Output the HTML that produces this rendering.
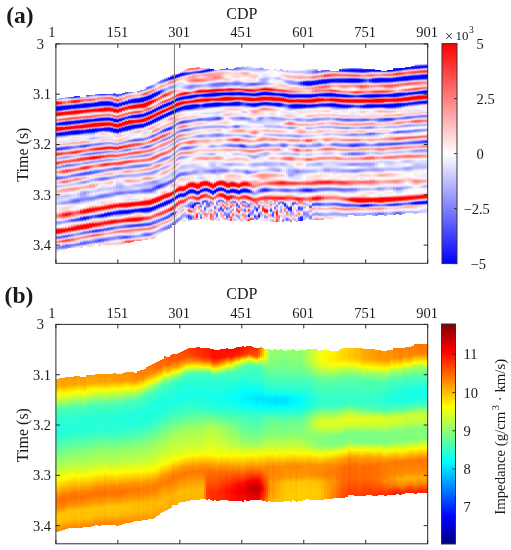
<!DOCTYPE html>
<html><head><meta charset="utf-8"><style>
html,body{margin:0;padding:0;background:#fff;width:511px;height:550px;overflow:hidden}
#da i,#db i{position:absolute;display:block}
</style></head><body>
<div id="da"><i style="left:56px;top:99px;width:3px;height:153px;background:linear-gradient(#8484ff 0px,#d8d8ff 1px,#ffacac 2px,#ff2626 3px,#f00 4px,#f00 5px,#ff8f8f 6px,#8080ff 7px,#00f 8px,#00f 11px,#6969ff 12px,#ff9696 13px,#f00 14px,#f00 16px,#ff5757 17px,#ffe6e6 18px,#fffbfb 19px,#ff6161 21px,#ff9191 22px,#e4e4ff 23px,#5050ff 24px,#00f 25px,#2121ff 26px,#c6c6ff 27px,#ff5252 28px,#f00 29px,#f00 31px,#ff3232 32px,#e1e1ff 33px,#2828ff 34px,#00f 35px,#00f 36px,#b3b3ff 38px,#fdfdff 40px,#fff1f1 41px,#f9f9ff 42px,#e0e0ff 43px,#f7f7ff 44px,#ffb3b3 46px,#ffcdcd 47px,#e1e1ff 48px,#6767ff 49px,#1616ff 50px,#44f 51px,#bbf 52px,#ffd2d2 53px,#ff5d5d 54px,#ff1414 55px,#ff3e3e 56px,#ffa9a9 57px,#efefff 58px,#a8a8ff 59px,#b5b5ff 60px,#f7f7ff 61px,#ffbdbd 62px,#ff6262 63px,#ff2c2c 64px,#ff5151 65px,#ffb4b4 66px,#d6d6ff 67px,#8585ff 68px,#8e8eff 69px,#ccf 70px,#fff6f6 71px,#ffb4b4 72px,#ff8787 73px,#ffa2a2 74px,#ffe5e5 75px,#e7e7ff 76px,#5d5dff 79px,#7070ff 80px,#fff6f6 82px,#ffc4c4 83px,#ffc0c0 84px,#ffe2e2 85px,#eaeaff 86px,#bbf 87px,#b7b7ff 88px,#e4e4ff 89px,#ffe9e9 90px,#ffb5b5 92px,#ffb4b4 93px,#ffecec 95px,#f2f2ff 96px,#c4c4ff 98px,#ceceff 100px,#e0e0ff 102px,#c0c0ff 104px,#c0c0ff 105px,#fbfbff 107px,#ffe5e5 109px,#fff5f5 112px,#fee 113px,#ffabab 115px,#ff7c7c 116px,#ff6d6d 117px,#fffcfc 121px,#a5a5ff 123px,#9292ff 124px,#f5f5ff 127px,#fff7f7 128px,#ffc5c5 129px,#ff4646 130px,#f00 131px,#f00 134px,#ff7e7e 135px,#ffe2e2 136px,#c2c2ff 137px,#6e6eff 138px,#6262ff 139px,#a4a4ff 140px,#fff 141px,#ffa3a3 142px,#ff8585 143px,#ffdede 145px,#fffbfb 146px,#8d8dff 148px,#7979ff 149px,#a4a4ff 150px,#e2e2ff 151px,#ffe7e7 152px)"></i>
<i style="left:59px;top:98px;width:3px;height:153px;background:linear-gradient(#88f 0px,#9b9bff 1px,#e7e7ff 2px,#ffb0b0 3px,#ff3939 4px,#ff0606 5px,#ff3a3a 6px,#ffe2e2 7px,#4343ff 8px,#00f 9px,#0101ff 12px,#c6c6ff 13px,#ff5c5c 14px,#f00 15px,#ff0505 17px,#ff9292 18px,#fdfdff 19px,#ffe6e6 20px,#ff8080 21px,#ff5959 22px,#ffc0c0 23px,#9797ff 24px,#0909ff 25px,#00f 26px,#2020ff 27px,#e6e6ff 28px,#ff2b2b 29px,#f00 30px,#f00 32px,#ff9494 33px,#9898ff 34px,#0202ff 35px,#0101ff 37px,#7272ff 38px,#c4c4ff 39px,#ebebff 40px,#fff7f7 41px,#fff1f1 42px,#dedeff 44px,#fff8f8 45px,#ffc5c5 46px,#ffbdbd 47px,#fee 48px,#b4b4ff 49px,#4949ff 50px,#2525ff 51px,#6f6fff 52px,#dcdcff 53px,#ffb8b8 54px,#ff4c4c 55px,#ff2727 56px,#ff6e6e 57px,#ffd9d9 58px,#c4c4ff 59px,#99f 60px,#fff0f0 62px,#ff5151 64px,#ff4848 65px,#ff9494 66px,#fffcfc 67px,#a8a8ff 68px,#8484ff 69px,#ababff 70px,#eaeaff 71px,#ffcfcf 72px,#ff8282 73px,#ff6464 74px,#ff9494 75px,#ffd7d7 76px,#fafaff 77px,#8282ff 79px,#6161ff 80px,#8a8aff 81px,#e4e4ff 82px,#ffc4c4 83px,#ff9797 84px,#ffa9a9 85px,#ffdede 86px,#e2e2ff 87px,#babaff 88px,#c9c9ff 89px,#fdfdff 90px,#ffb9b9 92px,#ffacac 93px,#ffd3d3 95px,#fff7f7 96px,#cbcbff 98px,#c6c6ff 100px,#e3e3ff 102px,#adadff 105px,#b6b6ff 106px,#fff 108px,#ffdbdb 110px,#ffe9e9 113px,#ffdede 114px,#ffb9b9 115px,#ff4c4c 117px,#ff4a4a 118px,#ffd8d8 121px,#fffdfd 122px,#9a9aff 124px,#99f 125px,#efefff 127px,#fbfbff 128px,#fff6f6 129px,#ffb9b9 130px,#ff2f2f 131px,#f00 132px,#f00 134px,#ff3535 135px,#ffadad 136px,#fefeff 137px,#a1a1ff 138px,#5a5aff 139px,#6e6eff 140px,#c7c7ff 141px,#ffcbcb 142px,#ff6f6f 143px,#f77 144px,#ffc2c2 145px,#fff6f6 146px,#dfdfff 147px,#7474ff 149px,#7a7aff 150px,#f6f6ff 152px)"></i>
<i style="left:62px;top:98px;width:3px;height:152px;background:linear-gradient(#9b9bff 0px,#bbf 1px,#f2f2ff 2px,#ffc3c3 3px,#ff6565 4px,#ff4646 5px,#ff9393 6px,#d5d5ff 7px,#2424ff 8px,#00f 9px,#00f 11px,#5050ff 12px,#ffeaea 13px,#ff3838 14px,#f00 15px,#f00 16px,#ff3c3c 17px,#ffc9c9 18px,#f4f4ff 19px,#ffc1c1 20px,#f55 21px,#ff6060 22px,#fdfdff 23px,#33f 24px,#00f 25px,#00f 26px,#2525ff 27px,#fffdfd 28px,#ff1818 29px,#f00 30px,#f00 31px,#ff2424 32px,#fff3f3 33px,#4d4dff 34px,#00f 35px,#00f 36px,#1919ff 37px,#8d8dff 38px,#d2d2ff 39px,#f5f5ff 40px,#fee 41px,#fff6f6 42px,#e3e3ff 43px,#e4e4ff 44px,#ffe5e5 45px,#fbb 46px,#ffcece 47px,#e8e8ff 48px,#3a3aff 50px,#4545ff 51px,#f6f6ff 53px,#ff4c4c 55px,#ff4d4d 56px,#f2f2ff 58px,#9a9aff 59px,#9696ff 60px,#dcdcff 61px,#ffd2d2 62px,#ff7878 63px,#ff4545 64px,#ff7a7a 65px,#fee 66px,#ababff 67px,#7878ff 68px,#9090ff 69px,#d1d1ff 70px,#ffeaea 71px,#ff4242 73px,#ff4949 74px,#ffcaca 76px,#fff6f6 77px,#c3c3ff 78px,#7c7cff 79px,#7474ff 80px,#b7b7ff 81px,#ffe0e0 82px,#ff8787 83px,#ff6a6a 84px,#ff9595 85px,#ffe0e0 86px,#d7d7ff 87px,#c1c1ff 88px,#e6e6ff 89px,#ffe1e1 90px,#ffb9b9 91px,#ffa5a5 92px,#ffa6a6 93px,#f8f8ff 96px,#bcbcff 98px,#d0d0ff 100px,#e6e6ff 102px,#a9a9ff 104px,#9a9aff 105px,#b0b0ff 106px,#dedeff 107px,#fff7f7 108px,#ffcfcf 110px,#ffd6d6 113px,#ffbebe 114px,#ff3a3a 116px,#ff1313 117px,#ff3030 118px,#ffadad 120px,#f3f3ff 122px,#b5b5ff 123px,#9696ff 124px,#b2b2ff 125px,#ebebff 126px,#fff6f6 127px,#ffefef 129px,#ffa6a6 130px,#ff2020 131px,#f00 132px,#f00 133px,#ff1f1f 134px,#ff8d8d 135px,#ffdede 136px,#ceceff 137px,#6d6dff 138px,#4e4eff 139px,#9393ff 140px,#fff9f9 141px,#ff7b7b 142px,#ff3c3c 143px,#ff7b7b 144px,#ffd8d8 145px,#e7e7ff 146px,#7171ff 148px,#5e5eff 149px,#8989ff 150px,#cdcdff 151px)"></i>
<i style="left:65px;top:97px;width:3px;height:152px;background:linear-gradient(#9f9fff 0px,#a1a1ff 1px,#d5d5ff 2px,#fff4f4 3px,#ff6e6e 5px,#ff7171 6px,#ffcdcd 7px,#a4a4ff 8px,#0c0cff 9px,#00f 11px,#0303ff 12px,#9d9dff 13px,#ffb3b3 14px,#ff1b1b 15px,#f00 16px,#ff0101 17px,#ffefef 19px,#fffefe 20px,#ff3b3b 22px,#ff8181 23px,#b7b7ff 24px,#00f 25px,#00f 27px,#55f 28px,#ffc8c8 29px,#ff0202 30px,#f00 32px,#ff7c7c 33px,#bbf 34px,#0d0dff 35px,#00f 37px,#4141ff 38px,#aaf 39px,#e0e0ff 40px,#fffefe 41px,#ffebeb 42px,#fdfdff 43px,#dcdcff 44px,#f0f0ff 45px,#ffb6b6 47px,#ffdfdf 48px,#ccf 49px,#6e6eff 50px,#3d3dff 51px,#6868ff 52px,#bebeff 53px,#fff0f0 54px,#ff9191 55px,#ff5252 56px,#ff7070 57px,#ffcbcb 58px,#ccf 59px,#8a8aff 60px,#acacff 61px,#fcfcff 62px,#ff5454 64px,#ff4747 65px,#ffa7a7 66px,#d6d6ff 67px,#7a7aff 68px,#6a6aff 69px,#f0f0ff 71px,#ffc3c3 72px,#ff5e5e 73px,#ff2929 74px,#ff5d5d 75px,#ffa9a9 76px,#ffd9d9 77px,#f3f3ff 78px,#a8a8ff 79px,#7979ff 80px,#9595ff 81px,#e4e4ff 82px,#ffb9b9 83px,#ff7171 84px,#ff6c6c 85px,#ffa5a5 86px,#fff6f6 87px,#cacaff 88px,#cdcdff 89px,#fff 90px,#ffa9a9 92px,#ff9c9c 93px,#ffabab 94px,#fee 96px,#e9e9ff 97px,#c6c6ff 98px,#b8b8ff 99px,#e6e6ff 102px,#dfdfff 103px,#9b9bff 105px,#9696ff 106px,#e8e8ff 108px,#ffeded 109px,#ffcdcd 111px,#ffd3d3 113px,#ffc8c8 114px,#ff9898 115px,#ff0707 117px,#ff0404 118px,#ffbdbd 121px,#fff1f1 122px,#9191ff 124px,#9595ff 125px,#fff8f8 127px,#ffe7e7 128px,#fee 129px,#ffd9d9 130px,#ff8383 131px,#ff0c0c 132px,#f00 133px,#ff0a0a 134px,#ffc2c2 136px,#f5f5ff 137px,#9696ff 138px,#4b4bff 139px,#6565ff 140px,#c9c9ff 141px,#ffb7b7 142px,#f44 143px,#ff4242 144px,#ffecec 146px,#cdcdff 147px,#8585ff 148px,#5757ff 149px,#6868ff 150px,#a9a9ff 151px)"></i>
<i style="left:68px;top:97px;width:3px;height:151px;background:linear-gradient(#6767ff 0px,#8181ff 1px,#d7d7ff 2px,#ffcdcd 3px,#ff7676 4px,#ff4141 5px,#ff7070 6px,#fee 7px,#7575ff 8px,#00f 9px,#00f 11px,#2c2cff 12px,#d3d3ff 13px,#ff7e7e 14px,#f00 15px,#ff0a0a 17px,#ff8f8f 18px,#fffdfd 19px,#ffdfdf 20px,#ff6c6c 21px,#ff3939 22px,#ffb2b2 23px,#7c7cff 24px,#00f 25px,#00f 27px,#a6a6ff 28px,#ff7d7d 29px,#f00 30px,#ff0505 32px,#ffc9c9 33px,#6262ff 34px,#00f 35px,#00f 37px,#d1d1ff 39px,#fcfcff 40px,#ffebeb 41px,#ffeaea 42px,#f0f0ff 43px,#dbdbff 44px,#fff9f9 45px,#ffbcbc 46px,#ffb3b3 47px,#ffeaea 48px,#bcbcff 49px,#66f 50px,#5151ff 51px,#8a8aff 52px,#d8d8ff 53px,#ffd0d0 54px,#ff6767 55px,#ff3d3d 56px,#f77 57px,#ffdede 58px,#bbf 59px,#9a9aff 60px,#d7d7ff 61px,#ffdada 62px,#ff4141 64px,#ff5c5c 65px,#ffcece 66px,#b8b8ff 67px,#7070ff 68px,#7a7aff 69px,#fffafa 71px,#ff4646 73px,#ff3e3e 74px,#ffd2d2 76px,#fcfcff 77px,#8484ff 79px,#8a8aff 80px,#cdcdff 81px,#ffe3e3 82px,#ff9f9f 83px,#ff8585 84px,#ffa0a0 85px,#ffdcdc 86px,#e1e1ff 87px,#c2c2ff 88px,#ffeded 90px,#ff9d9d 92px,#ff9a9a 93px,#fffbfb 96px,#c6c6ff 98px,#d2d2ff 100px,#d5d5ff 102px,#8989ff 105px,#9595ff 106px,#efefff 108px,#ffd8d8 110px,#ffe1e1 113px,#ffc3c3 114px,#ff2a2a 116px,#ff0b0b 117px,#ff2d2d 118px,#ffdbdb 121px,#d6d6ff 122px,#8282ff 123px,#66f 124px,#99f 125px,#e6e6ff 126px,#ffe6e6 127px,#ffd3d3 129px,#ffa0a0 130px,#ff3232 131px,#f00 132px,#f00 133px,#ff3636 134px,#ff9f9f 135px,#ffe8e8 136px,#cacaff 137px,#7474ff 138px,#5c5cff 139px,#9e9eff 140px,#fffafa 141px,#ff8383 142px,#ff4040 143px,#ff6e6e 144px,#fff5f5 146px,#bfbfff 147px,#77f 148px,#6262ff 149px,#8f8fff 150px)"></i>
<i style="left:71px;top:97px;width:3px;height:151px;background:linear-gradient(#2727ff 0px,#5c5cff 1px,#dadaff 2px,#ff9b9b 3px,#ff2525 4px,#ff0a0a 5px,#ff6a6a 6px,#efefff 7px,#4747ff 8px,#00f 9px,#00f 11px,#6464ff 12px,#ffebeb 13px,#ff3838 14px,#f00 15px,#f00 16px,#ff1616 17px,#ffa9a9 18px,#fffbfb 19px,#ffb8b8 20px,#ff4a4a 21px,#ff4b4b 22px,#ffe9e9 23px,#4646ff 24px,#00f 25px,#00f 26px,#2525ff 27px,#f8f8ff 28px,#ff3030 29px,#f00 30px,#f00 31px,#ff3c3c 32px,#e1e1ff 33px,#0909ff 34px,#00f 37px,#8585ff 38px,#f5f5ff 39px,#ffdada 41px,#ffefef 42px,#e1e1ff 43px,#dfdfff 44px,#ffe3e3 45px,#ffaeae 46px,#ffb7b7 47px,#fff5f5 48px,#6e6eff 50px,#7575ff 51px,#f7f7ff 53px,#ffa0a0 54px,#f33 55px,#ff2929 56px,#ff7e7e 57px,#fff0f0 58px,#b6b6ff 59px,#bdbdff 60px,#fff6f6 61px,#ff6060 63px,#ff3f3f 64px,#ff8080 65px,#fff4f4 66px,#a7a7ff 67px,#7b7bff 68px,#9a9aff 69px,#d7d7ff 70px,#ffe4e4 71px,#ff8484 72px,#f44 73px,#ff6868 74px,#ffbaba 75px,#fff8f8 76px,#c9c9ff 77px,#8282ff 78px,#6d6dff 79px,#adadff 80px,#fff2f2 81px,#ffa8a8 82px,#ff8c8c 83px,#ffa8a8 84px,#ffe0e0 85px,#e8e8ff 86px,#c3c3ff 87px,#c7c7ff 88px,#ededff 89px,#ffdfdf 90px,#ffb0b0 91px,#ff9494 92px,#ff9e9e 93px,#ffe7e7 95px,#fbfbff 96px,#d2d2ff 98px,#dfdfff 100px,#d2d2ff 101px,#7373ff 104px,#7575ff 105px,#c3c3ff 107px,#f5f5ff 108px,#ffdede 110px,#fff5f5 112px,#fee 113px,#ffc0c0 114px,#ff3636 116px,#ff3c3c 117px,#ffbdbd 120px,#fff 121px,#9898ff 122px,#4646ff 123px,#5151ff 124px,#fbfbff 126px,#ffd8d8 127px,#ffc8c8 128px,#ffa4a4 129px,#ff4646 130px,#f00 131px,#f00 133px,#ffc7c7 135px,#f4f4ff 136px,#acacff 137px,#7a7aff 138px,#9191ff 139px,#dbdbff 140px,#ffc9c9 141px,#ff6f6f 142px,#ff6464 143px,#fdfdff 146px,#aeaeff 147px,#7373ff 148px,#8080ff 149px,#c0c0ff 150px)"></i>
<i style="left:74px;top:96px;width:3px;height:152px;background:linear-gradient(#3b3bff 0px,#1414ff 1px,#6a6aff 2px,#fcfcff 3px,#ff6868 4px,#f00 5px,#ff0303 6px,#ff8585 7px,#c4c4ff 8px,#1b1bff 9px,#00f 10px,#0404ff 12px,#a0a0ff 13px,#ffa5a5 14px,#ff0101 15px,#f00 17px,#ff3838 18px,#ffcdcd 19px,#fff2f2 20px,#ff3939 22px,#ff7272 23px,#d6d6ff 24px,#0f0fff 25px,#00f 27px,#7171ff 28px,#ffbaba 29px,#ff0101 30px,#f00 32px,#ff7f7f 33px,#9191ff 34px,#00f 35px,#00f 38px,#a3a3ff 39px,#fff8f8 40px,#ffdada 41px,#ffd9d9 42px,#fffcfc 43px,#d6d6ff 44px,#e9e9ff 45px,#ffd2d2 46px,#ffacac 47px,#ffc5c5 48px,#f5f5ff 49px,#9f9fff 50px,#7575ff 51px,#9696ff 52px,#d3d3ff 53px,#ffdcdc 54px,#ff6868 55px,#ff1616 56px,#ff3b3b 57px,#ffa1a1 58px,#eef 59px,#b7b7ff 60px,#e1e1ff 61px,#fcc 62px,#ff4040 64px,#ff4d4d 65px,#ffabab 66px,#e6e6ff 67px,#9a9aff 68px,#8e8eff 69px,#f3f3ff 71px,#ffbebe 72px,#ff6767 73px,#ff5757 74px,#ffdede 76px,#e6e6ff 77px,#5f5fff 79px,#7676ff 80px,#d7d7ff 81px,#ffc2c2 82px,#ff8383 83px,#ff8989 84px,#f6f6ff 86px,#c9c9ff 87px,#bdbdff 88px,#fff 90px,#ffa5a5 92px,#ff9494 93px,#fff4f4 96px,#dadaff 99px,#e3e3ff 101px,#c5c5ff 102px,#6b6bff 104px,#5d5dff 105px,#7474ff 106px,#fafaff 109px,#ffe8e8 110px,#fffafa 113px,#ffe9e9 114px,#ff6d6d 116px,#ff4e4e 117px,#ffdada 121px,#d4d4ff 122px,#6767ff 123px,#3232ff 124px,#6262ff 125px,#c1c1ff 126px,#fff2f2 127px,#ffaeae 129px,#ff6363 130px,#ff0101 131px,#f00 133px,#ff1a1a 134px,#ff9a9a 135px,#ffeaea 136px,#d7d7ff 137px,#9e9eff 138px,#9595ff 139px,#fff4f4 141px,#ffa6a6 142px,#ff7979 143px,#ffdede 146px,#dedeff 147px,#8f8fff 148px,#7272ff 149px,#a0a0ff 150px,#e7e7ff 151px)"></i>
<i style="left:77px;top:96px;width:3px;height:152px;background:linear-gradient(#2424ff 0px,#3535ff 1px,#a8a8ff 2px,#ffcdcd 3px,#ff4c4c 4px,#ff0808 5px,#ff3737 6px,#ffc6c6 7px,#9090ff 8px,#0101ff 9px,#00f 11px,#2121ff 12px,#cfcfff 13px,#ff6f6f 14px,#f00 15px,#f00 17px,#fffbfb 19px,#ffeaea 20px,#ff7979 21px,#ff3f3f 22px,#ffacac 23px,#8e8eff 24px,#00f 25px,#0101ff 27px,#b8b8ff 28px,#ff7575 29px,#f00 30px,#f00 32px,#ffabab 33px,#6565ff 34px,#00f 35px,#00f 37px,#2c2cff 38px,#bcbcff 39px,#fffefe 40px,#ffe4e4 41px,#ffe2e2 42px,#f8f8ff 43px,#dbdbff 44px,#fffdfd 45px,#ffbdbd 46px,#ffa9a9 47px,#ffd3d3 48px,#d7d7ff 49px,#7d7dff 50px,#6c6cff 51px,#f4f4ff 53px,#ffabab 54px,#ff4343 55px,#ff2e2e 56px,#ff7c7c 57px,#ffe6e6 58px,#bebeff 59px,#bebeff 60px,#fff2f2 61px,#ff4e4e 63px,#ff2e2e 64px,#ff6969 65px,#ffd2d2 66px,#ceceff 67px,#9d9dff 68px,#b0b0ff 69px,#e5e5ff 70px,#ffd9d9 71px,#ff8080 72px,#ff4a4a 73px,#f77 74px,#ffc9c9 75px,#fafaff 76px,#6f6fff 78px,#5252ff 79px,#9090ff 80px,#f8f8ff 81px,#ffacac 82px,#ff8585 83px,#ffa8a8 84px,#ffefef 85px,#b1b1ff 87px,#bebeff 88px,#e7e7ff 89px,#fff1f1 90px,#ffa6a6 92px,#ffa6a6 93px,#fff4f4 95px,#c7c7ff 98px,#d0d0ff 101px,#6868ff 104px,#6c6cff 105px,#fdfdff 109px,#fff4f4 111px,#ffefef 113px,#ffc8c8 114px,#ff4343 116px,#ff4242 117px,#ffb5b5 119px,#ffe0e0 120px,#e7e7ff 121px,#3535ff 123px,#3232ff 124px,#d6d6ff 126px,#fee 127px,#ffc6c6 128px,#ff8989 129px,#ff1616 130px,#f00 131px,#f00 133px,#ffd8d8 135px,#e5e5ff 136px,#acacff 137px,#8b8bff 138px,#a7a7ff 139px,#e7e7ff 140px,#fcc 141px,#ff8c8c 142px,#ff9797 143px,#ffcbcb 144px,#ffeded 145px,#e7e7ff 146px,#6c6cff 148px,#7878ff 149px,#bebeff 150px,#fff2f2 151px)"></i>
<i style="left:80px;top:97px;width:3px;height:151px;background:linear-gradient(#6c6cff 0px,#eaeaff 1px,#ffa3a3 2px,#ff4e4e 3px,#ff4141 4px,#ff9292 5px,#e7e7ff 6px,#5353ff 7px,#00f 8px,#00f 10px,#3e3eff 11px,#f3f3ff 12px,#ff5252 13px,#f00 14px,#f00 15px,#ff2d2d 16px,#ffc5c5 17px,#e4e4ff 18px,#ffd9d9 19px,#ff5f5f 20px,#ff5252 21px,#ffeded 22px,#4646ff 23px,#00f 24px,#00f 25px,#3030ff 26px,#fffbfb 27px,#ff2a2a 28px,#f00 29px,#ff0202 31px,#ffc8c8 32px,#5757ff 33px,#00f 34px,#00f 36px,#7373ff 37px,#cfcfff 38px,#f7f7ff 39px,#ffecec 41px,#f5f5ff 42px,#efefff 43px,#ffdcdc 44px,#ffa6a6 45px,#ffa9a9 46px,#ffe7e7 47px,#a9a9ff 48px,#4d4dff 49px,#5d5dff 50px,#b6b6ff 51px,#ffecec 52px,#ff8585 53px,#ff4242 54px,#ff6767 55px,#ffc9c9 56px,#c9c9ff 57px,#8f8fff 58px,#ceceff 59px,#ffc7c7 60px,#ff6b6b 61px,#ff2727 62px,#ff3434 63px,#fffcfc 65px,#b1b1ff 66px,#a3a3ff 67px,#d7d7ff 68px,#ffe6e6 69px,#f33 71px,#ff3535 72px,#fff4f4 74px,#cfcfff 75px,#4949ff 77px,#5959ff 78px,#afafff 79px,#fee 80px,#ffa9a9 81px,#ffa2a2 82px,#ffd7d7 83px,#dedeff 84px,#a4a4ff 85px,#9a9aff 86px,#f5f5ff 88px,#ffbdbd 90px,#ffacac 91px,#ffbfbf 92px,#ffebeb 93px,#e1e1ff 94px,#b8b8ff 95px,#a4a4ff 97px,#b5b5ff 100px,#8585ff 102px,#7a7aff 103px,#b1b1ff 105px,#fff 108px,#fff9f9 111px,#ffcece 112px,#ff2323 114px,#ff0505 115px,#ff2121 116px,#fcc 118px,#eaeaff 119px,#3535ff 121px,#0d0dff 122px,#4040ff 123px,#e2e2ff 125px,#ffebeb 126px,#ffb4b4 127px,#ff4747 128px,#f00 129px,#ff0505 132px,#ffa8a8 133px,#eef 134px,#7b7bff 136px,#8080ff 137px,#fff2f2 139px,#ff9e9e 140px,#ff8181 141px,#fffefe 143px,#a2a2ff 145px,#6969ff 146px,#5b5bff 147px,#8b8bff 148px,#dbdbff 149px,#ffcfcf 150px)"></i>
<i style="left:83px;top:97px;width:3px;height:150px;background:linear-gradient(#9a9aff 0px,#ffecec 1px,#ff8f8f 2px,#ff5b5b 3px,#ff7676 4px,#ffd9d9 5px,#a2a2ff 6px,#1313ff 7px,#00f 8px,#00f 10px,#66f 11px,#ffe3e3 12px,#ff3c3c 13px,#f00 14px,#ff0303 15px,#ff7373 16px,#fffafa 17px,#e4e4ff 18px,#ffb3b3 19px,#ff4343 20px,#ff6f6f 21px,#d3d3ff 22px,#0b0bff 23px,#00f 25px,#7b7bff 26px,#ffa9a9 27px,#f00 28px,#f00 30px,#ff2e2e 31px,#fff7f7 32px,#4040ff 33px,#00f 34px,#00f 35px,#2b2bff 36px,#a2a2ff 37px,#dcdcff 38px,#fafaff 39px,#ffeded 40px,#f0f0ff 42px,#fffefe 43px,#ffc4c4 44px,#ff9d9d 45px,#ffb6b6 46px,#f4f4ff 47px,#7676ff 48px,#3030ff 49px,#6868ff 50px,#d0d0ff 51px,#ffcece 52px,#ff7272 53px,#ff5b5b 54px,#ffa1a1 55px,#f5f5ff 56px,#8b8bff 57px,#8080ff 58px,#ececff 59px,#ffa0a0 60px,#ff4242 61px,#ff1818 62px,#ff5353 63px,#ffc6c6 64px,#cbcbff 65px,#8d8dff 66px,#acacff 67px,#f9f9ff 68px,#ffb4b4 69px,#ff4949 70px,#ff0707 71px,#ff4949 72px,#ffc2c2 73px,#e9e9ff 74px,#5b5bff 76px,#3e3eff 77px,#7878ff 78px,#d5d5ff 79px,#ffd8d8 80px,#ffafaf 81px,#ffc2c2 82px,#fefeff 83px,#b8b8ff 84px,#8a8aff 85px,#9b9bff 86px,#d5d5ff 87px,#fff3f3 88px,#ffafaf 90px,#ffb3b3 91px,#fbfbff 93px,#9e9eff 95px,#9595ff 96px,#b1b1ff 99px,#8383ff 102px,#8d8dff 103px,#fbfbff 107px,#fdfdff 110px,#ffe3e3 111px,#ff8f8f 112px,#ff1b1b 113px,#f00 114px,#f00 115px,#ff2424 116px,#ffe7e7 118px,#b9b9ff 119px,#4b4bff 120px,#0303ff 121px,#0d0dff 122px,#b9b9ff 124px,#f2f2ff 125px,#ffd9d9 126px,#ff8282 127px,#ff0303 128px,#f00 131px,#ff3f3f 132px,#ffdcdc 133px,#c2c2ff 134px,#7c7cff 135px,#6060ff 136px,#9191ff 137px,#e5e5ff 138px,#ffbdbd 139px,#f77 140px,#ff9393 141px,#ffe3e3 142px,#e5e5ff 143px,#7979ff 145px,#5252ff 146px,#6b6bff 147px,#fafaff 149px)"></i>
<i style="left:86px;top:95px;width:3px;height:152px;background:linear-gradient(#4545ff 0px,#5959ff 1px,#bcbcff 2px,#ffd6d6 3px,#ff7e7e 4px,#ff5151 5px,#ff7a7a 6px,#ffeaea 7px,#8585ff 8px,#00f 9px,#0606ff 12px,#a4a4ff 13px,#ffa9a9 14px,#ff1414 15px,#f00 16px,#ff1b1b 17px,#ffa1a1 18px,#e6e6ff 19px,#f6f6ff 20px,#ff8b8b 21px,#ff3636 22px,#ff9393 23px,#a3a3ff 24px,#00f 25px,#0a0aff 27px,#d7d7ff 28px,#ff4f4f 29px,#f00 30px,#f00 32px,#ff7f7f 33px,#b5b5ff 34px,#0909ff 35px,#00f 37px,#b2b2ff 39px,#f6f6ff 41px,#fffbfb 42px,#d7d7ff 44px,#f8f8ff 45px,#ffc9c9 46px,#ffabab 47px,#ffcfcf 48px,#ceceff 49px,#5d5dff 50px,#4a4aff 51px,#fffbfb 53px,#ffa4a4 54px,#ff6161 55px,#ff7676 56px,#ffd3d3 57px,#bcbcff 58px,#6565ff 59px,#9393ff 60px,#ffeaea 61px,#ff7575 62px,#ff1b1b 63px,#ff1818 64px,#ff7b7b 65px,#fffafa 66px,#9e9eff 67px,#8787ff 68px,#cbcbff 69px,#ffe0e0 70px,#ff2828 72px,#ff2525 73px,#fff1f1 75px,#ccf 76px,#4040ff 78px,#4f4fff 79px,#f3f3ff 81px,#ffd3d3 82px,#ffcbcb 83px,#fff2f2 84px,#d8d8ff 85px,#a8a8ff 86px,#9d9dff 87px,#fff 89px,#ffacac 91px,#ffa2a2 92px,#ffe4e4 94px,#f0f0ff 95px,#a9a9ff 97px,#cbcbff 100px,#c4c4ff 101px,#8484ff 103px,#7b7bff 104px,#f1f1ff 108px,#fff0f0 110px,#ffe6e6 112px,#ffafaf 113px,#ff3e3e 114px,#f00 115px,#f00 117px,#ffbdbd 119px,#f4f4ff 120px,#2727ff 122px,#0909ff 123px,#4a4aff 124px,#ababff 125px,#ebebff 126px,#ffeded 127px,#ffb3b3 128px,#ff3c3c 129px,#f00 130px,#ff0606 133px,#ff9090 134px,#f7f7ff 135px,#9e9eff 136px,#5f5fff 137px,#6e6eff 138px,#c4c4ff 139px,#ffdada 140px,#ff8484 141px,#ff7676 142px,#ffc3c3 143px,#fafaff 144px,#a7a7ff 146px,#6c6cff 147px,#6161ff 148px,#d9d9ff 150px,#ffe2e2 151px)"></i>
<i style="left:89px;top:95px;width:3px;height:152px;background:linear-gradient(#6262ff 0px,#8585ff 1px,#ddf 2px,#ffc8c8 3px,#ff7474 4px,#ff4c4c 5px,#ff7979 6px,#fff0f0 7px,#7171ff 8px,#00f 9px,#00f 11px,#3f3fff 12px,#e8e8ff 13px,#ff6b6b 14px,#f00 15px,#f00 16px,#ff3939 17px,#ffcbcb 18px,#d3d3ff 19px,#ffefef 20px,#ff6b6b 21px,#ff3f3f 22px,#ffbfbf 23px,#7a7aff 24px,#00f 25px,#00f 26px,#5959ff 27px,#ffc2c2 28px,#ff0505 29px,#ff0303 32px,#ffd8d8 33px,#5454ff 34px,#00f 35px,#00f 37px,#6868ff 38px,#b6b6ff 39px,#ebebff 41px,#e9e9ff 42px,#c3c3ff 43px,#babaff 44px,#e7e7ff 45px,#fdd 46px,#ffc8c8 47px,#ffeded 48px,#6262ff 50px,#8484ff 51px,#e8e8ff 52px,#ffbcbc 53px,#ff6868 54px,#ff4848 55px,#ff8c8c 56px,#fff 57px,#8a8aff 58px,#5d5dff 59px,#b9b9ff 60px,#ffbdbd 61px,#ff3b3b 62px,#f00 63px,#ff1919 64px,#ffa0a0 65px,#d7d7ff 66px,#88f 67px,#a0a0ff 68px,#f3f3ff 69px,#ffbfbf 70px,#ff7373 71px,#ff4a4a 72px,#ff8383 73px,#ffdede 74px,#e4e4ff 75px,#6262ff 77px,#4343ff 78px,#77f 79px,#c9c9ff 80px,#fff2f2 81px,#ffdada 82px,#fff5f5 83px,#b7b7ff 85px,#afafff 86px,#cbcbff 87px,#fbfbff 88px,#ffacac 90px,#ff9696 91px,#ffa4a4 92px,#fff2f2 94px,#e8e8ff 95px,#cbcbff 96px,#c2c2ff 97px,#eaeaff 100px,#d5d5ff 101px,#7d7dff 103px,#7979ff 104px,#e3e3ff 107px,#fff8f8 109px,#ffdada 111px,#ffbdbd 112px,#ff6f6f 113px,#ff0404 114px,#f00 116px,#ff3737 117px,#ffa4a4 118px,#fee 119px,#ccf 120px,#7070ff 121px,#2e2eff 122px,#4848ff 123px,#f3f3ff 125px,#ffc9c9 127px,#ff8a8a 128px,#ff0909 129px,#ff0101 132px,#fdd 134px,#c9c9ff 135px,#6e6eff 136px,#4848ff 137px,#8c8cff 138px,#fff 139px,#ff9494 140px,#ff5d5d 141px,#ff9797 142px,#fff6f6 143px,#c5c5ff 145px,#6c6cff 147px,#8080ff 148px,#fffbfb 150px,#ffc1c1 151px)"></i>
<i style="left:92px;top:95px;width:3px;height:151px;background:linear-gradient(#7979ff 0px,#ababff 1px,#f9f9ff 2px,#ff7878 4px,#ff6565 5px,#ff9f9f 6px,#e4e4ff 7px,#44f 8px,#00f 9px,#00f 11px,#7b7bff 12px,#ffdcdc 13px,#ff3a3a 14px,#f00 15px,#f00 16px,#ff6060 17px,#fff7f7 18px,#d1d1ff 19px,#ffcaca 20px,#ff5353 21px,#ff6161 22px,#fffdfd 23px,#44f 24px,#00f 25px,#00f 26px,#a8a8ff 27px,#ff6969 28px,#f00 29px,#f00 31px,#ff3535 32px,#dbdbff 33px,#0a0aff 34px,#00f 36px,#0909ff 37px,#8585ff 38px,#c4c4ff 39px,#eaeaff 41px,#d6d6ff 42px,#aeaeff 43px,#b8b8ff 44px,#ececff 45px,#ffe8e8 46px,#ffe1e1 47px,#f1f1ff 48px,#9797ff 49px,#7373ff 50px,#b7b7ff 51px,#ffe4e4 52px,#ff2d2d 54px,#ff3b3b 55px,#ffa9a9 56px,#d4d4ff 57px,#6d6dff 58px,#7575ff 59px,#e7e7ff 60px,#ff8a8a 61px,#ff0505 62px,#f00 63px,#ff2f2f 64px,#ffcece 65px,#afafff 66px,#8787ff 67px,#c4c4ff 68px,#ffebeb 69px,#ff7a7a 71px,#ff8989 72px,#ffd3d3 73px,#f1f1ff 74px,#c8c8ff 75px,#55f 77px,#6161ff 78px,#f2f2ff 80px,#ffdcdc 81px,#ffe2e2 82px,#e9e9ff 83px,#b5b5ff 84px,#a3a3ff 85px,#bcbcff 86px,#ededff 87px,#ffe6e6 88px,#ffa2a2 90px,#ff9d9d 91px,#fafaff 94px,#cacaff 96px,#f2f2ff 99px,#e9e9ff 100px,#7b7bff 103px,#8686ff 104px,#d5d5ff 106px,#fafaff 108px,#ffebeb 110px,#ffcfcf 111px,#ff9a9a 112px,#ff3838 113px,#f00 114px,#ff1010 116px,#ff7e7e 117px,#ffd1d1 118px,#ededff 119px,#5454ff 121px,#4545ff 122px,#8989ff 123px,#e1e1ff 124px,#ffe8e8 125px,#ffb4b4 127px,#ff6e6e 128px,#f00 129px,#f00 131px,#ff5454 132px,#ffc1c1 133px,#ebebff 134px,#3434ff 136px,#3e3eff 137px,#b1b1ff 138px,#ffc8c8 139px,#ff5d5d 140px,#ff5a5a 141px,#ffc3c3 142px,#e7e7ff 143px,#77f 146px,#6b6bff 147px,#9f9fff 148px,#e6e6ff 149px,#ffdcdc 150px)"></i>
<i style="left:95px;top:94px;width:3px;height:151px;background:linear-gradient(#7070ff 0px,#7474ff 1px,#bdbdff 2px,#ffeded 3px,#ffa7a7 4px,#ff8181 5px,#f99 6px,#ffefef 7px,#8c8cff 8px,#0606ff 9px,#00f 11px,#0d0dff 12px,#ababff 13px,#ffb0b0 14px,#ff1a1a 15px,#f00 16px,#f00 17px,#ff7676 18px,#f7f7ff 19px,#f0f0ff 20px,#ff4a4a 22px,#ff9d9d 23px,#a9a9ff 24px,#0505ff 25px,#0404ff 27px,#e0e0ff 28px,#ff2727 29px,#f00 30px,#f00 32px,#ff7070 33px,#acacff 34px,#00f 35px,#00f 37px,#5757ff 38px,#c7c7ff 39px,#f1f1ff 40px,#f3f3ff 42px,#b5b5ff 44px,#fff1f1 46px,#ffe0e0 47px,#fff6f6 48px,#c9c9ff 49px,#7b7bff 50px,#7f7fff 51px,#d3d3ff 52px,#ffc7c7 53px,#f55 54px,#ff0a0a 55px,#ff4545 56px,#ffcaca 57px,#adadff 58px,#6161ff 59px,#9696ff 60px,#fff1f1 61px,#ff5f5f 62px,#f00 63px,#f00 64px,#ff6c6c 65px,#f8f8ff 66px,#9191ff 67px,#99f 68px,#eaeaff 69px,#ffcdcd 70px,#ff9292 71px,#ff7b7b 72px,#ffabab 73px,#fee 74px,#e5e5ff 75px,#7272ff 77px,#5c5cff 78px,#8e8eff 79px,#d8d8ff 80px,#ffe5e5 81px,#ffcfcf 82px,#fff5f5 83px,#9595ff 85px,#9191ff 86px,#f6f6ff 88px,#ffbcbc 91px,#ffe2e2 93px,#fdfdff 94px,#c8c8ff 96px,#c5c5ff 97px,#ebebff 99px,#e8e8ff 100px,#7e7eff 103px,#8080ff 104px,#eef 107px,#fff1f1 109px,#fee 111px,#ffcdcd 112px,#ff7f7f 113px,#ff0f0f 114px,#ff0101 116px,#faa 118px,#ffe0e0 119px,#d6d6ff 120px,#6e6eff 121px,#2626ff 122px,#4040ff 123px,#f0f0ff 125px,#ffcdcd 127px,#ffa6a6 128px,#ff0101 130px,#f00 131px,#ff3131 132px,#ff9595 133px,#ffe5e5 134px,#c4c4ff 135px,#5656ff 136px,#1b1bff 137px,#5d5dff 138px,#e2e2ff 139px,#ff9797 140px,#ff4848 141px,#ff7e7e 142px,#ffeaea 143px,#d5d5ff 144px,#5454ff 147px,#6c6cff 148px,#fafaff 150px)"></i>
<i style="left:98px;top:94px;width:3px;height:152px;background:linear-gradient(#3838ff 0px,#5a5aff 1px,#c1c1ff 2px,#ffd6d6 3px,#ff8e8e 4px,#ff8686 5px,#ffcaca 6px,#b9b9ff 7px,#2727ff 8px,#00f 9px,#00f 11px,#3636ff 12px,#ddf 13px,#ff7d7d 14px,#ff0101 15px,#f00 17px,#fffbfb 19px,#ffdede 20px,#ff7878 21px,#ff5b5b 22px,#ffe6e6 23px,#5353ff 24px,#00f 25px,#00f 26px,#2626ff 27px,#ffebeb 28px,#ff0202 29px,#f00 32px,#ffb2b2 33px,#8585ff 34px,#00f 35px,#00f 36px,#2121ff 37px,#b2b2ff 38px,#fff2f2 39px,#ffdbdb 40px,#ffe4e4 41px,#fcfcff 42px,#cfcfff 43px,#ccf 44px,#fff9f9 45px,#ffcbcb 46px,#ffd6d6 47px,#f4f4ff 48px,#a4a4ff 49px,#6d6dff 50px,#9393ff 51px,#ececff 52px,#ffabab 53px,#ff2f2f 54px,#ff0404 55px,#ff6363 56px,#fee 57px,#8e8eff 58px,#6a6aff 59px,#b8b8ff 60px,#ffd1d1 61px,#ff4646 62px,#f00 63px,#ff3030 64px,#fbb 65px,#c1c1ff 66px,#8686ff 67px,#b9b9ff 68px,#ffefef 69px,#ff5f5f 71px,#ff6161 72px,#fff0f0 74px,#dfdfff 75px,#6767ff 77px,#7a7aff 78px,#fff9f9 80px,#ffc9c9 81px,#ffd3d3 82px,#ebebff 83px,#a0a0ff 84px,#7171ff 85px,#8080ff 86px,#f7f7ff 88px,#fdd 90px,#fff8f8 92px,#bfbfff 96px,#ededff 99px,#d5d5ff 100px,#7373ff 102px,#6d6dff 103px,#e5e5ff 106px,#fff6f6 107px,#ffdede 108px,#ffe9e9 111px,#ffbfbf 112px,#f00 114px,#f00 115px,#ff3232 116px,#ff9696 117px,#fff1f1 119px,#aeaeff 120px,#2e2eff 121px,#0101ff 122px,#3131ff 123px,#9d9dff 124px,#ebebff 125px,#ffe7e7 126px,#ffc6c6 127px,#ff8c8c 128px,#ff3838 129px,#ff0202 130px,#ff1919 131px,#fffafa 134px,#3939ff 136px,#3535ff 137px,#9a9aff 138px,#ffe9e9 139px,#ff7b7b 140px,#ff6464 141px,#ffb7b7 142px,#f7f7ff 143px,#55f 146px,#4a4aff 147px,#7d7dff 148px,#c8c8ff 149px,#fff3f3 150px,#ffbfbf 151px)"></i>
<i style="left:101px;top:94px;width:3px;height:151px;background:linear-gradient(#0f0fff 0px,#5151ff 1px,#ceceff 2px,#ffbebe 3px,#ff7474 4px,#ff7f7f 5px,#ffe1e1 6px,#8686ff 7px,#00f 8px,#00f 11px,#5f5fff 12px,#ffe6e6 13px,#ff3535 14px,#f00 15px,#ff0101 17px,#ff9595 18px,#fee 19px,#fbb 20px,#ff6c6c 21px,#ff8080 22px,#e0e0ff 23px,#2727ff 24px,#00f 25px,#00f 26px,#6262ff 27px,#ffb7b7 28px,#f00 29px,#f00 31px,#ff2424 32px,#fffdfd 33px,#4949ff 34px,#00f 35px,#00f 36px,#5353ff 37px,#ddf 38px,#ffd8d8 39px,#ffc7c7 40px,#ffd4d4 41px,#fcfcff 42px,#cfcfff 43px,#e1e1ff 44px,#ffdede 45px,#ffbebe 46px,#ffdcdc 47px,#e1e1ff 48px,#9595ff 49px,#7e7eff 50px,#fff0f0 52px,#ff0a0a 54px,#ff1414 55px,#ff8f8f 56px,#e6e6ff 57px,#7b7bff 58px,#8686ff 59px,#dedeff 60px,#ffb0b0 61px,#ff3939 62px,#ff1c1c 63px,#ff7a7a 64px,#fffbfb 65px,#9c9cff 66px,#9292ff 67px,#dcdcff 68px,#ffc9c9 69px,#ff6565 70px,#ff2323 71px,#ff5454 72px,#ffbaba 73px,#fffcfc 74px,#8a8aff 76px,#7474ff 77px,#a7a7ff 78px,#ededff 79px,#ffd7d7 80px,#ffbfbf 81px,#ffe4e4 82px,#cbcbff 83px,#7c7cff 84px,#5959ff 85px,#8282ff 86px,#cdcdff 87px,#fffcfc 88px,#ffe4e4 89px,#ffe1e1 90px,#fff5f5 91px,#c8c8ff 95px,#c8c8ff 96px,#eef 98px,#ebebff 99px,#8484ff 101px,#6262ff 102px,#7474ff 103px,#d6d6ff 105px,#f7f7ff 106px,#ffd7d7 108px,#ffe0e0 110px,#ffd6d6 111px,#ff9494 112px,#ff2121 113px,#f00 114px,#ff0505 115px,#ff7373 116px,#ffcaca 117px,#fee 118px,#d8d8ff 119px,#6161ff 120px,#0101ff 121px,#00f 122px,#4a4aff 123px,#b0b0ff 124px,#f2f2ff 125px,#ffdfdf 126px,#ffadad 127px,#ff1919 129px,#f11 130px,#ffd5d5 133px,#e1e1ff 134px,#7878ff 135px,#3a3aff 136px,#6a6aff 137px,#d4d4ff 138px,#ffc3c3 139px,#ff8080 140px,#ff9b9b 141px,#ffe4e4 142px,#e4e4ff 143px,#7878ff 145px,#5151ff 146px,#6565ff 147px,#e6e6ff 149px,#ffd9d9 150px)"></i>
<i style="left:104px;top:94px;width:3px;height:151px;background:linear-gradient(#0a0aff 0px,#5f5fff 1px,#e1e1ff 2px,#ffabab 3px,#f66 4px,#f77 5px,#ffe1e1 6px,#7e7eff 7px,#00f 8px,#00f 11px,#7b7bff 12px,#ffb7b7 13px,#ff0404 14px,#f00 16px,#ff1313 17px,#ffb2b2 18px,#fff1f1 19px,#ff6c6c 21px,#ff9696 22px,#d0d0ff 23px,#2d2dff 24px,#00f 25px,#00f 26px,#9090ff 27px,#ff9b9b 28px,#f00 29px,#f00 31px,#ff5d5d 32px,#cbcbff 33px,#1010ff 34px,#00f 36px,#4c4cff 37px,#d1d1ff 38px,#ffecec 39px,#ffd6d6 40px,#ffd8d8 41px,#fbfbff 42px,#d4d4ff 43px,#ededff 44px,#ffd6d6 45px,#ffc4c4 46px,#ffebeb 47px,#d4d4ff 48px,#9696ff 49px,#9797ff 50px,#d8d8ff 51px,#ffd0d0 52px,#ff5454 53px,#f00 54px,#ff3434 55px,#ffc0c0 56px,#bbf 57px,#7878ff 58px,#ababff 59px,#fff9f9 60px,#ff3636 62px,#ff4848 63px,#ffb3b3 64px,#d3d3ff 65px,#8b8bff 66px,#a8a8ff 67px,#f9f9ff 68px,#ffa3a3 69px,#ff3030 70px,#ff1313 71px,#ffd8d8 73px,#ebebff 74px,#8080ff 76px,#9090ff 77px,#d3d3ff 78px,#ffe7e7 79px,#ffbaba 80px,#ffbdbd 81px,#fff5f5 82px,#6e6eff 84px,#6565ff 85px,#ebebff 87px,#ffe5e5 88px,#ffd1d1 89px,#ffd5d5 90px,#fff0f0 91px,#f2f2ff 92px,#c9c9ff 95px,#eef 98px,#dcdcff 99px,#7575ff 101px,#6868ff 102px,#ebebff 105px,#fff9f9 106px,#fdd 108px,#ffdada 110px,#ffb2b2 111px,#f00 113px,#f00 114px,#ff2929 115px,#ff9e9e 116px,#ffebeb 117px,#d9d9ff 118px,#0a0aff 120px,#00f 121px,#1717ff 122px,#8282ff 123px,#d1d1ff 124px,#fffcfc 125px,#ffcbcb 126px,#ff2f2f 128px,#ff0202 129px,#ff2828 130px,#ffc8c8 132px,#fefeff 133px,#5353ff 135px,#4c4cff 136px,#9a9aff 137px,#fafaff 138px,#ffb2b2 139px,#ff9b9b 140px,#fffcfc 142px,#a1a1ff 144px,#6e6eff 145px,#6565ff 146px,#fff8f8 149px,#ffc3c3 150px)"></i>
<i style="left:107px;top:94px;width:3px;height:151px;background:linear-gradient(#2424ff 0px,#8080ff 1px,#fafaff 2px,#ff9b9b 3px,#ff5e5e 4px,#f77 5px,#ffe1e1 6px,#7e7eff 7px,#00f 8px,#00f 11px,#9d9dff 12px,#ff8e8e 13px,#f00 14px,#f00 16px,#ff3939 17px,#ffd7d7 18px,#fff8f8 19px,#ffa5a5 20px,#ff6565 21px,#ffa5a5 22px,#bfbfff 23px,#22f 24px,#00f 25px,#0202ff 26px,#afafff 27px,#ff7f7f 28px,#f00 29px,#f00 31px,#ff8787 32px,#9a9aff 33px,#00f 34px,#00f 36px,#3d3dff 37px,#bdbdff 38px,#f8f8ff 39px,#ffe1e1 41px,#f7f7ff 42px,#d7d7ff 43px,#f6f6ff 44px,#ffd4d4 45px,#ffd0d0 46px,#fffdfd 47px,#9393ff 49px,#aaf 50px,#f1f1ff 51px,#ffb0b0 52px,#ff3232 53px,#ff0101 54px,#ff6363 55px,#fff2f2 56px,#99f 57px,#8686ff 58px,#d4d4ff 59px,#ffcfcf 60px,#ff6969 61px,#ff3636 62px,#ff7171 63px,#ffe3e3 64px,#b0b0ff 65px,#8e8eff 66px,#c5c5ff 67px,#ffeaea 68px,#f22 70px,#ff4040 71px,#ffacac 72px,#fff9f9 73px,#9090ff 75px,#7e7eff 76px,#b2b2ff 77px,#fafaff 78px,#ffc5c5 79px,#ffabab 80px,#ffc6c6 81px,#f7f7ff 82px,#a9a9ff 83px,#7878ff 84px,#8d8dff 85px,#ceceff 86px,#fff4f4 87px,#ffcece 88px,#ffbfbf 89px,#ffe7e7 91px,#fcfcff 92px,#cacaff 94px,#c4c4ff 95px,#e2e2ff 97px,#e2e2ff 98px,#c4c4ff 99px,#6f6fff 101px,#7a7aff 102px,#fdfdff 105px,#ffe6e6 108px,#ffe3e3 109px,#ffc8c8 110px,#ff7c7c 111px,#ff0f0f 112px,#f00 114px,#fbb 116px,#f6f6ff 117px,#9898ff 118px,#1818ff 119px,#00f 120px,#0101ff 121px,#bcbcff 123px,#efefff 124px,#ffe8e8 125px,#ffacac 126px,#ff0505 128px,#f00 129px,#ff4545 130px,#ffa5a5 131px,#ffecec 132px,#cdcdff 133px,#7373ff 134px,#3f3fff 135px,#6a6aff 136px,#c2c2ff 137px,#ffe1e1 138px,#ffa3a3 139px,#ffb2b2 140px,#ffe5e5 141px,#f3f3ff 142px,#8e8eff 144px,#6e6eff 145px,#8282ff 146px,#efefff 148px,#ffc0c0 150px)"></i>
<i style="left:110px;top:94px;width:3px;height:151px;background:linear-gradient(#2f2fff 0px,#6b6bff 1px,#dedeff 2px,#ffb3b3 3px,#ff6565 4px,#ff5d5d 5px,#faa 6px,#cacaff 7px,#2a2aff 8px,#00f 9px,#00f 11px,#5c5cff 12px,#ffd6d6 13px,#ff1c1c 14px,#f00 15px,#f11 17px,#faa 18px,#fbfbff 19px,#ffcaca 20px,#ff7070 21px,#ff7a7a 22px,#f9f9ff 23px,#4343ff 24px,#00f 25px,#00f 26px,#4d4dff 27px,#ffd4d4 28px,#f11 29px,#f00 31px,#ff3b3b 32px,#e4e4ff 33px,#1616ff 34px,#00f 35px,#0a0aff 37px,#8484ff 38px,#dcdcff 39px,#fffdfd 40px,#ffe8e8 41px,#fff9f9 42px,#dfdfff 43px,#ebebff 44px,#ffdede 45px,#fcc 46px,#fff1f1 47px,#d1d1ff 48px,#99f 49px,#a3a3ff 50px,#e9e9ff 51px,#ffb9b9 52px,#ff3c3c 53px,#ff0404 54px,#ff6767 55px,#fff4f4 56px,#9f9fff 57px,#9696ff 58px,#e4e4ff 59px,#ffc1c1 60px,#ff5c5c 61px,#ff3a3a 62px,#ff8686 63px,#fff8f8 64px,#aaf 65px,#a2a2ff 66px,#dedeff 67px,#ffd4d4 68px,#ff6c6c 69px,#f33 70px,#ff7575 71px,#ffd4d4 72px,#ebebff 73px,#7272ff 75px,#8787ff 76px,#d0d0ff 77px,#ffe8e8 78px,#ffb9b9 79px,#ffb9b9 80px,#ffe4e4 81px,#dbdbff 82px,#9d9dff 83px,#8c8cff 84px,#ececff 86px,#ffe3e3 87px,#ffc4c4 88px,#ffc0c0 89px,#fff0f0 91px,#f4f4ff 92px,#c4c4ff 94px,#dedeff 97px,#d2d2ff 98px,#8282ff 100px,#7878ff 101px,#ededff 104px,#fff7f7 105px,#ffdbdb 109px,#ffa5a5 110px,#ff3f3f 111px,#f00 112px,#f00 113px,#ff2323 114px,#ff8f8f 115px,#ffe0e0 116px,#cfcfff 117px,#00f 119px,#00f 120px,#3b3bff 121px,#a2a2ff 122px,#ddf 123px,#fff 124px,#ffd1d1 125px,#ff7d7d 126px,#ff1515 127px,#f00 128px,#ff0808 129px,#ffc8c8 131px,#f1f1ff 132px,#5151ff 134px,#5050ff 135px,#f7f7ff 137px,#ffaeae 138px,#ff9595 139px,#fff6f6 141px,#e4e4ff 142px,#8383ff 144px,#7d7dff 145px,#dadaff 147px,#fff5f5 148px,#ffd0d0 149px,#ffcece 150px)"></i>
<i style="left:113px;top:93px;width:3px;height:152px;background:linear-gradient(#a3a3ff 0px,#5454ff 1px,#3d3dff 2px,#8383ff 3px,#ececff 4px,#ffb2b2 5px,#f66 6px,#f55 7px,#ff9b9b 8px,#d9d9ff 9px,#3636ff 10px,#00f 11px,#00f 13px,#7e7eff 14px,#ffbebe 15px,#ff0f0f 16px,#f00 18px,#ff2020 19px,#ffc1c1 20px,#fbfbff 21px,#ffb5b5 22px,#ff5656 23px,#ff7474 24px,#e5e5ff 25px,#1d1dff 26px,#00f 27px,#00f 28px,#5e5eff 29px,#ffadad 30px,#ff0202 31px,#f00 33px,#f44 34px,#ccf 35px,#0808ff 36px,#00f 38px,#0e0eff 39px,#9595ff 40px,#e9e9ff 41px,#fee 42px,#ffd7d7 43px,#ffeded 44px,#eef 45px,#fff8f8 46px,#ffc7c7 47px,#ffc8c8 48px,#fffdfd 49px,#b6b6ff 50px,#8e8eff 51px,#c6c6ff 52px,#ffd8d8 53px,#ff5f5f 54px,#f00 55px,#ff3a3a 56px,#ffcdcd 57px,#bebeff 58px,#9b9bff 59px,#dbdbff 60px,#fcc 61px,#ff6565 62px,#ff3c3c 63px,#f88 64px,#fff9f9 65px,#b4b4ff 66px,#b8b8ff 67px,#f4f4ff 68px,#ffbfbf 69px,#ff5959 70px,#ff3b3b 71px,#ffe2e2 73px,#d2d2ff 74px,#7e7eff 75px,#6060ff 76px,#e7e7ff 78px,#fdd 79px,#ffcaca 80px,#ffe3e3 81px,#e9e9ff 82px,#b6b6ff 83px,#9a9aff 84px,#aeaeff 85px,#f5f5ff 87px,#ffe8e8 89px,#fdfdff 91px,#c2c2ff 94px,#c3c3ff 96px,#ceceff 98px,#8c8cff 100px,#7b7bff 101px,#9292ff 102px,#e6e6ff 104px,#fcfcff 105px,#ffeded 109px,#ffc9c9 110px,#f77 111px,#ff0b0b 112px,#ff0505 114px,#ffd1d1 116px,#e7e7ff 117px,#9595ff 118px,#2c2cff 119px,#00f 120px,#1a1aff 121px,#7b7bff 122px,#c3c3ff 123px,#fffdfd 125px,#ffc0c0 126px,#f00 128px,#f00 129px,#ff3b3b 130px,#ffa8a8 131px,#fff2f2 132px,#cdcdff 133px,#7e7eff 134px,#5656ff 135px,#8585ff 136px,#ddf 137px,#ffc0c0 138px,#ff7d7d 139px,#ff9f9f 140px,#ffe2e2 141px,#f5f5ff 142px,#9d9dff 144px,#8080ff 145px,#9393ff 146px,#efefff 148px,#ffe6e6 149px,#ffcbcb 150px,#ffd4d4 151px)"></i>
<i style="left:116px;top:94px;width:3px;height:152px;background:linear-gradient(#7676ff 0px,#3c3cff 1px,#5252ff 2px,#fff9f9 4px,#ff8f8f 5px,#ff3d3d 6px,#ff4848 7px,#fbb 8px,#9f9fff 9px,#0101ff 10px,#00f 12px,#3030ff 13px,#e2e2ff 14px,#ff5353 15px,#f00 16px,#f00 18px,#fff8f8 20px,#ffd9d9 21px,#ff6969 22px,#ff3f3f 23px,#ffb5b5 24px,#7878ff 25px,#00f 26px,#00f 27px,#1616ff 28px,#f7f7ff 29px,#ff2525 30px,#f00 31px,#f00 33px,#fbb 34px,#3f3fff 35px,#00f 36px,#00f 38px,#5c5cff 39px,#dadaff 40px,#ffe8e8 41px,#ffc3c3 42px,#ffc2c2 43px,#fff3f3 44px,#fffcfc 45px,#ffcaca 46px,#ffb7b7 47px,#ffe6e6 48px,#c8c8ff 49px,#8c8cff 50px,#bcbcff 51px,#ffd7d7 52px,#ff5f5f 53px,#ff0101 54px,#ff2525 55px,#ffbebe 56px,#c7c7ff 57px,#9c9cff 58px,#d9d9ff 59px,#ffcdcd 60px,#ff6767 61px,#ff4141 62px,#ff9292 63px,#fdfdff 64px,#b7b7ff 65px,#cacaff 66px,#fff4f4 67px,#ffa4a4 68px,#ff3e3e 69px,#ff3535 70px,#ffe3e3 72px,#bebeff 73px,#66f 74px,#6565ff 75px,#f2f2ff 77px,#fdd 78px,#ffdfdf 79px,#f5f5ff 80px,#9898ff 82px,#9d9dff 83px,#f2f2ff 85px,#ededff 87px,#aeaeff 93px,#c7c7ff 96px,#b8b8ff 97px,#6f6fff 99px,#7878ff 100px,#e2e2ff 102px,#fff 103px,#fffdfd 107px,#ffecec 108px,#ffb4b4 109px,#ff4e4e 110px,#f00 111px,#f00 112px,#ff2323 113px,#ffa2a2 114px,#fdfdff 115px,#b4b4ff 116px,#0404ff 118px,#00f 119px,#3131ff 120px,#9191ff 121px,#c7c7ff 122px,#fff 124px,#ffb9b9 125px,#ff4d4d 126px,#ff0101 127px,#ff1414 128px,#ffd8d8 130px,#e9e9ff 131px,#7575ff 133px,#7171ff 134px,#b7b7ff 135px,#ffeded 136px,#ff8e8e 137px,#ff6f6f 138px,#fff7f7 140px,#e5e5ff 141px,#8b8bff 143px,#7d7dff 144px,#fafaff 147px,#ffc5c5 149px,#ffdbdb 151px)"></i>
<i style="left:119px;top:94px;width:3px;height:151px;background:linear-gradient(#3c3cff 0px,#4a4aff 1px,#f2f2ff 3px,#f77 5px,#ff6565 6px,#ffa5a5 7px,#ccf 8px,#2727ff 9px,#00f 10px,#00f 11px,#3e3eff 12px,#dbdbff 13px,#ff7c7c 14px,#f00 15px,#ff0808 17px,#ff7070 18px,#fee 19px,#ffdfdf 20px,#ff7979 21px,#ff4848 22px,#ffa4a4 23px,#a5a5ff 24px,#0505ff 25px,#00f 26px,#2323ff 27px,#efefff 28px,#ff3434 29px,#f00 30px,#f00 32px,#ff8d8d 33px,#6b6bff 34px,#00f 35px,#00f 37px,#4747ff 38px,#ccf 39px,#fff3f3 40px,#ffcaca 41px,#ffbaba 42px,#ffe0e0 43px,#fff3f3 44px,#ffb5b5 46px,#ffd7d7 47px,#dadaff 48px,#8f8fff 49px,#9797ff 50px,#f9f9ff 51px,#ff1616 53px,#ff0a0a 54px,#ff8484 55px,#e7e7ff 56px,#9292ff 57px,#b2b2ff 58px,#fff6f6 59px,#f99 60px,#ff5050 61px,#ff6d6d 62px,#ffd2d2 63px,#cdcdff 64px,#b2b2ff 65px,#e9e9ff 66px,#ffd1d1 67px,#ff2424 69px,#ff4a4a 70px,#fff2f2 72px,#6a6aff 74px,#8686ff 75px,#cdcdff 76px,#fff2f2 77px,#fcc 78px,#ffdfdf 79px,#e7e7ff 80px,#acacff 81px,#8e8eff 82px,#a5a5ff 83px,#ddf 84px,#fffcfc 85px,#f4f4ff 87px,#c2c2ff 90px,#a9a9ff 93px,#c4c4ff 96px,#adadff 97px,#6565ff 99px,#7d7dff 100px,#f6f6ff 102px,#fff3f3 104px,#fefeff 107px,#ffe2e2 108px,#ff9292 109px,#ff1414 110px,#f00 111px,#f00 112px,#ff3434 113px,#fbb 114px,#e5e5ff 115px,#9090ff 116px,#2323ff 117px,#00f 118px,#00f 119px,#3f3fff 120px,#a0a0ff 121px,#ceceff 122px,#fff0f0 124px,#ff9e9e 125px,#ff3636 126px,#ff0404 127px,#ff3737 128px,#fff6f6 130px,#6c6cff 133px,#88f 134px,#dadaff 135px,#ffc9c9 136px,#ff7676 137px,#ff7b7b 138px,#ffcaca 139px,#fcfcff 140px,#d6d6ff 141px,#6767ff 143px,#6868ff 144px,#dadaff 146px,#fff1f1 147px,#ffcaca 148px,#ffbdbd 149px,#ffcbcb 150px)"></i>
<i style="left:122px;top:93px;width:3px;height:151px;background:linear-gradient(#3f3fff 0px,#4545ff 1px,#f9f9ff 3px,#fbb 4px,#ff9494 5px,#ff9a9a 6px,#ffcaca 7px,#d7d7ff 8px,#4949ff 9px,#00f 10px,#00f 11px,#3f3fff 12px,#ddf 13px,#f88 14px,#ff0d0d 15px,#f00 16px,#ff1919 17px,#fff5f5 19px,#ffe4e4 20px,#ff8181 21px,#ff5252 22px,#ffa7a7 23px,#bdbdff 24px,#2424ff 25px,#00f 26px,#4343ff 27px,#fff5f5 28px,#ff2929 29px,#f00 30px,#f00 32px,#ff9191 33px,#7373ff 34px,#00f 35px,#00f 37px,#2f2fff 38px,#bfbfff 39px,#fff 40px,#ffdede 41px,#ffd1d1 42px,#fff2f2 43px,#fdfdff 44px,#fbb 46px,#ffd8d8 47px,#e3e3ff 48px,#9a9aff 49px,#9494ff 50px,#dfdfff 51px,#fbb 52px,#ff4e4e 53px,#ff1010 54px,#ff5b5b 55px,#ffecec 56px,#8c8cff 57px,#8080ff 58px,#ddf 59px,#ffc3c3 60px,#ff6d6d 61px,#ff5f5f 62px,#eef 64px,#ababff 65px,#c3c3ff 66px,#fff1f1 67px,#ff4242 69px,#ff3131 70px,#ffd4d4 72px,#eaeaff 73px,#9e9eff 74px,#7d7dff 75px,#adadff 76px,#f4f4ff 77px,#ffc7c7 78px,#ffabab 79px,#ffd0d0 80px,#eaeaff 81px,#afafff 82px,#9696ff 83px,#b1b1ff 84px,#e3e3ff 85px,#fff3f3 86px,#ffdada 87px,#ffd5d5 88px,#fee 89px,#efefff 90px,#b7b7ff 94px,#c6c6ff 97px,#7171ff 100px,#9393ff 101px,#d5d5ff 102px,#fff3f3 103px,#ffe5e5 104px,#f3f3ff 106px,#f4f4ff 108px,#ffdada 109px,#f00 111px,#f00 113px,#ff3d3d 114px,#ffc4c4 115px,#dedeff 116px,#7c7cff 117px,#0303ff 118px,#00f 120px,#b7b7ff 122px,#e7e7ff 123px,#fffafa 124px,#ffc6c6 125px,#ff0c0c 127px,#f00 128px,#ff4f4f 129px,#ffbfbf 130px,#ededff 131px,#7373ff 133px,#5c5cff 134px,#9494ff 135px,#f2f2ff 136px,#ffacac 137px,#ff6a6a 138px,#ff8989 139px,#fcc 140px,#fff4f4 141px,#d7d7ff 142px,#8383ff 143px,#4545ff 144px,#5858ff 145px,#fffefe 147px,#ffb6b6 148px,#ff9494 149px,#ffacac 150px)"></i>
<i style="left:125px;top:92px;width:3px;height:151px;background:linear-gradient(#5656ff 0px,#4848ff 1px,#9191ff 2px,#f3f3ff 3px,#ffbcbc 4px,#ff9090 5px,#ffa8a8 6px,#ffe8e8 7px,#cacaff 8px,#0505ff 10px,#00f 11px,#2727ff 12px,#b2b2ff 13px,#ffafaf 14px,#ff2929 15px,#f00 16px,#ff1b1b 17px,#fff4f4 19px,#fff0f0 20px,#ff9191 21px,#ff5353 22px,#ff9595 23px,#d3d3ff 24px,#4747ff 25px,#0909ff 26px,#55f 27px,#fff7f7 28px,#ff2d2d 29px,#f00 30px,#f00 32px,#ff6f6f 33px,#9191ff 34px,#00f 35px,#0808ff 38px,#9090ff 39px,#e8e8ff 40px,#ffeaea 41px,#fdd 42px,#fff 43px,#e3e3ff 44px,#fff8f8 45px,#ffcaca 46px,#ffd5d5 47px,#eaeaff 48px,#9f9fff 49px,#8a8aff 50px,#d2d2ff 51px,#ffd3d3 52px,#ff2a2a 54px,#ff3737 55px,#ffa6a6 56px,#c0c0ff 57px,#6060ff 58px,#9d9dff 59px,#fff8f8 60px,#ff9595 61px,#ff5959 62px,#ff8282 63px,#ffe2e2 64px,#c1c1ff 65px,#a3a3ff 66px,#dedeff 67px,#ffcdcd 68px,#ff6c6c 69px,#ff2626 70px,#ff5b5b 71px,#ffcaca 72px,#f6f6ff 73px,#8f8fff 75px,#8b8bff 76px,#c8c8ff 77px,#ffe7e7 78px,#ffa2a2 79px,#ff9797 80px,#fcc 81px,#ececff 82px,#b5b5ff 83px,#a3a3ff 84px,#e7e7ff 86px,#ffecec 87px,#fbb 88px,#ffa3a3 89px,#ffbaba 90px,#ffe6e6 91px,#f7f7ff 92px,#c9c9ff 95px,#c7c7ff 98px,#8c8cff 100px,#8282ff 101px,#adadff 102px,#f0f0ff 103px,#fdd 104px,#ffd9d9 105px,#fff8f8 106px,#e3e3ff 107px,#d9d9ff 108px,#ebebff 109px,#ffcfcf 110px,#ff4848 111px,#f00 112px,#f00 114px,#ff5252 115px,#ffcdcd 116px,#d8d8ff 117px,#00f 119px,#00f 121px,#cfcfff 123px,#fffcfc 124px,#ffd5d5 125px,#ff9494 126px,#ff3030 127px,#f00 128px,#f00 129px,#ffdbdb 131px,#d3d3ff 132px,#5050ff 134px,#5252ff 135px,#fff6f6 137px,#ff9090 138px,#f66 139px,#ffc4c4 141px,#ffe0e0 142px,#ddf 143px,#7878ff 144px,#3e3eff 145px,#6262ff 146px,#c6c6ff 147px,#fcc 148px,#ff7575 149px,#ff6060 150px)"></i>
<i style="left:128px;top:92px;width:3px;height:151px;background:linear-gradient(#5b5bff 0px,#8e8eff 1px,#e1e1ff 2px,#ffcbcb 3px,#ff9494 4px,#ff9d9d 5px,#ffebeb 6px,#afafff 7px,#4e4eff 8px,#0a0aff 9px,#00f 10px,#1a1aff 11px,#9696ff 12px,#fcc 13px,#ff2c2c 14px,#f00 15px,#f00 16px,#ff6060 17px,#ffe2e2 18px,#fffdfd 19px,#ff5151 21px,#ff7878 22px,#f1f1ff 23px,#4a4aff 24px,#0202ff 25px,#2828ff 26px,#d6d6ff 27px,#ff5e5e 28px,#f00 29px,#f00 31px,#ff2a2a 32px,#d1d1ff 33px,#0404ff 34px,#00f 37px,#c7c7ff 39px,#fffcfc 40px,#ffdbdb 41px,#fff4f4 42px,#e0e0ff 43px,#efefff 44px,#ffe0e0 45px,#ffd6d6 46px,#fafaff 47px,#a9a9ff 48px,#7070ff 49px,#a3a3ff 50px,#fff1f1 51px,#ff4545 53px,#ff2929 54px,#ff6b6b 55px,#ffe4e4 56px,#9494ff 57px,#7c7cff 58px,#d2d2ff 59px,#ffc7c7 60px,#ff6767 61px,#ff5656 62px,#ededff 64px,#a0a0ff 65px,#aaf 66px,#f8f8ff 67px,#ffaeae 68px,#ff4a4a 69px,#ff2e2e 70px,#fff1f1 72px,#dadaff 73px,#7d7dff 75px,#9292ff 76px,#d8d8ff 77px,#ffd6d6 78px,#ff9d9d 79px,#ffa4a4 80px,#ffdede 81px,#ddf 82px,#aeaeff 83px,#a8a8ff 84px,#ececff 86px,#ffe6e6 87px,#ffb1b1 88px,#ff9c9c 89px,#fafaff 92px,#d5d5ff 94px,#ceceff 97px,#a0a0ff 99px,#8181ff 100px,#8383ff 101px,#fbfbff 103px,#ffd5d5 104px,#ffd4d4 105px,#fff8f8 106px,#dedeff 107px,#d6d6ff 108px,#f2f2ff 109px,#ffb5b5 110px,#f22 111px,#f00 112px,#f00 114px,#ffe4e4 116px,#c0c0ff 117px,#4747ff 118px,#00f 119px,#00f 120px,#1b1bff 121px,#9393ff 122px,#e2e2ff 123px,#ffeded 124px,#ffbdbd 125px,#ff6d6d 126px,#ff0808 127px,#ff0202 129px,#fff0f0 131px,#bdbdff 132px,#7070ff 133px,#3838ff 134px,#5757ff 135px,#b6b6ff 136px,#ffdbdb 137px,#ff7a7a 138px,#ff6e6e 139px,#faa 140px,#ffe2e2 142px,#d9d9ff 143px,#7d7dff 144px,#5757ff 145px,#8484ff 146px,#e4e4ff 147px,#ffafaf 148px,#ff5a5a 149px,#ff5656 150px)"></i>
<i style="left:131px;top:92px;width:3px;height:150px;background:linear-gradient(#7474ff 0px,#fdfdff 2px,#ffbebe 3px,#ff9b9b 4px,#fbb 5px,#e1e1ff 6px,#5f5fff 7px,#00f 8px,#00f 10px,#3636ff 11px,#e4e4ff 12px,#ff5959 13px,#f00 14px,#f00 16px,#ff8c8c 17px,#fffafa 18px,#ffcfcf 19px,#ff6060 20px,#ff4141 21px,#ffbaba 22px,#88f 23px,#00f 24px,#00f 25px,#3838ff 26px,#fff 27px,#ff3838 28px,#f00 29px,#f00 31px,#ffabab 32px,#5050ff 33px,#00f 34px,#00f 36px,#4949ff 37px,#bfbfff 38px,#fbfbff 39px,#ffd9d9 40px,#ffcece 41px,#fffdfd 42px,#e0e0ff 43px,#f8f8ff 44px,#ffe9e9 45px,#fff5f5 46px,#d0d0ff 47px,#77f 48px,#5f5fff 49px,#bfbfff 50px,#ffcece 51px,#ff7575 52px,#ff3535 53px,#ff4f4f 54px,#ffa9a9 55px,#e8e8ff 56px,#9696ff 57px,#b0b0ff 58px,#fffafa 59px,#ff9494 60px,#f44 61px,#ff6161 62px,#fcc 63px,#c6c6ff 64px,#9191ff 65px,#bcbcff 66px,#fff3f3 67px,#ff4b4b 69px,#ff5454 70px,#ffb7b7 71px,#f6f6ff 72px,#8b8bff 74px,#7171ff 75px,#9d9dff 76px,#e6e6ff 77px,#ffd1d1 78px,#ffabab 79px,#ffbebe 80px,#fff4f4 81px,#a8a8ff 83px,#acacff 84px,#e7e7ff 86px,#ffeded 87px,#ffbaba 88px,#ffa6a6 89px,#ffbdbd 90px,#ffe8e8 91px,#ededff 92px,#cfcfff 93px,#cfcfff 95px,#d4d4ff 97px,#7a7aff 100px,#8989ff 101px,#f4f4ff 103px,#ffe4e4 104px,#ffdfdf 105px,#fffcfc 106px,#dfdfff 107px,#dadaff 108px,#fffafa 109px,#ff8e8e 110px,#ff0202 111px,#f00 113px,#ff2626 114px,#faa 115px,#fafaff 116px,#9c9cff 117px,#1e1eff 118px,#00f 119px,#0202ff 120px,#d4d4ff 122px,#fffafa 123px,#ffe0e0 124px,#ffadad 125px,#ff4949 126px,#f00 127px,#ff0a0a 129px,#ff8d8d 130px,#fffbfb 131px,#5454ff 133px,#2c2cff 134px,#6c6cff 135px,#d7d7ff 136px,#fbb 137px,#ff6e6e 138px,#ff8585 139px,#ffc3c3 140px,#fee 142px,#d3d3ff 143px,#8d8dff 144px,#7d7dff 145px,#aaf 146px,#fdfdff 147px,#ff9f9f 148px,#ff5656 149px)"></i>
<i style="left:134px;top:93px;width:3px;height:148px;background:linear-gradient(#c6c6ff 0px,#fff9f9 1px,#ffc3c3 2px,#ffaeae 3px,#ffd8d8 4px,#babaff 5px,#1919ff 6px,#00f 7px,#00f 9px,#5454ff 10px,#fcc 11px,#ff0505 12px,#f00 14px,#ff0e0e 15px,#ffbebe 16px,#fff9f9 17px,#ff3131 19px,#ff5151 20px,#fafaff 21px,#2727ff 22px,#00f 23px,#00f 24px,#4a4aff 25px,#fee 26px,#ff3434 27px,#f00 28px,#f00 29px,#ff3d3d 30px,#e1e1ff 31px,#0303ff 32px,#0909ff 35px,#b3b3ff 36px,#fff5f5 37px,#ffb8b8 39px,#ffc7c7 40px,#fffdfd 41px,#e8e8ff 42px,#fffefe 44px,#e7e7ff 45px,#5353ff 47px,#6767ff 48px,#dfdfff 49px,#ffadad 50px,#f55 51px,#ff3939 52px,#ff8181 53px,#ffe5e5 54px,#c0c0ff 55px,#a4a4ff 56px,#ddf 57px,#ffcbcb 58px,#ff6565 59px,#ff3737 60px,#ff8080 61px,#fff7f7 62px,#a4a4ff 63px,#9494ff 64px,#d7d7ff 65px,#ffe0e0 66px,#ff5959 68px,#ff7f7f 69px,#ffdada 70px,#e3e3ff 71px,#7373ff 73px,#7070ff 74px,#f7f7ff 76px,#ffcdcd 77px,#ffb8b8 78px,#ffd1d1 79px,#fbfbff 80px,#c3c3ff 81px,#a9a9ff 82px,#dfdfff 85px,#fff8f8 86px,#ffc6c6 87px,#ffafaf 88px,#ffc0c0 89px,#ffeded 90px,#e0e0ff 91px,#bcbcff 92px,#babaff 93px,#e2e2ff 95px,#d9d9ff 96px,#8a8aff 98px,#7e7eff 99px,#ececff 102px,#fff7f7 103px,#ffefef 104px,#f9f9ff 105px,#dedeff 106px,#e1e1ff 107px,#ffe1e1 108px,#ff6262 109px,#f00 110px,#f00 112px,#ff5e5e 113px,#ffd1d1 114px,#dadaff 115px,#0101ff 117px,#00f 118px,#2f2fff 119px,#c2c2ff 120px,#ffe7e7 121px,#ffd0d0 123px,#ff9a9a 124px,#ff2626 125px,#f00 126px,#f00 127px,#ff1b1b 128px,#ff9d9d 129px,#f9f9ff 130px,#3d3dff 132px,#3030ff 133px,#8b8bff 134px,#fdfdff 135px,#ff9c9c 136px,#ff6e6e 137px,#ffdada 139px,#fffbfb 141px,#9d9dff 143px,#9c9cff 144px,#ffefef 146px,#ff9393 147px)"></i>
<i style="left:137px;top:91px;width:3px;height:150px;background:linear-gradient(#6969ff 0px,#e2e2ff 2px,#ffdfdf 3px,#ffb6b6 4px,#fbb 5px,#fff 6px,#00f 8px,#00f 11px,#9b9bff 12px,#ff7070 13px,#f00 14px,#f00 16px,#ff4949 17px,#ffebeb 18px,#ffe9e9 19px,#ff7676 20px,#ff2a2a 21px,#ff8686 22px,#adadff 23px,#00f 24px,#00f 26px,#8c8cff 27px,#ffadad 28px,#ff0909 29px,#f00 31px,#ff8c8c 32px,#8b8bff 33px,#00f 34px,#00f 36px,#4d4dff 37px,#ebebff 38px,#ffd6d6 39px,#fbb 40px,#ffb3b3 41px,#fcfcff 43px,#f6f6ff 46px,#cdcdff 47px,#8282ff 48px,#4b4bff 49px,#88f 50px,#fffdfd 51px,#ff9292 52px,#ff4141 53px,#ff4a4a 54px,#ffacac 55px,#ebebff 56px,#a3a3ff 57px,#b2b2ff 58px,#fcfcff 59px,#ff4e4e 61px,#ff4b4b 62px,#ffafaf 63px,#dbdbff 64px,#8f8fff 65px,#a6a6ff 66px,#f2f2ff 67px,#ffcaca 68px,#ff8080 69px,#ff5e5e 70px,#ff9c9c 71px,#ffefef 72px,#d4d4ff 73px,#6767ff 75px,#7f7fff 76px,#c7c7ff 77px,#fff3f3 78px,#ffc2c2 79px,#ffbaba 80px,#fdd 81px,#ebebff 82px,#b7b7ff 83px,#adadff 84px,#eaeaff 87px,#fff2f2 88px,#ffcbcb 89px,#ffbcbc 90px,#ffcdcd 91px,#fff7f7 92px,#b6b6ff 94px,#b9b9ff 95px,#e2e2ff 97px,#d1d1ff 98px,#8080ff 100px,#8484ff 101px,#d9d9ff 103px,#f2f2ff 104px,#fff4f4 106px,#f6f6ff 107px,#e1e1ff 108px,#eef 109px,#ffc2c2 110px,#f33 111px,#f00 112px,#ff0303 114px,#ff8686 115px,#ffecec 116px,#bbf 117px,#4242ff 118px,#00f 119px,#00f 120px,#4c4cff 121px,#e5e5ff 122px,#ffd1d1 123px,#ffc4c4 125px,#ff8585 126px,#f11 127px,#f00 129px,#ff4545 130px,#ffb9b9 131px,#e4e4ff 132px,#7e7eff 133px,#2e2eff 134px,#4343ff 135px,#afafff 136px,#ffdede 137px,#ff8181 138px,#ff7474 139px,#ffbcbc 140px,#ffebeb 141px,#fff6f6 142px,#eef 143px,#bdbdff 144px,#a0a0ff 145px,#aeaeff 146px,#dadaff 147px,#ffdede 148px,#ff8b8b 149px)"></i>
<i style="left:140px;top:90px;width:2px;height:151px;background:linear-gradient(#7c7cff 0px,#8989ff 1px,#cacaff 2px,#ffeaea 3px,#ffa8a8 4px,#ff9090 5px,#ffbebe 6px,#cfcfff 7px,#2626ff 8px,#00f 9px,#0505ff 12px,#f2f2ff 13px,#f11 14px,#f00 16px,#f00 17px,#ff6161 18px,#ffe8e8 19px,#ffcdcd 20px,#ff6e6e 21px,#ff5656 22px,#ffd1d1 23px,#6d6dff 24px,#00f 25px,#00f 26px,#1313ff 27px,#dedeff 28px,#ff5252 29px,#f00 30px,#ff0404 32px,#ffcbcb 33px,#5252ff 34px,#00f 35px,#00f 37px,#8c8cff 38px,#fffefe 39px,#ffd3d3 40px,#ffc1c1 41px,#ffcece 42px,#fffdfd 43px,#efefff 44px,#fff7f7 45px,#ffeaea 46px,#fcfcff 47px,#c3c3ff 48px,#7575ff 49px,#5d5dff 50px,#ffefef 52px,#ff9191 53px,#ff4e4e 54px,#ff7272 55px,#ffdbdb 56px,#babaff 57px,#8686ff 58px,#bcbcff 59px,#ffe9e9 60px,#ff9191 61px,#ff5151 62px,#ff7373 63px,#ffdcdc 64px,#b8b8ff 65px,#8585ff 66px,#b4b4ff 67px,#fefeff 68px,#ff6f6f 70px,#ff6565 71px,#fffafa 73px,#ccf 74px,#8b8bff 75px,#6868ff 76px,#9595ff 77px,#e3e3ff 78px,#ffdada 79px,#ffb4b4 80px,#ffbfbf 81px,#ffeded 82px,#d6d6ff 83px,#a8a8ff 84px,#acacff 85px,#f4f4ff 87px,#fee 88px,#ffc9c9 90px,#fff1f1 92px,#eaeaff 93px,#b4b4ff 95px,#d7d7ff 98px,#bdbdff 99px,#7171ff 101px,#8080ff 102px,#dedeff 104px,#f8f8ff 105px,#fff0f0 107px,#fffdfd 108px,#ffefef 110px,#ff9595 111px,#ff0606 112px,#f00 114px,#ff1515 115px,#f99 116px,#fff9f9 117px,#9a9aff 118px,#0808ff 119px,#00f 121px,#3e3eff 122px,#d4d4ff 123px,#ffe8e8 124px,#ffc5c5 126px,#ff7a7a 127px,#ff1212 128px,#f00 129px,#ff1515 130px,#fdd 132px,#ccf 133px,#6969ff 134px,#2b2bff 135px,#5a5aff 136px,#cacaff 137px,#ffc6c6 138px,#ff7272 139px,#ff8080 140px,#ffcfcf 141px,#fffcfc 142px,#ebebff 143px,#99f 145px,#9797ff 146px,#f1f1ff 148px,#ffcece 149px,#ff9191 150px)"></i>
<i style="left:142px;top:90px;width:2px;height:150px;background:linear-gradient(#8484ff 0px,#a8a8ff 1px,#f0f0ff 2px,#ff7373 4px,#ff6e6e 5px,#ffc4c4 6px,#9c9cff 7px,#00f 8px,#00f 11px,#4040ff 12px,#ffb5b5 13px,#f00 14px,#f00 17px,#ffd0d0 19px,#ffb0b0 20px,#ff7575 21px,#ff8f8f 22px,#e9e9ff 23px,#3b3bff 24px,#00f 25px,#00f 26px,#5454ff 27px,#ffd5d5 28px,#ff0909 29px,#f00 31px,#ff2b2b 32px,#f6f6ff 33px,#2929ff 34px,#00f 35px,#00f 36px,#2323ff 37px,#b8b8ff 38px,#fff5f5 39px,#ffd5d5 40px,#ffcdcd 41px,#fee 42px,#ddf 43px,#e5e5ff 44px,#ffe9e9 45px,#ffd8d8 46px,#fffbfb 47px,#7474ff 49px,#7676ff 50px,#c3c3ff 51px,#ffecec 52px,#ff9a9a 53px,#ff6969 54px,#ff9e9e 55px,#f5f5ff 56px,#8c8cff 57px,#7171ff 58px,#c7c7ff 59px,#ffd5d5 60px,#ff8383 61px,#ff5e5e 62px,#ff9797 63px,#fff 64px,#a1a1ff 65px,#8383ff 66px,#fff9f9 68px,#ff6565 70px,#ff7070 71px,#fefeff 73px,#8383ff 75px,#6f6fff 76px,#acacff 77px,#fefeff 78px,#ffc2c2 79px,#faa 80px,#ffc7c7 81px,#fff 82px,#c2c2ff 83px,#9c9cff 84px,#ababff 85px,#dedeff 86px,#ffefef 87px,#ffc7c7 88px,#ffb3b3 89px,#ffc6c6 90px,#fff1f1 91px,#e8e8ff 92px,#b8b8ff 94px,#bfbfff 96px,#cbcbff 98px,#7b7bff 100px,#6363ff 101px,#7979ff 102px,#dcdcff 104px,#fafaff 105px,#fff0f0 108px,#fee 109px,#ffcbcb 110px,#f00 112px,#f00 114px,#ff2525 115px,#ffa2a2 116px,#fbfbff 117px,#00f 119px,#00f 121px,#2f2fff 122px,#bcbcff 123px,#f9f9ff 124px,#ffefef 125px,#ffc9c9 126px,#ff1c1c 128px,#ff0808 129px,#ff4c4c 130px,#ffafaf 131px,#fffdfd 132px,#b7b7ff 133px,#5c5cff 134px,#3030ff 135px,#6e6eff 136px,#dcdcff 137px,#ffb5b5 138px,#ff6b6b 139px,#ff8e8e 140px,#ffdfdf 141px,#f2f2ff 142px,#7474ff 145px,#8d8dff 146px,#ccf 147px,#fff6f6 148px,#ffc1c1 149px)"></i>
<i style="left:144px;top:89px;width:2px;height:151px;background:linear-gradient(#77f 0px,#99f 1px,#dbdbff 2px,#ffd3d3 3px,#ff7979 4px,#ff4747 5px,#ff7676 6px,#f3f3ff 7px,#22f 8px,#00f 9px,#0a0aff 12px,#f4f4ff 13px,#ff1919 14px,#f00 15px,#f00 17px,#ff1e1e 18px,#ff9e9e 19px,#ffa4a4 20px,#f77 21px,#ff8383 22px,#fff5f5 23px,#6d6dff 24px,#00f 25px,#00f 26px,#1f1fff 27px,#e3e3ff 28px,#ff3838 29px,#f00 30px,#f00 32px,#ffb5b5 33px,#6d6dff 34px,#00f 35px,#00f 36px,#1414ff 37px,#9393ff 38px,#f0f0ff 39px,#ffcdcd 41px,#fdd 42px,#e3e3ff 43px,#c5c5ff 44px,#f3f3ff 45px,#ffd6d6 46px,#ffd8d8 47px,#eef 48px,#a0a0ff 49px,#7474ff 50px,#a2a2ff 51px,#ececff 52px,#ffd2d2 53px,#ff9191 54px,#ff8b8b 55px,#ffdcdc 56px,#b5b5ff 57px,#5a5aff 58px,#7575ff 59px,#e5e5ff 60px,#ffb7b7 61px,#ff7070 62px,#ff7070 63px,#ffc0c0 64px,#d7d7ff 65px,#8989ff 66px,#8a8aff 67px,#cfcfff 68px,#ffecec 69px,#ff9b9b 70px,#ff5f5f 71px,#ff8383 72px,#ffd1d1 73px,#f5f5ff 74px,#7b7bff 76px,#7979ff 77px,#c3c3ff 78px,#ffe7e7 79px,#ffadad 80px,#ffa5a5 81px,#ffd2d2 82px,#ededff 83px,#b0b0ff 84px,#9494ff 85px,#aeaeff 86px,#e9e9ff 87px,#ffd9d9 88px,#ffa8a8 89px,#ff9a9a 90px,#f8f8ff 92px,#c9c9ff 93px,#acacff 95px,#cbcbff 98px,#bfbfff 99px,#6b6bff 101px,#5a5aff 102px,#7676ff 103px,#dbdbff 105px,#fcfcff 106px,#ffd7d7 110px,#ffa9a9 111px,#ff3c3c 112px,#f00 113px,#f00 115px,#ff3737 116px,#ffadad 117px,#ececff 118px,#5050ff 119px,#00f 120px,#00f 122px,#3030ff 123px,#aeaeff 124px,#e4e4ff 125px,#fffdfd 126px,#ffc9c9 127px,#ff2525 129px,#ff2a2a 130px,#ffd8d8 132px,#e6e6ff 133px,#5050ff 135px,#3737ff 136px,#8181ff 137px,#eef 138px,#ffa3a3 139px,#ff6969 140px,#ff9f9f 141px,#ffecec 142px,#e4e4ff 143px,#7272ff 145px,#5959ff 146px,#8989ff 147px,#dadaff 148px,#ffe2e2 149px,#ffb6b6 150px)"></i>
<i style="left:146px;top:87px;width:2px;height:153px;background:linear-gradient(#8585ff 0px,#5c5cff 1px,#7474ff 2px,#c2c2ff 3px,#ffe9e9 4px,#ff5454 6px,#ff5c5c 7px,#ffcbcb 8px,#6969ff 9px,#00f 10px,#00f 13px,#bebeff 14px,#ff2e2e 15px,#f00 16px,#f00 18px,#ff1e1e 19px,#ff9e9e 20px,#ffa6a6 21px,#ff5d5d 22px,#ff5252 23px,#ffc8c8 24px,#8282ff 25px,#0101ff 26px,#0c0cff 28px,#bdbdff 29px,#ff5f5f 30px,#f00 31px,#f00 33px,#ff7c7c 34px,#9595ff 35px,#00f 36px,#00f 38px,#8282ff 39px,#eaeaff 40px,#ffe8e8 41px,#ffc7c7 43px,#fffcfc 44px,#cbcbff 45px,#d9d9ff 46px,#fee 47px,#ffd9d9 48px,#fff8f8 49px,#7d7dff 51px,#8c8cff 52px,#d7d7ff 53px,#ffe3e3 54px,#ffa5a5 55px,#ff8686 56px,#ffb6b6 57px,#e5e5ff 58px,#7979ff 59px,#4c4cff 60px,#9c9cff 61px,#fff3f3 62px,#ff9595 63px,#ff6262 64px,#f88 65px,#ffe9e9 66px,#b1b1ff 67px,#7b7bff 68px,#9e9eff 69px,#e5e5ff 70px,#ffd5d5 71px,#ff8282 72px,#ff6060 73px,#ffe2e2 75px,#ebebff 76px,#7474ff 78px,#8484ff 79px,#d6d6ff 80px,#ffd5d5 81px,#ffa1a1 82px,#ffa7a7 83px,#ffdfdf 84px,#ddf 85px,#a4a4ff 86px,#9292ff 87px,#b5b5ff 88px,#f1f1ff 89px,#ff9b9b 91px,#ff9494 92px,#ffcaca 93px,#ececff 94px,#bbf 95px,#a7a7ff 97px,#cbcbff 100px,#b8b8ff 101px,#6060ff 103px,#5656ff 104px,#7979ff 105px,#dfdfff 107px,#fff 108px,#ffe2e2 111px,#fcc 112px,#ff9292 113px,#ff1a1a 114px,#f00 115px,#f00 117px,#ff4f4f 118px,#ffbdbd 119px,#d7d7ff 120px,#2a2aff 121px,#00f 122px,#00f 124px,#4949ff 125px,#b5b5ff 126px,#fffdfd 128px,#ffc1c1 129px,#ff6767 130px,#ff2a2a 131px,#ff4343 132px,#ffefef 134px,#d5d5ff 135px,#44f 137px,#3f3fff 138px,#9595ff 139px,#fffbfb 140px,#ff9191 141px,#ff6b6b 142px,#fff7f7 144px,#dbdbff 145px,#6262ff 147px,#5353ff 148px,#9090ff 149px,#e6e6ff 150px,#ffd5d5 151px,#ffadad 152px)"></i>
<i style="left:148px;top:86px;width:2px;height:153px;background:linear-gradient(#acacff 0px,#6262ff 1px,#5757ff 2px,#9d9dff 3px,#fdfdff 4px,#ffadad 5px,#ff7171 6px,#ff6b6b 7px,#ffb6b6 8px,#aeaeff 9px,#00f 10px,#00f 13px,#7474ff 14px,#ff7c7c 15px,#f00 16px,#f00 18px,#f22 19px,#ffb4b4 20px,#ffd3d3 21px,#ff7d7d 22px,#ff3a3a 23px,#ff8686 24px,#bebeff 25px,#0f0fff 26px,#00f 28px,#8d8dff 29px,#ff9191 30px,#f00 31px,#f00 33px,#ff4747 34px,#cbcbff 35px,#0e0eff 36px,#00f 38px,#5252ff 39px,#dadaff 40px,#ffe9e9 41px,#ffbcbc 43px,#f1f1ff 45px,#e7e7ff 46px,#fff2f2 47px,#ffdbdb 48px,#fff3f3 49px,#cfcfff 50px,#8484ff 51px,#7676ff 52px,#fff3f3 54px,#ff7575 56px,#ff8b8b 57px,#ffdfdf 58px,#b6b6ff 59px,#5f5fff 60px,#6f6fff 61px,#ceceff 62px,#ffcdcd 63px,#f77 64px,#ff6262 65px,#ffa3a3 66px,#f5f5ff 67px,#9c9cff 68px,#8686ff 69px,#fffbfb 71px,#f66 73px,#ff6363 74px,#ffe8e8 76px,#e9e9ff 77px,#7d7dff 79px,#99f 80px,#e8e8ff 81px,#ffc9c9 82px,#ff9d9d 83px,#ffb1b1 84px,#fff0f0 85px,#9898ff 87px,#9090ff 88px,#b7b7ff 89px,#f1f1ff 90px,#ff9d9d 92px,#ff9d9d 93px,#ffd6d6 94px,#e0e0ff 95px,#b2b2ff 96px,#a3a3ff 97px,#b6b6ff 99px,#cbcbff 101px,#b6b6ff 102px,#5757ff 104px,#5050ff 105px,#e0e0ff 108px,#fffefe 109px,#ffe1e1 112px,#ffc3c3 113px,#ff7a7a 114px,#f00 115px,#f00 118px,#fcc 120px,#c3c3ff 121px,#0d0dff 122px,#00f 125px,#c6c6ff 127px,#e9e9ff 128px,#fff6f6 129px,#ffb9b9 130px,#ff6363 131px,#ff3434 132px,#ff5a5a 133px,#fefeff 135px,#3e3eff 138px,#4e4eff 139px,#aeaeff 140px,#ffe1e1 141px,#ff7d7d 142px,#ff7070 143px,#fff9f9 145px,#dcdcff 146px,#6565ff 148px,#6161ff 149px,#efefff 151px,#ffd0d0 152px)"></i>
<i style="left:150px;top:85px;width:2px;height:154px;background:linear-gradient(#ddf 0px,#8989ff 1px,#5a5aff 2px,#8383ff 3px,#e0e0ff 4px,#ffbaba 5px,#ff7878 6px,#ff7878 7px,#ffc0c0 8px,#b9b9ff 9px,#1a1aff 10px,#00f 11px,#00f 13px,#5151ff 14px,#ffc2c2 15px,#ff0404 16px,#f00 18px,#ff3232 19px,#ffc9c9 20px,#fffafa 21px,#ff5b5b 23px,#ff7979 24px,#e7e7ff 25px,#2727ff 26px,#00f 27px,#00f 28px,#6d6dff 29px,#ffafaf 30px,#ff0202 31px,#f00 33px,#ff4040 34px,#ddf 35px,#1f1fff 36px,#00f 37px,#00f 38px,#2c2cff 39px,#c3c3ff 40px,#fee 41px,#ffb4b4 43px,#ffc2c2 44px,#ffeaea 45px,#fff2f2 46px,#ffc4c4 48px,#ffe3e3 49px,#d5d5ff 50px,#8181ff 51px,#6060ff 52px,#9e9eff 53px,#fcfcff 54px,#ff6060 56px,#ff6060 57px,#ffb5b5 58px,#e4e4ff 59px,#88f 60px,#7676ff 61px,#fff4f4 63px,#ff9c9c 64px,#ff6363 65px,#ff7e7e 66px,#ffd2d2 67px,#cdcdff 68px,#9696ff 69px,#b0b0ff 70px,#f1f1ff 71px,#ffc6c6 72px,#ff7575 73px,#ff4c4c 74px,#ff7b7b 75px,#ffc5c5 76px,#fff4f4 77px,#dcdcff 78px,#a6a6ff 79px,#9b9bff 80px,#cdcdff 81px,#ffecec 82px,#ffafaf 83px,#ff9e9e 84px,#ffcfcf 85px,#e6e6ff 86px,#aaf 87px,#8989ff 88px,#9797ff 89px,#f5f5ff 91px,#ffa4a4 93px,#ffb3b3 94px,#fff2f2 95px,#a1a1ff 97px,#99f 98px,#c6c6ff 101px,#c3c3ff 102px,#a3a3ff 103px,#4a4aff 105px,#5252ff 106px,#e6e6ff 109px,#fffcfc 110px,#fff0f0 112px,#ffdada 113px,#ffa0a0 114px,#ff2f2f 115px,#f00 116px,#f00 118px,#ff1b1b 119px,#ff9797 120px,#fff5f5 121px,#8686ff 122px,#00f 123px,#00f 125px,#2828ff 126px,#a7a7ff 127px,#e0e0ff 128px,#fbfbff 129px,#fdd 130px,#ff5353 132px,#ff4b4b 133px,#ff8d8d 134px,#ffe1e1 135px,#dfdfff 136px,#5f5fff 138px,#3f3fff 139px,#7878ff 140px,#e4e4ff 141px,#ffa7a7 142px,#f66 143px,#ff8c8c 144px,#ffd4d4 145px,#fffefe 146px,#d4d4ff 147px,#9696ff 148px,#6f6fff 149px,#8484ff 150px,#fff9f9 152px,#ffc1c1 153px)"></i>
<i style="left:152px;top:84px;width:2px;height:155px;background:linear-gradient(#fbfbff 0px,#8181ff 2px,#8989ff 3px,#cacaff 4px,#ffd7d7 5px,#ff8484 6px,#ff7676 7px,#ffc1c1 8px,#b8b8ff 9px,#1c1cff 10px,#00f 11px,#00f 13px,#5b5bff 14px,#ffe7e7 15px,#ff3a3a 16px,#f00 17px,#ff0505 18px,#ff5858 19px,#ffdcdc 20px,#f6f6ff 21px,#ffc7c7 22px,#ff7c7c 23px,#ff9898 24px,#ddf 25px,#2c2cff 26px,#00f 27px,#00f 28px,#6767ff 29px,#fbb 30px,#ff0909 31px,#f00 33px,#ff5454 34px,#cacaff 35px,#1717ff 36px,#00f 37px,#00f 38px,#2a2aff 39px,#babaff 40px,#fff3f3 41px,#ffb7b7 43px,#ffbfbf 44px,#ffdcdc 45px,#ffd4d4 46px,#ffaeae 47px,#ffa1a1 48px,#ffc7c7 49px,#e9e9ff 50px,#8484ff 51px,#5050ff 52px,#8383ff 53px,#e8e8ff 54px,#ffacac 55px,#ff4b4b 56px,#ff3b3b 57px,#ff9191 58px,#fcfcff 59px,#a3a3ff 60px,#8b8bff 61px,#fffcfc 63px,#ff7878 65px,#ff7979 66px,#f0f0ff 68px,#b1b1ff 69px,#b8b8ff 70px,#efefff 71px,#ffcaca 72px,#ff7373 73px,#ff3e3e 74px,#ff6363 75px,#ffafaf 76px,#ffe6e6 77px,#ececff 78px,#bcbcff 79px,#b1b1ff 80px,#dfdfff 81px,#ffe3e3 82px,#ffb3b3 83px,#ff9a9a 84px,#ffb9b9 85px,#fbfbff 86px,#b3b3ff 87px,#8b8bff 88px,#8d8dff 89px,#d0d0ff 91px,#fffcfc 92px,#ffc8c8 93px,#ffb8b8 94px,#ffd9d9 95px,#e9e9ff 96px,#b0b0ff 97px,#9191ff 98px,#9494ff 99px,#bdbdff 101px,#b7b7ff 102px,#9e9eff 103px,#5151ff 105px,#5252ff 106px,#eef 110px,#fffafa 112px,#ffefef 113px,#ffb8b8 114px,#ff4141 115px,#f00 116px,#ff0808 119px,#ff8282 120px,#ffe1e1 121px,#b6b6ff 122px,#1b1bff 123px,#00f 124px,#00f 125px,#1919ff 126px,#9494ff 127px,#d9d9ff 128px,#fbfbff 129px,#fdd 130px,#ff6464 132px,#ff5353 133px,#ff8787 134px,#ffd8d8 135px,#e8e8ff 136px,#7373ff 138px,#4848ff 139px,#6464ff 140px,#bbf 141px,#ffcdcd 142px,#ff6c6c 143px,#ff7a7a 144px,#ffbfbf 145px,#ffebeb 146px,#f0f0ff 147px,#8c8cff 149px,#8e8eff 150px,#f4f4ff 152px,#ffafaf 154px)"></i>
<i style="left:154px;top:83px;width:2px;height:155px;background:linear-gradient(#f5f5ff 0px,#b1b1ff 2px,#b0b0ff 3px,#cdcdff 4px,#fff4f4 5px,#ffa9a9 6px,#f88 7px,#ffb8b8 8px,#ccf 9px,#2b2bff 10px,#00f 11px,#0101ff 13px,#6d6dff 14px,#fff9f9 15px,#ff7373 16px,#ff1e1e 17px,#ff2323 18px,#ff7676 19px,#ffe1e1 20px,#f8f8ff 21px,#ffcaca 22px,#ff8787 23px,#ffabab 24px,#c9c9ff 25px,#2626ff 26px,#00f 27px,#00f 28px,#6969ff 29px,#ffc6c6 30px,#ff1212 31px,#f00 33px,#ff6161 34px,#bdbdff 35px,#0c0cff 36px,#00f 38px,#2b2bff 39px,#bcbcff 40px,#fff6f6 41px,#ffbcbc 43px,#ffe1e1 45px,#fcc 46px,#ff9898 47px,#ff8686 48px,#ffb1b1 49px,#fffefe 50px,#9d9dff 51px,#5b5bff 52px,#7878ff 53px,#ceceff 54px,#ffc4c4 55px,#ff5050 56px,#ff2727 57px,#ff7373 58px,#ffe6e6 59px,#b7b7ff 60px,#9a9aff 61px,#fffbfb 63px,#ff9090 65px,#ff8787 66px,#ffb0b0 67px,#fff5f5 68px,#cbcbff 69px,#c4c4ff 70px,#ededff 71px,#ffd4d4 72px,#ff3737 74px,#ff5050 75px,#ff9f9f 76px,#ffd9d9 77px,#f4f4ff 78px,#bfbfff 79px,#aeaeff 80px,#e1e1ff 81px,#ffd1d1 82px,#ffa0a0 83px,#ff9191 84px,#ffa9a9 85px,#ffe4e4 86px,#cdcdff 87px,#9393ff 88px,#8e8eff 89px,#e4e4ff 92px,#ffefef 93px,#ffd2d2 94px,#ffd7d7 95px,#fff8f8 96px,#a3a3ff 98px,#8c8cff 99px,#b2b2ff 102px,#4545ff 105px,#5252ff 106px,#a4a4ff 108px,#f0f0ff 111px,#fffcfc 113px,#ffd6d6 114px,#f00 116px,#f00 119px,#ffd5d5 121px,#cfcfff 122px,#4f4fff 123px,#00f 124px,#00f 125px,#1616ff 126px,#7f7fff 127px,#c9c9ff 128px,#f0f0ff 129px,#ffe4e4 130px,#ff6363 132px,#ff5050 133px,#ff8282 134px,#ffd2d2 135px,#ededff 136px,#5757ff 139px,#6161ff 140px,#9d9dff 141px,#fdfdff 142px,#ff9292 143px,#ff7373 144px,#ffdfdf 146px,#fff 147px,#a4a4ff 149px,#9b9bff 150px,#f1f1ff 152px,#ffdede 153px,#ffb7b7 154px)"></i>
<i style="left:156px;top:82px;width:2px;height:154px;background:linear-gradient(#d9d9ff 0px,#bcbcff 1px,#bbf 2px,#f2f2ff 4px,#ffefef 5px,#ffc5c5 6px,#ffafaf 7px,#ffcdcd 8px,#d6d6ff 9px,#4949ff 10px,#00f 11px,#0f0fff 13px,#7e7eff 14px,#fffbfb 15px,#ff8c8c 16px,#ff4848 17px,#ff4949 18px,#ff8686 19px,#ffdbdb 20px,#fff8f8 21px,#ff8686 23px,#ffadad 24px,#c5c5ff 25px,#2323ff 26px,#00f 27px,#00f 28px,#7272ff 29px,#ffc3c3 30px,#ff1717 31px,#f00 32px,#f00 33px,#ff6464 34px,#bdbdff 35px,#0808ff 36px,#00f 38px,#2727ff 39px,#bbf 40px,#fffafa 41px,#ffc0c0 43px,#fff0f0 45px,#ffdbdb 46px,#ff9e9e 47px,#ff8282 48px,#ffa9a9 49px,#fffafa 50px,#a8a8ff 51px,#7272ff 52px,#8b8bff 53px,#cfcfff 54px,#ffd8d8 55px,#ff6a6a 56px,#ff3232 57px,#ff6767 58px,#ffd1d1 59px,#c9c9ff 60px,#9e9eff 61px,#fffafa 63px,#ff9b9b 65px,#ff9797 66px,#fff0f0 68px,#d8d8ff 69px,#ccf 70px,#eef 71px,#ffdede 72px,#f44 74px,#ff4b4b 75px,#ffd8d8 77px,#f9f9ff 78px,#bebeff 79px,#9898ff 80px,#c0c0ff 81px,#ffe6e6 82px,#ff9b9b 83px,#ff7e7e 84px,#ff9898 85px,#ffd1d1 86px,#ededff 87px,#afafff 88px,#9595ff 89px,#fffbfb 93px,#ffe7e7 94px,#f3f3ff 97px,#a3a3ff 99px,#9696ff 100px,#acacff 102px,#9696ff 103px,#2f2fff 105px,#3939ff 106px,#b3b3ff 108px,#d2d2ff 109px,#fefeff 113px,#ffe7e7 114px,#ff9292 115px,#ff0505 116px,#f00 119px,#ff4646 120px,#ffc5c5 121px,#dbdbff 122px,#6464ff 123px,#00f 124px,#00f 125px,#1818ff 126px,#7c7cff 127px,#bebeff 128px,#e3e3ff 129px,#fff4f4 130px,#ff6262 132px,#ff3d3d 133px,#ff6969 134px,#ffc1c1 135px,#f5f5ff 136px,#66f 139px,#6363ff 140px,#9595ff 141px,#dedeff 142px,#ffc1c1 143px,#ff8b8b 144px,#ffabab 145px,#fdd 146px,#fffbfb 147px,#aeaeff 149px,#a0a0ff 150px,#eaeaff 152px,#ffe4e4 153px)"></i>
<i style="left:158px;top:81px;width:2px;height:154px;background:linear-gradient(#c7c7ff 0px,#9494ff 1px,#8d8dff 2px,#fffafa 4px,#ffb5b5 6px,#ffb8b8 7px,#ffe3e3 8px,#d0d0ff 9px,#0202ff 11px,#00f 12px,#2424ff 13px,#9898ff 14px,#ffefef 15px,#ff8b8b 16px,#ff5353 17px,#ff5a5a 18px,#ffd1d1 20px,#ffe3e3 21px,#ff7c7c 23px,#ffacac 24px,#c3c3ff 25px,#2121ff 26px,#00f 27px,#00f 28px,#6f6fff 29px,#ffc1c1 30px,#ff1616 31px,#f00 32px,#f00 33px,#ff6161 34px,#cacaff 35px,#0f0fff 36px,#00f 38px,#22f 39px,#afafff 40px,#fcfcff 41px,#ffcaca 43px,#ffd7d7 44px,#fff7f7 45px,#fee 46px,#ffbaba 47px,#ff9b9b 48px,#ffb7b7 49px,#fdfdff 50px,#a0a0ff 51px,#6e6eff 52px,#9393ff 53px,#dfdfff 54px,#ffd1d1 55px,#f77 56px,#f44 57px,#ff6f6f 58px,#fcc 59px,#d1d1ff 60px,#9d9dff 61px,#c0c0ff 62px,#fffdfd 63px,#ff9191 65px,#ff8f8f 66px,#fff8f8 68px,#d1d1ff 69px,#c5c5ff 70px,#ebebff 71px,#ffe1e1 72px,#ff5353 74px,#ff5353 75px,#ffe3e3 77px,#f0f0ff 78px,#8c8cff 80px,#99f 81px,#e7e7ff 82px,#ffc0c0 83px,#ff8787 84px,#ff8c8c 85px,#f8f8ff 87px,#c5c5ff 88px,#ababff 89px,#babaff 90px,#fcfcff 92px,#ffdede 94px,#fffcfc 96px,#e3e3ff 98px,#b0b0ff 100px,#b2b2ff 102px,#a2a2ff 103px,#3131ff 105px,#2424ff 106px,#5959ff 107px,#a8a8ff 108px,#e0e0ff 109px,#fafaff 110px,#fffbfb 113px,#ffe9e9 114px,#faa 115px,#f22 116px,#f00 117px,#f00 119px,#ff3030 120px,#ffb0b0 121px,#eef 122px,#0303ff 124px,#0b0bff 126px,#7b7bff 127px,#c4c4ff 128px,#fefeff 130px,#ffc7c7 131px,#ff7373 132px,#ff3434 133px,#ff4848 134px,#fff2f2 136px,#d6d6ff 137px,#6e6eff 139px,#6161ff 140px,#9090ff 141px,#d9d9ff 142px,#ffd4d4 143px,#ffa3a3 144px,#fbfbff 147px,#adadff 149px,#9b9bff 150px,#b6b6ff 151px,#e4e4ff 152px,#ffecec 153px)"></i>
<i style="left:160px;top:80px;width:2px;height:153px;background:linear-gradient(#cbcbff 0px,#8383ff 1px,#5f5fff 2px,#8e8eff 3px,#e2e2ff 4px,#ffd1d1 5px,#ffa1a1 6px,#ffa1a1 7px,#ffd6d6 8px,#d9d9ff 9px,#3434ff 11px,#2020ff 12px,#5757ff 13px,#bbf 14px,#ffd4d4 15px,#ff7575 16px,#ff4545 17px,#ff5f5f 18px,#fdd 20px,#ffd9d9 21px,#ff9393 22px,#ff5f5f 23px,#ff9e9e 24px,#bcbcff 25px,#1b1bff 26px,#00f 27px,#00f 28px,#5959ff 29px,#ffcfcf 30px,#ff1a1a 31px,#f00 32px,#f00 33px,#ff6161 34px,#d6d6ff 35px,#1a1aff 36px,#00f 37px,#00f 38px,#2424ff 39px,#ababff 40px,#f4f4ff 41px,#ffd8d8 43px,#fffcfc 45px,#fff3f3 46px,#ffc8c8 47px,#ffb3b3 48px,#ffd4d4 49px,#e4e4ff 50px,#8c8cff 51px,#5858ff 52px,#7f7fff 53px,#d9d9ff 54px,#fcc 55px,#ff7070 56px,#ff4040 57px,#ff6e6e 58px,#ffd0d0 59px,#c9c9ff 60px,#8e8eff 61px,#b2b2ff 62px,#fafaff 63px,#ff8d8d 65px,#ff7d7d 66px,#ffa7a7 67px,#ffeded 68px,#ccf 69px,#b4b4ff 70px,#ffeded 72px,#ff5a5a 74px,#ff4e4e 75px,#ffefef 77px,#e0e0ff 78px,#8989ff 80px,#8585ff 81px,#fff3f3 83px,#ffb2b2 84px,#ff9c9c 85px,#ffc2c2 86px,#fdfdff 87px,#c5c5ff 88px,#adadff 89px,#c2c2ff 90px,#ededff 91px,#ffebeb 92px,#ffc0c0 94px,#fff4f4 96px,#c6c6ff 100px,#c6c6ff 102px,#b8b8ff 103px,#4d4dff 105px,#2b2bff 106px,#4747ff 107px,#cfcfff 109px,#fcfcff 110px,#ffdcdc 112px,#ffdfdf 114px,#ffb4b4 115px,#ff4545 116px,#f00 117px,#f00 119px,#ff3434 120px,#ffaeae 121px,#fdfdff 122px,#9090ff 123px,#0b0bff 124px,#00f 126px,#c4c4ff 128px,#fefeff 130px,#ffd3d3 131px,#ff3e3e 133px,#ff3737 134px,#ff7b7b 135px,#ffd2d2 136px,#ececff 137px,#7373ff 139px,#5858ff 140px,#8585ff 141px,#d4d4ff 142px,#ffd7d7 143px,#ffa2a2 144px,#ffbebe 145px,#fff2f2 146px,#efefff 147px,#a3a3ff 149px,#8e8eff 150px,#a7a7ff 151px,#d9d9ff 152px)"></i>
<i style="left:162px;top:79px;width:2px;height:153px;background:linear-gradient(#d5d5ff 0px,#8484ff 1px,#4949ff 2px,#6565ff 3px,#b9b9ff 4px,#fff3f3 5px,#ffb3b3 6px,#ff9d9d 7px,#ffbebe 8px,#fafaff 9px,#6767ff 11px,#5353ff 12px,#7d7dff 13px,#d2d2ff 14px,#ffc2c2 15px,#ff5b5b 16px,#ff2929 17px,#ff4f4f 18px,#fffdfd 20px,#fff2f2 21px,#ff8b8b 22px,#ff3a3a 23px,#f77 24px,#c8c8ff 25px,#1212ff 26px,#00f 28px,#4040ff 29px,#ffeaea 30px,#ff2e2e 31px,#f00 32px,#f00 33px,#ff5d5d 34px,#e2e2ff 35px,#22f 36px,#00f 37px,#00f 38px,#2828ff 39px,#b0b0ff 40px,#f5f5ff 41px,#ffe0e0 43px,#fafaff 45px,#fff8f8 46px,#ffc9c9 47px,#ffb3b3 48px,#ffdcdc 49px,#cfcfff 50px,#7272ff 51px,#3b3bff 52px,#6464ff 53px,#c2c2ff 54px,#ffdfdf 55px,#ff7979 56px,#ff3838 57px,#ff5c5c 58px,#ffc3c3 59px,#c4c4ff 60px,#7676ff 61px,#9a9aff 62px,#efefff 63px,#fcc 64px,#ff9393 65px,#ff7979 66px,#ff9696 67px,#ffd6d6 68px,#dcdcff 69px,#afafff 70px,#c4c4ff 71px,#fafaff 72px,#ffc0c0 73px,#ff6c6c 74px,#ff4646 75px,#ff8181 76px,#ffe1e1 77px,#dadaff 78px,#8383ff 80px,#7b7bff 81px,#a6a6ff 82px,#e7e7ff 83px,#ffdada 84px,#ffbaba 85px,#ffcbcb 86px,#fffefe 87px,#c7c7ff 88px,#a2a2ff 89px,#b2b2ff 90px,#e8e8ff 91px,#ffe1e1 92px,#ffbaba 93px,#ffa6a6 94px,#ffb5b5 95px,#fdfdff 97px,#cacaff 99px,#cdcdff 101px,#d1d1ff 103px,#aaf 104px,#6c6cff 105px,#4040ff 106px,#4c4cff 107px,#bdbdff 109px,#e8e8ff 110px,#fff3f3 111px,#ffc9c9 113px,#ffc9c9 114px,#ffb1b1 115px,#f00 117px,#f00 119px,#ff3636 120px,#ffbaba 121px,#f6f6ff 122px,#9f9fff 123px,#1919ff 124px,#00f 125px,#00f 126px,#2e2eff 127px,#adadff 128px,#e9e9ff 129px,#fffdfd 130px,#ffd8d8 131px,#ff4949 133px,#ff3434 134px,#ff6969 135px,#fffcfc 137px,#c7c7ff 138px,#7b7bff 139px,#4c4cff 140px,#7272ff 141px,#c8c8ff 142px,#ffdede 143px,#ff9d9d 144px,#ffadad 145px,#ffecec 146px,#e9e9ff 147px,#7c7cff 150px,#9292ff 151px,#c9c9ff 152px)"></i>
<i style="left:164px;top:76px;width:2px;height:155px;background:linear-gradient(#fff9f9 0px,#fffcfc 1px,#e3e3ff 2px,#3b3bff 4px,#4545ff 5px,#fdfdff 7px,#ffc7c7 8px,#ffafaf 9px,#ffc2c2 10px,#ffefef 11px,#d5d5ff 12px,#9e9eff 13px,#8383ff 14px,#9696ff 15px,#d5d5ff 16px,#ffcbcb 17px,#ff6060 18px,#ff1b1b 19px,#ff3636 20px,#f5f5ff 22px,#e2e2ff 23px,#ffb1b1 24px,#ff3636 25px,#ff4949 26px,#fbfbff 27px,#1a1aff 28px,#00f 29px,#00f 30px,#2020ff 31px,#f3f3ff 32px,#ff5959 33px,#f00 34px,#f00 35px,#ff5353 36px,#f9f9ff 37px,#33f 38px,#00f 39px,#00f 40px,#2121ff 41px,#acacff 42px,#f7f7ff 43px,#ffdfdf 45px,#f7f7ff 47px,#fdfdff 48px,#ffacac 50px,#ffc7c7 51px,#e1e1ff 52px,#7373ff 53px,#2929ff 54px,#4747ff 55px,#aaf 56px,#fff7f7 57px,#ff4b4b 59px,#ff5353 60px,#ffacac 61px,#d8d8ff 62px,#7070ff 63px,#8080ff 64px,#dedeff 65px,#ffd5d5 66px,#ff9a9a 67px,#ff7f7f 68px,#ff9595 69px,#fcc 70px,#eef 71px,#bbf 72px,#c2c2ff 73px,#ececff 74px,#ffdada 75px,#ff8989 76px,#ff5151 77px,#ff6c6c 78px,#ffbdbd 79px,#f5f5ff 80px,#8686ff 82px,#7575ff 83px,#9a9aff 84px,#d7d7ff 85px,#ffefef 86px,#ffcaca 87px,#ffcfcf 88px,#fff7f7 89px,#a4a4ff 91px,#a1a1ff 92px,#fff4f4 94px,#ffbebe 95px,#ff9d9d 96px,#ffa3a3 97px,#fff5f5 99px,#bebeff 102px,#dadaff 105px,#bebeff 106px,#5353ff 108px,#5151ff 109px,#e2e2ff 112px,#fafaff 113px,#ffb2b2 117px,#ff7171 118px,#ff0a0a 119px,#f00 121px,#ff1c1c 122px,#ffaeae 123px,#eef 124px,#9c9cff 125px,#2020ff 126px,#00f 127px,#00f 128px,#1919ff 129px,#9595ff 130px,#e0e0ff 131px,#fefeff 132px,#ffdfdf 133px,#ff5353 135px,#ff3131 136px,#ff5d5d 137px,#fff1f1 139px,#d3d3ff 140px,#4242ff 142px,#5858ff 143px,#b1b1ff 144px,#ffeded 145px,#ffa2a2 146px,#ffa1a1 147px,#fdd 148px,#f1f1ff 149px,#7272ff 152px,#7c7cff 153px,#b5b5ff 154px)"></i>
<i style="left:166px;top:77px;width:2px;height:153px;background:linear-gradient(#ededff 0px,#a7a7ff 1px,#4343ff 2px,#2626ff 3px,#8181ff 4px,#f9f9ff 5px,#fbb 6px,#ffa9a9 7px,#ffc3c3 8px,#fff1f1 9px,#dfdfff 10px,#b6b6ff 11px,#a1a1ff 12px,#aeaeff 13px,#dadaff 14px,#fdd 15px,#ff3434 17px,#ff2f2f 18px,#ff7e7e 19px,#ffebeb 20px,#d8d8ff 21px,#ffdfdf 22px,#ff5858 23px,#ff3030 24px,#ffbdbd 25px,#5050ff 26px,#00f 27px,#0a0aff 29px,#c9c9ff 30px,#f77 31px,#ff0707 32px,#f00 33px,#ff5151 34px,#fff3f3 35px,#4d4dff 36px,#00f 37px,#00f 38px,#1515ff 39px,#a1a1ff 40px,#fcfcff 41px,#fdd 42px,#ffcece 43px,#ffdada 44px,#fffcfc 45px,#fafaff 46px,#ffb2b2 48px,#ffb6b6 49px,#fffbfb 50px,#2727ff 52px,#2828ff 53px,#ebebff 55px,#ffb9b9 56px,#ff6d6d 57px,#ff6464 58px,#ffa6a6 59px,#ededff 60px,#7e7eff 61px,#7373ff 62px,#cacaff 63px,#ffe3e3 64px,#ffa6a6 65px,#ff8484 66px,#ff9898 67px,#f2f2ff 69px,#c3c3ff 70px,#c6c6ff 71px,#ededff 72px,#ffe5e5 73px,#ff6565 75px,#ff6d6d 76px,#ffe8e8 78px,#d9d9ff 79px,#99f 80px,#77f 81px,#9090ff 82px,#d0d0ff 83px,#fff1f1 84px,#ffc9c9 85px,#ffc5c5 86px,#ffe5e5 87px,#e8e8ff 88px,#b6b6ff 89px,#a6a6ff 90px,#c2c2ff 91px,#f2f2ff 92px,#ffd9d9 93px,#ffadad 94px,#ffa5a5 95px,#fff1f1 97px,#eaeaff 98px,#c1c1ff 100px,#dbdbff 103px,#c5c5ff 104px,#5e5eff 106px,#5757ff 107px,#c1c1ff 109px,#e8e8ff 110px,#fffefe 112px,#ffecec 114px,#ffd1d1 115px,#ff9494 116px,#ff1f1f 117px,#f00 118px,#ff0404 120px,#fff3f3 122px,#ababff 123px,#2b2bff 124px,#00f 125px,#0e0eff 127px,#8989ff 128px,#dcdcff 129px,#fff 130px,#ffe0e0 131px,#ffa5a5 132px,#f55 133px,#ff2a2a 134px,#ff5353 135px,#fffafa 137px,#d0d0ff 138px,#44f 140px,#4545ff 141px,#fcfcff 143px,#ffaeae 144px,#ff9a9a 145px,#ffd2d2 146px,#f8f8ff 147px,#a8a8ff 149px,#77f 150px,#6d6dff 151px,#9c9cff 152px)"></i>
<i style="left:168px;top:77px;width:2px;height:152px;background:linear-gradient(#a6a6ff 0px,#3939ff 1px,#0505ff 2px,#4a4aff 3px,#dfdfff 4px,#ffafaf 5px,#ff8a8a 6px,#ffa4a4 7px,#ffdfdf 8px,#e0e0ff 9px,#adadff 10px,#9797ff 11px,#ababff 12px,#dedeff 13px,#ffdfdf 14px,#ff5858 16px,#ff4949 17px,#f77 18px,#fcc 19px,#f2f2ff 20px,#ffecec 21px,#ff7979 22px,#f33 23px,#ff8d8d 24px,#a2a2ff 25px,#00f 26px,#00f 28px,#acacff 29px,#ff8989 30px,#ff0a0a 31px,#f00 32px,#ff3f3f 33px,#ffe8e8 34px,#5757ff 35px,#00f 36px,#0808ff 38px,#8b8bff 39px,#f9f9ff 40px,#ffcdcd 41px,#ffafaf 42px,#ffb4b4 43px,#fffbfb 45px,#ffb5b5 47px,#ffb1b1 48px,#ffe1e1 49px,#b8b8ff 50px,#3e3eff 51px,#1212ff 52px,#5959ff 53px,#c0c0ff 54px,#ffdcdc 55px,#ff8c8c 56px,#ff7c7c 57px,#ffb2b2 58px,#f3f3ff 59px,#8e8eff 60px,#7272ff 61px,#bcbcff 62px,#fff0f0 63px,#ffb0b0 64px,#ff8686 65px,#ff9292 66px,#ffcdcd 67px,#f0f0ff 68px,#bfbfff 69px,#c3c3ff 70px,#eef 71px,#ffe4e4 72px,#ff6f6f 74px,#ff6e6e 75px,#ffdede 77px,#f3f3ff 78px,#8686ff 80px,#8b8bff 81px,#fff1f1 83px,#ffbcbc 84px,#ffb1b1 85px,#fcc 86px,#fffcfc 87px,#d0d0ff 88px,#b5b5ff 89px,#c6c6ff 90px,#eef 91px,#ffe8e8 92px,#ffc4c4 93px,#ffb6b6 94px,#fff4f4 96px,#c0c0ff 99px,#e4e4ff 102px,#d1d1ff 103px,#6262ff 105px,#5252ff 106px,#8080ff 107px,#cacaff 108px,#fff 109px,#fff1f1 110px,#f4f4ff 113px,#fefeff 114px,#ffcdcd 115px,#f00 117px,#f00 119px,#ff5656 120px,#ffc7c7 121px,#dadaff 122px,#5959ff 123px,#00f 124px,#00f 126px,#77f 127px,#dbdbff 128px,#fffbfb 129px,#ffe0e0 130px,#ffa8a8 131px,#ff5454 132px,#ff1313 133px,#ff2e2e 134px,#ff9c9c 135px,#f4f4ff 136px,#4f4fff 139px,#4747ff 140px,#8989ff 141px,#e8e8ff 142px,#ffbcbc 143px,#ff9696 144px,#fefeff 146px,#7d7dff 149px,#6767ff 150px,#8787ff 151px)"></i>
<i style="left:170px;top:75px;width:2px;height:153px;background:linear-gradient(#ffd7d7 0px,#c0c0ff 1px,#2727ff 2px,#00f 3px,#00f 4px,#a2a2ff 5px,#ffbfbf 6px,#ff7878 7px,#ff8282 8px,#fffefe 10px,#b6b6ff 11px,#8686ff 12px,#8b8bff 13px,#c5c5ff 14px,#ffeaea 15px,#ffa1a1 16px,#ff7070 17px,#ff6565 18px,#f88 19px,#fff5f5 21px,#ffdede 22px,#ff8181 23px,#ff3e3e 24px,#ff8181 25px,#d1d1ff 26px,#1414ff 27px,#00f 28px,#0303ff 29px,#9f9fff 30px,#ff8d8d 31px,#ff0808 32px,#f00 33px,#ff1515 34px,#ffc6c6 35px,#6868ff 36px,#00f 37px,#00f 39px,#e6e6ff 41px,#ffd4d4 42px,#ffa0a0 43px,#ff8b8b 44px,#ffdfdf 46px,#ffd9d9 47px,#ffb0b0 48px,#faa 49px,#ffdada 50px,#d1d1ff 51px,#6565ff 52px,#2727ff 53px,#4848ff 54px,#fefeff 56px,#ffa6a6 57px,#ff9292 58px,#ffcdcd 59px,#dfdfff 60px,#8f8fff 61px,#7d7dff 62px,#c1c1ff 63px,#ffeded 64px,#ffabab 65px,#ff8181 66px,#ff9292 67px,#ffd4d4 68px,#ddf 69px,#aeaeff 70px,#bebeff 71px,#f7f7ff 72px,#ffd2d2 73px,#ff6767 75px,#ff7676 76px,#ffeded 78px,#eaeaff 79px,#9898ff 81px,#a0a0ff 82px,#d4d4ff 83px,#ffe2e2 84px,#ffa9a9 85px,#ffa2a2 86px,#fffbfb 88px,#d7d7ff 89px,#ccf 90px,#fffafa 92px,#ffbcbc 94px,#ffc2c2 95px,#ffe6e6 96px,#f1f1ff 97px,#c1c1ff 99px,#b7b7ff 100px,#eaeaff 103px,#d4d4ff 104px,#5d5dff 106px,#4e4eff 107px,#8181ff 108px,#d6d6ff 109px,#ffe2e2 110px,#ffc3c3 111px,#ffd4d4 112px,#fffbfb 113px,#e9e9ff 114px,#ececff 115px,#ffebeb 116px,#ff8787 117px,#ff0e0e 118px,#ff0101 120px,#ff5353 121px,#ffbfbf 122px,#eaeaff 123px,#0202ff 125px,#00f 126px,#11f 127px,#dbdbff 129px,#fff4f4 130px,#ffcfcf 131px,#ff9494 132px,#ff3e3e 133px,#ff0707 134px,#ff1414 135px,#ff7b7b 136px,#fdfdff 137px,#9393ff 138px,#5353ff 139px,#3838ff 140px,#5959ff 141px,#fafaff 143px,#ffb4b4 144px,#ff9e9e 145px,#f7f7ff 147px,#7373ff 150px,#6969ff 151px,#8e8eff 152px)"></i>
<i style="left:172px;top:74px;width:2px;height:151px;background:linear-gradient(#ff8b8b 0px,#fff6f6 1px,#4040ff 2px,#00f 3px,#00f 4px,#4a4aff 5px,#ffd8d8 6px,#ff7a7a 7px,#ff7c7c 8px,#ffe4e4 10px,#d8d8ff 11px,#9a9aff 12px,#8383ff 13px,#a6a6ff 14px,#f2f2ff 15px,#ff8080 17px,#ff7a7a 18px,#ff9b9b 19px,#fff0f0 21px,#ffcdcd 22px,#ff6c6c 23px,#ff4040 24px,#ff9d9d 25px,#b8b8ff 26px,#1a1aff 27px,#00f 28px,#22f 29px,#c8c8ff 30px,#ff6e6e 31px,#f00 32px,#ff0e0e 34px,#ffb1b1 35px,#7676ff 36px,#00f 37px,#00f 39px,#6767ff 40px,#e2e2ff 41px,#ffe5e5 42px,#ff8686 44px,#ffbdbd 46px,#ffbaba 47px,#ffa4a4 48px,#ffa6a6 49px,#ffdcdc 50px,#c8c8ff 51px,#7373ff 52px,#5959ff 53px,#a7a7ff 55px,#f3f3ff 56px,#ffbdbd 57px,#ffb1b1 58px,#ffefef 59px,#8484ff 61px,#9494ff 62px,#d9d9ff 63px,#ffdbdb 64px,#ff9494 65px,#f77 66px,#ffa1a1 67px,#fff2f2 68px,#bdbdff 69px,#99f 70px,#c1c1ff 71px,#fff5f5 72px,#ff6969 74px,#ff5656 75px,#ffd5d5 77px,#fafaff 78px,#a8a8ff 80px,#a1a1ff 81px,#c6c6ff 82px,#fffefe 83px,#ffc4c4 84px,#ffa2a2 85px,#ffafaf 86px,#ffe1e1 87px,#e3e3ff 88px,#c9c9ff 89px,#fff0f0 91px,#ffb5b5 93px,#ffa8a8 94px,#ffc0c0 95px,#fff7f7 96px,#b9b9ff 98px,#b3b3ff 100px,#d8d8ff 103px,#bcbcff 104px,#5c5cff 106px,#6565ff 107px,#99f 108px,#e1e1ff 109px,#ffd8d8 110px,#faa 111px,#ffa8a8 112px,#f6f6ff 114px,#efefff 115px,#ffdbdb 116px,#f11 118px,#f00 119px,#ff2323 120px,#ffd5d5 122px,#cfcfff 123px,#5e5eff 124px,#0303ff 125px,#00f 126px,#3a3aff 127px,#a4a4ff 128px,#e6e6ff 129px,#ffecec 130px,#ffb4b4 131px,#ff1b1b 133px,#ff0a0a 134px,#ff3838 135px,#ff7f7f 136px,#ffdede 137px,#a7a7ff 138px,#3838ff 139px,#1d1dff 140px,#5f5fff 141px,#cacaff 142px,#ffd2d2 143px,#ffa0a0 144px,#ffbaba 145px,#fff3f3 146px,#e2e2ff 147px,#8080ff 149px,#6161ff 150px)"></i>
<i style="left:174px;top:74px;width:2px;height:151px;background:linear-gradient(#ffafaf 0px,#9090ff 1px,#00f 2px,#0b0bff 4px,#e0e0ff 5px,#ff8c8c 6px,#f88 7px,#ffebeb 9px,#e9e9ff 10px,#a6a6ff 12px,#ababff 13px,#d2d2ff 14px,#ffebeb 15px,#ffacac 16px,#ff9292 17px,#ffa6a6 18px,#ffebeb 20px,#ffbfbf 21px,#ff5d5d 22px,#ff3c3c 23px,#ffb7b7 24px,#8787ff 25px,#0707ff 26px,#00f 27px,#3838ff 28px,#fefeff 29px,#f44 30px,#f00 31px,#ff0d0d 33px,#ffafaf 34px,#8585ff 35px,#00f 36px,#00f 38px,#5858ff 39px,#d1d1ff 40px,#ffe9e9 41px,#ffa4a4 43px,#ffb8b8 45px,#ff9393 47px,#ffacac 48px,#ffe8e8 49px,#bcbcff 50px,#7070ff 51px,#7e7eff 52px,#bbf 53px,#e1e1ff 54px,#fff5f5 55px,#ffcaca 56px,#ffd8d8 57px,#eef 58px,#ababff 59px,#8686ff 60px,#afafff 61px,#f8f8ff 62px,#ff8282 64px,#ff7d7d 65px,#fbb 66px,#ececff 67px,#a4a4ff 68px,#9a9aff 69px,#ccf 70px,#ffe9e9 71px,#ff9191 72px,#ff4c4c 73px,#ff5f5f 74px,#fee 76px,#e7e7ff 77px,#bcbcff 78px,#a4a4ff 79px,#babaff 80px,#f0f0ff 81px,#ffaeae 83px,#ffb8b8 84px,#ffe1e1 85px,#eaeaff 86px,#c0c0ff 87px,#c1c1ff 88px,#f0f0ff 89px,#ffdada 90px,#ffb2b2 91px,#ff9e9e 92px,#faa 93px,#fff9f9 95px,#b3b3ff 97px,#a9a9ff 98px,#cbcbff 101px,#6e6eff 104px,#6f6fff 105px,#eef 108px,#ffe5e5 109px,#ffbfbf 110px,#ffadad 111px,#ffbaba 112px,#ffdfdf 113px,#fff1f1 114px,#ffbdbd 115px,#ff4646 116px,#f00 117px,#f00 118px,#ff4f4f 119px,#ffb6b6 120px,#fff9f9 121px,#b1b1ff 122px,#3737ff 123px,#00f 124px,#11f 125px,#d7d7ff 127px,#fffcfc 128px,#ffd8d8 129px,#ff3a3a 131px,#ff0e0e 132px,#ff3030 133px,#ffadad 135px,#ffd5d5 136px,#ddf 137px,#7979ff 138px,#4848ff 139px,#7272ff 140px,#d8d8ff 141px,#ffbaba 142px,#ffa4a4 143px,#ffdede 144px,#f0f0ff 145px,#6c6cff 148px,#6a6aff 149px,#9797ff 150px)"></i>
<i style="left:176px;top:74px;width:2px;height:151px;background:linear-gradient(#cfcfff 0px,#0b0bff 1px,#00f 3px,#9393ff 4px,#ffc3c3 5px,#ff9898 6px,#fff3f3 8px,#d3d3ff 10px,#d2d2ff 13px,#ececff 14px,#ffe5e5 15px,#ffbdbd 16px,#ffb4b4 17px,#ffdcdc 19px,#ffb2b2 20px,#ff4b4b 21px,#ff2a2a 22px,#ffb1b1 23px,#7575ff 24px,#00f 25px,#00f 26px,#2323ff 27px,#fff8f8 28px,#ff3030 29px,#f00 30px,#ff0606 32px,#ffa9a9 33px,#9292ff 34px,#00f 35px,#00f 37px,#5252ff 38px,#bbf 39px,#fffdfd 40px,#ffc6c6 41px,#ffb8b8 42px,#ffd5d5 43px,#ffdcdc 44px,#ff9191 46px,#ffb1b1 47px,#fff 48px,#a2a2ff 49px,#6464ff 50px,#8787ff 51px,#e1e1ff 52px,#ffe0e0 53px,#ffbcbc 54px,#ffbcbc 55px,#ffecec 56px,#cfcfff 57px,#9797ff 58px,#88f 59px,#fff0f0 61px,#ff9e9e 62px,#ff6e6e 63px,#ff8a8a 64px,#ffdbdb 65px,#ccf 66px,#9797ff 67px,#a6a6ff 68px,#dbdbff 69px,#ffdfdf 70px,#ff8585 71px,#ff5959 72px,#ff8787 73px,#ffd1d1 74px,#fbfbff 75px,#a9a9ff 77px,#afafff 78px,#e1e1ff 79px,#ffdcdc 80px,#faa 81px,#ffa9a9 82px,#ffdada 83px,#e2e2ff 84px,#afafff 85px,#a2a2ff 86px,#f8f8ff 88px,#ffb1b1 90px,#ffa5a5 91px,#ffe7e7 93px,#f4f4ff 94px,#c1c1ff 96px,#c6c6ff 98px,#d0d0ff 99px,#c3c3ff 100px,#6767ff 102px,#6161ff 103px,#f5f5ff 106px,#fcc 111px,#ffc3c3 113px,#ff8c8c 114px,#f22 115px,#f00 116px,#f00 117px,#ff4c4c 118px,#ffcfcf 119px,#dcdcff 120px,#8989ff 121px,#1e1eff 122px,#00f 123px,#1a1aff 124px,#9595ff 125px,#f7f7ff 126px,#ffa9a9 128px,#f22 130px,#f22 131px,#ffa9a9 133px,#fffdfd 135px,#a8a8ff 138px,#b5b5ff 139px,#fbfbff 140px,#ffc3c3 141px,#ffc8c8 142px,#fff1f1 143px,#e5e5ff 144px,#7f7fff 146px,#6a6aff 147px,#8a8aff 148px,#fefeff 150px)"></i>
<i style="left:178px;top:73px;width:2px;height:150px;background:linear-gradient(#fdfdff 0px,#5757ff 1px,#00f 2px,#00f 3px,#4b4bff 4px,#fff 5px,#ffb6b6 6px,#ffc0c0 7px,#ffebeb 8px,#efefff 9px,#d9d9ff 10px,#eaeaff 15px,#fff5f5 16px,#ffd6d6 17px,#ffcdcd 18px,#ffd7d7 19px,#ffb9b9 20px,#f55 21px,#ff0606 22px,#ff5d5d 23px,#c4c4ff 24px,#0101ff 25px,#00f 27px,#a8a8ff 28px,#f77 29px,#f00 30px,#f00 32px,#ff7c7c 33px,#c5c5ff 34px,#1818ff 35px,#00f 36px,#00f 37px,#3535ff 38px,#9f9fff 39px,#e2e2ff 40px,#ffe3e3 41px,#fbb 42px,#fff8f8 44px,#ffdede 45px,#ffacac 46px,#ffb3b3 47px,#fffdfd 48px,#9797ff 49px,#4b4bff 50px,#6d6dff 51px,#d5d5ff 52px,#ffcece 53px,#ff9292 54px,#ff9292 55px,#ffdede 56px,#cacaff 57px,#8686ff 58px,#7f7fff 59px,#fff3f3 61px,#ff9a9a 62px,#f66 63px,#ff8b8b 64px,#ffe6e6 65px,#bbf 66px,#9898ff 67px,#eef 69px,#ffd0d0 70px,#ff8b8b 71px,#ff8787 72px,#fff7f7 74px,#dbdbff 75px,#acacff 76px,#9898ff 77px,#bdbdff 78px,#fffafa 79px,#ffb2b2 80px,#ff8c8c 81px,#faa 82px,#fff7f7 83px,#b8b8ff 84px,#8d8dff 85px,#9b9bff 86px,#fefeff 88px,#ffc2c2 90px,#ffc9c9 91px,#f5f5ff 93px,#cbcbff 95px,#d0d0ff 97px,#d6d6ff 99px,#b4b4ff 100px,#5858ff 102px,#6a6aff 103px,#f4f4ff 105px,#ffdfdf 106px,#ffd3d3 107px,#ffefef 110px,#ffdada 112px,#ffb2b2 113px,#ff0606 115px,#f00 117px,#ff3b3b 118px,#ffc2c2 119px,#d0d0ff 120px,#6060ff 121px,#0808ff 122px,#00f 123px,#2626ff 124px,#a6a6ff 125px,#fff9f9 126px,#ff3434 129px,#f22 130px,#ff4e4e 131px,#fcc 133px,#fff7f7 134px,#c1c1ff 136px,#f2f2ff 138px,#ffe8e8 139px,#ffcaca 140px,#ffd9d9 141px,#fffafa 142px,#f8f8ff 143px,#dfdfff 144px,#7676ff 146px,#7979ff 147px,#ededff 149px)"></i>
<i style="left:180px;top:72px;width:2px;height:150px;background:linear-gradient(#ffdfdf 0px,#88f 1px,#00f 2px,#00f 3px,#2b2bff 4px,#dfdfff 5px,#ffc8c8 6px,#ffc7c7 7px,#fcfcff 9px,#dcdcff 11px,#e1e1ff 14px,#dadaff 16px,#f4f4ff 17px,#ffcaca 20px,#ff0303 22px,#ff0404 23px,#ffc9c9 24px,#3a3aff 25px,#00f 26px,#00f 27px,#44f 28px,#ffd4d4 29px,#ff1414 30px,#f00 31px,#f00 32px,#ff5b5b 33px,#eaeaff 34px,#3232ff 35px,#00f 36px,#00f 37px,#1313ff 38px,#8a8aff 39px,#cfcfff 40px,#fdfdff 41px,#ffd2d2 42px,#fcc 43px,#fff4f4 44px,#fff6f6 45px,#ffcdcd 46px,#fbb 47px,#ffeded 48px,#acacff 49px,#4343ff 50px,#3a3aff 51px,#a1a1ff 52px,#ffeded 53px,#ff9292 54px,#ff6d6d 55px,#faa 56px,#eaeaff 57px,#8b8bff 58px,#66f 59px,#efefff 61px,#ffc1c1 62px,#ff7a7a 63px,#ff7d7d 64px,#ffc5c5 65px,#d8d8ff 66px,#9c9cff 67px,#b7b7ff 68px,#ececff 69px,#ffdcdc 70px,#ff9d9d 71px,#ff9b9b 72px,#ffd8d8 73px,#f7f7ff 74px,#d0d0ff 75px,#9797ff 76px,#7a7aff 77px,#a5a5ff 78px,#f3f3ff 79px,#ff8484 81px,#ff9393 82px,#ffdada 83px,#cdcdff 84px,#8f8fff 85px,#9393ff 86px,#ebebff 88px,#ffefef 89px,#ffd8d8 90px,#ffdfdf 91px,#fffefe 92px,#ceceff 94px,#c0c0ff 96px,#e7e7ff 99px,#c5c5ff 100px,#5f5fff 102px,#6868ff 103px,#eef 105px,#ffc3c3 107px,#ffe0e0 109px,#fff7f7 111px,#fff2f2 112px,#ffdada 113px,#ff9595 114px,#ff1212 115px,#f00 116px,#f00 118px,#ffe3e3 120px,#a3a3ff 121px,#1515ff 122px,#00f 123px,#00f 124px,#e4e4ff 126px,#ffcece 127px,#ff3636 129px,#ff1d1d 130px,#ff4d4d 131px,#ffa1a1 132px,#fdd 133px,#f1f1ff 134px,#c1c1ff 135px,#bdbdff 136px,#e3e3ff 137px,#fdd 138px,#ffa6a6 139px,#ffaeae 140px,#ffebeb 141px,#e6e6ff 142px,#bfbfff 144px,#99f 145px,#8989ff 146px,#a1a1ff 147px,#fffdfd 149px)"></i>
<i style="left:182px;top:71px;width:2px;height:151px;background:linear-gradient(#ffa7a7 0px,#d9d9ff 1px,#4141ff 2px,#00f 3px,#0101ff 4px,#99f 5px,#ffe4e4 6px,#ffc7c7 7px,#fefeff 10px,#d7d7ff 15px,#c4c4ff 17px,#fff4f4 19px,#ffdede 20px,#ffa7a7 21px,#ff1f1f 22px,#f00 23px,#ff3838 24px,#d0d0ff 25px,#00f 26px,#00f 28px,#b0b0ff 29px,#ff7f7f 30px,#f00 31px,#f00 32px,#ff1f1f 33px,#ffd0d0 34px,#7070ff 35px,#00f 36px,#00f 38px,#babaff 40px,#e4e4ff 41px,#fff4f4 42px,#ffd6d6 43px,#fffafa 45px,#ffbdbd 47px,#ffcece 48px,#e6e6ff 49px,#7676ff 50px,#2828ff 51px,#5454ff 52px,#c7c7ff 53px,#fcc 54px,#f77 55px,#ff7272 56px,#ffcbcb 57px,#c0c0ff 58px,#6161ff 59px,#6868ff 60px,#bebeff 61px,#fffbfb 62px,#ffb5b5 63px,#ff8787 64px,#ff9b9b 65px,#ffe3e3 66px,#c4c4ff 67px,#a4a4ff 68px,#fffefe 70px,#ff9b9b 72px,#ffb8b8 73px,#fff5f5 74px,#e3e3ff 75px,#7171ff 77px,#6868ff 78px,#fff9f9 80px,#ffa7a7 81px,#ff8080 82px,#ff9e9e 83px,#ffe8e8 84px,#c5c5ff 85px,#9595ff 86px,#a5a5ff 87px,#f0f0ff 89px,#ffe2e2 91px,#fff1f1 92px,#eef 93px,#c5c5ff 95px,#c1c1ff 97px,#e7e7ff 99px,#e5e5ff 100px,#8080ff 102px,#6262ff 103px,#7b7bff 104px,#fff 106px,#ffd2d2 107px,#ffc2c2 108px,#fff6f6 111px,#fff5f5 113px,#ffe0e0 114px,#ff9d9d 115px,#ff1616 116px,#f00 117px,#f00 119px,#f55 120px,#ffd7d7 121px,#a5a5ff 122px,#0d0dff 123px,#00f 125px,#e8e8ff 127px,#ffc0c0 128px,#ff6d6d 129px,#ff2d2d 130px,#ff2d2d 131px,#ff6d6d 132px,#ffc8c8 133px,#f9f9ff 134px,#b8b8ff 135px,#b7b7ff 136px,#fbfbff 137px,#ff9c9c 139px,#ffbdbd 140px,#fff8f8 141px,#a2a2ff 144px,#9494ff 145px,#ececff 148px,#fff2f2 149px,#ffe0e0 150px)"></i>
<i style="left:184px;top:70px;width:2px;height:152px;background:linear-gradient(#ff7979 0px,#ffc3c3 1px,#bdbdff 2px,#3131ff 3px,#00f 4px,#3e3eff 5px,#d8d8ff 6px,#ffd2d2 7px,#ffcbcb 8px,#fcfcff 13px,#c5c5ff 16px,#aeaeff 17px,#afafff 18px,#f9f9ff 20px,#ffe4e4 21px,#ff8d8d 22px,#f00 23px,#f00 24px,#ff8989 25px,#8181ff 26px,#00f 27px,#00f 28px,#1e1eff 29px,#eaeaff 30px,#ff5e5e 31px,#f00 32px,#f00 33px,#ff7070 34px,#d5d5ff 35px,#1313ff 36px,#00f 37px,#00f 39px,#7878ff 40px,#cdcdff 41px,#ededff 42px,#fff2f2 43px,#ffe4e4 44px,#fff7f7 45px,#fff6f6 46px,#ffcdcd 47px,#ffb8b8 48px,#ffdede 49px,#cacaff 50px,#5f5fff 51px,#3434ff 52px,#7b7bff 53px,#e2e2ff 54px,#ffbebe 55px,#ff7979 56px,#ff8d8d 57px,#ffebeb 58px,#9d9dff 59px,#4c4cff 60px,#7979ff 61px,#d1d1ff 62px,#fff1f1 63px,#ffb8b8 64px,#ffa0a0 65px,#ffbcbc 66px,#fdfdff 67px,#b8b8ff 68px,#b6b6ff 69px,#e6e6ff 70px,#ffe4e4 71px,#ffa8a8 72px,#ff8f8f 73px,#fffdfd 75px,#d6d6ff 76px,#55f 78px,#6565ff 79px,#bbf 80px,#ffe8e8 81px,#f99 82px,#ff8181 83px,#ffa8a8 84px,#fff0f0 85px,#c7c7ff 86px,#a6a6ff 87px,#f9f9ff 90px,#ffe8e8 92px,#fffbfb 93px,#c5c5ff 96px,#c8c8ff 98px,#e8e8ff 100px,#ddf 101px,#7676ff 103px,#6565ff 104px,#8a8aff 105px,#ccf 106px,#fff6f6 107px,#ffd0d0 108px,#ffc7c7 109px,#fff7f7 112px,#ffeaea 114px,#ffbebe 115px,#f00 117px,#f00 119px,#ff1d1d 120px,#ffa3a3 121px,#d7d7ff 122px,#3f3fff 123px,#00f 124px,#00f 125px,#2323ff 126px,#b3b3ff 127px,#fdd 128px,#ff8484 129px,#ff4141 130px,#ff3939 131px,#ff6d6d 132px,#fff3f3 134px,#a8a8ff 136px,#c7c7ff 137px,#f9f9ff 138px,#ffe3e3 139px,#ffe4e4 140px,#f0f0ff 141px,#d4d4ff 142px,#b8b8ff 144px,#99f 145px,#9797ff 146px,#e6e6ff 148px,#fffdfd 149px,#ffdfdf 150px,#ffd8d8 151px)"></i>
<i style="left:186px;top:69px;width:2px;height:152px;background:linear-gradient(#ff7d7d 0px,#ff7a7a 1px,#ffd5d5 2px,#aeaeff 3px,#2f2fff 4px,#0e0eff 5px,#fff8f8 7px,#ffc2c2 8px,#ffc4c4 12px,#fff7f7 14px,#d0d0ff 16px,#9696ff 18px,#9d9dff 19px,#e4e4ff 21px,#ffefef 22px,#f00 24px,#ff1515 25px,#ffe6e6 26px,#3838ff 27px,#00f 28px,#00f 29px,#5252ff 30px,#fee 31px,#ff4949 32px,#f00 33px,#ff1616 34px,#ffb1b1 35px,#8989ff 36px,#00f 37px,#00f 40px,#8c8cff 41px,#d7d7ff 42px,#f4f4ff 43px,#fff4f4 45px,#f9f9ff 46px,#fff3f3 47px,#ffc7c7 48px,#ffc0c0 49px,#fff3f3 50px,#b4b4ff 51px,#5858ff 52px,#5252ff 53px,#f5f5ff 55px,#ff9595 57px,#ffb6b6 58px,#f4f4ff 59px,#8989ff 60px,#5454ff 61px,#e0e0ff 63px,#ffebeb 64px,#ffbebe 65px,#ffb6b6 66px,#ffd8d8 67px,#e7e7ff 68px,#babaff 69px,#cfcfff 70px,#fffefe 71px,#ff8686 73px,#ff7a7a 74px,#fff6f6 76px,#d0d0ff 77px,#8686ff 78px,#5252ff 79px,#7272ff 80px,#c9c9ff 81px,#ffdede 82px,#ff9696 83px,#ff8585 84px,#ffaeae 85px,#fff1f1 86px,#cfcfff 87px,#babaff 88px,#fff 91px,#fee 93px,#fefeff 94px,#c8c8ff 97px,#d0d0ff 99px,#ebebff 101px,#dbdbff 102px,#7f7fff 104px,#7979ff 105px,#d9d9ff 107px,#fff1f1 108px,#ffd3d3 109px,#ffecec 113px,#ffd3d3 114px,#ff8a8a 115px,#ff2727 116px,#f00 117px,#ff0303 119px,#ff5f5f 120px,#fee 121px,#1818ff 123px,#00f 124px,#0707ff 125px,#5858ff 126px,#d5d5ff 127px,#ffc3c3 128px,#ff7070 129px,#ff4949 130px,#ff6464 131px,#ffd9d9 133px,#fcfcff 134px,#a7a7ff 136px,#9898ff 137px,#b1b1ff 138px,#dcdcff 139px,#fee 140px,#ffc3c3 141px,#ffd3d3 142px,#fdfdff 143px,#ccf 145px,#7373ff 147px,#8181ff 148px,#fff 151px)"></i>
<i style="left:188px;top:68px;width:2px;height:153px;background:linear-gradient(#ffa5a5 0px,#ff6767 1px,#ff8080 2px,#ffe5e5 3px,#9e9eff 4px,#2c2cff 5px,#3131ff 6px,#b8b8ff 7px,#ffd1d1 8px,#ffafaf 9px,#ffb2b2 11px,#ff9c9c 13px,#ffbaba 14px,#fee 15px,#e3e3ff 16px,#9393ff 18px,#7f7fff 19px,#9090ff 20px,#fffbfb 23px,#f11 25px,#ff6868 26px,#c3c3ff 27px,#0606ff 28px,#00f 30px,#7d7dff 31px,#ffcdcd 32px,#ff3030 33px,#f00 34px,#f33 35px,#ffe3e3 36px,#4c4cff 37px,#00f 38px,#0707ff 41px,#9696ff 42px,#dcdcff 43px,#fafaff 44px,#fff5f5 45px,#fefeff 46px,#f1f1ff 47px,#fff0f0 48px,#ffc7c7 49px,#ffcdcd 50px,#f7f7ff 51px,#5858ff 53px,#7272ff 54px,#c7c7ff 55px,#fffbfb 56px,#ffcbcb 57px,#ffb9b9 58px,#ffe0e0 59px,#d7d7ff 60px,#7e7eff 61px,#6c6cff 62px,#f1f1ff 64px,#ffbebe 66px,#ffc7c7 67px,#fff0f0 68px,#d7d7ff 69px,#c4c4ff 70px,#eaeaff 71px,#ffe4e4 72px,#ff6767 74px,#ff6a6a 75px,#fee 77px,#cbcbff 78px,#7f7fff 79px,#6060ff 80px,#8f8fff 81px,#dedeff 82px,#ffd4d4 83px,#ff9797 84px,#ff8e8e 85px,#ffb6b6 86px,#fff4f4 87px,#d8d8ff 88px,#d0d0ff 89px,#fff 91px,#fff3f3 94px,#fafaff 95px,#c9c9ff 98px,#ececff 102px,#dadaff 103px,#8d8dff 105px,#9191ff 106px,#e6e6ff 108px,#ffecec 109px,#ffdbdb 110px,#ffe6e6 113px,#ffc2c2 114px,#f00 116px,#ff0303 119px,#ff9191 120px,#e0e0ff 121px,#4c4cff 122px,#00f 123px,#0f0fff 125px,#8a8aff 126px,#ededff 127px,#fbb 128px,#ff6c6c 129px,#ff5252 130px,#ff8080 131px,#ffcaca 132px,#fffbfb 133px,#7676ff 137px,#6a6aff 138px,#88f 139px,#e4e4ff 140px,#f99 141px,#ff3636 142px,#ff2929 143px,#ff8282 144px,#ffefef 145px,#babaff 146px,#3636ff 148px,#2525ff 149px,#4d4dff 150px,#babaff 152px)"></i>
<i style="left:190px;top:68px;width:2px;height:152px;background:linear-gradient(#ff8989 0px,#ff5b5b 1px,#ff9393 2px,#fefeff 3px,#8282ff 4px,#2c2cff 5px,#6363ff 6px,#f7f7ff 7px,#faa 8px,#ff9f9f 9px,#ffa8a8 10px,#ff7f7f 13px,#ffa8a8 14px,#ffecec 15px,#d8d8ff 16px,#8282ff 18px,#7878ff 19px,#ceceff 22px,#fff6f6 23px,#ff7575 24px,#ff3636 25px,#ffbaba 26px,#77f 27px,#00f 28px,#0606ff 30px,#afafff 31px,#ffa1a1 32px,#ff1313 33px,#f00 34px,#ff5c5c 35px,#e5e5ff 36px,#1616ff 37px,#00f 38px,#00f 40px,#2e2eff 41px,#a7a7ff 42px,#e2e2ff 43px,#fff 44px,#f2f2ff 47px,#ffe5e5 48px,#ffc3c3 49px,#ffd8d8 50px,#e2e2ff 51px,#8c8cff 52px,#6060ff 53px,#9797ff 54px,#e7e7ff 55px,#ffeaea 56px,#ffcdcd 57px,#ffd5d5 58px,#fcfcff 59px,#7f7fff 61px,#9393ff 62px,#d7d7ff 63px,#fffafa 64px,#ffd3d3 65px,#ffc2c2 66px,#f7f7ff 68px,#c8c8ff 69px,#ceceff 70px,#fff 71px,#ff5858 74px,#ff7070 75px,#ffefef 77px,#c2c2ff 78px,#7d7dff 79px,#7878ff 80px,#f6f6ff 82px,#ff9d9d 84px,#ff9f9f 85px,#ffc5c5 86px,#fffdfd 87px,#dcdcff 88px,#e3e3ff 89px,#fffcfc 90px,#ffe9e9 93px,#f6f6ff 95px,#c6c6ff 98px,#e9e9ff 102px,#9393ff 105px,#a2a2ff 106px,#f2f2ff 108px,#ffe7e7 109px,#fee 112px,#ffd8d8 113px,#ff9b9b 114px,#ff1919 115px,#f00 116px,#f00 118px,#ff3434 119px,#ffd5d5 120px,#99f 121px,#0303ff 122px,#00f 124px,#4c4cff 125px,#c5c5ff 126px,#ffe7e7 127px,#ff9595 128px,#ff5656 129px,#ff6161 130px,#ffefef 132px,#e2e2ff 133px,#b0b0ff 134px,#a4a4ff 135px,#4343ff 138px,#4545ff 139px,#7c7cff 140px,#fffefe 141px,#ff9090 142px,#ff4e4e 143px,#ff5f5f 144px,#ffbfbf 145px,#ebebff 146px,#44f 149px,#4141ff 150px,#6b6bff 151px)"></i>
<i style="left:192px;top:68px;width:2px;height:152px;background:linear-gradient(#ff6f6f 0px,#ff5b5b 1px,#ffafaf 2px,#d8d8ff 3px,#5d5dff 4px,#3232ff 5px,#9e9eff 6px,#ffcece 7px,#ff9191 8px,#ffa7a7 10px,#ff7878 12px,#ff7373 13px,#ffa3a3 14px,#ffeded 15px,#d2d2ff 16px,#8282ff 18px,#8585ff 19px,#e4e4ff 22px,#ffcece 23px,#ff5353 24px,#ff5454 25px,#fffefe 26px,#3b3bff 27px,#00f 28px,#00f 29px,#3a3aff 30px,#eef 31px,#ff6969 32px,#f00 33px,#ff0303 34px,#ff8c8c 35px,#b4b4ff 36px,#00f 37px,#00f 40px,#bbf 42px,#ebebff 43px,#fffafa 44px,#fffdfd 45px,#eef 46px,#fcfcff 47px,#ffd3d3 48px,#ffbebe 49px,#ffe7e7 50px,#c9c9ff 51px,#7979ff 52px,#7070ff 53px,#fffdfd 55px,#ffd7d7 56px,#ffc9c9 57px,#ffe9e9 58px,#e2e2ff 59px,#ababff 60px,#9191ff 61px,#f2f2ff 63px,#ffc9c9 65px,#ffcfcf 66px,#fff4f4 67px,#babaff 69px,#fff5f5 71px,#ff8080 73px,#ff6565 74px,#ffc0c0 76px,#fffbfb 77px,#b6b6ff 78px,#8585ff 79px,#9a9aff 80px,#d5d5ff 81px,#ffecec 82px,#ffbdbd 83px,#ffa9a9 84px,#ffb8b8 85px,#f2f2ff 87px,#e1e1ff 88px,#f5f5ff 89px,#ffdbdb 91px,#ffe2e2 93px,#fff7f7 94px,#c5c5ff 98px,#e5e5ff 101px,#dbdbff 102px,#9a9aff 104px,#9393ff 105px,#d5d5ff 107px,#fff 108px,#ffe5e5 109px,#fff0f0 112px,#ffd7d7 113px,#ff9898 114px,#ff1313 115px,#f00 116px,#f00 118px,#ff2929 119px,#fcc 120px,#a1a1ff 121px,#0909ff 122px,#00f 124px,#4d4dff 125px,#c8c8ff 126px,#ffe0e0 127px,#ff8787 128px,#f44 129px,#ff5050 130px,#ffe9e9 132px,#dfdfff 133px,#99f 135px,#2a2aff 137px,#00f 139px,#5050ff 140px,#d7d7ff 141px,#ffb8b8 142px,#ff8282 143px,#ff9a9a 144px,#fffafa 146px,#d5d5ff 147px,#9c9cff 148px,#7b7bff 149px,#8a8aff 150px,#b1b1ff 151px)"></i>
<i style="left:194px;top:68px;width:2px;height:152px;background:linear-gradient(#ff5e5e 0px,#ff6363 1px,#ffc6c6 2px,#b5b5ff 3px,#3d3dff 4px,#4141ff 5px,#d0d0ff 6px,#ffadad 7px,#ff8f8f 8px,#ffa8a8 9px,#ffaeae 10px,#ff6c6c 12px,#ff6c6c 13px,#ffa0a0 14px,#ffeaea 15px,#d5d5ff 16px,#a6a6ff 17px,#8b8bff 18px,#9797ff 19px,#e3e3ff 21px,#ffebeb 22px,#ff2525 24px,#ff7070 25px,#ccf 26px,#1414ff 27px,#00f 28px,#00f 29px,#8585ff 30px,#ffc5c5 31px,#ff2828 32px,#f00 33px,#ff1212 34px,#ffb2b2 35px,#9494ff 36px,#00f 37px,#00f 39px,#1919ff 40px,#88f 41px,#c9c9ff 42px,#f2f2ff 43px,#fff8f8 44px,#e9e9ff 46px,#fffafa 47px,#ffcbcb 48px,#ffc8c8 49px,#fffefe 50px,#adadff 51px,#6d6dff 52px,#8989ff 53px,#dcdcff 54px,#ffe4e4 55px,#ffc7c7 56px,#ffcece 57px,#fefeff 58px,#9f9fff 60px,#a6a6ff 61px,#dcdcff 62px,#fff8f8 63px,#ffd4d4 64px,#ffc6c6 65px,#ffe2e2 66px,#ebebff 67px,#bbf 68px,#aeaeff 69px,#fff8f8 71px,#f88 73px,#ff8585 74px,#f4f4ff 77px,#b3b3ff 78px,#9d9dff 79px,#f8f8ff 81px,#ffbaba 83px,#ffbebe 84px,#fffafa 86px,#e6e6ff 87px,#fee 89px,#ffcfcf 90px,#ffc4c4 91px,#ffcbcb 92px,#fffefe 94px,#cacaff 98px,#d8d8ff 101px,#9191ff 104px,#99f 105px,#fffefe 108px,#fff1f1 109px,#fff9f9 112px,#ffe1e1 113px,#ffb6b6 114px,#f00 116px,#f00 119px,#ff7373 120px,#fafaff 121px,#6161ff 122px,#00f 123px,#1010ff 125px,#9191ff 126px,#fbfbff 127px,#ff4242 129px,#ff2626 130px,#ff6060 131px,#ffbaba 132px,#fff 133px,#bdbdff 134px,#5656ff 135px,#0c0cff 136px,#2424ff 137px,#6868ff 138px,#d9d9ff 139px,#ffbebe 140px,#ff8989 141px,#ff9292 142px,#ffb7b7 143px,#ffd8d8 146px,#ffc7c7 148px,#ffa3a3 150px,#ffa5a5 151px)"></i>
<i style="left:196px;top:67px;width:2px;height:153px;background:linear-gradient(#ffa7a7 0px,#ff6363 1px,#f77 2px,#ffdada 3px,#9797ff 4px,#2424ff 5px,#4d4dff 6px,#eef 7px,#ffa4a4 8px,#ff9e9e 9px,#ffbcbc 10px,#ffb9b9 11px,#ff6868 13px,#ff6e6e 14px,#ffe8e8 16px,#d9d9ff 17px,#a9a9ff 18px,#9393ff 19px,#a4a4ff 20px,#fffdfd 22px,#ffb0b0 23px,#ff3131 24px,#ff0101 25px,#ff7d7d 26px,#b1b1ff 27px,#0a0aff 28px,#00f 29px,#2525ff 30px,#d0d0ff 31px,#ff8282 32px,#f00 33px,#f00 34px,#ff2828 35px,#ffcbcb 36px,#8989ff 37px,#00f 38px,#00f 40px,#9f9fff 42px,#f7f7ff 44px,#fff8f8 45px,#e8e8ff 47px,#fff5f5 48px,#ffd1d1 49px,#fdd 50px,#e3e3ff 51px,#8b8bff 52px,#5e5eff 53px,#9a9aff 54px,#f4f4ff 55px,#ffd2d2 56px,#ffbfbf 57px,#ffdbdb 58px,#e9e9ff 59px,#babaff 60px,#9e9eff 61px,#babaff 62px,#ebebff 63px,#ffefef 64px,#ffd0d0 65px,#ffd1d1 66px,#fff9f9 67px,#a1a1ff 69px,#a6a6ff 70px,#fffefe 72px,#ff9595 74px,#ffa5a5 75px,#ffe8e8 77px,#e9e9ff 78px,#bcbcff 79px,#bebeff 80px,#e8e8ff 81px,#ffeaea 82px,#ffc7c7 83px,#ffc2c2 84px,#fff1f1 86px,#e6e6ff 88px,#fffafa 89px,#ffb5b5 91px,#ffb2b2 92px,#fee 94px,#f8f8ff 95px,#cacaff 100px,#cacaff 102px,#9d9dff 105px,#f3f3ff 109px,#eaeaff 112px,#fbfbff 113px,#ffd0d0 115px,#ffa3a3 116px,#f33 117px,#f00 118px,#f00 121px,#ff7272 122px,#f7f7ff 123px,#5353ff 124px,#00f 125px,#00f 126px,#1f1fff 127px,#a2a2ff 128px,#ffe8e8 129px,#ff7a7a 130px,#ff2424 131px,#ff1a1a 132px,#ff6161 133px,#fcc 134px,#b3b3ff 135px,#0808ff 136px,#5252ff 137px,#fffbfb 138px,#ffb5b5 139px,#ffd2d2 140px,#ffd5d5 142px,#fafaff 144px,#fee 145px,#ff2626 148px,#ff0909 149px,#ff1b1b 150px,#ffabab 152px)"></i>
<i style="left:198px;top:67px;width:2px;height:153px;background:linear-gradient(#faa 0px,#ff7272 1px,#ff8c8c 2px,#fff0f0 3px,#7272ff 4px,#0808ff 5px,#5252ff 6px,#fdfdff 7px,#ffa7a7 8px,#ffafaf 9px,#ffcece 10px,#ffc4c4 11px,#ff6c6c 13px,#ff7676 14px,#ffe8e8 16px,#d9d9ff 17px,#aaf 18px,#99f 19px,#afafff 20px,#dbdbff 21px,#ffe3e3 22px,#f00 24px,#f00 25px,#f88 26px,#a2a2ff 27px,#1010ff 28px,#00f 29px,#6464ff 30px,#fff2f2 31px,#ff4d4d 32px,#f00 33px,#f00 34px,#ff3d3d 35px,#ffd9d9 36px,#9292ff 37px,#1e1eff 38px,#0505ff 39px,#2929ff 40px,#7676ff 41px,#d8d8ff 43px,#fdfdff 44px,#fff8f8 45px,#eaeaff 47px,#fff4f4 48px,#fdd 49px,#fff4f4 50px,#c6c6ff 51px,#6b6bff 52px,#55f 53px,#fff9f9 55px,#ffc6c6 56px,#ffbfbf 57px,#ffeaea 58px,#dbdbff 59px,#b7b7ff 60px,#adadff 61px,#f2f2ff 63px,#ffdbdb 65px,#eef 67px,#b4b4ff 68px,#8c8cff 69px,#a0a0ff 70px,#fffcfc 72px,#fbb 73px,#ffa2a2 74px,#fff4f4 77px,#cfcfff 79px,#fffafa 81px,#ffc8c8 83px,#ffe9e9 85px,#fbfbff 86px,#e5e5ff 87px,#ececff 88px,#ffe8e8 89px,#ffa2a2 91px,#ffa7a7 92px,#fff9f9 94px,#e7e7ff 98px,#c5c5ff 101px,#b4b4ff 105px,#e7e7ff 109px,#d7d7ff 112px,#f2f2ff 113px,#ffe5e5 114px,#ffc1c1 115px,#ff8383 116px,#ff2020 117px,#f00 118px,#f00 120px,#ff1d1d 121px,#ff8e8e 122px,#d9d9ff 123px,#3636ff 124px,#00f 125px,#0404ff 126px,#5656ff 127px,#d8d8ff 128px,#ffb6b6 129px,#ff4f4f 130px,#ff1313 131px,#ff2727 132px,#ff7878 133px,#ffe3e3 134px,#b8b8ff 135px,#3232ff 136px,#5353ff 137px,#f3f3ff 138px,#ff9898 139px,#ff7878 140px,#ff8585 141px,#fdfdff 144px,#b4b4ff 146px,#b7b7ff 147px,#e3e3ff 148px,#ffe7e7 149px,#ffd8d8 150px,#fff1f1 151px,#e0e0ff 152px)"></i>
<i style="left:200px;top:68px;width:2px;height:151px;background:linear-gradient(#ff8686 0px,#faa 1px,#e2e2ff 2px,#3c3cff 3px,#00f 4px,#6d6dff 5px,#ffe9e9 6px,#ffa7a7 7px,#ffd6d6 9px,#ffc7c7 10px,#ff7171 12px,#ff7d7d 13px,#ffecec 15px,#d8d8ff 16px,#aeaeff 17px,#a2a2ff 18px,#b9b9ff 19px,#e4e4ff 20px,#ffd5d5 21px,#f55 22px,#f00 23px,#f00 24px,#f99 25px,#8a8aff 26px,#0707ff 27px,#0303ff 28px,#8181ff 29px,#ffcece 30px,#ff2525 31px,#f00 32px,#f00 33px,#ff4848 34px,#ffe4e4 35px,#9494ff 36px,#3737ff 37px,#22f 38px,#b8b8ff 41px,#fffdfd 43px,#fffafa 44px,#ebebff 45px,#ececff 46px,#fff3f3 47px,#ffe3e3 48px,#fdfdff 49px,#6363ff 51px,#6060ff 52px,#bbf 53px,#ffefef 54px,#ffc2c2 55px,#ffc2c2 56px,#fff3f3 57px,#bbf 59px,#bcbcff 60px,#f5f5ff 62px,#ffe5e5 64px,#fff3f3 65px,#e2e2ff 66px,#a6a6ff 67px,#8383ff 68px,#9f9fff 69px,#fff6f6 71px,#ffb6b6 72px,#ffa8a8 73px,#fff7f7 76px,#dcdcff 78px,#fff0f0 80px,#fcc 82px,#fff2f2 84px,#f4f4ff 85px,#e1e1ff 86px,#efefff 87px,#ffe2e2 88px,#ff9b9b 90px,#ffa4a4 91px,#fffdfd 93px,#f0f0ff 95px,#ededff 97px,#c5c5ff 100px,#bdbdff 104px,#e5e5ff 108px,#ceceff 110px,#d0d0ff 111px,#f5f5ff 112px,#ffc8c8 113px,#f00 115px,#f00 118px,#ff4040 119px,#ffc1c1 120px,#b7b7ff 121px,#1f1fff 122px,#00f 123px,#1919ff 124px,#9a9aff 125px,#ffecec 126px,#ff2d2d 128px,#ff0707 129px,#ff3a3a 130px,#ffe6e6 132px,#ebebff 133px,#99f 137px,#7979ff 138px,#8686ff 139px,#d1d1ff 140px,#ffd4d4 141px,#ff9393 142px,#ff8f8f 143px,#f1f1ff 145px,#9191ff 147px,#6868ff 149px,#7575ff 150px)"></i>
<i style="left:202px;top:68px;width:2px;height:151px;background:linear-gradient(#ffa5a5 0px,#ffdcdc 1px,#9898ff 2px,#0707ff 3px,#0606ff 4px,#a2a2ff 5px,#ffcbcb 6px,#ffa1a1 7px,#ffd0d0 9px,#ffc2c2 10px,#ff7c7c 12px,#ff8a8a 13px,#fff4f4 15px,#b4b4ff 17px,#acacff 18px,#e7e7ff 20px,#ffd4d4 21px,#ff4747 22px,#f00 23px,#f00 24px,#ffbcbc 25px,#4b4bff 26px,#00f 27px,#00f 28px,#6d6dff 29px,#ffc0c0 30px,#ff0606 31px,#f00 33px,#f55 34px,#fbfbff 35px,#6161ff 36px,#0808ff 37px,#0202ff 38px,#3d3dff 39px,#8e8eff 40px,#e5e5ff 42px,#fff8f8 43px,#fffdfd 44px,#e3e3ff 45px,#e7e7ff 46px,#fff3f3 47px,#ffe5e5 48px,#f7f7ff 49px,#6e6eff 51px,#7272ff 52px,#c2c2ff 53px,#fff4f4 54px,#ffcaca 55px,#ffcaca 56px,#fff9f9 57px,#cfcfff 58px,#b2b2ff 59px,#b7b7ff 60px,#fefeff 62px,#ffe5e5 64px,#fff6f6 65px,#e1e1ff 66px,#aaf 67px,#8c8cff 68px,#d4d4ff 70px,#fff2f2 71px,#ffb4b4 72px,#ffa7a7 73px,#fff1f1 76px,#f5f5ff 77px,#e6e6ff 78px,#fff3f3 80px,#ffc9c9 82px,#fff1f1 84px,#f1f1ff 85px,#dcdcff 86px,#eaeaff 87px,#ffe5e5 88px,#f99 90px,#ff9f9f 91px,#fffafa 93px,#f6f6ff 95px,#f8f8ff 97px,#acacff 103px,#c2c2ff 105px,#eaeaff 107px,#efefff 108px,#d3d3ff 110px,#d8d8ff 111px,#fff4f4 112px,#ff9191 113px,#ff0a0a 114px,#f00 117px,#ff4343 118px,#ffc3c3 119px,#c1c1ff 120px,#3636ff 121px,#00f 122px,#11f 123px,#8f8fff 124px,#fff2f2 125px,#ff3c3c 127px,#f11 128px,#ff3535 129px,#ffdede 131px,#dbdbff 132px,#8686ff 133px,#4a4aff 134px,#5d5dff 135px,#ceceff 137px,#f4f4ff 138px,#fdfdff 141px,#afafff 143px,#a9a9ff 144px,#d9d9ff 147px,#fffefe 148px,#ffd7d7 149px,#ffc8c8 150px)"></i>
<i style="left:204px;top:68px;width:2px;height:151px;background:linear-gradient(#ffc8c8 0px,#e2e2ff 1px,#4747ff 2px,#00f 3px,#2d2dff 4px,#d7d7ff 5px,#ffb4b4 6px,#ff9a9a 7px,#ffc2c2 9px,#ff8d8d 12px,#ff9f9f 13px,#fff 15px,#b6b6ff 17px,#b3b3ff 18px,#e7e7ff 20px,#ffd9d9 21px,#ff4040 22px,#f00 23px,#f00 24px,#fff1f1 25px,#0505ff 26px,#00f 28px,#5656ff 29px,#ffb1b1 30px,#f00 31px,#f00 33px,#ff7272 34px,#c8c8ff 35px,#1212ff 36px,#00f 37px,#00f 38px,#2121ff 39px,#9292ff 40px,#ceceff 41px,#f1f1ff 42px,#fff3f3 43px,#fdfdff 44px,#d9d9ff 45px,#e1e1ff 46px,#fff6f6 47px,#ffebeb 48px,#ececff 49px,#7373ff 51px,#7c7cff 52px,#fdfdff 54px,#ffdada 55px,#ffd6d6 56px,#fdfdff 57px,#c7c7ff 58px,#a2a2ff 59px,#acacff 60px,#e7e7ff 61px,#fff0f0 62px,#ffe2e2 64px,#fff9f9 65px,#e0e0ff 66px,#b4b4ff 67px,#9f9fff 68px,#ddf 70px,#ffecec 71px,#ffb0b0 72px,#ffa3a3 73px,#ffd9d9 75px,#fff 77px,#ececff 78px,#fffafa 80px,#ffc4c4 82px,#ffd0d0 83px,#fff1f1 84px,#ececff 85px,#d5d5ff 86px,#e3e3ff 87px,#ffeaea 88px,#ff9696 90px,#f99 91px,#fff7f7 93px,#fafaff 95px,#f6f6ff 98px,#9c9cff 103px,#a1a1ff 104px,#f7f7ff 107px,#fefeff 108px,#dedeff 110px,#e5e5ff 111px,#ffe1e1 112px,#f00 114px,#f00 117px,#fffefe 119px,#0303ff 121px,#00f 122px,#3f3fff 123px,#c6c6ff 124px,#ffc9c9 125px,#ff7272 126px,#ff2f2f 127px,#ff2727 128px,#ff6565 129px,#ffb8b8 130px,#fffafa 131px,#bbf 132px,#3131ff 133px,#6b6bff 134px,#fff3f3 135px,#ffc2c2 136px,#fcfcff 137px,#d7d7ff 138px,#5f5fff 140px,#4f4fff 141px,#77f 142px,#c4c4ff 143px,#ffdbdb 144px,#ff7f7f 145px,#ff5a5a 146px,#ffe0e0 150px)"></i>
<i style="left:206px;top:68px;width:2px;height:152px;background:linear-gradient(#ffeaea 0px,#9c9cff 1px,#0808ff 2px,#00f 3px,#6464ff 4px,#fff8f8 5px,#ffa3a3 6px,#ff9494 7px,#ffb3b3 9px,#ff9f9f 12px,#ffb5b5 13px,#ffdede 14px,#f0f0ff 15px,#c6c6ff 16px,#afafff 17px,#b1b1ff 18px,#e5e5ff 20px,#fdd 21px,#ff3b3b 22px,#f00 23px,#ff0303 24px,#d8d8ff 25px,#00f 26px,#00f 28px,#6060ff 29px,#ff9c9c 30px,#f00 31px,#f00 33px,#f99 34px,#9c9cff 35px,#00f 36px,#00f 38px,#2929ff 39px,#a5a5ff 40px,#e0e0ff 41px,#fefeff 42px,#ffefef 43px,#f8f8ff 44px,#d4d4ff 45px,#dfdfff 46px,#fff9f9 47px,#fff4f4 48px,#dfdfff 49px,#6b6bff 51px,#7979ff 52px,#ededff 54px,#ffe5e5 56px,#f4f4ff 57px,#9c9cff 59px,#afafff 60px,#f5f5ff 61px,#ffdfdf 62px,#ffd8d8 63px,#fefeff 65px,#b8b8ff 67px,#a9a9ff 68px,#e6e6ff 70px,#ffe4e4 71px,#faa 72px,#ff9f9f 73px,#ffd6d6 75px,#fdfdff 77px,#e3e3ff 78px,#dfdfff 79px,#f8f8ff 80px,#ffc1c1 82px,#ffcdcd 83px,#fff2f2 84px,#cbcbff 86px,#dadaff 87px,#fff1f1 88px,#ff9898 90px,#ff9a9a 91px,#fffafa 93px,#efefff 94px,#fff 97px,#e4e4ff 100px,#9797ff 103px,#9c9cff 104px,#fffbfb 107px,#fff2f2 108px,#f9f9ff 109px,#e9e9ff 110px,#ededff 111px,#ffe6e6 112px,#f88 113px,#ff0606 114px,#f00 117px,#fff7f7 119px,#0303ff 121px,#00f 122px,#2424ff 123px,#b0b0ff 124px,#ffdbdb 125px,#ff4848 127px,#ff3636 128px,#f66 129px,#fff2f2 131px,#c8c8ff 132px,#7d7dff 133px,#5858ff 134px,#7e7eff 138px,#9898ff 139px,#eef 141px,#d8d8ff 143px,#f8f8ff 144px,#ff8e8e 146px,#ff8383 147px,#ffb6b6 149px,#fff1f1 150px,#d2d2ff 151px)"></i>
<i style="left:208px;top:68px;width:2px;height:151px;background:linear-gradient(#ebebff 0px,#55f 1px,#00f 2px,#0303ff 3px,#a0a0ff 4px,#ffd6d6 5px,#ff9b9b 6px,#ff9393 7px,#faa 9px,#ff9e9e 11px,#ffc3c3 13px,#fee 14px,#ddf 15px,#b0b0ff 16px,#99f 17px,#a4a4ff 18px,#e4e4ff 20px,#ffd6d6 21px,#ff2121 22px,#f00 23px,#ff1a1a 24px,#aaf 25px,#00f 26px,#00f 28px,#7676ff 29px,#ff8f8f 30px,#f00 31px,#f00 32px,#ff1313 33px,#ffcdcd 34px,#7676ff 35px,#00f 36px,#00f 38px,#44f 39px,#b9b9ff 40px,#eef 41px,#fff7f7 42px,#ffeded 43px,#f5f5ff 44px,#d6d6ff 45px,#fcfcff 47px,#fafaff 48px,#d0d0ff 49px,#6262ff 51px,#7575ff 52px,#e4e4ff 54px,#fff9f9 55px,#fff4f4 56px,#e9e9ff 57px,#9b9bff 59px,#b8b8ff 60px,#fffcfc 61px,#ffd6d6 62px,#ffd6d6 63px,#f5f5ff 65px,#b0b0ff 67px,#a2a2ff 68px,#e7e7ff 70px,#ffe7e7 71px,#ffb6b6 72px,#ffaeae 73px,#ffeded 76px,#e6e6ff 77px,#c1c1ff 78px,#c2c2ff 79px,#e8e8ff 80px,#ffe3e3 81px,#ffbfbf 82px,#ffcbcb 83px,#fff6f6 84px,#b6b6ff 86px,#c7c7ff 87px,#fffdfd 88px,#ffc3c3 89px,#ffa1a1 90px,#ffa6a6 91px,#fafaff 93px,#e4e4ff 94px,#e3e3ff 100px,#8d8dff 103px,#9292ff 104px,#e4e4ff 106px,#fff4f4 107px,#ffe8e8 108px,#fff9f9 109px,#f0f0ff 111px,#fff8f8 112px,#ffc2c2 113px,#f00 115px,#f00 117px,#ff2121 118px,#ffaeae 119px,#d1d1ff 120px,#4141ff 121px,#00f 122px,#00f 123px,#4646ff 124px,#d1d1ff 125px,#ffd5d5 126px,#ff5252 128px,#ff4949 129px,#ffc6c6 131px,#f8f8ff 132px,#5e5eff 136px,#6464ff 138px,#9595ff 139px,#ebebff 140px,#ffdcdc 141px,#ffb1b1 145px,#ffd6d6 147px,#fff1f1 148px,#fff2f2 149px,#ffd6d6 150px)"></i>
<i style="left:210px;top:69px;width:2px;height:151px;background:linear-gradient(#1717ff 0px,#00f 1px,#3b3bff 2px,#dbdbff 3px,#ffbfbf 4px,#ff9898 5px,#ffa4a4 8px,#f99 10px,#ffc9c9 12px,#fffafa 13px,#9393ff 15px,#7e7eff 16px,#9191ff 17px,#e3e3ff 19px,#ffbdbd 20px,#f00 21px,#f00 22px,#ff2e2e 23px,#7d7dff 24px,#00f 25px,#00f 27px,#8989ff 28px,#ff8e8e 29px,#f00 30px,#f00 31px,#ff4d4d 32px,#fffafa 33px,#5050ff 34px,#00f 35px,#00f 37px,#5959ff 38px,#c6c6ff 39px,#f5f5ff 40px,#ffeded 42px,#f2f2ff 43px,#dadaff 44px,#f4f4ff 46px,#ececff 47px,#c4c4ff 48px,#5d5dff 50px,#7979ff 51px,#e7e7ff 53px,#fffafa 54px,#fffbfb 55px,#e2e2ff 56px,#9b9bff 58px,#bdbdff 59px,#fff6f6 60px,#ffd5d5 61px,#ffdada 62px,#fff3f3 63px,#ebebff 64px,#a2a2ff 66px,#9696ff 67px,#e4e4ff 69px,#fff2f2 70px,#ffcdcd 71px,#ffc6c6 72px,#ffdfdf 74px,#fffafa 75px,#9d9dff 77px,#a9a9ff 78px,#dfdfff 79px,#ffe2e2 80px,#fbb 81px,#ffc9c9 82px,#fff9f9 83px,#a5a5ff 85px,#b8b8ff 86px,#fafaff 87px,#ffc7c7 88px,#ffa8a8 89px,#ffb1b1 90px,#ffdede 91px,#efefff 92px,#cfcfff 94px,#cacaff 97px,#d7d7ff 99px,#c1c1ff 100px,#7878ff 102px,#8080ff 103px,#ddf 105px,#fff9f9 106px,#ffe8e8 107px,#f8f8ff 109px,#f1f1ff 110px,#fcfcff 111px,#ffebeb 112px,#ffbdbd 113px,#f00 115px,#f00 117px,#ff2323 118px,#ffa8a8 119px,#d1d1ff 120px,#3b3bff 121px,#00f 122px,#00f 123px,#2f2fff 124px,#a9a9ff 125px,#fffdfd 126px,#ff5757 128px,#ff4343 129px,#f77 130px,#ffc5c5 131px,#e4e4ff 132px,#6262ff 133px,#7070ff 134px,#ffe9e9 135px,#ff8484 136px,#fdfdff 139px,#a0a0ff 141px,#a1a1ff 142px,#e4e4ff 143px,#ffc0c0 144px,#ff7a7a 145px,#f55 146px,#ff5151 147px,#ff7878 150px)"></i>
<i style="left:212px;top:69px;width:2px;height:152px;background:linear-gradient(#00f 0px,#0d0dff 1px,#9090ff 2px,#fff2f2 3px,#ffb1b1 4px,#f99 5px,#ff9696 8px,#ff9090 10px,#ffd2d2 12px,#f4f4ff 13px,#7979ff 15px,#6868ff 16px,#acacff 18px,#e1e1ff 19px,#ff9595 20px,#f00 21px,#f00 22px,#ff4c4c 23px,#4b4bff 24px,#00f 25px,#00f 27px,#9c9cff 28px,#ff9090 29px,#ff0808 30px,#f00 31px,#ff6c6c 32px,#e6e6ff 33px,#2424ff 34px,#00f 35px,#00f 37px,#d3d3ff 39px,#fdfdff 40px,#ffeded 41px,#fff2f2 42px,#dadaff 44px,#f2f2ff 46px,#e5e5ff 47px,#babaff 48px,#7878ff 49px,#5353ff 50px,#7e7eff 51px,#c4c4ff 52px,#f4f4ff 53px,#ffefef 54px,#fff6f6 55px,#e4e4ff 56px,#b5b5ff 57px,#99f 58px,#c2c2ff 59px,#fff1f1 60px,#ffd2d2 61px,#ffdede 62px,#fffefe 63px,#9797ff 66px,#9191ff 67px,#e3e3ff 69px,#fff5f5 70px,#ffd6d6 71px,#ffe3e3 74px,#fdfdff 75px,#9393ff 77px,#a6a6ff 78px,#e2e2ff 79px,#ffdcdc 80px,#ffb6b6 81px,#ffc7c7 82px,#fff8f8 83px,#a9a9ff 85px,#bebeff 86px,#fffdfd 87px,#ffc1c1 88px,#ffa3a3 89px,#ffafaf 90px,#ffdfdf 91px,#ededff 92px,#c9c9ff 94px,#c0c0ff 97px,#c9c9ff 99px,#b2b2ff 100px,#6b6bff 102px,#7575ff 103px,#f5f5ff 106px,#fff3f3 108px,#fff 109px,#fafaff 111px,#ffe6e6 113px,#ffbaba 114px,#ff5252 115px,#f00 116px,#f00 118px,#ff1c1c 119px,#ffacac 120px,#c8c8ff 121px,#2424ff 122px,#00f 123px,#00f 124px,#1818ff 125px,#99f 126px,#fffefe 127px,#f99 128px,#ff4c4c 129px,#ff4848 130px,#ffd8d8 132px,#dfdfff 133px,#8f8fff 134px,#9595ff 135px,#d4d4ff 136px,#ffeded 137px,#ffdada 138px,#fff2f2 140px,#ccf 142px,#eaeaff 143px,#ffd5d5 144px,#ffa8a8 145px,#ff8686 148px,#ffa7a7 151px)"></i>
<i style="left:214px;top:70px;width:2px;height:150px;background:linear-gradient(#5151ff 0px,#d6d6ff 1px,#ffd3d3 2px,#ffabab 3px,#ff7d7d 8px,#ff8d8d 9px,#ffe0e0 11px,#e3e3ff 12px,#6b6bff 14px,#6262ff 15px,#a4a4ff 17px,#e1e1ff 18px,#ff6868 19px,#f00 20px,#f00 21px,#ff7f7f 22px,#1a1aff 23px,#00f 24px,#00f 26px,#bebeff 27px,#ff7e7e 28px,#f00 29px,#f00 30px,#ff6b6b 31px,#d8d8ff 32px,#0202ff 33px,#00f 36px,#7e7eff 37px,#e1e1ff 38px,#fff9f9 39px,#ffecec 40px,#fffefe 41px,#ddf 42px,#d6d6ff 43px,#eef 45px,#dedeff 46px,#ababff 47px,#6161ff 48px,#44f 49px,#8080ff 50px,#d1d1ff 51px,#fff9f9 52px,#ffe0e0 53px,#ffeded 54px,#e8e8ff 55px,#b4b4ff 56px,#99f 57px,#cacaff 58px,#ffe8e8 59px,#fcc 60px,#ffdbdb 61px,#fdfdff 62px,#8787ff 65px,#8b8bff 66px,#e7e7ff 68px,#ffebeb 69px,#ffc9c9 70px,#ffe4e4 73px,#fffefe 74px,#a8a8ff 76px,#b9b9ff 77px,#ededff 78px,#ffb7b7 80px,#ffcbcb 81px,#fff4f4 82px,#c6c6ff 84px,#dcdcff 85px,#ffe9e9 86px,#ffb5b5 87px,#ff9696 88px,#ffa4a4 89px,#ffd8d8 90px,#f1f1ff 91px,#d5d5ff 93px,#c2c2ff 98px,#7070ff 101px,#7e7eff 102px,#eaeaff 105px,#fff 106px,#eef 109px,#f9f9ff 110px,#ffecec 111px,#ffb7b7 112px,#ff4c4c 113px,#f00 114px,#f00 116px,#ff2c2c 117px,#ffacac 118px,#c3c3ff 119px,#2929ff 120px,#00f 121px,#00f 122px,#3d3dff 123px,#c6c6ff 124px,#ffe2e2 125px,#ff5858 127px,#ff5e5e 128px,#ffe2e2 130px,#fafaff 133px,#f7f7ff 135px,#7070ff 137px,#6464ff 138px,#9595ff 139px,#e6e6ff 140px,#ffa7a7 141px,#ff6e6e 142px,#ffa9a9 145px,#ffe7e7 146px,#d8d8ff 147px,#bfbfff 148px,#cbcbff 149px)"></i>
<i style="left:216px;top:70px;width:2px;height:151px;background:linear-gradient(#7a7aff 0px,#f3f3ff 1px,#ffc9c9 2px,#ffabab 3px,#ff9393 6px,#ff7b7b 8px,#ff9696 9px,#fff0f0 11px,#d6d6ff 12px,#9595ff 13px,#6a6aff 14px,#6868ff 15px,#a0a0ff 17px,#e2e2ff 18px,#ff4d4d 19px,#f00 20px,#f00 21px,#ffb1b1 22px,#0303ff 23px,#0a0aff 26px,#e3e3ff 27px,#ff5d5d 28px,#f00 29px,#f00 30px,#ff5e5e 31px,#d6d6ff 32px,#00f 33px,#00f 36px,#9393ff 37px,#ececff 38px,#fff3f3 39px,#fee 40px,#f5f5ff 41px,#d2d2ff 42px,#d1d1ff 43px,#e9e9ff 45px,#d7d7ff 46px,#9d9dff 47px,#4c4cff 48px,#3a3aff 49px,#dcdcff 51px,#ffecec 52px,#ffd6d6 53px,#ffe8e8 54px,#eaeaff 55px,#b4b4ff 56px,#9d9dff 57px,#d5d5ff 58px,#ffe0e0 59px,#ffc2c2 60px,#ffd2d2 61px,#fff 62px,#7575ff 65px,#8282ff 66px,#ededff 68px,#ffdada 69px,#ffb5b5 70px,#fff8f8 74px,#c2c2ff 76px,#ceceff 77px,#f7f7ff 78px,#ffbebe 80px,#fff1f1 82px,#e6e6ff 84px,#f9f9ff 85px,#ff8a8a 88px,#f99 89px,#ffd2d2 90px,#f5f5ff 91px,#e3e3ff 92px,#ebebff 95px,#a8a8ff 99px,#8080ff 101px,#f3f3ff 106px,#efefff 109px,#fff5f5 110px,#ffb2b2 111px,#ff3737 112px,#f00 113px,#f00 115px,#ff4f4f 116px,#ffd1d1 117px,#a8a8ff 118px,#1212ff 119px,#00f 120px,#00f 121px,#6868ff 122px,#fff8f8 123px,#ffa2a2 124px,#ff6b6b 125px,#ff4848 126px,#ff5e5e 127px,#fff6f6 129px,#b9b9ff 131px,#7f7fff 133px,#8585ff 134px,#d7d7ff 136px,#ffd7d7 137px,#ffafaf 138px,#ffbaba 140px,#ffdfdf 141px,#e0e0ff 142px,#6f6fff 144px,#5656ff 145px,#6262ff 146px,#c7c7ff 148px,#e1e1ff 149px,#e1e1ff 150px)"></i>
<i style="left:218px;top:70px;width:2px;height:151px;background:linear-gradient(#9595ff 0px,#fffafa 1px,#ffc3c3 2px,#ffadad 3px,#ff9797 6px,#ff8181 7px,#ff8181 8px,#fffbfb 11px,#8f8fff 13px,#6c6cff 14px,#7070ff 15px,#a4a4ff 17px,#eaeaff 18px,#ff3e3e 19px,#f00 20px,#f00 21px,#ffeaea 22px,#00f 23px,#00f 25px,#3d3dff 26px,#ffecec 27px,#ff2e2e 28px,#f00 29px,#f00 30px,#ff6262 31px,#cbcbff 32px,#00f 33px,#00f 35px,#1212ff 36px,#a8a8ff 37px,#f4f4ff 38px,#fee 40px,#eef 41px,#ccf 42px,#ebebff 45px,#d4d4ff 46px,#4747ff 48px,#4242ff 49px,#e5e5ff 51px,#ffe6e6 52px,#ffd3d3 53px,#ffe9e9 54px,#e7e7ff 55px,#aeaeff 56px,#9b9bff 57px,#dadaff 58px,#ffdbdb 59px,#ffbebe 60px,#ffcdcd 61px,#fffefe 62px,#6f6fff 65px,#8585ff 66px,#f4f4ff 68px,#ffaeae 70px,#fdd 72px,#fff9f9 74px,#c9c9ff 76px,#d5d5ff 77px,#fdfdff 78px,#ffd3d3 79px,#ffbfbf 80px,#fff1f1 82px,#f2f2ff 84px,#fff9f9 85px,#ff8989 88px,#ff9a9a 89px,#ffd5d5 90px,#f4f4ff 91px,#e5e5ff 92px,#f4f4ff 95px,#a4a4ff 99px,#8b8bff 100px,#8484ff 101px,#e4e4ff 105px,#eaeaff 108px,#f9f9ff 109px,#ffd1d1 110px,#ff5e5e 111px,#f00 112px,#f00 114px,#ff2e2e 115px,#ffc1c1 116px,#c2c2ff 117px,#2d2dff 118px,#00f 119px,#00f 120px,#4949ff 121px,#f5f5ff 122px,#ff9292 123px,#ff4a4a 124px,#ff2525 125px,#ff3838 126px,#ffdcdc 128px,#dfdfff 129px,#5151ff 131px,#8989ff 132px,#fff7f7 133px,#ffa9a9 134px,#ffb2b2 135px,#f0f0ff 137px,#7d7dff 139px,#6969ff 140px,#8484ff 141px,#f9f9ff 143px,#fff1f1 145px,#f8f8ff 147px,#cbcbff 150px)"></i>
<i style="left:220px;top:69px;width:2px;height:151px;background:linear-gradient(#2d2dff 0px,#a7a7ff 1px,#fff3f3 2px,#ffc3c3 3px,#ffb2b2 4px,#faa 7px,#ff9696 9px,#ffd4d4 11px,#fffcfc 12px,#8484ff 14px,#6464ff 15px,#9393ff 17px,#b1b1ff 18px,#fbfbff 19px,#ff3a3a 20px,#f00 21px,#ff0404 22px,#e1e1ff 23px,#00f 24px,#00f 26px,#7979ff 27px,#ffb0b0 28px,#ff0101 29px,#f00 31px,#ff6868 32px,#c9c9ff 33px,#0101ff 34px,#00f 36px,#3d3dff 37px,#bdbdff 38px,#fefeff 39px,#ffeaea 40px,#fee 41px,#eaeaff 42px,#cbcbff 43px,#fff 45px,#fffafa 46px,#e7e7ff 47px,#7171ff 49px,#77f 50px,#f6f6ff 52px,#ffcdcd 54px,#ffe4e4 55px,#eaeaff 56px,#ababff 57px,#9797ff 58px,#d5d5ff 59px,#ffe7e7 60px,#ffcece 61px,#ffdada 62px,#fdfdff 63px,#8080ff 66px,#9797ff 67px,#f7f7ff 69px,#ffc0c0 71px,#fff1f1 74px,#f5f5ff 75px,#cdcdff 76px,#bbf 77px,#d0d0ff 78px,#fffefe 79px,#ffcbcb 80px,#ffb8b8 81px,#fff2f2 83px,#f1f1ff 85px,#fffcfc 86px,#ffa4a4 89px,#ffb0b0 90px,#fdd 91px,#f7f7ff 92px,#e4e4ff 94px,#e1e1ff 97px,#c0c0ff 99px,#8484ff 101px,#7d7dff 102px,#f1f1ff 106px,#f3f3ff 109px,#fff7f7 110px,#ffb7b7 111px,#ff3636 112px,#f00 113px,#f00 115px,#ff5050 116px,#ffdbdb 117px,#aaf 118px,#1d1dff 119px,#00f 120px,#00f 121px,#7f7fff 122px,#ffeaea 123px,#f77 124px,#ff2121 125px,#ff0101 126px,#ff1f1f 127px,#ffdada 129px,#e0e0ff 130px,#4f4fff 132px,#e0e0ff 133px,#ff9191 134px,#ffdada 135px,#dfdfff 136px,#b7b7ff 137px,#3a3aff 139px,#3535ff 140px,#5c5cff 141px,#fff0f0 143px,#ffa3a3 144px,#ff9b9b 145px,#fff9f9 150px)"></i>
<i style="left:222px;top:69px;width:2px;height:151px;background:linear-gradient(#3636ff 0px,#b0b0ff 1px,#fff4f4 2px,#ffc9c9 3px,#ffbaba 4px,#ffc8c8 7px,#ffb4b4 9px,#ffcece 11px,#fff5f5 12px,#c4c4ff 13px,#7979ff 14px,#5b5bff 15px,#9f9fff 17px,#c4c4ff 18px,#fff1f1 19px,#ff3f3f 20px,#f00 21px,#ff3b3b 22px,#c0c0ff 23px,#00f 24px,#00f 26px,#b4b4ff 27px,#ff7070 28px,#f00 29px,#f00 31px,#ff6565 32px,#d5d5ff 33px,#1d1dff 34px,#00f 35px,#00f 36px,#cfcfff 38px,#fff5f5 39px,#ffe3e3 40px,#ffeded 41px,#e8e8ff 42px,#ceceff 43px,#f1f1ff 44px,#ffdbdb 45px,#ffd4d4 46px,#fff9f9 47px,#b3b3ff 49px,#bebeff 50px,#e7e7ff 51px,#fff2f2 52px,#ffc3c3 54px,#f2f2ff 56px,#afafff 57px,#9696ff 58px,#fffefe 60px,#ffebeb 61px,#fcfcff 63px,#9b9bff 66px,#acacff 67px,#f7f7ff 69px,#ffd4d4 71px,#fdfdff 74px,#b4b4ff 76px,#a9a9ff 77px,#cacaff 78px,#fffbfb 79px,#ffc1c1 80px,#ffafaf 81px,#fff1f1 83px,#efefff 85px,#fbfbff 86px,#ffd1d1 89px,#ffd0d0 90px,#fffbfb 92px,#cdcdff 95px,#dadaff 98px,#c9c9ff 99px,#7f7fff 101px,#77f 102px,#e8e8ff 105px,#fff8f8 106px,#fffdfd 109px,#fff1f1 110px,#ffc1c1 111px,#f55 112px,#f00 113px,#f00 115px,#ff1818 116px,#ffa8a8 117px,#e0e0ff 118px,#6161ff 119px,#00f 120px,#00f 121px,#55f 122px,#e0e0ff 123px,#ffa6a6 124px,#ff3737 125px,#f00 126px,#f00 127px,#ff3535 128px,#ffa2a2 129px,#fff2f2 130px,#c1c1ff 131px,#6161ff 132px,#8181ff 133px,#fffbfb 134px,#f88 135px,#ff6868 136px,#ff7878 137px,#ffc0c0 138px,#d9d9ff 139px,#7b7bff 140px,#4e4eff 141px,#6161ff 142px,#a0a0ff 143px,#f5f5ff 144px,#ffbfbf 145px,#ff9898 146px,#ff9494 147px,#ffe0e0 150px)"></i>
<i style="left:224px;top:69px;width:2px;height:151px;background:linear-gradient(#3c3cff 0px,#b1b1ff 1px,#fff9f9 2px,#ffd1d1 3px,#ffc3c3 4px,#ffe6e6 7px,#ffc3c3 10px,#ffc6c6 11px,#ffebeb 12px,#c9c9ff 13px,#7878ff 14px,#5c5cff 15px,#d6d6ff 18px,#ffe2e2 19px,#ff4747 20px,#f00 21px,#ff6a6a 22px,#a9a9ff 23px,#00f 24px,#0303ff 26px,#dedeff 27px,#ff3a3a 28px,#f00 29px,#f00 31px,#ff6060 32px,#dedeff 33px,#3030ff 34px,#00f 35px,#00f 36px,#d8d8ff 38px,#ffecec 39px,#ffdada 40px,#ffe8e8 41px,#eaeaff 42px,#d3d3ff 43px,#fffefe 44px,#ffc3c3 45px,#ffbcbc 46px,#ffe2e2 47px,#f4f4ff 48px,#dedeff 49px,#fff7f7 51px,#ffc2c2 54px,#ffd5d5 55px,#fbfbff 56px,#b8b8ff 57px,#9b9bff 58px,#ebebff 60px,#fcfcff 61px,#f7f7ff 64px,#adadff 66px,#b7b7ff 67px,#fdfdff 69px,#ffdcdc 70px,#ffcfcf 71px,#fff8f8 73px,#efefff 74px,#a1a1ff 76px,#9d9dff 77px,#fff9f9 79px,#fbb 80px,#ffa7a7 81px,#ffefef 83px,#f0f0ff 85px,#fff7f7 89px,#ffe1e1 91px,#f7f7ff 93px,#b9b9ff 95px,#bbf 96px,#e0e0ff 98px,#d5d5ff 99px,#8181ff 101px,#7676ff 102px,#9797ff 103px,#fbfbff 105px,#ffe3e3 106px,#ffe7e7 108px,#ffebeb 110px,#ffd4d4 111px,#ff9a9a 112px,#ff2a2a 113px,#f00 114px,#f00 116px,#ff2c2c 117px,#ffb8b8 118px,#cfcfff 119px,#55f 120px,#0404ff 121px,#0a0aff 122px,#6a6aff 123px,#e6e6ff 124px,#ff9e9e 125px,#ff1d1d 126px,#f00 127px,#f00 128px,#ff2727 129px,#ff9494 130px,#ffe0e0 131px,#e5e5ff 132px,#a7a7ff 133px,#9a9aff 134px,#d0d0ff 135px,#fdd 136px,#ff9494 137px,#ff6565 138px,#ff8080 139px,#ffe1e1 141px,#ebebff 142px,#8383ff 144px,#7a7aff 145px,#9090ff 146px,#fdfdff 148px,#ffc6c6 149px,#ffa3a3 150px)"></i>
<i style="left:226px;top:68px;width:2px;height:152px;background:linear-gradient(#0c0cff 0px,#44f 1px,#b4b4ff 2px,#fffdfd 3px,#ffd7d7 4px,#ffcbcb 5px,#fff8f8 8px,#ffe4e4 10px,#ffc1c1 12px,#ffe3e3 13px,#d1d1ff 14px,#8282ff 15px,#6868ff 16px,#e4e4ff 19px,#ffcece 20px,#ff2b2b 21px,#f00 22px,#ff6b6b 23px,#9c9cff 24px,#00f 25px,#0505ff 27px,#eef 28px,#ff1d1d 29px,#f00 30px,#f00 32px,#ff6161 33px,#dcdcff 34px,#2e2eff 35px,#00f 36px,#00f 37px,#dbdbff 39px,#ffe5e5 40px,#ffcfcf 41px,#ffdcdc 42px,#f1f1ff 43px,#dadaff 44px,#fff6f6 45px,#fbb 46px,#ffb3b3 47px,#f8f8ff 49px,#e1e1ff 50px,#f4f4ff 51px,#fcc 55px,#ffd9d9 56px,#fffcfc 57px,#c8c8ff 58px,#ababff 59px,#f7f7ff 62px,#ffe7e7 64px,#fff8f8 65px,#afafff 67px,#b8b8ff 68px,#fff1f1 70px,#ffbcbc 71px,#ffa9a9 72px,#fff4f4 74px,#e7e7ff 75px,#9191ff 77px,#9191ff 78px,#fff8f8 80px,#ffb5b5 81px,#ffa0a0 82px,#ffebeb 84px,#fbfbff 85px,#e9e9ff 89px,#fcfcff 90px,#ffd6d6 92px,#ffdede 93px,#fdfdff 94px,#acacff 96px,#adadff 97px,#e4e4ff 99px,#e1e1ff 100px,#9595ff 102px,#8a8aff 103px,#a7a7ff 104px,#dbdbff 105px,#fff5f5 106px,#ffd5d5 107px,#ffcaca 108px,#ffe3e3 111px,#ffc3c3 113px,#ff9797 114px,#ff4242 115px,#f00 116px,#f00 118px,#f22 119px,#ffa7a7 120px,#dedeff 121px,#6868ff 122px,#0b0bff 123px,#0202ff 124px,#4949ff 125px,#cacaff 126px,#ffb2b2 127px,#ff2c2c 128px,#f00 129px,#f11 131px,#ff5e5e 132px,#ffa2a2 134px,#ffa9a9 135px,#ff8080 137px,#ffbebe 138px,#d3d3ff 139px,#7b7bff 140px,#7272ff 141px,#e7e7ff 143px,#e1e1ff 144px,#8181ff 146px,#5959ff 149px,#6e6eff 150px,#b9b9ff 151px)"></i>
<i style="left:228px;top:69px;width:2px;height:152px;background:linear-gradient(#4f4fff 0px,#b7b7ff 1px,#fdfdff 2px,#fdd 3px,#ffd0d0 4px,#fff9f9 7px,#ffe8e8 9px,#ffcaca 11px,#ffe7e7 12px,#d5d5ff 13px,#8e8eff 14px,#77f 15px,#ebebff 18px,#ffbcbc 19px,#ff0505 20px,#f00 21px,#ff5c5c 22px,#9090ff 23px,#00f 24px,#00f 26px,#e8e8ff 27px,#ff2323 28px,#f00 29px,#f00 31px,#ff7474 32px,#cacaff 33px,#1d1dff 34px,#00f 35px,#00f 36px,#dcdcff 38px,#ffe2e2 39px,#ffc5c5 40px,#ffd0d0 41px,#f9f9ff 42px,#e1e1ff 43px,#fff2f2 44px,#ffbcbc 45px,#ffb7b7 46px,#ffe2e2 47px,#eaeaff 48px,#ccf 49px,#fff7f7 51px,#ffdede 54px,#fffdfd 56px,#d3d3ff 57px,#bbf 58px,#fff9f9 61px,#ffdfdf 62px,#ffdada 63px,#fff2f2 64px,#d9d9ff 65px,#aeaeff 66px,#b7b7ff 67px,#e2e2ff 68px,#ffe1e1 69px,#ff9898 70px,#ff7d7d 71px,#ffebeb 73px,#e6e6ff 74px,#8181ff 76px,#7f7fff 77px,#b5b5ff 78px,#fffcfc 79px,#ffb3b3 80px,#ff9b9b 81px,#ffe9e9 83px,#fcfcff 84px,#f1f1ff 88px,#fff4f4 89px,#ffd4d4 90px,#ffcbcb 91px,#ffdbdb 92px,#fafaff 93px,#a5a5ff 95px,#a7a7ff 96px,#e7e7ff 98px,#ececff 99px,#b7b7ff 101px,#adadff 102px,#c3c3ff 103px,#eaeaff 104px,#ffecec 105px,#ffcdcd 106px,#ffc1c1 107px,#ffe2e2 110px,#ffc7c7 112px,#ffa0a0 113px,#f00 115px,#f00 117px,#ff1515 118px,#ff9d9d 119px,#e3e3ff 120px,#6565ff 121px,#0707ff 122px,#00f 123px,#2e2eff 124px,#b6b6ff 125px,#ffc7c7 126px,#ff4747 127px,#f00 128px,#f11 130px,#ff6262 131px,#fbb 133px,#ffcdcd 134px,#ffc0c0 136px,#fff5f5 137px,#9a9aff 139px,#a3a3ff 140px,#d5d5ff 141px,#eef 142px,#d1d1ff 143px,#7e7eff 145px,#5d5dff 147px,#6e6eff 148px,#a5a5ff 149px,#fdfdff 150px,#ffafaf 151px)"></i>
<i style="left:230px;top:69px;width:2px;height:152px;background:linear-gradient(#5656ff 0px,#afafff 1px,#f3f3ff 2px,#ffd5d5 4px,#ffefef 7px,#ffe1e1 11px,#fffbfb 12px,#8f8fff 14px,#7c7cff 15px,#f3f3ff 18px,#ffb2b2 19px,#f00 20px,#f00 21px,#ff6969 22px,#7b7bff 23px,#00f 24px,#00f 26px,#d7d7ff 27px,#ff3c3c 28px,#f00 29px,#f00 31px,#ffa0a0 32px,#a4a4ff 33px,#0606ff 34px,#00f 36px,#dfdfff 38px,#ffe1e1 39px,#ffc3c3 40px,#ffcaca 41px,#fffdfd 42px,#e9e9ff 43px,#fff0f0 44px,#ffc3c3 45px,#ffc3c3 46px,#ffefef 47px,#b4b4ff 49px,#c8c8ff 50px,#f0f0ff 51px,#fffbfb 52px,#fff2f2 55px,#f9f9ff 56px,#ceceff 57px,#bbf 58px,#fffdfd 60px,#ffcaca 62px,#ffcece 63px,#ffeded 64px,#dedeff 65px,#b5b5ff 66px,#bfbfff 67px,#ebebff 68px,#ffd5d5 69px,#ff8484 70px,#ff6565 71px,#ffe3e3 73px,#eaeaff 74px,#7979ff 76px,#7272ff 77px,#a9a9ff 78px,#f9f9ff 79px,#ffb9b9 80px,#ff9f9f 81px,#ffeded 83px,#ececff 85px,#fcfcff 88px,#ffc6c6 90px,#ffc7c7 91px,#f5f5ff 93px,#a4a4ff 95px,#a5a5ff 96px,#ebebff 98px,#f6f6ff 99px,#c9c9ff 102px,#f7f7ff 104px,#ffc7c7 106px,#ffbebe 107px,#ffe4e4 110px,#ffdbdb 111px,#ffbcbc 112px,#ff6e6e 113px,#f00 114px,#f00 117px,#fbfbff 119px,#7373ff 120px,#00f 121px,#00f 123px,#fffafa 125px,#ff1818 127px,#f00 128px,#ff1313 129px,#ffc5c5 131px,#ececff 132px,#9191ff 133px,#8282ff 134px,#d8d8ff 135px,#faa 136px,#f55 137px,#ff5c5c 138px,#ffa0a0 139px,#fff6f6 140px,#bebeff 141px,#9c9cff 142px,#9595ff 143px,#acacff 144px,#e2e2ff 145px,#ffdfdf 146px,#ff6e6e 148px,#ff4949 150px,#ff4f4f 151px)"></i>
<i style="left:232px;top:69px;width:2px;height:152px;background:linear-gradient(#5b5bff 0px,#e7e7ff 2px,#ffebeb 3px,#ffd7d7 4px,#ffe1e1 7px,#ffeded 10px,#fffdfd 11px,#e8e8ff 12px,#8585ff 14px,#7676ff 15px,#cbcbff 17px,#f9f9ff 18px,#ffb3b3 19px,#ff1212 20px,#f00 21px,#ff8e8e 22px,#7070ff 23px,#00f 24px,#00f 26px,#d1d1ff 27px,#ff5757 28px,#f00 29px,#f00 30px,#ff1515 31px,#ffd9d9 32px,#6a6aff 33px,#00f 34px,#00f 36px,#e0e0ff 38px,#ffe3e3 39px,#ffc6c6 40px,#ffcbcb 41px,#fff7f7 42px,#f3f3ff 43px,#ffefef 44px,#ffcdcd 45px,#ffd3d3 46px,#fffdfd 47px,#a2a2ff 49px,#b1b1ff 50px,#f1f1ff 52px,#fff 53px,#fffbfb 55px,#e7e7ff 56px,#a7a7ff 57px,#9191ff 58px,#d5d5ff 59px,#ffeaea 60px,#ffc7c7 61px,#ffb6b6 62px,#ffc5c5 63px,#ffeaea 64px,#e4e4ff 65px,#bfbfff 66px,#cbcbff 67px,#f6f6ff 68px,#ffc7c7 69px,#ff6e6e 70px,#ff4848 71px,#ff8686 72px,#ffd9d9 73px,#f1f1ff 74px,#7c7cff 76px,#6d6dff 77px,#a0a0ff 78px,#efefff 79px,#ffc2c2 80px,#ffa5a5 81px,#fff6f6 83px,#d9d9ff 85px,#fff7f7 88px,#fbb 90px,#ffc6c6 91px,#ffe5e5 92px,#f2f2ff 93px,#aeaeff 95px,#afafff 96px,#f1f1ff 98px,#fafaff 99px,#c4c4ff 102px,#d3d3ff 103px,#f4f4ff 104px,#ffc8c8 106px,#ffc1c1 107px,#ffe5e5 110px,#ffdfdf 111px,#ffc0c0 112px,#ff6b6b 113px,#f00 114px,#f00 117px,#ff9b9b 118px,#ddf 119px,#4949ff 120px,#00f 121px,#00f 123px,#8f8fff 124px,#fff6f6 125px,#ff3e3e 127px,#ff1f1f 128px,#ff4e4e 129px,#ffe5e5 131px,#9e9eff 132px,#5252ff 133px,#e7e7ff 134px,#f77 135px,#ff7c7c 136px,#ffd1d1 138px,#efefff 139px,#b1b1ff 140px,#9898ff 141px,#b9b9ff 142px,#fbfbff 143px,#ff7878 145px,#ff6363 146px,#ffadad 148px,#ffc6c6 150px,#ffc5c5 151px)"></i>
<i style="left:234px;top:68px;width:2px;height:153px;background:linear-gradient(#6161ff 0px,#6262ff 1px,#dfdfff 3px,#ffefef 4px,#ffd6d6 5px,#ffd6d6 8px,#ffd2d2 9px,#fffafa 11px,#d0d0ff 13px,#7979ff 15px,#6e6eff 16px,#9494ff 17px,#fdfdff 19px,#ffb7b7 20px,#ff3131 21px,#ff0a0a 22px,#ffb5b5 23px,#6d6dff 24px,#00f 25px,#1212ff 27px,#d5d5ff 28px,#ff6868 29px,#f00 30px,#f00 31px,#f44 32px,#f4f4ff 33px,#3434ff 34px,#00f 35px,#00f 37px,#dfdfff 39px,#ffe5e5 40px,#ffcaca 41px,#ffcece 42px,#fff2f2 43px,#fcfcff 44px,#ffd7d7 46px,#ffe2e2 47px,#f6f6ff 48px,#9696ff 50px,#a0a0ff 51px,#e3e3ff 53px,#f9f9ff 54px,#fcfcff 56px,#d4d4ff 57px,#7878ff 58px,#5b5bff 59px,#c3c3ff 60px,#ffdcdc 61px,#ffb3b3 62px,#ffa8a8 63px,#ffbfbf 64px,#ffe8e8 65px,#e7e7ff 66px,#c6c6ff 67px,#d3d3ff 68px,#fff 69px,#ffbaba 70px,#f55 71px,#ff2727 72px,#ff6e6e 73px,#ffcdcd 74px,#f7f7ff 75px,#8383ff 77px,#6e6eff 78px,#9b9bff 79px,#e8e8ff 80px,#ffc9c9 81px,#ffa9a9 82px,#ffcaca 83px,#fffdfd 84px,#d7d7ff 85px,#c7c7ff 86px,#efefff 88px,#fff0f0 89px,#ffb3b3 91px,#ffc5c5 92px,#ffe9e9 93px,#f1f1ff 94px,#bcbcff 96px,#bdbdff 97px,#f7f7ff 99px,#fafaff 100px,#bebeff 102px,#afafff 103px,#c1c1ff 104px,#eaeaff 105px,#ffecec 106px,#ffcdcd 107px,#ffc5c5 108px,#ffe6e6 111px,#ffd9d9 113px,#ff9d9d 114px,#ff2626 115px,#f00 116px,#f00 118px,#fffefe 120px,#7575ff 121px,#00f 122px,#00f 124px,#5b5bff 125px,#dbdbff 126px,#ffcbcb 127px,#ff7c7c 128px,#ff4a4a 129px,#ff5c5c 130px,#ffdfdf 132px,#babaff 133px,#4d4dff 134px,#9d9dff 135px,#ffd4d4 136px,#ffb9b9 137px,#ffe7e7 139px,#fff6f6 143px,#fbb 146px,#ffb7b7 147px,#fcc 148px,#fff7f7 149px,#c9c9ff 151px,#c3c3ff 152px)"></i>
<i style="left:236px;top:67px;width:2px;height:154px;background:linear-gradient(#b0b0ff 0px,#7070ff 1px,#6e6eff 2px,#dfdfff 4px,#ffefef 5px,#ffd6d6 6px,#ffd6d6 9px,#ffd3d3 10px,#fbfbff 12px,#c7c7ff 14px,#7474ff 16px,#6c6cff 17px,#9393ff 18px,#fefeff 20px,#ffb6b6 21px,#ff3939 22px,#ff1d1d 23px,#ffc8c8 24px,#66f 25px,#00f 26px,#00f 27px,#2020ff 28px,#dcdcff 29px,#ff6868 30px,#f00 31px,#f00 32px,#ff5858 33px,#e1e1ff 34px,#2121ff 35px,#00f 36px,#00f 38px,#e1e1ff 40px,#ffe5e5 41px,#ffcbcb 42px,#ffd0d0 43px,#fff2f2 44px,#fefeff 45px,#ffdbdb 47px,#f1f1ff 49px,#9090ff 51px,#9b9bff 52px,#f8f8ff 55px,#fafaff 57px,#cdcdff 58px,#6969ff 59px,#4d4dff 60px,#c0c0ff 61px,#ffd7d7 62px,#ffacac 63px,#ffa3a3 64px,#ffe8e8 66px,#e8e8ff 67px,#c7c7ff 68px,#d6d6ff 69px,#fffcfc 70px,#ffb6b6 71px,#ff4e4e 72px,#ff1e1e 73px,#ff6767 74px,#ffcaca 75px,#f9f9ff 76px,#8383ff 78px,#6c6cff 79px,#9898ff 80px,#e6e6ff 81px,#ffcbcb 82px,#faa 83px,#ffcaca 84px,#fff 85px,#d4d4ff 86px,#c2c2ff 87px,#eef 89px,#ffeded 90px,#ffc5c5 91px,#ffb1b1 92px,#ffeaea 94px,#f2f2ff 95px,#c1c1ff 97px,#c2c2ff 98px,#f9f9ff 100px,#fbfbff 101px,#b8b8ff 103px,#a8a8ff 104px,#bbf 105px,#e6e6ff 106px,#ffefef 107px,#ffd1d1 108px,#ffd1d1 110px,#ffeaea 114px,#ffcdcd 115px,#ff7f7f 116px,#ff0f0f 117px,#f00 119px,#ff2e2e 120px,#ffb7b7 121px,#c9c9ff 122px,#3838ff 123px,#00f 124px,#0e0eff 126px,#9393ff 127px,#f7f7ff 128px,#ff6969 130px,#ff5050 131px,#ff7979 132px,#ffbebe 133px,#ffeaea 134px,#dadaff 135px,#9090ff 136px,#5858ff 137px,#4949ff 138px,#5c5cff 139px,#b7b7ff 140px,#ffbaba 141px,#ff5e5e 142px,#ff3737 143px,#ff4a4a 144px,#ffecec 146px,#cbcbff 147px,#9f9fff 148px,#9191ff 149px,#a7a7ff 150px,#dfdfff 151px,#ffefef 152px,#fdd 153px)"></i>
<i style="left:238px;top:67px;width:2px;height:154px;background:linear-gradient(#b2b2ff 0px,#7d7dff 1px,#8080ff 2px,#e8e8ff 4px,#ffe8e8 5px,#ffd0d0 6px,#ffdcdc 10px,#fcfcff 12px,#d2d2ff 14px,#7d7dff 16px,#7575ff 17px,#f8f8ff 20px,#ffbaba 21px,#ff3737 22px,#ff2020 23px,#ffd1d1 24px,#5454ff 25px,#00f 26px,#00f 27px,#1515ff 28px,#dedeff 29px,#ff6161 30px,#f00 31px,#f00 32px,#ff5e5e 33px,#e5e5ff 34px,#3d3dff 35px,#00f 36px,#0c0cff 38px,#88f 39px,#e4e4ff 40px,#ffe9e9 41px,#ffd0d0 42px,#ffd8d8 43px,#fff 44px,#f1f1ff 45px,#fff6f6 46px,#ffe0e0 47px,#ffebeb 48px,#eaeaff 49px,#8080ff 51px,#9191ff 52px,#e4e4ff 54px,#fcfcff 55px,#fbfbff 57px,#d4d4ff 58px,#88f 59px,#7979ff 60px,#d8d8ff 61px,#ffd0d0 62px,#ffa6a6 63px,#ff9b9b 64px,#ffb8b8 65px,#ffe6e6 66px,#e8e8ff 67px,#c6c6ff 68px,#d1d1ff 69px,#f8f8ff 70px,#ffc4c4 71px,#f66 72px,#ff3d3d 73px,#ff7d7d 74px,#ffd2d2 75px,#f3f3ff 76px,#6868ff 78px,#5050ff 79px,#8787ff 80px,#e1e1ff 81px,#ffc7c7 82px,#ffa3a3 83px,#ffc5c5 84px,#fffafa 85px,#d9d9ff 86px,#c8c8ff 87px,#f3f3ff 89px,#ffebeb 90px,#ffc8c8 91px,#ffb7b7 92px,#ffecec 94px,#f2f2ff 95px,#c3c3ff 97px,#c4c4ff 98px,#fafaff 100px,#fcfcff 101px,#bebeff 103px,#aeaeff 104px,#bfbfff 105px,#e6e6ff 106px,#fff3f3 107px,#ffd1d1 109px,#ffebeb 114px,#ffd9d9 115px,#ffa4a4 116px,#ff3c3c 117px,#f00 118px,#ff0505 120px,#ff8989 121px,#fafaff 122px,#00f 124px,#00f 126px,#5f5fff 127px,#d2d2ff 128px,#ffd0d0 129px,#ff7575 130px,#ff3e3e 131px,#ff5353 132px,#f99 133px,#ffc9c9 135px,#ffefef 136px,#e2e2ff 137px,#77f 139px,#5b5bff 140px,#7b7bff 141px,#efefff 142px,#ff9090 143px,#ff4242 144px,#ff2929 145px,#ff7171 146px,#ffebeb 147px,#c4c4ff 148px,#8c8cff 150px,#9292ff 151px,#f3f3ff 153px)"></i>
<i style="left:240px;top:67px;width:2px;height:154px;background:linear-gradient(#b5b5ff 0px,#8989ff 1px,#9191ff 2px,#f3f3ff 4px,#ffc2c2 6px,#fffcfc 12px,#eaeaff 14px,#8e8eff 16px,#8383ff 17px,#e7e7ff 20px,#ffcdcd 21px,#ff4141 22px,#ff1717 23px,#ffc1c1 24px,#55f 25px,#00f 26px,#00f 28px,#d3d3ff 29px,#ff6262 30px,#f00 31px,#f00 32px,#ff5151 33px,#fefeff 34px,#7575ff 35px,#1717ff 36px,#0c0cff 37px,#4242ff 38px,#9b9bff 39px,#e1e1ff 40px,#fff4f4 41px,#ffdcdc 42px,#ffe4e4 43px,#eef 44px,#dadaff 45px,#f7f7ff 46px,#ffe9e9 47px,#fee 48px,#e7e7ff 49px,#6d6dff 51px,#8181ff 52px,#e6e6ff 54px,#fffefe 55px,#fff3f3 56px,#fffefe 57px,#b8b8ff 59px,#b2b2ff 60px,#f1f1ff 61px,#ffa3a3 63px,#ff9494 64px,#ffb0b0 65px,#ffe1e1 66px,#eaeaff 67px,#c2c2ff 68px,#c2c2ff 69px,#e3e3ff 70px,#ffe2e2 71px,#ff9292 72px,#ff6868 73px,#ff9393 74px,#ffd7d7 75px,#f2f2ff 76px,#aeaeff 77px,#4d4dff 78px,#2727ff 79px,#6565ff 80px,#cfcfff 81px,#ffc8c8 82px,#ff9797 83px,#ffb6b6 84px,#ffeded 85px,#d0d0ff 87px,#f7f7ff 89px,#ffbfbf 92px,#ffecec 94px,#f5f5ff 95px,#c9c9ff 97px,#c9c9ff 98px,#fbfbff 100px,#fffefe 101px,#b3b3ff 104px,#bebeff 105px,#fff 107px,#fdd 109px,#ffeaea 113px,#ffd6d6 114px,#ffa2a2 115px,#ff4242 116px,#f00 117px,#ff0e0e 119px,#ffecec 121px,#9292ff 122px,#1010ff 123px,#00f 125px,#4646ff 126px,#c5c5ff 127px,#ffdcdc 128px,#ff8484 129px,#ff3f3f 130px,#ff3c3c 131px,#fffafa 134px,#b7b7ff 135px,#8b8bff 136px,#a6a6ff 137px,#fdfdff 139px,#ffc4c4 140px,#ff8a8a 143px,#ffb3b3 144px,#ffefef 145px,#d9d9ff 147px,#cacaff 148px,#ccf 149px,#f4f4ff 150px,#ffc0c0 152px,#ffb0b0 153px)"></i>
<i style="left:242px;top:66px;width:2px;height:156px;background:linear-gradient(#e2e2ff 0px,#9595ff 2px,#9c9cff 3px,#fcfcff 5px,#ffb1b1 7px,#fcc 9px,#fff8f8 12px,#fff0f0 14px,#fffbfb 15px,#d6d6ff 16px,#9f9fff 17px,#8b8bff 18px,#d2d2ff 21px,#ffe9e9 22px,#ff5050 23px,#ff0303 24px,#ff8c8c 25px,#8383ff 26px,#00f 27px,#00f 29px,#c1c1ff 30px,#ff6565 31px,#f00 32px,#f00 33px,#ff2424 34px,#ffd8d8 35px,#a3a3ff 36px,#4e4eff 37px,#3232ff 38px,#5757ff 39px,#d7d7ff 41px,#fcfcff 42px,#ffeaea 43px,#fee 44px,#c8c8ff 46px,#fff2f2 48px,#ffeded 49px,#eef 50px,#7070ff 52px,#7a7aff 53px,#e5e5ff 55px,#fffefe 56px,#fff2f2 57px,#fffcfc 58px,#cfcfff 60px,#ccf 61px,#f8f8ff 62px,#ffaeae 64px,#ff9c9c 65px,#ffb0b0 66px,#fdd 67px,#ececff 68px,#b8b8ff 69px,#ababff 70px,#c9c9ff 71px,#fffdfd 72px,#ffb4b4 73px,#ff8282 74px,#ff9898 75px,#fcfcff 77px,#bfbfff 78px,#5858ff 79px,#1818ff 80px,#44f 81px,#b5b5ff 82px,#ffd4d4 83px,#ff8e8e 84px,#ff9f9f 85px,#ffd8d8 86px,#f3f3ff 87px,#d6d6ff 88px,#dbdbff 89px,#f6f6ff 90px,#ffc3c3 93px,#ffe6e6 95px,#fdfdff 96px,#d3d3ff 98px,#d1d1ff 99px,#fbfbff 101px,#fffcfc 102px,#ededff 103px,#aaf 105px,#aeaeff 106px,#ececff 108px,#fff6f6 109px,#ffeded 111px,#fff5f5 113px,#ffe3e3 114px,#ffb7b7 115px,#f00 117px,#f00 119px,#ff4f4f 120px,#ffc5c5 121px,#c7c7ff 122px,#3434ff 123px,#00f 124px,#0a0aff 126px,#9d9dff 127px,#fffafa 128px,#ff4d4d 130px,#ff2828 131px,#ff4a4a 132px,#ffd5d5 134px,#b2b2ff 135px,#3f3fff 136px,#d5d5ff 137px,#ff7070 138px,#ff5d5d 139px,#ffbaba 141px,#f7f7ff 142px,#acacff 143px,#9595ff 144px,#b9b9ff 145px,#f7f7ff 146px,#ff8c8c 148px,#ff8585 149px,#ffd0d0 151px,#ffd6d6 153px,#ffd4d4 155px)"></i>
<i style="left:244px;top:67px;width:2px;height:153px;background:linear-gradient(#c5c5ff 0px,#a2a2ff 1px,#a3a3ff 2px,#fdfdff 4px,#ffa8a8 6px,#faa 7px,#fff3f3 10px,#fff2f2 12px,#ffe6e6 13px,#ffebeb 14px,#e7e7ff 15px,#aaf 16px,#8b8bff 17px,#c0c0ff 20px,#fefeff 21px,#ff5959 22px,#f00 23px,#ff3131 24px,#d4d4ff 25px,#0808ff 26px,#00f 28px,#aeaeff 29px,#ff6b6b 30px,#f00 31px,#f00 33px,#ff9c9c 34px,#c3c3ff 35px,#5a5aff 36px,#2b2bff 37px,#4242ff 38px,#c9c9ff 40px,#f1f1ff 41px,#fff2f2 43px,#e6e6ff 44px,#c4c4ff 45px,#fff9f9 47px,#ffe9e9 48px,#fbfbff 49px,#8989ff 51px,#8282ff 52px,#e1e1ff 54px,#fbfbff 55px,#fffdfd 57px,#d4d4ff 59px,#cdcdff 60px,#f1f1ff 61px,#ffc3c3 63px,#ffb8b8 64px,#ffc3c3 65px,#ffe1e1 66px,#ececff 67px,#adadff 68px,#9090ff 69px,#aeaeff 70px,#ececff 71px,#fcc 72px,#ff9292 73px,#ff9595 74px,#fff2f2 76px,#e2e2ff 77px,#4848ff 79px,#4f4fff 80px,#a8a8ff 81px,#ffe4e4 82px,#ff8d8d 83px,#ff8989 84px,#fffafa 86px,#dadaff 87px,#d2d2ff 88px,#ececff 89px,#fff2f2 90px,#ffc5c5 92px,#ffc6c6 93px,#fff6f6 95px,#ddf 98px,#fcfcff 100px,#fffcfc 101px,#ebebff 102px,#8e8eff 104px,#8686ff 105px,#f5f5ff 108px,#fff0f0 110px,#fff8f8 112px,#ffe0e0 113px,#ffabab 114px,#f00 116px,#f00 118px,#ffd7d7 120px,#b8b8ff 121px,#2323ff 122px,#00f 123px,#00f 124px,#2121ff 125px,#acacff 126px,#fff1f1 127px,#ff3f3f 129px,#ff1919 130px,#ff3e3e 131px,#ffcfcf 133px,#d0d0ff 134px,#5454ff 135px,#7575ff 136px,#fff4f4 137px,#ff7a7a 138px,#ff6464 139px,#ff8585 140px,#fff1f1 141px,#9c9cff 142px,#6060ff 143px,#6565ff 144px,#9494ff 145px,#dedeff 146px,#ffc2c2 147px,#ff8484 148px,#ff8a8a 150px,#ffb0b0 152px)"></i>
<i style="left:246px;top:66px;width:2px;height:155px;background:linear-gradient(#eaeaff 0px,#b3b3ff 2px,#ababff 3px,#c7c7ff 4px,#f6f6ff 5px,#ffb1b1 7px,#ffaeae 8px,#fff8f8 12px,#ffe7e7 15px,#eef 16px,#acacff 17px,#8181ff 18px,#8585ff 19px,#bfbfff 21px,#f8f8ff 22px,#f66 23px,#f00 24px,#f00 25px,#ffdcdc 26px,#3f3fff 27px,#00f 28px,#00f 29px,#9595ff 30px,#ff8080 31px,#f00 32px,#f00 34px,#ff5757 35px,#e4e4ff 36px,#5c5cff 37px,#1313ff 38px,#1c1cff 39px,#bcbcff 41px,#ececff 42px,#fffafa 43px,#ffeded 44px,#fafaff 45px,#d8d8ff 46px,#e0e0ff 47px,#fff9f9 48px,#ffe5e5 49px,#fff8f8 50px,#d8d8ff 51px,#a0a0ff 52px,#8b8bff 53px,#d7d7ff 55px,#fcfcff 57px,#efefff 59px,#ceceff 61px,#e7e7ff 62px,#ffeaea 63px,#ffd3d3 64px,#ffd5d5 66px,#f4f4ff 68px,#b3b3ff 69px,#8484ff 70px,#9c9cff 71px,#dedeff 72px,#fdd 73px,#ffa2a2 74px,#ff9292 75px,#ffe6e6 77px,#f8f8ff 78px,#8b8bff 80px,#7c7cff 81px,#b1b1ff 82px,#fff0f0 83px,#ff9595 84px,#ff7b7b 85px,#ffa5a5 86px,#ffe7e7 87px,#e1e1ff 88px,#c7c7ff 89px,#d6d6ff 90px,#f7f7ff 91px,#ffd1d1 93px,#ffc7c7 94px,#f7f7ff 97px,#e2e2ff 99px,#fdfdff 101px,#fffbfb 102px,#eef 103px,#8080ff 105px,#66f 106px,#7f7fff 107px,#e8e8ff 109px,#fff2f2 110px,#fffbfb 113px,#ffe6e6 114px,#ffb6b6 115px,#ff0b0b 117px,#ff0202 119px,#ffcaca 121px,#d4d4ff 122px,#5252ff 123px,#00f 124px,#00f 125px,#1616ff 126px,#9c9cff 127px,#f7f7ff 128px,#ffb6b6 129px,#ff5757 130px,#ff1212 131px,#ff1c1c 132px,#fdfdff 135px,#adadff 137px,#9494ff 139px,#9494ff 141px,#babaff 142px,#fffbfb 143px,#ffc2c2 144px,#ffb1b1 145px,#ffc5c5 146px,#fff0f0 147px,#e3e3ff 148px,#9797ff 150px,#a6a6ff 151px,#e4e4ff 152px,#ffc4c4 153px,#ff7979 154px)"></i>
<i style="left:248px;top:66px;width:2px;height:155px;background:linear-gradient(#f2f2ff 0px,#b5b5ff 3px,#c8c8ff 4px,#eef 5px,#ffe8e8 6px,#ffc9c9 7px,#ffc6c6 9px,#fff0f0 12px,#ffe4e4 15px,#ededff 16px,#a3a3ff 17px,#6e6eff 18px,#7474ff 19px,#d8d8ff 21px,#fff2f2 22px,#f00 24px,#f00 25px,#ffb0b0 26px,#5f5fff 27px,#00f 28px,#00f 29px,#77f 30px,#ff9d9d 31px,#f00 32px,#f00 34px,#ff2b2b 35px,#fefeff 36px,#6363ff 37px,#0606ff 38px,#0303ff 39px,#b2b2ff 41px,#ececff 42px,#fff8f8 43px,#ffdede 44px,#ffdede 45px,#fff8f8 46px,#fefeff 47px,#ffe2e2 49px,#fff0f0 50px,#e2e2ff 51px,#ababff 52px,#8c8cff 53px,#dadaff 56px,#f5f5ff 59px,#d5d5ff 61px,#e1e1ff 62px,#fff5f5 63px,#ffd0d0 65px,#ffd0d0 67px,#ffefef 68px,#ceceff 69px,#9292ff 70px,#9c9cff 71px,#d9d9ff 72px,#ffe8e8 73px,#ffb2b2 74px,#ff9696 75px,#ffb0b0 76px,#ffe1e1 77px,#fdfdff 78px,#a9a9ff 80px,#9494ff 81px,#b8b8ff 82px,#fff9f9 83px,#ffa1a1 84px,#ff7676 85px,#ff9191 86px,#ffd4d4 87px,#ececff 88px,#c2c2ff 89px,#babaff 90px,#f1f1ff 92px,#ffeded 93px,#ffd6d6 94px,#ffd9d9 95px,#fff3f3 96px,#d5d5ff 99px,#fff 102px,#f3f3ff 103px,#ceceff 104px,#6f6fff 106px,#7e7eff 107px,#f4f4ff 109px,#ffe7e7 110px,#fbfbff 113px,#ffeded 114px,#ff8e8e 116px,#ff1515 118px,#ff1818 119px,#ff5a5a 120px,#fffdfd 122px,#a4a4ff 123px,#2d2dff 124px,#00f 125px,#1212ff 126px,#8585ff 127px,#dadaff 128px,#ffe9e9 129px,#f99 130px,#ff3434 131px,#ff0404 132px,#ff2f2f 133px,#ff8989 134px,#ffd1d1 135px,#fff9f9 136px,#d5d5ff 137px,#6767ff 139px,#5d5dff 140px,#7f7fff 141px,#ececff 142px,#f88 143px,#ff3535 144px,#ff4343 145px,#ff9f9f 146px,#dfdfff 147px,#6c6cff 148px,#22f 149px,#1515ff 150px,#5454ff 151px,#dedeff 152px,#ff8585 153px,#ff2828 154px)"></i>
<i style="left:250px;top:66px;width:2px;height:154px;background:linear-gradient(#fafaff 0px,#bbf 3px,#c5c5ff 4px,#fffdfd 6px,#fcc 9px,#ffd2d2 11px,#ffebeb 13px,#ffe2e2 15px,#ebebff 16px,#9898ff 17px,#5959ff 18px,#6464ff 19px,#f8f8ff 21px,#ffd9d9 22px,#ff8d8d 23px,#f00 24px,#f00 25px,#ff9393 26px,#7979ff 27px,#00f 28px,#00f 29px,#4b4bff 30px,#ffcfcf 31px,#f00 32px,#f00 34px,#ff1717 35px,#ffeaea 36px,#6c6cff 37px,#00f 38px,#00f 39px,#2d2dff 40px,#9f9fff 41px,#e9e9ff 42px,#fff6f6 43px,#ffb5b5 45px,#ffdfdf 48px,#ffe9e9 50px,#efefff 51px,#c3c3ff 52px,#aaf 53px,#c5c5ff 56px,#f5f5ff 58px,#f9f9ff 60px,#e6e6ff 61px,#e7e7ff 62px,#fff9f9 63px,#faa 66px,#ffa6a6 67px,#ffc8c8 68px,#f3f3ff 69px,#b0b0ff 70px,#ababff 71px,#ddf 72px,#fff0f0 73px,#ffa3a3 75px,#ffb4b4 76px,#ffe2e2 77px,#fbfbff 78px,#adadff 80px,#9494ff 81px,#b3b3ff 82px,#fefeff 83px,#ffacac 84px,#ff7a7a 85px,#ff8b8b 86px,#fafaff 88px,#c8c8ff 89px,#ababff 90px,#afafff 91px,#f2f2ff 93px,#ffe2e2 95px,#fffdfd 96px,#c5c5ff 98px,#bebeff 99px,#f7f7ff 102px,#e1e1ff 104px,#8989ff 106px,#9393ff 107px,#ceceff 108px,#ffefef 109px,#ffd4d4 110px,#fbfbff 112px,#f3f3ff 113px,#fff0f0 114px,#ff6464 118px,#ff4949 119px,#f55 120px,#ffd8d8 122px,#e5e5ff 123px,#4e4eff 125px,#3838ff 126px,#b9b9ff 128px,#e8e8ff 129px,#ffe1e1 130px,#ff2727 132px,#ff0e0e 133px,#ffd4d4 136px,#babaff 137px,#7979ff 138px,#ddf 139px,#ffb4b4 140px,#ffa4a4 141px,#ffe9e9 143px,#ececff 144px,#8c8cff 146px,#7575ff 147px,#9393ff 149px,#c7c7ff 150px,#ffe4e4 151px,#ff8585 152px,#ff3b3b 153px)"></i>
<i style="left:252px;top:67px;width:2px;height:153px;background:linear-gradient(#f2f2ff 0px,#b9b9ff 2px,#bdbdff 3px,#fffcfc 6px,#ffbcbc 9px,#ffe6e6 12px,#ffe1e1 14px,#e9e9ff 15px,#9292ff 16px,#4e4eff 17px,#5e5eff 18px,#b5b5ff 19px,#ffebeb 20px,#ffa2a2 22px,#ff2d2d 23px,#f00 24px,#f88 25px,#8f8fff 26px,#00f 27px,#00f 28px,#2727ff 29px,#fff9f9 30px,#ff1b1b 31px,#f00 32px,#f00 33px,#ff1818 34px,#ffdfdf 35px,#6f6fff 36px,#00f 37px,#0404ff 39px,#8585ff 40px,#e2e2ff 41px,#fff4f4 42px,#f99 44px,#ff9a9a 45px,#ffd2d2 47px,#ffe5e5 49px,#f8f8ff 50px,#dcdcff 51px,#b9b9ff 55px,#d0d0ff 56px,#fcfcff 57px,#ffebeb 58px,#f1f1ff 61px,#fff7f7 62px,#ffb4b4 64px,#ff8989 65px,#ff7e7e 66px,#ffa6a6 67px,#ffefef 68px,#c8c8ff 69px,#bdbdff 70px,#e5e5ff 71px,#fff2f2 72px,#ffb0b0 74px,#ffbebe 75px,#ffe9e9 76px,#f6f6ff 77px,#8f8fff 80px,#afafff 81px,#fcfcff 82px,#ffafaf 83px,#ff7f7f 84px,#ff8f8f 85px,#fffefe 87px,#a8a8ff 89px,#9c9cff 90px,#b3b3ff 91px,#ddf 92px,#fff6f6 93px,#ffebeb 94px,#f6f6ff 95px,#b2b2ff 97px,#aaf 98px,#efefff 101px,#eaeaff 103px,#9b9bff 105px,#a8a8ff 106px,#e7e7ff 107px,#ffd3d3 108px,#ffc2c2 109px,#f5f5ff 111px,#efefff 112px,#fee 113px,#ffc0c0 114px,#ffa4a4 115px,#ffa6a6 117px,#ff6b6b 119px,#ff7c7c 120px,#fff1f1 122px,#e4e4ff 123px,#8d8dff 125px,#7a7aff 126px,#c1c1ff 128px,#ececff 129px,#ffd3d3 130px,#ff2e2e 132px,#ff2424 133px,#ff4d4d 134px,#ffebeb 136px,#ababff 137px,#d4d4ff 138px,#ffc4c4 139px,#fbb 140px,#ffe7e7 141px,#d0d0ff 142px,#9696ff 143px,#77f 144px,#7070ff 145px,#bdbdff 148px,#e1e1ff 149px,#ffe2e2 150px,#ff4f4f 152px)"></i>
<i style="left:254px;top:68px;width:2px;height:152px;background:linear-gradient(#d2d2ff 0px,#b5b5ff 1px,#babaff 2px,#fefeff 5px,#ffbdbd 8px,#ffc3c3 9px,#ffe8e8 11px,#ffe2e2 13px,#e8e8ff 14px,#9292ff 15px,#5252ff 16px,#6868ff 17px,#c4c4ff 18px,#ffdbdb 19px,#ff9b9b 21px,#ff3232 22px,#ff0202 23px,#ffa0a0 24px,#7f7fff 25px,#00f 26px,#00f 27px,#2b2bff 28px,#fff2f2 29px,#ff1616 30px,#f00 31px,#f00 32px,#ff2828 33px,#ffefef 34px,#5b5bff 35px,#00f 36px,#00f 38px,#8282ff 39px,#e4e4ff 40px,#fff1f1 41px,#ff9393 43px,#ff9090 44px,#ffdcdc 47px,#f9f9ff 49px,#e3e3ff 50px,#d6d6ff 52px,#b7b7ff 54px,#d1d1ff 55px,#fffefe 56px,#ffe8e8 57px,#f1f1ff 60px,#fff5f5 61px,#ffacac 63px,#ff7f7f 64px,#f77 65px,#ffa3a3 66px,#ffefef 67px,#cbcbff 68px,#c9c9ff 69px,#f0f0ff 70px,#ffecec 71px,#ffb1b1 73px,#ffc7c7 74px,#fff2f2 75px,#efefff 76px,#9e9eff 78px,#8989ff 79px,#b4b4ff 80px,#fff7f7 81px,#ffa5a5 82px,#ff7f7f 83px,#ff9b9b 84px,#ffd6d6 85px,#fafaff 86px,#a9a9ff 88px,#9c9cff 89px,#b0b0ff 90px,#fff8f8 92px,#fff2f2 93px,#ededff 94px,#aaf 96px,#a3a3ff 97px,#ededff 100px,#e3e3ff 102px,#9e9eff 104px,#b7b7ff 105px,#fefeff 106px,#ffbfbf 107px,#ffb5b5 108px,#f5f5ff 110px,#eef 111px,#ffeded 112px,#ffbfbf 113px,#ffa3a3 114px,#ffaeae 116px,#ff7e7e 118px,#ff8f8f 119px,#fff8f8 121px,#d0d0ff 123px,#9b9bff 125px,#cbcbff 127px,#ececff 128px,#fdd 129px,#ff4343 131px,#ff2f2f 132px,#ff8e8e 135px,#f4f4ff 137px,#acacff 138px,#6565ff 140px,#7676ff 141px,#dadaff 143px,#f6f6ff 144px,#fdfdff 145px,#d6d6ff 146px,#4e4eff 148px,#4141ff 149px,#7272ff 150px,#ceceff 151px)"></i>
<i style="left:256px;top:68px;width:2px;height:152px;background:linear-gradient(#c7c7ff 0px,#a9a9ff 1px,#b5b5ff 2px,#fefeff 5px,#fcc 8px,#ffd2d2 9px,#fffdfd 11px,#fff6f6 13px,#dcdcff 14px,#9393ff 15px,#6161ff 16px,#7d7dff 17px,#d4d4ff 18px,#ffd7d7 19px,#ff8b8b 21px,#ff2626 22px,#ff2a2a 23px,#ffe4e4 24px,#4949ff 25px,#00f 26px,#00f 27px,#4848ff 28px,#ffc9c9 29px,#f00 30px,#f00 32px,#f33 33px,#f6f6ff 34px,#4040ff 35px,#00f 36px,#00f 37px,#1414ff 38px,#a4a4ff 39px,#fdfdff 40px,#ff9c9c 43px,#ffa1a1 44px,#ffeded 48px,#ededff 49px,#c9c9ff 50px,#b6b6ff 52px,#b6b6ff 54px,#fbfbff 56px,#ffefef 57px,#fffbfb 58px,#e8e8ff 59px,#eaeaff 60px,#fff5f5 61px,#ff9a9a 64px,#ff9a9a 65px,#ffbfbf 66px,#fffafa 67px,#d9d9ff 68px,#fff6f6 70px,#ffb0b0 72px,#ffa5a5 73px,#fffafa 75px,#e5e5ff 76px,#8787ff 78px,#8383ff 79px,#c0c0ff 80px,#ffe4e4 81px,#ff9494 82px,#ff8282 83px,#ffeded 85px,#e5e5ff 86px,#ababff 88px,#a6a6ff 89px,#bebeff 90px,#ececff 91px,#fff0f0 92px,#fff3f3 93px,#e8e8ff 94px,#a9a9ff 96px,#a5a5ff 97px,#e3e3ff 99px,#f2f2ff 100px,#dbdbff 102px,#b1b1ff 104px,#dadaff 105px,#ffdfdf 106px,#ffa9a9 107px,#ffa6a6 108px,#fff3f3 110px,#fffefe 111px,#ffb4b4 114px,#ff8989 118px,#ffe5e5 120px,#eaeaff 121px,#9898ff 124px,#a4a4ff 125px,#f8f8ff 128px,#ffcfcf 129px,#ff3d3d 131px,#ff3c3c 132px,#ff5f5f 133px,#ff6161 135px,#ffa7a7 137px,#ffdede 138px,#cfcfff 139px,#1919ff 141px,#0f0fff 142px,#5656ff 143px,#b3b3ff 144px,#fff4f4 145px,#ffdfdf 146px,#d2d2ff 147px,#8a8aff 148px,#7373ff 149px,#8383ff 151px)"></i>
<i style="left:258px;top:68px;width:2px;height:152px;background:linear-gradient(#b8b8ff 0px,#9d9dff 1px,#fbfbff 5px,#fff0f0 7px,#ffe3e3 8px,#f5f5ff 10px,#e0e0ff 11px,#e4e4ff 13px,#c6c6ff 14px,#9191ff 15px,#7171ff 16px,#9191ff 17px,#dedeff 18px,#ffdada 19px,#ffb1b1 20px,#ff1515 22px,#f66 23px,#c2c2ff 24px,#0909ff 25px,#00f 27px,#7b7bff 28px,#ff8686 29px,#f00 30px,#f00 32px,#ff4a4a 33px,#d6d6ff 34px,#2727ff 35px,#00f 36px,#00f 37px,#5252ff 38px,#d6d6ff 39px,#ffdcdc 40px,#faa 42px,#ffe0e0 47px,#fff9f9 48px,#d2d2ff 49px,#9797ff 50px,#8686ff 51px,#d0d0ff 55px,#f3f3ff 56px,#fafaff 58px,#dcdcff 59px,#fff2f2 61px,#ffc4c4 64px,#ffdfdf 66px,#fffefe 67px,#fff0f0 69px,#ff8d8d 72px,#f99 73px,#ffd4d4 74px,#fafaff 75px,#d4d4ff 76px,#7272ff 78px,#8989ff 79px,#d6d6ff 80px,#ffc9c9 81px,#ff8787 82px,#ff9191 83px,#ffcece 84px,#f1f1ff 85px,#cbcbff 86px,#b4b4ff 88px,#b9b9ff 89px,#fff8f8 91px,#ffe3e3 92px,#fff5f5 93px,#e4e4ff 94px,#ababff 96px,#aaf 97px,#ededff 99px,#fafaff 100px,#ceceff 103px,#d4d4ff 104px,#fffbfb 105px,#ffbfbf 106px,#ff9797 107px,#ff9494 108px,#ffd1d1 110px,#ffe5e5 112px,#ffcbcb 114px,#ff8e8e 116px,#ff8585 117px,#ffa2a2 118px,#ffdbdb 119px,#ededff 120px,#8e8eff 122px,#6f6fff 123px,#7c7cff 124px,#dfdfff 126px,#f2f2ff 127px,#fff1f1 128px,#ff5b5b 130px,#ff3030 131px,#ffd5d5 135px,#dcdcff 136px,#9292ff 137px,#6c6cff 138px,#6363ff 139px,#8c8cff 140px,#cdcdff 141px,#e9e9ff 142px,#f0f0ff 143px,#dfdfff 144px,#5959ff 146px,#0f0fff 148px,#3131ff 149px,#fee 151px)"></i>
<i style="left:260px;top:67px;width:2px;height:153px;background:linear-gradient(#dedeff 0px,#adadff 1px,#9797ff 2px,#eaeaff 5px,#fcfcff 8px,#fafaff 10px,#c0c0ff 12px,#bfbfff 14px,#7f7fff 17px,#a1a1ff 18px,#e4e4ff 19px,#ffdede 20px,#ffa1a1 21px,#ff3232 22px,#ff0202 23px,#ffa1a1 24px,#6f6fff 25px,#00f 26px,#00f 28px,#bdbdff 29px,#ff3a3a 30px,#f00 31px,#f00 33px,#ff7a7a 34px,#aeaeff 35px,#1212ff 36px,#00f 37px,#0b0bff 38px,#fffcfc 40px,#ffb8b8 41px,#ff9e9e 42px,#ffa0a0 43px,#ffdbdb 45px,#ffd3d3 47px,#f8f8ff 49px,#8181ff 51px,#8484ff 52px,#a9a9ff 53px,#cfcfff 56px,#fffcfc 58px,#dedeff 60px,#f6f6ff 61px,#ffdada 64px,#fffbfb 67px,#fafaff 68px,#ffefef 69px,#ff7676 73px,#ff9e9e 74px,#ffe0e0 75px,#eef 76px,#8484ff 78px,#7272ff 79px,#9f9fff 80px,#f1f1ff 81px,#ffb4b4 82px,#ff8989 83px,#ffacac 84px,#ffefef 85px,#bbf 87px,#d1d1ff 90px,#f7f7ff 91px,#ffe2e2 92px,#ffe0e0 93px,#fffbfb 94px,#adadff 97px,#afafff 98px,#f5f5ff 100px,#fff 101px,#d6d6ff 104px,#e7e7ff 105px,#ffe6e6 106px,#ffb0b0 107px,#ff8d8d 108px,#f88 109px,#ffeded 114px,#ffd9d9 115px,#ff8181 117px,#ff8e8e 118px,#fbfbff 120px,#4e4eff 123px,#3f3fff 124px,#7575ff 125px,#c0c0ff 126px,#ededff 127px,#fffefe 128px,#ffd7d7 129px,#ff3939 131px,#ff2e2e 132px,#ff6d6d 133px,#ffcece 134px,#dbdbff 135px,#a6a6ff 136px,#f4f4ff 137px,#ffc1c1 138px,#ffe2e2 141px,#ffe0e0 142px,#fff6f6 143px,#ababff 145px,#99f 146px,#9e9eff 148px,#d4d4ff 150px,#fdfdff 151px,#ffdbdb 152px)"></i>
<i style="left:262px;top:68px;width:2px;height:153px;background:linear-gradient(#ababff 0px,#9a9aff 1px,#ececff 4px,#f8f8ff 5px,#e5e5ff 9px,#acacff 11px,#a0a0ff 14px,#8c8cff 16px,#afafff 17px,#eaeaff 18px,#ffd9d9 19px,#ff7b7b 20px,#f00 21px,#f00 22px,#ffd1d1 23px,#2c2cff 24px,#00f 25px,#0505ff 27px,#f2f2ff 28px,#ff0b0b 29px,#f00 32px,#ffb6b6 33px,#8585ff 34px,#0101ff 35px,#00f 36px,#3131ff 37px,#b0b0ff 38px,#ffe2e2 39px,#ffa2a2 40px,#ff8787 41px,#ff9c9c 42px,#ffd7d7 43px,#fff0f0 44px,#ffdbdb 46px,#f0f0ff 48px,#9696ff 50px,#c1c1ff 52px,#d2d2ff 55px,#f6f6ff 57px,#d7d7ff 59px,#fefeff 60px,#ffd1d1 62px,#ffcece 63px,#fffdfd 65px,#e5e5ff 66px,#e9e9ff 67px,#ffe7e7 68px,#ff7c7c 71px,#ff7d7d 72px,#fee 74px,#dfdfff 75px,#7171ff 77px,#7676ff 78px,#b0b0ff 79px,#fffbfb 80px,#ffafaf 81px,#ff9c9c 82px,#f3f3ff 84px,#bdbdff 85px,#b1b1ff 86px,#e1e1ff 89px,#fffbfb 90px,#ffe5e5 91px,#f7f7ff 93px,#a6a6ff 96px,#ababff 97px,#f6f6ff 99px,#fdfdff 100px,#d6d6ff 102px,#d6d6ff 103px,#eef 104px,#ffdede 105px,#faa 106px,#ff8b8b 107px,#ff9595 109px,#ffb5b5 111px,#fee 113px,#ffd3d3 114px,#ff9797 115px,#ff7d7d 116px,#ff9f9f 117px,#ffe0e0 118px,#e0e0ff 119px,#2020ff 122px,#2c2cff 123px,#cfcfff 125px,#f6f6ff 126px,#fff0f0 127px,#ffbaba 128px,#ff6262 129px,#ff2424 130px,#ff3737 131px,#ffdbdb 133px,#e1e1ff 134px,#bebeff 135px,#fcfcff 136px,#ffc1c1 137px,#ffa1a1 138px,#ff3434 140px,#ff2020 141px,#ff2626 142px,#ff5c5c 143px,#fffafa 145px,#d5d5ff 146px,#c8c8ff 147px,#f0f0ff 149px,#ffe0e0 151px,#ffe2e2 152px)"></i>
<i style="left:264px;top:69px;width:2px;height:152px;background:linear-gradient(#a4a4ff 0px,#f3f3ff 3px,#fafaff 4px,#d9d9ff 8px,#aaf 10px,#a7a7ff 13px,#9a9aff 15px,#bbf 16px,#f2f2ff 17px,#ffcece 18px,#f55 19px,#f00 20px,#f00 21px,#ffe1e1 22px,#0d0dff 23px,#00f 25px,#1414ff 26px,#fff7f7 27px,#ff0202 28px,#ff0606 31px,#ffdede 32px,#6a6aff 33px,#00f 34px,#00f 35px,#3e3eff 36px,#bbf 37px,#ffdede 38px,#ff9f9f 39px,#ff8383 40px,#ff9f9f 41px,#ffe3e3 42px,#fffafa 43px,#ffe5e5 45px,#fff8f8 46px,#eef 47px,#b4b4ff 49px,#cfcfff 51px,#e2e2ff 56px,#bfbfff 57px,#c7c7ff 58px,#fff 59px,#ffbebe 61px,#ffbaba 62px,#f8f8ff 64px,#cdcdff 65px,#d5d5ff 66px,#ffeded 67px,#ff9f9f 69px,#ff8585 70px,#ff9292 71px,#fff7f7 73px,#d2d2ff 74px,#6262ff 76px,#7979ff 77px,#fff3f3 79px,#ffb5b5 80px,#ffaeae 81px,#ffdede 82px,#dfdfff 83px,#acacff 84px,#acacff 85px,#fffdfd 89px,#fff2f2 90px,#fffdfd 91px,#9d9dff 95px,#a5a5ff 96px,#f0f0ff 98px,#f4f4ff 99px,#d0d0ff 101px,#d7d7ff 102px,#f2f2ff 103px,#ffdada 104px,#ffa9a9 105px,#ff8e8e 106px,#ff9d9d 108px,#ffb8b8 110px,#ffdfdf 112px,#ffb9b9 113px,#ff8080 114px,#ff7878 115px,#ffefef 117px,#d5d5ff 118px,#9797ff 119px,#4545ff 120px,#0f0fff 121px,#33f 122px,#9595ff 123px,#e2e2ff 124px,#fffcfc 125px,#ffe2e2 126px,#ffa3a3 127px,#ff4a4a 128px,#ff1c1c 129px,#ff7979 131px,#faa 133px,#ffb7b7 134px,#ffd8d8 135px,#dedeff 136px,#b6b6ff 137px,#e4e4ff 138px,#ffafaf 139px,#ff3d3d 140px,#ff0606 141px,#f00 142px,#ff2424 143px,#fff1f1 145px,#b9b9ff 146px,#8b8bff 147px,#8585ff 148px,#aaf 149px,#e7e7ff 150px,#ffdcdc 151px)"></i>
<i style="left:266px;top:69px;width:2px;height:153px;background:linear-gradient(#b3b3ff 0px,#fbfbff 3px,#e7e7ff 7px,#b5b5ff 10px,#c9c9ff 12px,#ababff 15px,#c8c8ff 16px,#fafaff 17px,#ffcbcb 18px,#ff5959 19px,#f00 20px,#f00 21px,#ffbaba 22px,#2c2cff 23px,#00f 24px,#0707ff 26px,#fbfbff 27px,#ff0f0f 28px,#f00 30px,#ff0404 31px,#ffd5d5 32px,#7272ff 33px,#00f 34px,#00f 35px,#3434ff 36px,#b2b2ff 37px,#ffe8e8 38px,#ffabab 39px,#ff8d8d 40px,#ffa3a3 41px,#ffe5e5 42px,#fffdfd 43px,#ffebeb 45px,#fffefe 46px,#bdbdff 49px,#dcdcff 53px,#e5e5ff 55px,#d8d8ff 56px,#adadff 57px,#b6b6ff 58px,#f6f6ff 59px,#fbb 61px,#ffb5b5 62px,#f8f8ff 64px,#c5c5ff 65px,#c5c5ff 66px,#fff 67px,#ffaeae 69px,#ff9494 70px,#ffa1a1 71px,#fff8f8 73px,#d6d6ff 74px,#9494ff 75px,#6565ff 76px,#7e7eff 77px,#c1c1ff 78px,#fff0f0 79px,#ffb6b6 80px,#ffb3b3 81px,#ffe3e3 82px,#ddf 83px,#aeaeff 84px,#b1b1ff 85px,#e3e3ff 87px,#fff3f3 89px,#fee 90px,#fffefe 91px,#9f9fff 95px,#a7a7ff 96px,#e8e8ff 98px,#e9e9ff 99px,#cacaff 101px,#d4d4ff 102px,#f1f1ff 103px,#ffdcdc 104px,#ffadad 105px,#ff9393 106px,#ffa9a9 108px,#ffd3d3 111px,#ffcfcf 112px,#ff6b6b 114px,#ff6d6d 115px,#ffecec 117px,#dcdcff 118px,#a1a1ff 119px,#4f4fff 120px,#1b1bff 121px,#44f 122px,#a6a6ff 123px,#efefff 124px,#fff3f3 125px,#ffdada 126px,#ff9a9a 127px,#ff4343 128px,#ff1a1a 129px,#ff7373 131px,#ffa4a4 133px,#ffb7b7 135px,#fff1f1 136px,#cfcfff 137px,#cdcdff 138px,#ffefef 139px,#ff1b1b 141px,#f00 142px,#ff1e1e 143px,#ffc3c3 145px,#f3f3ff 146px,#bcbcff 147px,#9d9dff 148px,#a9a9ff 149px,#fff5f5 151px,#ffd5d5 152px)"></i>
<i style="left:268px;top:69px;width:2px;height:152px;background:linear-gradient(#c1c1ff 0px,#fdfdff 2px,#efefff 7px,#cbcbff 9px,#dcdcff 11px,#ebebff 12px,#bebeff 15px,#fffbfb 17px,#fcc 18px,#ff7676 19px,#f00 20px,#f00 21px,#ff8d8d 22px,#6464ff 23px,#00f 24px,#00f 26px,#e8e8ff 27px,#ff1515 28px,#f00 29px,#f00 31px,#ffafaf 32px,#8f8fff 33px,#0505ff 34px,#00f 35px,#2828ff 36px,#a3a3ff 37px,#fff7f7 38px,#ffbcbc 39px,#ff9d9d 40px,#ffa7a7 41px,#ffe0e0 42px,#fff9f9 43px,#ffe1e1 45px,#fff8f8 46px,#e7e7ff 47px,#aaf 49px,#d0d0ff 51px,#e6e6ff 55px,#d8d8ff 56px,#afafff 57px,#b2b2ff 58px,#ededff 59px,#ffe3e3 60px,#ffc3c3 61px,#ffb9b9 62px,#ffd1d1 63px,#fdfdff 64px,#c4c4ff 65px,#b8b8ff 66px,#e8e8ff 67px,#ffe3e3 68px,#ff9393 70px,#ff9e9e 71px,#fff3f3 73px,#e8e8ff 74px,#7f7fff 76px,#8f8fff 77px,#cacaff 78px,#ffeaea 79px,#ffb1b1 80px,#ffafaf 81px,#fdd 82px,#ececff 83px,#c6c6ff 84px,#c8c8ff 85px,#f6f6ff 87px,#fff1f1 88px,#ffd4d4 89px,#ffd4d4 90px,#fff2f2 91px,#ececff 92px,#a6a6ff 95px,#adadff 96px,#dfdfff 98px,#bebeff 101px,#eaeaff 103px,#ffe1e1 104px,#ffb2b2 105px,#ff9898 106px,#ff9d9d 107px,#fcc 109px,#ffd5d5 111px,#ffc1c1 112px,#ff5858 114px,#ff6060 115px,#ffe2e2 117px,#ececff 118px,#b7b7ff 119px,#6b6bff 120px,#3939ff 121px,#5d5dff 122px,#b8b8ff 123px,#fcfcff 124px,#ffd6d6 126px,#f99 127px,#ff4242 128px,#ff1a1a 129px,#ff4343 130px,#ffa3a3 131px,#ffe7e7 132px,#d5d5ff 133px,#bbf 134px,#dfdfff 135px,#ffe7e7 136px,#ffc4c4 137px,#ffd5d5 139px,#fff8f8 140px,#d5d5ff 141px,#c3c3ff 142px,#fff5f5 144px,#ffc8c8 145px,#ffafaf 146px,#ffadad 147px,#fff1f1 149px,#dedeff 151px)"></i>
<i style="left:270px;top:70px;width:2px;height:152px;background:linear-gradient(#f2f2ff 0px,#fff3f3 2px,#f8f8ff 6px,#dadaff 8px,#f7f7ff 10px,#f8f8ff 12px,#cfcfff 14px,#fff3f3 16px,#fcc 17px,#ff9191 18px,#ff1212 19px,#f00 20px,#ff7070 21px,#9c9cff 22px,#00f 23px,#00f 25px,#d4d4ff 26px,#ff2121 27px,#f00 28px,#f00 30px,#ff8080 31px,#b4b4ff 32px,#2020ff 33px,#00f 34px,#2020ff 35px,#fafaff 37px,#ffcbcb 38px,#ffadad 39px,#ffacac 40px,#ffd9d9 41px,#fff3f3 42px,#ffd2d2 44px,#ffebeb 45px,#e6e6ff 46px,#b2b2ff 47px,#9090ff 48px,#c7c7ff 50px,#e4e4ff 54px,#dadaff 55px,#b8b8ff 56px,#b6b6ff 57px,#e8e8ff 58px,#ffeaea 59px,#ffbcbc 61px,#ffcfcf 62px,#fffdfd 63px,#c6c6ff 64px,#adadff 65px,#fff3f3 67px,#ff8989 69px,#ff9090 70px,#ffc7c7 71px,#ffecec 72px,#f8f8ff 73px,#9c9cff 75px,#a4a4ff 76px,#d5d5ff 77px,#ffe3e3 78px,#ffacac 79px,#faa 80px,#fdfdff 82px,#e1e1ff 83px,#fff7f7 86px,#ffb6b6 88px,#ffbaba 89px,#ffe4e4 90px,#f1f1ff 91px,#b9b9ff 93px,#acacff 94px,#d8d8ff 97px,#b2b2ff 100px,#e2e2ff 102px,#ffe7e7 103px,#ffb6b6 104px,#ff9b9b 105px,#ffa1a1 106px,#ffd9d9 108px,#ffd7d7 110px,#ffb6b6 111px,#ff4747 113px,#f55 114px,#ffdada 116px,#f9f9ff 117px,#ccf 118px,#8787ff 119px,#5959ff 120px,#7979ff 121px,#cbcbff 122px,#fff6f6 123px,#ffd3d3 125px,#ff9898 126px,#ff4242 127px,#ff1919 128px,#ff4141 129px,#ffb5b5 130px,#f0f0ff 131px,#9393ff 132px,#e3e3ff 133px,#ff9090 134px,#ff6e6e 135px,#fdfdff 137px,#7272ff 139px,#3e3eff 140px,#4b4bff 141px,#fff9f9 143px,#ff9d9d 144px,#ff6b6b 145px,#ff8080 146px,#ffcdcd 147px,#ececff 148px,#cbcbff 149px,#d3d3ff 151px)"></i>
<i style="left:272px;top:70px;width:2px;height:152px;background:linear-gradient(#eef 0px,#fff7f7 2px,#fdfdff 6px,#ddf 8px,#fbfbff 10px,#fff1f1 11px,#fffcfc 12px,#dbdbff 14px,#ffefef 16px,#ffa7a7 18px,#ff4848 19px,#ff0202 20px,#ff6161 21px,#ccf 22px,#0a0aff 23px,#00f 25px,#bbf 26px,#f44 27px,#f00 28px,#f00 30px,#ff5858 31px,#d3d3ff 32px,#3434ff 33px,#00f 34px,#0e0eff 35px,#eef 37px,#ffb9b9 39px,#ffb1b1 40px,#fff0f0 42px,#ffd2d2 44px,#ffe5e5 45px,#ececff 46px,#8787ff 48px,#9595ff 49px,#bebeff 50px,#e4e4ff 54px,#ddf 55px,#bdbdff 56px,#b6b6ff 57px,#e4e4ff 58px,#fee 59px,#ffbcbc 61px,#ffcbcb 62px,#fff7f7 63px,#ccf 64px,#adadff 65px,#fffafa 67px,#ff8383 69px,#ff8484 70px,#ffbfbf 71px,#ffe8e8 72px,#fefeff 73px,#a7a7ff 75px,#aaf 76px,#d8d8ff 77px,#ffe1e1 78px,#ffa7a7 79px,#ffa5a5 80px,#fffafa 82px,#ebebff 83px,#fafaff 85px,#fff4f4 86px,#ffb1b1 88px,#ffb5b5 89px,#ffe0e0 90px,#f3f3ff 91px,#bdbdff 93px,#b0b0ff 94px,#d6d6ff 97px,#adadff 100px,#bcbcff 101px,#ddf 102px,#ffebeb 103px,#ffb9b9 104px,#ff9e9e 105px,#ffa4a4 106px,#fdd 108px,#ffd6d6 110px,#ffb0b0 111px,#ff4040 113px,#ff5151 114px,#ffd8d8 116px,#fdfdff 117px,#d5d5ff 118px,#9797ff 119px,#6f6fff 120px,#8d8dff 121px,#d8d8ff 122px,#fff0f0 123px,#ffd3d3 125px,#ff9a9a 126px,#f44 127px,#ff1818 128px,#ff3f3f 129px,#ff9292 130px,#fff9f9 132px,#d1d1ff 133px,#c9c9ff 134px,#f5f5ff 136px,#ffeded 137px,#f8f8ff 139px,#e6e6ff 140px,#6464ff 143px,#4141ff 145px,#5454ff 146px,#99f 147px,#f0f0ff 148px,#ffadad 150px,#ffa1a1 151px)"></i>
<i style="left:274px;top:69px;width:2px;height:153px;background:linear-gradient(#bebeff 0px,#fcfcff 2px,#fdfdff 7px,#d2d2ff 9px,#d4d4ff 10px,#efefff 11px,#fff7f7 13px,#ededff 15px,#f9f9ff 16px,#ffbdbd 19px,#ff1a1a 21px,#f55 22px,#f5f5ff 23px,#3d3dff 24px,#00f 25px,#00f 26px,#a8a8ff 27px,#ff6d6d 28px,#f00 29px,#f00 31px,#ff4848 32px,#dcdcff 33px,#2c2cff 34px,#00f 35px,#00f 36px,#5c5cff 37px,#d8d8ff 38px,#ffe2e2 39px,#ffbfbf 41px,#fff1f1 43px,#ffe4e4 45px,#f0f0ff 47px,#9292ff 49px,#9696ff 50px,#cdcdff 52px,#e8e8ff 55px,#dfdfff 56px,#bcbcff 57px,#adadff 58px,#dbdbff 59px,#fff2f2 60px,#ffb8b8 62px,#ffc5c5 63px,#fff0f0 64px,#adadff 66px,#c9c9ff 67px,#fcfcff 68px,#ff8b8b 70px,#ff8686 71px,#ffeded 73px,#fafaff 74px,#ababff 76px,#adadff 77px,#d9d9ff 78px,#fdd 79px,#ff9d9d 80px,#f99 81px,#fffbfb 83px,#e7e7ff 84px,#fffafa 87px,#ffc0c0 89px,#ffc3c3 90px,#ffe7e7 91px,#f2f2ff 92px,#b5b5ff 95px,#dadaff 98px,#a6a6ff 101px,#b2b2ff 102px,#fff3f3 104px,#ffc2c2 105px,#ffa8a8 106px,#ffaeae 107px,#ffe3e3 109px,#ffe6e6 110px,#ffd5d5 111px,#ffa8a8 112px,#ff6464 113px,#ff3737 114px,#ff4b4b 115px,#ffd4d4 117px,#fffcfc 118px,#dbdbff 119px,#a1a1ff 120px,#7c7cff 121px,#9898ff 122px,#dcdcff 123px,#fff1f1 124px,#ffd7d7 126px,#ff9f9f 127px,#ff4747 128px,#ff1717 129px,#ff6a6a 131px,#ffafaf 135px,#ffdbdb 136px,#dfdfff 137px,#8f8fff 138px,#6767ff 139px,#8e8eff 140px,#ddf 141px,#ffcaca 142px,#ff8d8d 143px,#ff9696 144px,#ffe6e6 146px,#eef 147px,#c7c7ff 148px,#c0c0ff 149px,#ececff 150px,#ffd2d2 151px,#ff9e9e 152px)"></i>
<i style="left:276px;top:70px;width:2px;height:152px;background:linear-gradient(#d4d4ff 0px,#fdfdff 2px,#fdfdff 6px,#c6c6ff 8px,#c5c5ff 9px,#fffcfc 11px,#fff4f4 13px,#ffd2d2 18px,#ff9292 19px,#ff2f2f 20px,#f44 21px,#ffe4e4 22px,#66f 23px,#00f 24px,#00f 25px,#9393ff 26px,#ff9090 27px,#f00 28px,#f00 30px,#ff4141 31px,#e0e0ff 32px,#2121ff 33px,#00f 34px,#00f 35px,#2a2aff 36px,#b9b9ff 37px,#fff6f6 38px,#ffdada 39px,#ffd1d1 40px,#fff6f6 42px,#fffafa 45px,#f2f2ff 46px,#a3a3ff 48px,#9d9dff 49px,#d7d7ff 52px,#ededff 54px,#e2e2ff 55px,#a2a2ff 57px,#fff7f7 59px,#ffb6b6 61px,#ffc0c0 62px,#ffebeb 63px,#d5d5ff 64px,#a9a9ff 65px,#bebeff 66px,#efefff 67px,#ffdada 68px,#ff9d9d 69px,#ff9393 70px,#fff8f8 72px,#eef 73px,#aeaeff 75px,#b0b0ff 76px,#d9d9ff 77px,#ffdada 78px,#ff9292 79px,#ff8c8c 80px,#fffdfd 82px,#dfdfff 83px,#dcdcff 84px,#fff 86px,#ffcece 88px,#ffd0d0 89px,#fee 90px,#f1f1ff 91px,#bbf 94px,#e0e0ff 97px,#d4d4ff 98px,#9e9eff 100px,#a5a5ff 101px,#c9c9ff 102px,#fffefe 103px,#ffcfcf 104px,#ffb6b6 105px,#ffbcbc 106px,#ffecec 108px,#ffeded 109px,#ffd3d3 110px,#ff5353 112px,#ff2828 113px,#ff4040 114px,#fcc 116px,#fff5f5 117px,#e0e0ff 118px,#a6a6ff 119px,#8080ff 120px,#9898ff 121px,#d7d7ff 122px,#fff8f8 123px,#ffdcdc 125px,#ffa4a4 126px,#ff4b4b 127px,#ff1414 128px,#ff2f2f 129px,#ff9e9e 131px,#fff2f2 133px,#ddf 134px,#a5a5ff 135px,#8686ff 136px,#9d9dff 137px,#e8e8ff 138px,#ffb3b3 139px,#f77 140px,#ff3535 142px,#ff1e1e 144px,#ff2c2c 145px,#ff7f7f 147px,#ff8c8c 148px,#ff7575 149px,#ff4848 150px,#ff3d3d 151px)"></i>
<i style="left:278px;top:70px;width:2px;height:152px;background:linear-gradient(#c6c6ff 0px,#fbfbff 2px,#ffefef 5px,#fffdfd 6px,#c4c4ff 8px,#c0c0ff 9px,#fefeff 11px,#ffd5d5 15px,#ffe3e3 18px,#ffabab 19px,#ff4141 20px,#ff3535 21px,#ffc6c6 22px,#7b7bff 23px,#00f 24px,#00f 25px,#6868ff 26px,#ffb5b5 27px,#f00 28px,#f00 30px,#f33 31px,#f2f2ff 32px,#3434ff 33px,#00f 34px,#0c0cff 36px,#9f9fff 37px,#f5f5ff 38px,#ffe0e0 40px,#fff 42px,#fafaff 46px,#acacff 48px,#9f9fff 49px,#ececff 53px,#f4f4ff 54px,#e6e6ff 55px,#9d9dff 57px,#fffdfd 59px,#ffb8b8 61px,#ffbfbf 62px,#ffe8e8 63px,#d6d6ff 64px,#a3a3ff 65px,#b1b1ff 66px,#e3e3ff 67px,#ffe7e7 68px,#faa 69px,#ff9a9a 70px,#fbfbff 72px,#a3a3ff 75px,#a6a6ff 76px,#d0d0ff 77px,#ffe3e3 78px,#ff9898 79px,#ff8e8e 80px,#fefeff 82px,#dadaff 83px,#d5d5ff 84px,#fdfdff 86px,#ffcdcd 88px,#ffcfcf 89px,#ffeded 90px,#f2f2ff 91px,#bcbcff 94px,#d6d6ff 96px,#e7e7ff 97px,#ddf 98px,#a0a0ff 100px,#a3a3ff 101px,#c4c4ff 102px,#f8f8ff 103px,#ffc3c3 105px,#ffc7c7 106px,#fff4f4 108px,#fff3f3 109px,#ffd0d0 110px,#ff4040 112px,#ff1616 113px,#f33 114px,#ffc3c3 116px,#ffefef 117px,#e0e0ff 118px,#a2a2ff 119px,#7979ff 120px,#8f8fff 121px,#fdfdff 123px,#ffe1e1 125px,#ffa9a9 126px,#ff4e4e 127px,#ff1010 128px,#ff2525 129px,#ffe4e4 131px,#ababff 132px,#6161ff 133px,#8d8dff 134px,#d6d6ff 135px,#fffcfc 136px,#ffdada 138px,#fbfbff 140px,#dbdbff 141px,#ceceff 142px,#e1e1ff 143px,#ffeded 144px,#ff8181 146px,#ff6f6f 147px,#ffb1b1 151px)"></i>
<i style="left:280px;top:69px;width:2px;height:153px;background:linear-gradient(#b0b0ff 0px,#b3b3ff 1px,#f2f2ff 3px,#fff6f6 4px,#ffe2e2 6px,#f4f4ff 8px,#d5d5ff 9px,#c8c8ff 10px,#f1f1ff 12px,#fff5f5 13px,#ffc4c4 16px,#ffe9e9 19px,#ffbdbd 20px,#ff5050 21px,#ff2828 22px,#ffa9a9 23px,#88f 24px,#00f 25px,#00f 26px,#2626ff 27px,#ffe5e5 28px,#ff0101 29px,#f00 31px,#ff1414 32px,#ffe4e4 33px,#6d6dff 34px,#0202ff 35px,#00f 36px,#1e1eff 37px,#9b9bff 38px,#ececff 39px,#fff6f6 40px,#efefff 44px,#fff9f9 45px,#ffe7e7 46px,#fff5f5 47px,#e0e0ff 48px,#aeaeff 49px,#99f 50px,#fbfbff 54px,#f2f2ff 56px,#a6a6ff 58px,#c7c7ff 59px,#fcfcff 60px,#ffc1c1 62px,#ffc4c4 63px,#ffe7e7 64px,#dcdcff 65px,#a8a8ff 66px,#afafff 67px,#dcdcff 68px,#fff0f0 69px,#ffb3b3 70px,#ff9f9f 71px,#f4f4ff 73px,#7c7cff 76px,#8484ff 77px,#b7b7ff 78px,#fdfdff 79px,#ffbebe 80px,#ffaeae 81px,#f4f4ff 83px,#ceceff 84px,#c8c8ff 85px,#fefeff 87px,#ffb4b4 89px,#ffb4b4 90px,#f6f6ff 92px,#c0c0ff 94px,#b3b3ff 95px,#b9b9ff 96px,#ebebff 98px,#eaeaff 99px,#bdbdff 101px,#bdbdff 102px,#fff 104px,#ffc5c5 106px,#ffc7c7 107px,#fff5f5 109px,#fff5f5 110px,#ffcece 111px,#ff3131 113px,#ff0808 114px,#ff2929 115px,#ffbebe 117px,#ffeded 118px,#dcdcff 119px,#9797ff 120px,#6a6aff 121px,#8181ff 122px,#f7f7ff 124px,#ffe4e4 126px,#ffadad 127px,#ff5050 128px,#ff0c0c 129px,#ff1d1d 130px,#fefeff 132px,#6565ff 133px,#8080ff 134px,#f2f2ff 135px,#fffbfb 136px,#ceceff 137px,#b6b6ff 138px,#b7b7ff 140px,#88f 142px,#c7c7ff 144px,#f5f5ff 145px,#ffd4d4 146px,#ffc1c1 147px,#fbfbff 149px,#fff9f9 152px)"></i>
<i style="left:282px;top:70px;width:2px;height:152px;background:linear-gradient(#a8a8ff 0px,#dfdfff 2px,#fdfdff 3px,#ffd7d7 5px,#ffd8d8 6px,#f5f5ff 8px,#d0d0ff 10px,#e9e9ff 12px,#fffafa 13px,#ffc2c2 15px,#ffc2c2 16px,#ffe6e6 18px,#ffc9c9 19px,#ff6565 20px,#ff2121 21px,#ff8a8a 22px,#9d9dff 23px,#00f 24px,#00f 26px,#cacaff 27px,#ff3434 28px,#f00 29px,#f00 31px,#faa 32px,#b4b4ff 33px,#4545ff 34px,#1818ff 35px,#4545ff 36px,#a3a3ff 37px,#e6e6ff 38px,#fff 39px,#e3e3ff 43px,#fffafa 44px,#ffd6d6 45px,#ffe0e0 46px,#ededff 47px,#b5b5ff 48px,#9797ff 49px,#cbcbff 51px,#eef 52px,#ffdada 54px,#fff8f8 55px,#b6b6ff 57px,#cbcbff 58px,#f9f9ff 59px,#ffcdcd 61px,#fcc 62px,#ffe8e8 63px,#e5e5ff 64px,#b3b3ff 65px,#b4b4ff 66px,#fff5f5 68px,#fbb 69px,#ffa2a2 70px,#f6f6ff 72px,#5858ff 75px,#6464ff 76px,#e1e1ff 78px,#ffeaea 79px,#ffd9d9 80px,#ffefef 81px,#e8e8ff 82px,#c2c2ff 83px,#babaff 84px,#fffbfb 86px,#ff9191 88px,#ff8c8c 89px,#fffdfd 91px,#bcbcff 93px,#adadff 94px,#b3b3ff 95px,#ececff 97px,#f4f4ff 98px,#dfdfff 101px,#fff8f8 103px,#ffcbcb 105px,#ffcbcb 106px,#fff6f6 108px,#fff7f7 109px,#ffd0d0 110px,#ff3030 112px,#ff0606 113px,#ff2828 114px,#ffbfbf 116px,#ffefef 117px,#d7d7ff 118px,#8c8cff 119px,#5b5bff 120px,#7373ff 121px,#f3f3ff 123px,#fff6f6 124px,#ffe4e4 125px,#ffadad 126px,#ff5252 127px,#ff0f0f 128px,#ff1f1f 129px,#ffefef 131px,#8787ff 132px,#3737ff 133px,#cacaff 135px,#fffafa 137px,#ffc5c5 139px,#ffd2d2 140px,#fafaff 141px,#cfcfff 142px,#c7c7ff 143px,#e3e3ff 144px,#ffe7e7 145px,#ffc0c0 146px,#ffcece 147px,#f5f5ff 148px,#b4b4ff 149px,#9494ff 150px,#9191ff 151px)"></i>
<i style="left:284px;top:71px;width:2px;height:150px;background:linear-gradient(#afafff 0px,#f6f6ff 2px,#ffc5c5 5px,#ffefef 7px,#ececff 8px,#b8b8ff 10px,#c0c0ff 11px,#fff4f4 13px,#ffcfcf 14px,#ffc1c1 15px,#ffe2e2 17px,#ffd5d5 18px,#ff2b2b 20px,#ff6d6d 21px,#c3c3ff 22px,#00f 23px,#00f 25px,#5858ff 26px,#ff9b9b 27px,#f00 28px,#f00 30px,#ff6969 31px,#f0f0ff 32px,#7c7cff 33px,#4040ff 34px,#5050ff 35px,#cfcfff 37px,#eaeaff 38px,#e6e6ff 41px,#ddf 42px,#fefeff 43px,#fcc 44px,#ffcaca 45px,#fffbfb 46px,#a1a1ff 48px,#b2b2ff 49px,#e1e1ff 50px,#ffecec 51px,#ffbcbc 52px,#ffb2b2 53px,#ffdede 54px,#e8e8ff 55px,#bfbfff 56px,#cacaff 57px,#f6f6ff 58px,#ffd4d4 60px,#ffd3d3 61px,#ffebeb 62px,#e7e7ff 63px,#b7b7ff 64px,#b3b3ff 65px,#fff9f9 67px,#ffc0c0 68px,#ffa0a0 69px,#ffc5c5 70px,#fffdfd 71px,#d5d5ff 72px,#5c5cff 74px,#6868ff 75px,#e4e4ff 77px,#fffafa 78px,#fff3f3 79px,#fdfdff 80px,#c0c0ff 82px,#b8b8ff 83px,#fff4f4 85px,#f77 87px,#ff6e6e 88px,#ffebeb 90px,#e5e5ff 91px,#b8b8ff 93px,#d2d2ff 95px,#efefff 97px,#e4e4ff 100px,#fffdfd 103px,#ffe9e9 105px,#fefeff 108px,#fdd 109px,#ff4141 111px,#ff1313 112px,#ff2f2f 113px,#ffc4c4 115px,#fff2f2 116px,#d7d7ff 117px,#8989ff 118px,#5151ff 119px,#6767ff 120px,#efefff 122px,#fff4f4 123px,#ffdede 124px,#ffa8a8 125px,#ff5454 126px,#ff1b1b 127px,#ff3131 128px,#ffcfcf 130px,#e2e2ff 131px,#2e2eff 133px,#0e0eff 134px,#3939ff 135px,#aaf 136px,#ffd1d1 137px,#ff8181 138px,#ff7171 139px,#ffbcbc 141px,#ffeded 142px,#d2d2ff 144px,#c0c0ff 147px,#afafff 149px)"></i>
<i style="left:286px;top:70px;width:2px;height:151px;background:linear-gradient(#d0d0ff 0px,#babaff 1px,#c9c9ff 2px,#f1f1ff 3px,#ffecec 4px,#ffbcbc 6px,#ffbdbd 7px,#f5f5ff 9px,#a3a3ff 11px,#9c9cff 12px,#b7b7ff 13px,#e6e6ff 14px,#ffebeb 15px,#ffcfcf 16px,#ffd9d9 19px,#ff9f9f 20px,#ff4545 21px,#ff5b5b 22px,#f8f8ff 23px,#0e0eff 24px,#00f 26px,#0303ff 27px,#f1f1ff 28px,#ff1f1f 29px,#f00 30px,#f00 31px,#ff2b2b 32px,#ffdada 33px,#9f9fff 34px,#4e4eff 35px,#4545ff 36px,#adadff 38px,#e2e2ff 40px,#f1f1ff 41px,#dadaff 43px,#f5f5ff 44px,#fcc 45px,#ffbaba 46px,#ffe5e5 47px,#dcdcff 48px,#aeaeff 49px,#bcbcff 50px,#fcfcff 51px,#ff9292 53px,#ff8c8c 54px,#f1f1ff 56px,#b7b7ff 57px,#b3b3ff 58px,#e9e9ff 59px,#fff0f0 60px,#ffdfdf 62px,#fff3f3 63px,#e4e4ff 64px,#b2b2ff 65px,#a9a9ff 66px,#fffbfb 68px,#ff9595 70px,#ffb3b3 71px,#ffeded 72px,#e8e8ff 73px,#88f 75px,#9292ff 76px,#d1d1ff 77px,#fffdfd 78px,#ffe7e7 79px,#fdfdff 81px,#c7c7ff 83px,#bfbfff 84px,#dcdcff 85px,#ffebeb 86px,#ff6b6b 88px,#ff5d5d 89px,#ffd9d9 91px,#f7f7ff 92px,#ccf 94px,#e2e2ff 98px,#c9c9ff 101px,#d9d9ff 105px,#f1f1ff 108px,#ffefef 110px,#ff5b5b 112px,#ff2727 113px,#ff3a3a 114px,#ffcaca 116px,#fff4f4 117px,#dbdbff 118px,#5353ff 120px,#6262ff 121px,#ebebff 123px,#fff1f1 124px,#ffd6d6 125px,#ffa1a1 126px,#ff5858 127px,#ff2e2e 128px,#ff4b4b 129px,#ff9191 130px,#ffdcdc 132px,#f4f4ff 133px,#a6a6ff 135px,#3f3fff 137px,#5353ff 138px,#fffafa 140px,#ffadad 141px,#ff7c7c 142px,#ff7979 143px,#ff9e9e 145px,#ffc9c9 146px,#e2e2ff 147px,#8f8fff 148px,#6565ff 149px,#7272ff 150px)"></i>
<i style="left:288px;top:70px;width:2px;height:151px;background:linear-gradient(#e9e9ff 0px,#d1d1ff 1px,#cdcdff 2px,#e9e9ff 3px,#fff2f2 4px,#ffc0c0 6px,#ffb4b4 7px,#ffcbcb 8px,#fefeff 9px,#a3a3ff 11px,#9393ff 12px,#9d9dff 13px,#ebebff 15px,#ffeaea 16px,#ffd2d2 17px,#ffcece 19px,#ffafaf 20px,#f66 21px,#ff5a5a 22px,#ffd6d6 23px,#5b5bff 24px,#00f 25px,#00f 27px,#9595ff 28px,#ff7676 29px,#f00 30px,#ff0101 32px,#ffafaf 33px,#b0b0ff 34px,#4141ff 35px,#1a1aff 36px,#4040ff 37px,#b3b3ff 39px,#f2f2ff 41px,#f6f6ff 42px,#ddf 43px,#ebebff 44px,#ffd4d4 45px,#ffb4b4 46px,#eef 48px,#b9b9ff 49px,#c1c1ff 50px,#fff2f2 51px,#ffa5a5 52px,#ff7474 53px,#ff7171 54px,#fbfbff 56px,#ababff 57px,#8f8fff 58px,#d1d1ff 59px,#fff9f9 60px,#ffefef 62px,#fffefe 63px,#e1e1ff 64px,#afafff 65px,#9d9dff 66px,#fffefe 68px,#ff8a8a 70px,#ff9f9f 71px,#fdd 72px,#f9f9ff 73px,#babaff 75px,#c4c4ff 76px,#f8f8ff 77px,#ffcdcd 79px,#ffd8d8 80px,#fff7f7 81px,#ceceff 83px,#c5c5ff 84px,#e0e0ff 85px,#ffe5e5 86px,#f66 88px,#f55 89px,#ff8686 90px,#ffcbcb 91px,#fff9f9 92px,#dcdcff 94px,#d6d6ff 98px,#b0b0ff 101px,#b6b6ff 103px,#adadff 105px,#e5e5ff 108px,#e7e7ff 109px,#fffdfd 110px,#ffbfbf 111px,#ff6d6d 112px,#ff3434 113px,#ff4141 114px,#ffcdcd 116px,#fff3f3 117px,#e3e3ff 118px,#6060ff 120px,#6868ff 121px,#e9e9ff 123px,#ffefef 124px,#ffd0d0 125px,#ff5d5d 127px,#ff3c3c 128px,#ff5d5d 129px,#ffa6a6 130px,#ffeded 133px,#fff1f1 135px,#dfdfff 136px,#8989ff 137px,#1c1cff 138px,#0e0eff 139px,#2f2fff 140px,#fff4f4 142px,#faa 143px,#ffc9c9 146px,#ffefef 147px,#9595ff 149px,#9797ff 150px)"></i>
<i style="left:290px;top:70px;width:2px;height:152px;background:linear-gradient(#f2f2ff 0px,#cdcdff 2px,#fffcfc 4px,#ffb3b3 7px,#ffc3c3 8px,#fff7f7 9px,#a9a9ff 11px,#9393ff 12px,#9090ff 13px,#a6a6ff 14px,#fff 16px,#ffd6d6 17px,#ffb0b0 20px,#ff7878 21px,#ff6161 22px,#ffbebe 23px,#9191ff 24px,#00f 25px,#00f 27px,#7272ff 28px,#ffa0a0 29px,#f00 30px,#f00 32px,#ff9e9e 33px,#a9a9ff 34px,#1616ff 35px,#00f 36px,#0707ff 37px,#a1a1ff 39px,#f2f2ff 41px,#fcfcff 42px,#e2e2ff 43px,#e5e5ff 44px,#ffdede 45px,#ffb8b8 46px,#ffcfcf 47px,#f7f7ff 48px,#bfbfff 49px,#c0c0ff 50px,#fff3f3 51px,#ffa2a2 52px,#ff7070 53px,#ff6969 54px,#ffa4a4 55px,#fff9f9 56px,#ababff 57px,#7c7cff 58px,#fff 60px,#fff6f6 62px,#fcfcff 63px,#e3e3ff 64px,#b3b3ff 65px,#9a9aff 66px,#fbfbff 68px,#ff8787 70px,#ff9494 71px,#ffd3d3 72px,#fffdfd 73px,#d0d0ff 75px,#d8d8ff 76px,#fffafa 77px,#ffc3c3 79px,#ffcbcb 80px,#ffebeb 81px,#ededff 82px,#c3c3ff 84px,#dcdcff 85px,#ffe8e8 86px,#ff6b6b 88px,#ff5656 89px,#ff8181 90px,#ffc5c5 91px,#fff3f3 92px,#dedeff 95px,#c8c8ff 99px,#acacff 101px,#acacff 103px,#9f9fff 105px,#e0e0ff 108px,#e3e3ff 109px,#fdfdff 110px,#ffc4c4 111px,#ff7171 112px,#f33 113px,#ff3c3c 114px,#fcc 116px,#fff1f1 117px,#ebebff 118px,#7272ff 120px,#7575ff 121px,#eaeaff 123px,#ffefef 124px,#ffd1d1 125px,#ff6363 127px,#ff4141 128px,#ff5c5c 129px,#ffa5a5 130px,#ffd6d6 131px,#f1f1ff 132px,#d5d5ff 133px,#dfdfff 135px,#a3a3ff 136px,#4343ff 137px,#1919ff 138px,#1e1eff 140px,#88f 142px,#adadff 143px,#b0b0ff 146px,#fffdfd 148px,#ff9f9f 150px,#ff5a5a 151px)"></i>
<i style="left:292px;top:69px;width:2px;height:151px;background:linear-gradient(#fff 0px,#c5c5ff 3px,#d6d6ff 4px,#fefeff 5px,#ffb0b0 8px,#ffbcbc 9px,#ffeded 10px,#dbdbff 11px,#9393ff 13px,#8686ff 14px,#99f 15px,#fbfbff 17px,#ffd4d4 18px,#ffbcbc 19px,#ffb3b3 21px,#ff8585 22px,#ff6d6d 23px,#ffc0c0 24px,#9b9bff 25px,#00f 26px,#00f 28px,#7878ff 29px,#ffabab 30px,#f00 31px,#f00 33px,#ffadad 34px,#8787ff 35px,#00f 36px,#00f 38px,#3636ff 39px,#9b9bff 40px,#d3d3ff 41px,#f9f9ff 42px,#fff8f8 43px,#e3e3ff 45px,#ffe9e9 46px,#ffc2c2 47px,#ffd7d7 48px,#f1f1ff 49px,#b9b9ff 50px,#b5b5ff 51px,#f8f8ff 52px,#ffbcbc 53px,#ff8b8b 54px,#ff7b7b 55px,#ffa5a5 56px,#fff0f0 57px,#bbf 58px,#8b8bff 59px,#c9c9ff 60px,#fff5f5 61px,#fee 63px,#fff9f9 64px,#ebebff 65px,#b5b5ff 66px,#9292ff 67px,#b8b8ff 68px,#f5f5ff 69px,#ffc7c7 70px,#ff8787 71px,#ff8e8e 72px,#ffcfcf 73px,#fffdfd 74px,#cacaff 76px,#ccf 77px,#f6f6ff 78px,#ffabab 80px,#ff9f9f 81px,#ffc4c4 82px,#fffefe 83px,#d0d0ff 84px,#b8b8ff 85px,#cfcfff 86px,#fff5f5 87px,#ff8686 89px,#ff7272 90px,#ff9393 91px,#fcc 92px,#fff2f2 93px,#f2f2ff 95px,#c7c7ff 100px,#9e9eff 102px,#a9a9ff 106px,#e1e1ff 109px,#e3e3ff 110px,#fbfbff 111px,#ffc7c7 112px,#ff7272 113px,#ff3232 114px,#ff3a3a 115px,#ffcdcd 117px,#fff4f4 118px,#ebebff 119px,#7d7dff 121px,#7f7fff 122px,#e9e9ff 124px,#fff6f6 125px,#ffdede 126px,#ffb1b1 127px,#ff3b3b 129px,#ff4545 130px,#ff8989 131px,#ffebeb 132px,#bfbfff 133px,#55f 134px,#2f2fff 135px,#7a7aff 136px,#d8d8ff 137px,#ffe3e3 138px,#ffd8d8 139px,#fff1f1 140px,#cbcbff 142px,#9e9eff 145px,#b1b1ff 146px,#e3e3ff 147px,#ffdcdc 148px,#ffb5b5 149px,#ffb5b5 150px)"></i>
<i style="left:294px;top:70px;width:2px;height:151px;background:linear-gradient(#f1f1ff 0px,#bfbfff 2px,#d1d1ff 3px,#fcfcff 4px,#ffafaf 7px,#ffb6b6 8px,#ffdede 9px,#efefff 10px,#9b9bff 12px,#8383ff 13px,#9393ff 14px,#f8f8ff 16px,#ffb9b9 18px,#ffb9b9 20px,#ff7f7f 22px,#ffcece 23px,#9292ff 24px,#00f 25px,#00f 27px,#8989ff 28px,#ffacac 29px,#ff0202 30px,#f00 31px,#f11 32px,#ffc3c3 33px,#66f 34px,#00f 35px,#00f 37px,#2323ff 38px,#9f9fff 39px,#dfdfff 40px,#fff7f7 41px,#ffe9e9 42px,#f4f4ff 43px,#e1e1ff 44px,#fff5f5 45px,#ffcfcf 46px,#ffe4e4 47px,#e3e3ff 48px,#adadff 49px,#a3a3ff 50px,#d9d9ff 51px,#ffe5e5 52px,#f99 54px,#ffacac 55px,#ffe7e7 56px,#d0d0ff 57px,#a9a9ff 58px,#e3e3ff 59px,#ffdfdf 60px,#ffdbdb 62px,#f7f7ff 64px,#b4b4ff 65px,#8585ff 66px,#ababff 67px,#efefff 68px,#ffc8c8 69px,#ff8585 70px,#ff8b8b 71px,#ffcece 72px,#fdfdff 73px,#bcbcff 75px,#b5b5ff 76px,#dedeff 77px,#ffdada 78px,#ff8787 79px,#ff5f5f 80px,#ff8b8b 81px,#ffe1e1 82px,#d2d2ff 83px,#acacff 84px,#c1c1ff 85px,#f9f9ff 86px,#ffa7a7 88px,#ff9797 89px,#ffb0b0 90px,#ffdcdc 91px,#fff3f3 92px,#fff2f2 95px,#fefeff 96px,#c5c5ff 99px,#8585ff 101px,#dfdfff 107px,#e2e2ff 109px,#f7f7ff 110px,#ffcdcd 111px,#ff7878 112px,#ff3636 113px,#ff3f3f 114px,#ffd5d5 116px,#fffdfd 117px,#e2e2ff 118px,#7f7fff 120px,#8484ff 121px,#e5e5ff 123px,#fbfbff 124px,#fff3f3 125px,#ffcaca 126px,#ff3131 128px,#ff2424 129px,#ff6363 130px,#fdd 131px,#aaf 132px,#3b3bff 133px,#a9a9ff 134px,#ffe9e9 135px,#ffe7e7 137px,#ffc0c0 139px,#fff8f8 141px,#fffdfd 142px,#ffbebe 145px,#ffa7a7 146px,#ffc8c8 147px,#f1f1ff 148px,#bebeff 149px,#acacff 150px)"></i>
<i style="left:296px;top:71px;width:2px;height:151px;background:linear-gradient(#d3d3ff 0px,#bbf 1px,#cdcdff 2px,#fcfcff 3px,#ffabab 6px,#ffadad 7px,#fffbfb 9px,#7979ff 12px,#8585ff 13px,#f0f0ff 15px,#ffbebe 17px,#ffc1c1 19px,#ff8a8a 21px,#ffd9d9 22px,#8686ff 23px,#00f 24px,#00f 26px,#9e9eff 27px,#ff9f9f 28px,#ff0303 29px,#f00 30px,#ff1c1c 31px,#ffcaca 32px,#5f5fff 33px,#00f 34px,#00f 36px,#2828ff 37px,#ababff 38px,#ededff 39px,#ffdada 41px,#fdfdff 42px,#dfdfff 43px,#fdfdff 44px,#fdd 45px,#fff3f3 46px,#d4d4ff 47px,#9e9eff 48px,#9090ff 49px,#f0f0ff 51px,#ffe0e0 52px,#ffb1b1 53px,#ffaeae 54px,#fdd 55px,#e1e1ff 56px,#c0c0ff 57px,#fbfbff 58px,#ffc9c9 59px,#ffc7c7 61px,#ffd4d4 62px,#fff9f9 63px,#7d7dff 65px,#a2a2ff 66px,#ebebff 67px,#ffc9c9 68px,#ff8484 69px,#ff8989 70px,#ffcece 71px,#f9f9ff 72px,#afafff 74px,#9f9fff 75px,#c6c6ff 76px,#ffe5e5 77px,#ff7979 78px,#ff3a3a 79px,#ff6565 80px,#ffcaca 81px,#d8d8ff 82px,#aaf 83px,#bbf 84px,#eef 85px,#ffe0e0 86px,#fbb 87px,#ffacac 88px,#ffbfbf 89px,#ffe6e6 90px,#fff4f4 91px,#ffd7d7 93px,#ffeded 95px,#f9f9ff 96px,#c9c9ff 98px,#7c7cff 100px,#8484ff 101px,#e0e0ff 105px,#e1e1ff 108px,#f3f3ff 109px,#ffd4d4 110px,#ff8080 111px,#ff3f3f 112px,#ff4a4a 113px,#ffe0e0 115px,#f6f6ff 116px,#d5d5ff 117px,#7676ff 119px,#7f7fff 120px,#e0e0ff 122px,#f6f6ff 124px,#ffe5e5 125px,#ff2b2b 127px,#ff0808 128px,#ff4040 129px,#ffa1a1 130px,#ffecec 131px,#a7a7ff 132px,#8c8cff 133px,#fff9f9 135px,#ffe5e5 136px,#fff4f4 137px,#e1e1ff 138px,#b0b0ff 139px,#a9a9ff 140px,#fff3f3 142px,#ffbebe 143px,#ffa5a5 144px,#faa 145px,#ffefef 147px,#e9e9ff 148px,#b5b5ff 150px)"></i>
<i style="left:298px;top:70px;width:2px;height:151px;background:linear-gradient(#f2f2ff 0px,#babaff 2px,#ccf 3px,#fcfcff 4px,#ffa5a5 7px,#ffa5a5 8px,#fff1f1 10px,#d2d2ff 11px,#8d8dff 12px,#5a5aff 13px,#6464ff 14px,#dfdfff 16px,#ffe8e8 17px,#ffc8c8 18px,#ffc9c9 20px,#ff9494 22px,#ffdfdf 23px,#8585ff 24px,#00f 25px,#00f 27px,#b0b0ff 28px,#ff8e8e 29px,#f00 30px,#ff0f0f 32px,#ffc0c0 33px,#6a6aff 34px,#00f 35px,#00f 37px,#3434ff 38px,#b4b4ff 39px,#f6f6ff 40px,#ffcfcf 42px,#fff7f7 43px,#e2e2ff 44px,#f3f3ff 45px,#ffefef 46px,#fbfbff 47px,#9c9cff 49px,#8e8eff 50px,#fff5f5 53px,#ffb9b9 54px,#faa 55px,#f3f3ff 57px,#dcdcff 58px,#ffeded 59px,#ffb8b8 60px,#faa 62px,#ffbaba 63px,#ffe7e7 64px,#c3c3ff 65px,#8686ff 66px,#a3a3ff 67px,#e8e8ff 68px,#ffd2d2 69px,#ff9595 70px,#f99 71px,#ffd6d6 72px,#f5f5ff 73px,#9f9fff 75px,#8787ff 76px,#acacff 77px,#fff 78px,#ff9797 79px,#ff5757 80px,#ff7373 81px,#ffc6c6 82px,#e8e8ff 83px,#bebeff 84px,#cacaff 85px,#f0f0ff 86px,#ffe6e6 87px,#ffb0b0 89px,#ffc2c2 90px,#ffe8e8 91px,#fff2f2 92px,#ffc8c8 94px,#ffcaca 95px,#fffdfd 97px,#d4d4ff 99px,#88f 101px,#8e8eff 102px,#dbdbff 105px,#e9e9ff 107px,#dfdfff 109px,#f0f0ff 110px,#ffdada 111px,#ff8989 112px,#ff4c4c 113px,#ff5858 114px,#ffe8e8 116px,#ededff 117px,#c9c9ff 118px,#6262ff 120px,#6f6fff 121px,#dadaff 123px,#e9e9ff 125px,#fff7f7 126px,#ffa0a0 127px,#f33 128px,#ff0303 129px,#ff5a5a 131px,#ff8282 133px,#fff4f4 135px,#6161ff 137px,#2d2dff 138px,#4141ff 139px,#6868ff 140px,#c6c6ff 141px,#ffd7d7 142px,#ff8787 143px,#ff6969 144px,#ff9191 145px,#fff2f2 146px,#a0a0ff 147px,#5a5aff 148px,#4747ff 149px,#6a6aff 150px)"></i>
<i style="left:300px;top:70px;width:3px;height:151px;background:linear-gradient(#f0f0ff 0px,#bbf 2px,#cbcbff 3px,#f8f8ff 4px,#ffa4a4 7px,#ffa2a2 8px,#ffc3c3 9px,#fff9f9 10px,#bcbcff 11px,#5f5fff 12px,#1a1aff 13px,#2121ff 14px,#c7c7ff 16px,#ffefef 17px,#ffcaca 18px,#ffd0d0 20px,#ffa5a5 22px,#ffe5e5 23px,#8e8eff 24px,#00f 25px,#00f 27px,#b2b2ff 28px,#ff8989 29px,#f00 30px,#f00 32px,#ffafaf 33px,#7d7dff 34px,#00f 35px,#00f 37px,#44f 38px,#bdbdff 39px,#fafaff 40px,#ffcbcb 42px,#ffefef 43px,#ececff 44px,#fffbfb 46px,#f4f4ff 47px,#afafff 49px,#a3a3ff 50px,#fff4f4 53px,#ffb6b6 54px,#ffa4a4 55px,#fffafa 57px,#f3f3ff 58px,#ffe5e5 59px,#ffbaba 60px,#ff9595 62px,#ffa5a5 63px,#ffdada 64px,#d5d5ff 65px,#9f9fff 66px,#b6b6ff 67px,#ececff 68px,#ffdede 69px,#ffb1b1 70px,#ffb3b3 71px,#ffe2e2 72px,#f2f2ff 73px,#cbcbff 74px,#9090ff 75px,#6f6fff 76px,#9595ff 77px,#e1e1ff 78px,#ffcece 79px,#ff9f9f 80px,#ffa8a8 81px,#f8f8ff 83px,#dedeff 84px,#f8f8ff 86px,#ffeaea 87px,#ffb2b2 89px,#ffbfbf 90px,#ffe4e4 91px,#fff3f3 92px,#ffd4d4 94px,#ffe9e9 96px,#fffefe 97px,#dedeff 99px,#9d9dff 101px,#a1a1ff 102px,#e4e4ff 105px,#efefff 107px,#e7e7ff 109px,#f5f5ff 110px,#ffd9d9 111px,#ff8e8e 112px,#f55 113px,#ff6060 114px,#ffe9e9 116px,#eaeaff 117px,#bdbdff 118px,#4141ff 120px,#5252ff 121px,#d5d5ff 123px,#fffdfd 126px,#ffb1b1 127px,#ff4f4f 128px,#ff2121 129px,#ff6969 131px,#ff8282 133px,#ffe4e4 135px,#d7d7ff 136px,#5353ff 138px,#5353ff 139px,#7373ff 140px,#f7f7ff 142px,#ffd5d5 143px,#ffd6d6 144px,#f3f3ff 145px,#4545ff 147px,#1313ff 148px,#2828ff 150px)"></i>
<i style="left:303px;top:70px;width:3px;height:150px;background:linear-gradient(#e6e6ff 0px,#b8b8ff 2px,#c3c3ff 3px,#eaeaff 4px,#ffebeb 5px,#ffacac 7px,#ffabab 8px,#f2f2ff 10px,#9797ff 11px,#1b1bff 12px,#00f 13px,#00f 14px,#2727ff 15px,#b0b0ff 16px,#ffe5e5 17px,#ffb6b6 18px,#ffd8d8 20px,#ffc1c1 22px,#fff0f0 23px,#9191ff 24px,#00f 25px,#00f 27px,#9e9eff 28px,#ff9090 29px,#f00 30px,#f00 32px,#ff9c9c 33px,#9a9aff 34px,#00f 35px,#00f 37px,#d4d4ff 39px,#fffbfb 40px,#ffd0d0 42px,#ffefef 43px,#f5f5ff 44px,#fff9f9 45px,#ffe2e2 46px,#ffefef 47px,#e7e7ff 48px,#bbf 49px,#a5a5ff 50px,#dbdbff 52px,#fff7f7 53px,#fbb 54px,#ffa9a9 55px,#fbfbff 57px,#dadaff 58px,#f3f3ff 59px,#faa 62px,#ffb4b4 63px,#ffe3e3 64px,#dcdcff 65px,#b5b5ff 66px,#ceceff 67px,#fefeff 68px,#ff9595 70px,#ff9292 71px,#f9f9ff 73px,#77f 76px,#9898ff 77px,#e1e1ff 78px,#ffd4d4 79px,#ffa7a7 80px,#ffb1b1 81px,#f6f6ff 83px,#ddf 84px,#ebebff 86px,#fff8f8 87px,#ff9c9c 89px,#ffa1a1 90px,#fff6f6 92px,#f3f3ff 98px,#a4a4ff 101px,#a8a8ff 102px,#fbfbff 105px,#fffefe 109px,#fff2f2 110px,#ffc9c9 111px,#ff4f4f 113px,#ff5a5a 114px,#ffe0e0 116px,#ebebff 117px,#afafff 118px,#5959ff 119px,#1818ff 120px,#2f2fff 121px,#d4d4ff 123px,#efefff 124px,#fff6f6 126px,#ff7272 128px,#ff4f4f 129px,#ff6e6e 130px,#ffeaea 132px,#acacff 133px,#8c8cff 134px,#e5e5ff 135px,#ffc4c4 136px,#ff9e9e 137px,#ffb1b1 138px,#fffefe 140px,#7f7fff 143px,#8080ff 144px,#c1c1ff 147px,#cbcbff 148px,#bbf 149px)"></i>
<i style="left:306px;top:69px;width:3px;height:150px;background:linear-gradient(#eaeaff 0px,#adadff 3px,#b5b5ff 4px,#fff7f7 6px,#ffb2b2 8px,#ffb2b2 9px,#ffd7d7 10px,#e2e2ff 11px,#00f 13px,#00f 16px,#9898ff 17px,#ffdede 18px,#ffa5a5 19px,#ffb6b6 20px,#ffdcdc 21px,#ffdfdf 22px,#fcc 23px,#fff5f5 24px,#8b8bff 25px,#00f 26px,#00f 28px,#8585ff 29px,#ff9090 30px,#f00 31px,#f00 33px,#ff8484 34px,#b3b3ff 35px,#11f 36px,#00f 37px,#11f 38px,#9191ff 39px,#e8e8ff 40px,#fff4f4 41px,#ffd8d8 43px,#fbfbff 45px,#ffb8b8 47px,#ffc7c7 48px,#f9f9ff 49px,#b4b4ff 50px,#8b8bff 51px,#a2a2ff 52px,#fff9f9 54px,#ffc0c0 55px,#ffaeae 56px,#ffd3d3 57px,#e6e6ff 58px,#a8a8ff 59px,#bdbdff 60px,#f7f7ff 61px,#ffc9c9 63px,#ffcece 64px,#fff2f2 65px,#bbf 67px,#fff0f0 69px,#ffadad 70px,#ff4f4f 71px,#ff3e3e 72px,#fff5f5 74px,#dedeff 75px,#9898ff 77px,#b1b1ff 78px,#f3f3ff 79px,#ff8080 81px,#ff9292 82px,#ffd3d3 83px,#eef 84px,#c9c9ff 85px,#c4c4ff 86px,#d7d7ff 87px,#fff 88px,#ff6969 90px,#ff6767 91px,#fff2f2 93px,#ceceff 95px,#cacaff 96px,#f3f3ff 99px,#ababff 102px,#afafff 103px,#f4f4ff 105px,#ffe6e6 108px,#ffdede 111px,#ffb8b8 112px,#ff4040 114px,#ff4c4c 115px,#ffd6d6 117px,#eef 118px,#aaf 119px,#4d4dff 120px,#0909ff 121px,#22f 122px,#d5d5ff 124px,#f6f6ff 125px,#fff 126px,#ffecec 127px,#ff7d7d 129px,#ff6262 130px,#ff7f7f 131px,#ffdada 133px,#f2f2ff 134px,#bdbdff 135px,#bcbcff 136px,#f5f5ff 138px,#fcfcff 140px,#d1d1ff 142px,#9696ff 144px,#8e8eff 147px,#d2d2ff 149px)"></i>
<i style="left:309px;top:69px;width:3px;height:151px;background:linear-gradient(#e6e6ff 0px,#9797ff 3px,#a2a2ff 4px,#fff7f7 6px,#ff9d9d 8px,#ff9e9e 9px,#fcc 10px,#e0e0ff 11px,#00f 13px,#00f 16px,#a3a3ff 17px,#ffd0d0 18px,#f99 19px,#ffcfcf 21px,#ffb7b7 23px,#ffeded 24px,#8282ff 25px,#00f 26px,#00f 28px,#99f 29px,#ff6e6e 30px,#f00 31px,#f00 33px,#ff8383 34px,#b0b0ff 35px,#1010ff 36px,#00f 37px,#1919ff 38px,#9898ff 39px,#ebebff 40px,#fff3f3 41px,#ffd8d8 43px,#fff5f5 44px,#fafaff 45px,#ffb3b3 47px,#ffc7c7 48px,#f4f4ff 49px,#acacff 50px,#8484ff 51px,#9f9fff 52px,#fff9f9 54px,#ffc1c1 55px,#ffb1b1 56px,#ffd7d7 57px,#e3e3ff 58px,#a9a9ff 59px,#bfbfff 60px,#f5f5ff 61px,#ffcfcf 63px,#ffd5d5 64px,#fff8f8 65px,#d6d6ff 66px,#c2c2ff 67px,#e4e4ff 68px,#ffeded 69px,#ffb1b1 70px,#ff5c5c 71px,#ff5252 72px,#fffefe 74px,#b3b3ff 76px,#9c9cff 77px,#b5b5ff 78px,#f1f1ff 79px,#ff9191 81px,#ffa3a3 82px,#ffdcdc 83px,#eef 84px,#d0d0ff 85px,#cbcbff 86px,#dcdcff 87px,#fffcfc 88px,#ff6b6b 90px,#ff6c6c 91px,#fff7f7 93px,#c4c4ff 95px,#c0c0ff 96px,#ececff 98px,#f3f3ff 99px,#b0b0ff 102px,#b5b5ff 103px,#f9f9ff 105px,#ffe0e0 108px,#ffe4e4 110px,#ffd8d8 111px,#ffb0b0 112px,#ff3535 114px,#ff4545 115px,#ffd4d4 117px,#f2f2ff 118px,#b2b2ff 119px,#5959ff 120px,#1919ff 121px,#3131ff 122px,#d9d9ff 124px,#f9f9ff 125px,#fff9f9 126px,#ffdfdf 127px,#ff5b5b 129px,#ff3d3d 130px,#ffbdbd 133px,#f5f5ff 135px,#6f6fff 137px,#5353ff 138px,#8f8fff 139px,#eef 140px,#fbb 141px,#ff9494 142px,#ffb9b9 143px,#fff5f5 144px,#e4e4ff 145px,#7676ff 148px,#8686ff 149px,#b3b3ff 150px)"></i>
<i style="left:312px;top:69px;width:3px;height:151px;background:linear-gradient(#dcdcff 0px,#6c6cff 3px,#8989ff 4px,#cacaff 5px,#fee 6px,#ffa9a9 7px,#ff7a7a 8px,#ff8686 9px,#ffc9c9 10px,#d2d2ff 11px,#4d4dff 12px,#00f 13px,#00f 15px,#3636ff 16px,#e2e2ff 17px,#ffa9a9 18px,#ff8787 19px,#ffabab 21px,#ff8c8c 22px,#f88 23px,#ffe9e9 24px,#6363ff 25px,#00f 26px,#1010ff 28px,#fffbfb 29px,#ff0f0f 30px,#f00 32px,#f00 33px,#ffb3b3 34px,#8989ff 35px,#00f 36px,#00f 37px,#2c2cff 38px,#a5a5ff 39px,#eef 40px,#fff3f3 41px,#ffdbdb 42px,#fdd 43px,#f8f8ff 44px,#f6f6ff 45px,#ffb9b9 47px,#ffdede 48px,#dadaff 49px,#9797ff 50px,#8484ff 51px,#fff5f5 54px,#ffc2c2 55px,#ffbdbd 56px,#ffe5e5 57px,#dfdfff 58px,#bfbfff 59px,#fffdfd 61px,#ffd0d0 63px,#ffdbdb 64px,#fefeff 65px,#d1d1ff 66px,#cdcdff 67px,#f2f2ff 68px,#ffecec 69px,#ff8f8f 71px,#ff9f9f 72px,#ffe9e9 73px,#ddf 74px,#9c9cff 76px,#9494ff 77px,#e7e7ff 79px,#ffe4e4 80px,#ffcaca 81px,#fff5f5 83px,#e1e1ff 85px,#f0f0ff 87px,#ffeded 88px,#ff8585 90px,#ff9797 91px,#ffd3d3 92px,#f4f4ff 93px,#bbf 95px,#babaff 96px,#ebebff 98px,#f1f1ff 99px,#b1b1ff 102px,#bcbcff 103px,#fffefe 105px,#ffdcdc 107px,#ffdfdf 110px,#ffcece 111px,#ff9a9a 112px,#ff5050 113px,#ff2626 114px,#ff4949 115px,#fdd 117px,#f4f4ff 118px,#bdbdff 119px,#6d6dff 120px,#3939ff 121px,#55f 122px,#e2e2ff 124px,#fefeff 125px,#ffecec 126px,#ffc1c1 127px,#ff1818 129px,#ff0808 130px,#ff4646 131px,#ffa9a9 132px,#fffbfb 133px,#4e4eff 135px,#4f4fff 136px,#99f 137px,#f8f8ff 138px,#ffb8b8 139px,#ff9f9f 140px,#ffe4e4 142px,#f3f3ff 143px,#9b9bff 145px,#9c9cff 146px,#f6f6ff 148px,#ffb6b6 150px)"></i>
<i style="left:315px;top:69px;width:3px;height:151px;background:linear-gradient(#cfcfff 0px,#6868ff 2px,#5959ff 3px,#8d8dff 4px,#d5d5ff 5px,#ffdcdc 6px,#ff9191 7px,#ff6f6f 8px,#ff9393 9px,#ffe7e7 10px,#a3a3ff 11px,#1212ff 12px,#00f 14px,#00f 15px,#8585ff 16px,#ffdbdb 17px,#ff8686 18px,#ff7e7e 19px,#ff9696 20px,#ff8d8d 21px,#ff6868 22px,#ff8a8a 23px,#eef 24px,#2c2cff 25px,#00f 26px,#00f 27px,#7474ff 28px,#ff8989 29px,#f00 30px,#f00 32px,#ff3b3b 33px,#fcfcff 34px,#6060ff 35px,#0101ff 36px,#0808ff 37px,#c4c4ff 39px,#f6f6ff 40px,#fdd 42px,#fff5f5 43px,#e4e4ff 44px,#fdfdff 45px,#ffc8c8 46px,#ffbebe 47px,#fff5f5 48px,#8282ff 50px,#88f 51px,#e5e5ff 53px,#ffe3e3 54px,#ffbaba 55px,#ffc9c9 56px,#fff9f9 57px,#ccf 58px,#c4c4ff 59px,#ededff 60px,#fee 61px,#ffc3c3 63px,#ffd7d7 64px,#fafaff 65px,#d8d8ff 66px,#fffefe 68px,#ffb3b3 71px,#eef 73px,#8080ff 76px,#8c8cff 77px,#f3f3ff 79px,#ffd9d9 80px,#ffc8c8 81px,#fffdfd 83px,#e5e5ff 85px,#fffefe 87px,#ff9c9c 89px,#ff8787 90px,#ffafaf 91px,#ffecec 92px,#e3e3ff 93px,#afafff 95px,#b3b3ff 96px,#eaeaff 98px,#efefff 99px,#babaff 102px,#fff6f6 105px,#ffdada 107px,#ffdada 110px,#ffbdbd 111px,#ff3232 113px,#ff1e1e 114px,#ff5858 115px,#ffafaf 116px,#ffebeb 117px,#eef 118px,#7474ff 120px,#5454ff 121px,#7979ff 122px,#eaeaff 124px,#fffafa 125px,#ffdbdb 126px,#ff9d9d 127px,#ff3b3b 128px,#f00 129px,#f00 130px,#ff4c4c 131px,#fbb 132px,#e5e5ff 133px,#7b7bff 134px,#3030ff 135px,#5c5cff 136px,#c0c0ff 137px,#ffebeb 138px,#ffbdbd 139px,#ffcaca 140px,#fff8f8 141px,#d0d0ff 143px,#8b8bff 145px,#a2a2ff 146px,#e0e0ff 147px,#ffe0e0 148px,#ff8a8a 150px)"></i>
<i style="left:318px;top:71px;width:3px;height:149px;background:linear-gradient(#5656ff 0px,#6767ff 1px,#f4f4ff 3px,#ff8787 5px,#ff8585 6px,#ffc2c2 7px,#d9d9ff 8px,#5151ff 9px,#00f 10px,#00f 12px,#2c2cff 13px,#e5e5ff 14px,#ff9696 15px,#ff6868 16px,#ffa1a1 18px,#ff6d6d 20px,#ffabab 21px,#c5c5ff 22px,#1b1bff 23px,#00f 24px,#0c0cff 25px,#cacaff 26px,#ff5d5d 27px,#f00 28px,#ff0101 30px,#ff9f9f 31px,#bebeff 32px,#4242ff 33px,#0404ff 34px,#2b2bff 35px,#8e8eff 36px,#dadaff 37px,#fff 38px,#fdd 40px,#fbfbff 41px,#e2e2ff 42px,#fff3f3 43px,#ffbfbf 44px,#ffc6c6 45px,#f9f9ff 46px,#b0b0ff 47px,#88f 48px,#9e9eff 49px,#fffbfb 51px,#fbb 52px,#ffa6a6 53px,#ffd1d1 54px,#eaeaff 55px,#b0b0ff 56px,#c2c2ff 57px,#fafaff 58px,#ffb7b7 60px,#ffb4b4 61px,#f7f7ff 63px,#e5e5ff 64px,#fff7f7 66px,#ffdbdb 69px,#fff5f5 70px,#e4e4ff 71px,#7272ff 74px,#8f8fff 75px,#d0d0ff 76px,#ffe5e5 77px,#ffabab 78px,#ffa9a9 79px,#fefeff 81px,#e7e7ff 82px,#f3f3ff 84px,#fff0f0 85px,#ff8b8b 87px,#ff8a8a 88px,#fffefe 90px,#b6b6ff 92px,#a8a8ff 93px,#b1b1ff 94px,#e9e9ff 96px,#eef 97px,#d1d1ff 100px,#f9f9ff 102px,#ffd8d8 105px,#ffe2e2 107px,#ffd9d9 108px,#ffafaf 109px,#ff1d1d 111px,#ff1d1d 112px,#ffbfbf 114px,#fff7f7 115px,#e0e0ff 116px,#6b6bff 118px,#6363ff 119px,#d2d2ff 121px,#f6f6ff 122px,#fff4f4 123px,#ffd3d3 124px,#ff9090 125px,#ff3434 126px,#ff0505 127px,#ff1d1d 128px,#fcc 130px,#e5e5ff 131px,#4141ff 133px,#4d4dff 134px,#fffefe 136px,#ffbdbd 137px,#ffb2b2 138px,#fffdfd 140px,#e7e7ff 141px,#8f8fff 143px,#8f8fff 144px,#fefeff 146px,#ff9b9b 148px)"></i>
<i style="left:321px;top:70px;width:3px;height:150px;background:linear-gradient(#8080ff 0px,#5252ff 1px,#7c7cff 2px,#cfcfff 3px,#ffe0e0 4px,#ff9393 5px,#ff6464 6px,#ff7e7e 7px,#ffd5d5 8px,#aeaeff 9px,#1212ff 10px,#00f 11px,#00f 13px,#7070ff 14px,#ffe1e1 15px,#ff7373 16px,#ff5c5c 17px,#ffa9a9 19px,#ff6565 21px,#ffbdbd 22px,#9a9aff 23px,#0202ff 24px,#0808ff 26px,#c0c0ff 27px,#ff8080 28px,#ff0303 29px,#f00 30px,#f22 31px,#ffc0c0 32px,#a8a8ff 33px,#2a2aff 34px,#00f 35px,#2929ff 36px,#9494ff 37px,#dfdfff 38px,#fffbfb 39px,#ffcece 41px,#fff5f5 42px,#f0f0ff 43px,#ffebeb 44px,#ffc1c1 45px,#ffd3d3 46px,#eef 47px,#aeaeff 48px,#9191ff 49px,#aeaeff 50px,#dedeff 51px,#ffeaea 52px,#ffb4b4 53px,#ffb1b1 54px,#ffe6e6 55px,#d3d3ff 56px,#a4a4ff 57px,#c6c6ff 58px,#fffbfb 59px,#ffb9b9 61px,#ffc3c3 62px,#fff1f1 63px,#ddf 64px,#d4d4ff 65px,#f0f0ff 66px,#fff8f8 67px,#ffc7c7 69px,#ffc2c2 70px,#fffdfd 72px,#e7e7ff 73px,#99f 75px,#b2b2ff 76px,#f2f2ff 77px,#ff8a8a 79px,#ff9898 80px,#ffd4d4 81px,#f6f6ff 82px,#d9d9ff 83px,#d9d9ff 84px,#f1f1ff 85px,#ffe7e7 86px,#ff8282 88px,#ff8e8e 89px,#fcc 90px,#f7f7ff 91px,#c4c4ff 93px,#c9c9ff 95px,#e4e4ff 97px,#c1c1ff 100px,#dbdbff 102px,#f7f7ff 103px,#ffdede 105px,#fff0f0 108px,#ffe4e4 109px,#ffb2b2 110px,#ff1515 112px,#ff1c1c 113px,#ffc2c2 115px,#fffbfb 116px,#d7d7ff 117px,#6767ff 119px,#6d6dff 120px,#e8e8ff 122px,#fff8f8 123px,#ffdcdc 125px,#ffa4a4 126px,#ff5858 127px,#ff3535 128px,#ff5b5b 129px,#ffe3e3 131px,#e5e5ff 132px,#5c5cff 134px,#6e6eff 135px,#fff8f8 137px,#ffbcbc 138px,#ffbaba 139px,#fffefe 141px,#ededff 142px,#a2a2ff 144px,#9f9fff 145px,#f5f5ff 147px,#ff9c9c 149px)"></i>
<i style="left:324px;top:70px;width:3px;height:149px;background:linear-gradient(#7a7aff 0px,#5b5bff 1px,#9898ff 2px,#f4f4ff 3px,#ff5858 5px,#ff3737 6px,#ff6e6e 7px,#ffe2e2 8px,#88f 9px,#00f 10px,#0202ff 13px,#a1a1ff 14px,#ffc0c0 15px,#ff6363 16px,#ff5a5a 17px,#ffafaf 19px,#ff5e5e 21px,#ffcaca 22px,#6d6dff 23px,#00f 24px,#00f 26px,#9696ff 27px,#ffb1b1 28px,#ff2a2a 29px,#ff0303 30px,#ff4545 31px,#ffcbcb 32px,#a3a3ff 33px,#2121ff 34px,#00f 35px,#2626ff 36px,#9494ff 37px,#e0e0ff 38px,#fff9f9 39px,#ffc1c1 41px,#fff 43px,#ffc2c2 45px,#ffdada 46px,#e6e6ff 47px,#aaf 48px,#9090ff 49px,#e4e4ff 51px,#fee 52px,#ffcaca 53px,#ffd0d0 54px,#fffefe 55px,#c6c6ff 56px,#a3a3ff 57px,#fff8f8 59px,#ffd7d7 60px,#ffcaca 61px,#f0f0ff 63px,#bfbfff 64px,#bfbfff 65px,#e8e8ff 66px,#fff7f7 67px,#ffcdcd 68px,#ff8d8d 69px,#ff8181 70px,#fdd 72px,#ffefef 73px,#e8e8ff 74px,#c6c6ff 75px,#d5d5ff 76px,#fee 77px,#ff9d9d 78px,#ff6767 79px,#ff8282 80px,#ffcece 81px,#eaeaff 82px,#c1c1ff 83px,#c3c3ff 84px,#e8e8ff 85px,#ffe6e6 86px,#ff8a8a 88px,#ff9b9b 89px,#ffd7d7 90px,#f2f2ff 91px,#dbdbff 92px,#dedeff 97px,#9a9aff 100px,#a3a3ff 101px,#ebebff 103px,#fff4f4 104px,#ffe5e5 106px,#fffefe 108px,#ffefef 109px,#ffb8b8 110px,#f11 112px,#ff1818 113px,#ffc1c1 115px,#fffbfb 116px,#d3d3ff 117px,#6464ff 119px,#7070ff 120px,#f6f6ff 122px,#ffeded 123px,#ffe6e6 125px,#ffb9b9 126px,#ff7979 127px,#ff6060 128px,#ff8686 129px,#ffc6c6 130px,#fff0f0 131px,#ececff 132px,#7575ff 134px,#7d7dff 135px,#fff 137px,#ffc2c2 138px,#ffbcbc 139px,#fffbfb 141px,#f7f7ff 142px,#b3b3ff 144px,#a6a6ff 145px,#bbf 146px,#e5e5ff 147px,#ffdcdc 148px)"></i>
<i style="left:327px;top:70px;width:3px;height:149px;background:linear-gradient(#6161ff 0px,#66f 1px,#babaff 2px,#ffe6e6 3px,#ff8d8d 4px,#ff4747 5px,#ff4646 6px,#ff9494 7px,#ededff 8px,#5353ff 9px,#00f 10px,#00f 12px,#4141ff 13px,#dedeff 14px,#ffa4a4 15px,#ff6969 16px,#f77 17px,#ffa9a9 18px,#ffb5b5 19px,#ff6f6f 20px,#ff4f4f 21px,#ffd4d4 22px,#4f4fff 23px,#00f 24px,#00f 26px,#9c9cff 27px,#ffa1a1 28px,#ff1717 29px,#ff0101 30px,#ff4646 31px,#ffd9d9 32px,#8989ff 33px,#0606ff 34px,#00f 35px,#1a1aff 36px,#8e8eff 37px,#dadaff 38px,#fff 39px,#ffd9d9 40px,#ffc9c9 41px,#fffcfc 43px,#ffc5c5 45px,#ffdfdf 46px,#e4e4ff 47px,#acacff 48px,#9898ff 49px,#ececff 51px,#ffe6e6 52px,#ffc3c3 53px,#ffcfcf 54px,#fefeff 55px,#c2c2ff 56px,#a2a2ff 57px,#fff8f8 59px,#ffdada 60px,#ffcfcf 61px,#ffe4e4 62px,#e7e7ff 63px,#bdbdff 64px,#c9c9ff 65px,#f2f2ff 66px,#fff0f0 67px,#ffc6c6 68px,#ff8a8a 69px,#ff8686 70px,#ffe5e5 72px,#fffbfb 73px,#bdbdff 75px,#d5d5ff 76px,#ffe7e7 77px,#ff9595 78px,#ff6464 79px,#ff8787 80px,#ffd7d7 81px,#e2e2ff 82px,#bdbdff 83px,#c5c5ff 84px,#ececff 85px,#ffe3e3 86px,#ff8b8b 88px,#ffa0a0 89px,#fdd 90px,#efefff 91px,#dbdbff 92px,#e9e9ff 96px,#c6c6ff 98px,#99f 100px,#a6a6ff 101px,#ececff 103px,#fff7f7 104px,#ffe9e9 106px,#fffdfd 108px,#ffebeb 109px,#ffb2b2 110px,#ff5656 111px,#f11 112px,#ff1f1f 113px,#ffc6c6 115px,#fffefe 116px,#6363ff 119px,#7474ff 120px,#f9f9ff 122px,#ffecec 123px,#ffe3e3 125px,#ff7c7c 127px,#ff6a6a 128px,#ff9393 129px,#ffd0d0 130px,#fff6f6 131px,#e6e6ff 132px,#7272ff 134px,#8181ff 135px,#fff6f6 137px,#ffbaba 138px,#ffbcbc 139px,#ffe8e8 140px,#fefeff 141px,#d3d3ff 143px,#b0b0ff 144px,#a9a9ff 145px,#eef 147px,#ffd5d5 148px)"></i>
<i style="left:330px;top:71px;width:3px;height:148px;background:linear-gradient(#6a6aff 0px,#d1d1ff 1px,#fcc 2px,#ff8080 3px,#f55 4px,#ff6c6c 5px,#ffbebe 6px,#cdcdff 7px,#4545ff 8px,#00f 9px,#0808ff 11px,#fffefe 13px,#ffa9a9 14px,#ff9292 15px,#ffd8d8 17px,#ffc6c6 18px,#ff5d5d 19px,#ff2b2b 20px,#ffb7b7 21px,#5a5aff 22px,#00f 23px,#00f 25px,#9494ff 26px,#ff8b8b 27px,#f00 28px,#f00 29px,#ff1818 30px,#fcc 31px,#7878ff 32px,#00f 33px,#00f 35px,#6a6aff 36px,#bbf 37px,#e2e2ff 38px,#fff6f6 39px,#ffe1e1 40px,#fff9f9 41px,#fcfcff 42px,#ffc4c4 44px,#ffd5d5 45px,#f4f4ff 46px,#babaff 47px,#a3a3ff 48px,#f2f2ff 50px,#ffa9a9 52px,#ffb4b4 53px,#fee 54px,#a0a0ff 56px,#fafaff 58px,#ffd2d2 60px,#ffe4e4 61px,#eaeaff 62px,#c9c9ff 63px,#fff8f8 65px,#ffa6a6 68px,#ffa8a8 69px,#fcfcff 71px,#a1a1ff 73px,#8b8bff 74px,#babaff 75px,#fff2f2 76px,#ff9b9b 77px,#ff6e6e 78px,#ff9494 79px,#ffe3e3 80px,#dfdfff 81px,#c4c4ff 82px,#d3d3ff 83px,#f8f8ff 84px,#ffe0e0 85px,#ff8d8d 87px,#ffa2a2 88px,#ffe0e0 89px,#ececff 90px,#d7d7ff 91px,#e2e2ff 96px,#a7a7ff 99px,#fbfbff 103px,#fff4f4 107px,#ffe5e5 108px,#ffb0b0 109px,#ff5e5e 110px,#ff2323 111px,#ff3434 112px,#ffcbcb 114px,#fffcfc 115px,#d4d4ff 116px,#6868ff 118px,#7878ff 119px,#f5f5ff 121px,#ffdfdf 124px,#ff7f7f 126px,#ff7171 127px,#fff9f9 130px,#dcdcff 131px,#6161ff 133px,#7b7bff 134px,#c7c7ff 135px,#ffe4e4 136px,#ffa4a4 137px,#ffb3b3 138px,#ffeded 139px,#f2f2ff 140px,#a1a1ff 143px,#ababff 144px,#fff7f7 146px,#ffc6c6 147px)"></i>
<i style="left:333px;top:71px;width:3px;height:147px;background:linear-gradient(#5c5cff 0px,#d1d1ff 1px,#ffc3c3 2px,#ff7b7b 3px,#ff5b5b 4px,#ff7a7a 5px,#ffcece 6px,#c0c0ff 7px,#3d3dff 8px,#00f 9px,#00f 10px,#1919ff 11px,#9393ff 12px,#fffbfb 13px,#ffb4b4 14px,#ffabab 15px,#fff7f7 17px,#ffe4e4 18px,#ff7e7e 19px,#ff2f2f 20px,#ff8989 21px,#acacff 22px,#00f 23px,#00f 25px,#7474ff 26px,#ffa3a3 27px,#f00 28px,#f00 30px,#ff9696 31px,#a1a1ff 32px,#0202ff 33px,#00f 35px,#9a9aff 37px,#eaeaff 39px,#fff7f7 40px,#f0f0ff 42px,#ffe7e7 43px,#ffbebe 44px,#ffc5c5 45px,#fffdfd 46px,#b4b4ff 47px,#8989ff 48px,#aaf 49px,#e7e7ff 50px,#ffd8d8 51px,#ff9f9f 52px,#ff9d9d 53px,#ffd5d5 54px,#ddf 55px,#9e9eff 56px,#b2b2ff 57px,#e8e8ff 58px,#fee 59px,#ffd3d3 60px,#fdd 61px,#ececff 62px,#c3c3ff 63px,#fff1f1 65px,#ffb3b3 68px,#ffb2b2 69px,#fdd 70px,#eaeaff 71px,#7e7eff 73px,#6a6aff 74px,#a1a1ff 75px,#fafaff 76px,#ffb2b2 77px,#ff8484 78px,#ffa1a1 79px,#ffe6e6 80px,#ececff 81px,#ddf 82px,#fff9f9 84px,#ffb5b5 86px,#f88 87px,#ff9797 88px,#ffd7d7 89px,#ededff 90px,#d3d3ff 91px,#d9d9ff 94px,#e3e3ff 96px,#a9a9ff 99px,#ededff 103px,#fff9f9 105px,#ffe3e3 108px,#ffb9b9 109px,#ff3c3c 111px,#ff4545 112px,#ffc9c9 114px,#fff7f7 115px,#ddf 116px,#6d6dff 118px,#7575ff 119px,#ededff 121px,#fff5f5 122px,#ffe0e0 124px,#ff8989 126px,#ff7979 127px,#f99 128px,#fff6f6 130px,#dadaff 131px,#5252ff 133px,#6c6cff 134px,#c2c2ff 135px,#fdd 136px,#ff9393 137px,#ffa2a2 138px,#ffe9e9 139px,#ececff 140px,#9797ff 143px,#a9a9ff 144px,#e0e0ff 145px,#ffe8e8 146px)"></i>
<i style="left:336px;top:71px;width:3px;height:147px;background:linear-gradient(#44f 0px,#bebeff 1px,#ffcece 2px,#ff8484 3px,#ff6464 4px,#ff8282 5px,#ffd6d6 6px,#b5b5ff 7px,#2e2eff 8px,#00f 9px,#1010ff 11px,#9090ff 12px,#fffbfb 13px,#ffb1b1 14px,#ffa2a2 15px,#fff0f0 17px,#fff1f1 18px,#ffabab 19px,#ff5252 20px,#ff7070 21px,#f3f3ff 22px,#2c2cff 23px,#00f 24px,#00f 25px,#4a4aff 26px,#ffcece 27px,#f00 28px,#f00 30px,#ff5252 31px,#dfdfff 32px,#2d2dff 33px,#00f 34px,#00f 35px,#2727ff 36px,#88f 37px,#e1e1ff 39px,#fff 40px,#eaeaff 42px,#fff7f7 43px,#ffcece 44px,#ffcbcb 45px,#fffbfb 46px,#6969ff 48px,#7f7fff 49px,#ccf 50px,#ffecec 51px,#faa 52px,#ff9292 53px,#eef 55px,#9f9fff 56px,#9e9eff 57px,#d9d9ff 58px,#fff6f6 59px,#ffd2d2 60px,#ffd1d1 61px,#f7f7ff 62px,#bbf 63px,#c6c6ff 64px,#fff 65px,#ffaeae 69px,#eef 71px,#8989ff 73px,#6d6dff 74px,#9696ff 75px,#e5e5ff 76px,#ffd0d0 77px,#ff9f9f 78px,#ffacac 79px,#ffe0e0 80px,#f9f9ff 81px,#ececff 82px,#fffbfb 84px,#ffe5e5 85px,#ff7d7d 87px,#ff7f7f 88px,#fafaff 90px,#d7d7ff 91px,#c9c9ff 93px,#e5e5ff 96px,#aaf 99px,#afafff 100px,#efefff 103px,#fff 104px,#ffe9e9 106px,#ffe7e7 108px,#ffc3c3 109px,#ff4242 111px,#ff4040 112px,#ffbebe 114px,#fee 115px,#e7e7ff 116px,#6d6dff 118px,#6868ff 119px,#dfdfff 121px,#fffdfd 122px,#ffe7e7 124px,#ff9696 126px,#ff7c7c 127px,#ff9292 128px,#fee 130px,#e3e3ff 131px,#5252ff 133px,#5c5cff 134px,#ffefef 136px,#ff9898 137px,#ff9090 138px,#ffd6d6 139px,#f6f6ff 140px,#9a9aff 143px,#a6a6ff 144px,#d9d9ff 145px,#fff0f0 146px)"></i>
<i style="left:339px;top:69px;width:3px;height:149px;background:linear-gradient(#7d7dff 0px,#1c1cff 1px,#2c2cff 2px,#a3a3ff 3px,#ffe2e2 4px,#ff8f8f 5px,#ff6565 6px,#ff7f7f 7px,#ffd7d7 8px,#b2b2ff 9px,#2e2eff 10px,#00f 11px,#0d0dff 13px,#fffdfd 15px,#ffacac 16px,#ff8f8f 17px,#ffa5a5 18px,#ffd1d1 19px,#ffeaea 20px,#ffcece 21px,#ff7e7e 22px,#ff6868 23px,#ffd8d8 24px,#6f6fff 25px,#00f 26px,#00f 27px,#2525ff 28px,#fff8f8 29px,#ff2424 30px,#f00 31px,#f00 32px,#ff1f1f 33px,#fdd 34px,#7373ff 35px,#00f 36px,#0909ff 38px,#7676ff 39px,#bfbfff 40px,#e9e9ff 41px,#fff3f3 42px,#fee 43px,#fdfdff 45px,#ffd6d6 46px,#ffc3c3 47px,#ffeaea 48px,#c5c5ff 49px,#7474ff 50px,#6a6aff 51px,#f1f1ff 53px,#ff9c9c 55px,#ffb8b8 56px,#fdfdff 57px,#a8a8ff 58px,#8b8bff 59px,#fff 61px,#ffd0d0 62px,#fbb 63px,#ffe6e6 64px,#cbcbff 65px,#b8b8ff 66px,#e6e6ff 67px,#fff5f5 68px,#ffe3e3 69px,#ff9f9f 71px,#ffc0c0 72px,#fcfcff 73px,#6e6eff 76px,#8181ff 77px,#cbcbff 78px,#ffe5e5 79px,#ffa5a5 80px,#ff9e9e 81px,#fafaff 83px,#d7d7ff 84px,#ceceff 85px,#fefeff 87px,#ff9494 89px,#ff8383 90px,#fff4f4 92px,#c7c7ff 94px,#c1c1ff 96px,#e9e9ff 98px,#e6e6ff 99px,#ababff 101px,#a3a3ff 102px,#fafaff 105px,#ffe4e4 107px,#fff2f2 110px,#fcc 111px,#ff3c3c 113px,#ff2b2b 114px,#ff5e5e 115px,#ffa8a8 116px,#ffdede 117px,#f3f3ff 118px,#7070ff 120px,#5b5bff 121px,#88f 122px,#c8c8ff 123px,#f1f1ff 124px,#fefeff 125px,#fff5f5 126px,#ffd9d9 127px,#ff7a7a 129px,#ff7a7a 130px,#ffdada 132px,#f3f3ff 133px,#5f5fff 135px,#4949ff 136px,#88f 137px,#e9e9ff 138px,#ffadad 139px,#ff8080 140px,#fff0f0 142px,#ececff 143px,#a2a2ff 145px,#a0a0ff 146px,#fafaff 148px)"></i>
<i style="left:342px;top:68px;width:3px;height:150px;background:linear-gradient(#e2e2ff 0px,#1212ff 2px,#1515ff 3px,#fff2f2 5px,#ff9393 6px,#ff6363 7px,#ff7c7c 8px,#ffd9d9 9px,#ababff 10px,#2828ff 11px,#00f 12px,#11f 14px,#9292ff 15px,#fffcfc 16px,#ffa9a9 17px,#ff8282 18px,#ff8e8e 19px,#ffe2e2 21px,#ffe5e5 22px,#ff7878 24px,#ffbdbd 25px,#a2a2ff 26px,#00f 27px,#00f 28px,#1313ff 29px,#e7e7ff 30px,#ff5454 31px,#f00 32px,#ff0404 34px,#ffa8a8 35px,#b1b1ff 36px,#1919ff 37px,#00f 38px,#00f 39px,#babaff 41px,#ededff 42px,#ffdbdb 44px,#fff7f7 45px,#f8f8ff 46px,#fbb 48px,#ffd4d4 49px,#ddf 50px,#8383ff 51px,#5a5aff 52px,#8c8cff 53px,#d5d5ff 54px,#ffe7e7 55px,#ffacac 56px,#ffb3b3 57px,#fff5f5 58px,#b2b2ff 59px,#7e7eff 60px,#f4f4ff 62px,#ffb2b2 64px,#ffd0d0 65px,#d7d7ff 66px,#a9a9ff 67px,#f9f9ff 69px,#ffefef 70px,#ff8e8e 72px,#ffa5a5 73px,#ffefef 74px,#d7d7ff 75px,#7474ff 77px,#7474ff 78px,#fff4f4 80px,#ffa8a8 81px,#ff9191 82px,#ffbebe 83px,#fafaff 84px,#c1c1ff 85px,#a9a9ff 86px,#bdbdff 87px,#e5e5ff 88px,#ffe9e9 89px,#ffb3b3 90px,#ff9898 91px,#ffb6b6 92px,#ffeded 93px,#e3e3ff 94px,#b3b3ff 96px,#b5b5ff 97px,#ececff 99px,#efefff 100px,#acacff 102px,#9a9aff 103px,#aeaeff 104px,#fffcfc 106px,#ffe3e3 107px,#ffecec 109px,#fffdfd 110px,#fffcfc 111px,#ffd6d6 112px,#ff4747 114px,#ff3030 115px,#ff5858 116px,#ffd3d3 118px,#fcfcff 119px,#7e7eff 121px,#6262ff 122px,#8181ff 123px,#e4e4ff 125px,#fdfdff 127px,#ffecec 128px,#ff7575 130px,#ff5454 131px,#ff7373 132px,#fff3f3 134px,#ccf 135px,#7676ff 136px,#3b3bff 137px,#5e5eff 138px,#c1c1ff 139px,#ffc4c4 140px,#ff7a7a 141px,#ff9a9a 142px,#ffdbdb 143px,#f9f9ff 144px,#a8a8ff 146px,#9c9cff 147px,#eaeaff 149px)"></i>
<i style="left:345px;top:68px;width:3px;height:149px;background:linear-gradient(#dadaff 0px,#0202ff 2px,#0202ff 3px,#fff9f9 5px,#ff9595 6px,#ff5f5f 7px,#ff7575 8px,#ffd5d5 9px,#a6a6ff 10px,#1818ff 11px,#00f 12px,#0909ff 14px,#9292ff 15px,#fff9f9 16px,#faa 17px,#ff8787 18px,#ff9494 19px,#ffe8e8 21px,#fff1f1 22px,#ff8585 24px,#ffb1b1 25px,#c1c1ff 26px,#1414ff 27px,#00f 28px,#0a0aff 29px,#d0d0ff 30px,#ff6f6f 31px,#f00 32px,#f00 34px,#ff9191 35px,#c8c8ff 36px,#2929ff 37px,#00f 38px,#00f 39px,#bebeff 41px,#efefff 42px,#fff3f3 43px,#ffe3e3 44px,#fffafa 45px,#f3f3ff 46px,#ffe8e8 47px,#fbb 48px,#ffcece 49px,#e3e3ff 50px,#8282ff 51px,#4d4dff 52px,#7b7bff 53px,#cacaff 54px,#fee 55px,#ffaeae 56px,#ffafaf 57px,#ffefef 58px,#7b7bff 60px,#ababff 61px,#f1f1ff 62px,#ffbdbd 64px,#ffdcdc 65px,#c7c7ff 66px,#99f 67px,#f3f3ff 69px,#fff3f3 70px,#ff8585 72px,#ff9b9b 73px,#fee 74px,#d4d4ff 75px,#6f6fff 77px,#6d6dff 78px,#fffafa 80px,#ffa9a9 81px,#ff8e8e 82px,#f4f4ff 84px,#b2b2ff 85px,#9696ff 86px,#aeaeff 87px,#dedeff 88px,#fee 89px,#fbb 90px,#ffa2a2 91px,#ffbcbc 92px,#fee 93px,#e3e3ff 94px,#aaf 96px,#acacff 97px,#efefff 99px,#f5f5ff 100px,#adadff 102px,#99f 103px,#acacff 104px,#fffdfd 106px,#ffe4e4 107px,#ffecec 109px,#fffafa 111px,#ffd6d6 112px,#ff5656 114px,#ff4343 115px,#ff6868 116px,#ffd5d5 118px,#fdfdff 119px,#8989ff 121px,#6f6fff 122px,#8b8bff 123px,#e4e4ff 125px,#f9f9ff 127px,#fff4f4 128px,#ffc3c3 129px,#ff7676 130px,#ff3d3d 131px,#ff4b4b 132px,#ffe0e0 134px,#dadaff 135px,#3b3bff 137px,#4e4eff 138px,#b3b3ff 139px,#ffcaca 140px,#ff7d7d 141px,#ff9a9a 142px,#ffdada 143px,#f9f9ff 144px,#a8a8ff 146px,#9d9dff 147px,#bebeff 148px)"></i>
<i style="left:348px;top:68px;width:3px;height:147px;background:linear-gradient(#c5c5ff 0px,#5454ff 1px,#00f 2px,#00f 3px,#5f5fff 4px,#f4f4ff 5px,#ffa0a0 6px,#ff5f5f 7px,#ff6969 8px,#ffc3c3 9px,#ababff 10px,#0505ff 11px,#00f 14px,#8989ff 15px,#fff5f5 16px,#ffa9a9 17px,#ff9191 18px,#faa 19px,#fffbfb 21px,#fffbfb 22px,#ffc1c1 23px,#ff7575 24px,#ff8f8f 25px,#eef 26px,#4343ff 27px,#00f 28px,#1212ff 29px,#c9c9ff 30px,#ff7979 31px,#f00 32px,#f00 34px,#ff8686 35px,#d7d7ff 36px,#3d3dff 37px,#00f 38px,#0b0bff 39px,#8181ff 40px,#e1e1ff 41px,#fafaff 42px,#fff 44px,#e7e7ff 46px,#ffeded 47px,#ffbfbf 48px,#ffd1d1 49px,#e2e2ff 50px,#8383ff 51px,#4f4fff 52px,#7d7dff 53px,#cbcbff 54px,#ffecec 55px,#ffa8a8 56px,#ffa7a7 57px,#ffe8e8 58px,#c0c0ff 59px,#8c8cff 60px,#fefeff 62px,#ffdada 63px,#fcc 64px,#fffafa 65px,#a7a7ff 66px,#88f 67px,#ebebff 69px,#fff7f7 70px,#ff7d7d 72px,#ff9e9e 73px,#fffcfc 74px,#5050ff 77px,#5252ff 78px,#9898ff 79px,#f3f3ff 80px,#ffb2b2 81px,#ff9696 82px,#ffcbcb 83px,#dedeff 84px,#9595ff 85px,#7979ff 86px,#9c9cff 87px,#dadaff 88px,#ffe6e6 89px,#ffb2b2 90px,#ff9c9c 91px,#ffb9b9 92px,#ffeaea 93px,#e3e3ff 94px,#9696ff 96px,#9a9aff 97px,#f7f7ff 99px,#fffdfd 100px,#a9a9ff 102px,#9191ff 103px,#a8a8ff 104px,#fcfcff 106px,#ffe3e3 108px,#fee 111px,#ffcdcd 112px,#ff5e5e 114px,#ff5454 115px,#ffd8d8 118px,#f9f9ff 119px,#8282ff 121px,#7070ff 122px,#9090ff 123px,#c3c3ff 124px,#e4e4ff 125px,#fafaff 127px,#fff3f3 128px,#ffbebe 129px,#ff0e0e 131px,#ff0e0e 132px,#ff5959 133px,#ffc7c7 134px,#dfdfff 135px,#4040ff 137px,#5151ff 138px,#bbf 139px,#ffbebe 140px,#ff7b7b 141px,#ffa1a1 142px,#ffe0e0 143px,#f4f4ff 144px,#a0a0ff 146px)"></i>
<i style="left:351px;top:68px;width:3px;height:147px;background:linear-gradient(#b3b3ff 0px,#3c3cff 1px,#00f 2px,#00f 3px,#4747ff 4px,#e6e6ff 5px,#ffa9a9 6px,#ff5e5e 7px,#ff5d5d 8px,#ffb2b2 9px,#b1b1ff 10px,#00f 11px,#00f 14px,#8282ff 15px,#fee 16px,#ffa3a3 17px,#ff9292 18px,#ffe7e7 20px,#f5f5ff 21px,#fcfcff 22px,#ffb9b9 23px,#f55 24px,#ff6262 25px,#ffe1e1 26px,#77f 27px,#0707ff 28px,#2828ff 29px,#cacaff 30px,#ff7d7d 31px,#f00 32px,#f00 34px,#ff7676 35px,#ededff 36px,#6060ff 37px,#0f0fff 38px,#3b3bff 39px,#b0b0ff 40px,#fffbfb 41px,#dedeff 46px,#fff0f0 47px,#ffc4c4 48px,#ffd5d5 49px,#e2e2ff 50px,#8b8bff 51px,#5b5bff 52px,#8686ff 53px,#cfcfff 54px,#ffe7e7 55px,#ff9e9e 56px,#ff9d9d 57px,#ffe0e0 58px,#cdcdff 59px,#a2a2ff 60px,#fff4f4 62px,#ffd7d7 63px,#ffd5d5 64px,#ebebff 65px,#8a8aff 66px,#7979ff 67px,#babaff 68px,#e4e4ff 69px,#fff8f8 70px,#ff6f6f 72px,#ff9d9d 73px,#f7f7ff 74px,#3131ff 77px,#3636ff 78px,#8383ff 79px,#e6e6ff 80px,#ffb9b9 81px,#ff9e9e 82px,#ffd7d7 83px,#cbcbff 84px,#7b7bff 85px,#6060ff 86px,#8c8cff 87px,#d7d7ff 88px,#ffdede 89px,#ffa9a9 90px,#ff9898 91px,#ffe7e7 93px,#e4e4ff 94px,#88f 96px,#8d8dff 97px,#fdfdff 99px,#fff7f7 100px,#d8d8ff 101px,#9c9cff 102px,#8282ff 103px,#9e9eff 104px,#f6f6ff 106px,#ffe4e4 109px,#ffe4e4 111px,#ffc6c6 112px,#ff6969 114px,#ff6767 115px,#ffdcdc 118px,#f5f5ff 119px,#7979ff 121px,#6d6dff 122px,#c5c5ff 124px,#f1f1ff 126px,#fafaff 127px,#fff1f1 128px,#ffb6b6 129px,#ff3c3c 130px,#f00 131px,#ff0808 133px,#ff8a8a 134px,#f5f5ff 135px,#9393ff 136px,#4949ff 137px,#5656ff 138px,#c2c2ff 139px,#ffb3b3 140px,#ff7979 141px,#ffe4e4 143px,#eef 144px,#9696ff 146px)"></i>
<i style="left:354px;top:68px;width:3px;height:148px;background:linear-gradient(#b5b5ff 0px,#4040ff 1px,#00f 2px,#00f 3px,#3b3bff 4px,#dadaff 5px,#ffb2b2 6px,#ff6060 7px,#ff5959 8px,#ffacac 9px,#b8b8ff 10px,#00f 11px,#00f 14px,#8181ff 15px,#ffeded 16px,#ff9b9b 17px,#ff8282 18px,#ffa1a1 19px,#fffdfd 21px,#fff8f8 22px,#ffa9a9 23px,#ff3a3a 24px,#ff4848 25px,#ffd0d0 26px,#8a8aff 27px,#1c1cff 28px,#3b3bff 29px,#d4d4ff 30px,#ff7979 31px,#f00 32px,#f00 34px,#ff6767 35px,#fffdfd 36px,#7e7eff 37px,#3131ff 38px,#5454ff 39px,#babaff 40px,#fff9f9 41px,#f5f5ff 44px,#e3e3ff 46px,#fff2f2 47px,#ffc9c9 48px,#ffd8d8 49px,#e3e3ff 50px,#9191ff 51px,#6464ff 52px,#8d8dff 53px,#d4d4ff 54px,#ffe1e1 55px,#ff9797 56px,#ff9898 57px,#ffdede 58px,#d2d2ff 59px,#adadff 60px,#dadaff 61px,#ffefef 62px,#ffcfcf 63px,#fcc 64px,#ececff 65px,#8585ff 66px,#7d7dff 67px,#bfbfff 68px,#e5e5ff 69px,#fff6f6 70px,#ff6767 72px,#ff9e9e 73px,#f3f3ff 74px,#2929ff 77px,#3939ff 78px,#f3f3ff 80px,#ffb2b2 81px,#ff9f9f 82px,#fdd 83px,#c5c5ff 84px,#7676ff 85px,#5f5fff 86px,#8f8fff 87px,#dbdbff 88px,#ffdada 89px,#ffa6a6 90px,#f99 91px,#ffeaea 93px,#e3e3ff 94px,#8b8bff 96px,#9191ff 97px,#f9f9ff 99px,#fdfdff 100px,#8f8fff 102px,#7a7aff 103px,#9c9cff 104px,#fafaff 106px,#ffe4e4 108px,#ffecec 111px,#ff7676 114px,#ff7a7a 115px,#ffe2e2 118px,#f3f3ff 119px,#8484ff 121px,#7d7dff 122px,#d1d1ff 124px,#f7f7ff 126px,#fffefe 127px,#fee 128px,#ffb4b4 129px,#ff2f2f 130px,#f00 131px,#f00 133px,#ff2f2f 134px,#ffdcdc 135px,#a7a7ff 136px,#4f4fff 137px,#4e4eff 138px,#babaff 139px,#ffb3b3 140px,#ff7d7d 141px,#ffe8e8 143px,#ededff 144px,#9595ff 146px,#a3a3ff 147px)"></i>
<i style="left:357px;top:68px;width:3px;height:148px;background:linear-gradient(#c2c2ff 0px,#55f 1px,#00f 2px,#00f 3px,#2d2dff 4px,#bfbfff 5px,#ffcdcd 6px,#ff7474 7px,#ff6363 8px,#ffadad 9px,#c3c3ff 10px,#1919ff 11px,#00f 12px,#00f 14px,#8787ff 15px,#fff1f1 16px,#ff9595 17px,#f66 18px,#ff7171 19px,#ffd6d6 21px,#ffdfdf 22px,#ff9b9b 23px,#ff3434 24px,#ff4d4d 25px,#ffdfdf 26px,#77f 27px,#0e0eff 28px,#3838ff 29px,#dbdbff 30px,#ff7373 31px,#f00 32px,#f00 34px,#ff5c5c 35px,#ffeded 36px,#8b8bff 37px,#3131ff 38px,#4343ff 39px,#f1f1ff 41px,#ffeded 43px,#ffe0e0 44px,#fff6f6 45px,#eef 46px,#fff7f7 47px,#ffcece 48px,#ffdbdb 49px,#e0e0ff 50px,#8d8dff 51px,#6060ff 52px,#8d8dff 53px,#d7d7ff 54px,#ffdcdc 55px,#ff9595 56px,#ff9a9a 57px,#ffe2e2 58px,#ccf 59px,#a8a8ff 60px,#d7d7ff 61px,#ffefef 62px,#ffc3c3 63px,#ffb4b4 64px,#fffbfb 65px,#9797ff 66px,#8f8fff 67px,#c7c7ff 68px,#fff9f9 70px,#ffb0b0 71px,#ff7979 72px,#ffb1b1 73px,#ededff 74px,#6b6bff 76px,#3838ff 77px,#5a5aff 78px,#b5b5ff 79px,#ffeaea 80px,#ffa0a0 81px,#ff9d9d 82px,#ffdfdf 83px,#c6c6ff 84px,#7c7cff 85px,#6a6aff 86px,#99f 87px,#e1e1ff 88px,#ffd5d5 89px,#ffa0a0 90px,#ff9797 91px,#ffeded 93px,#e2e2ff 94px,#9292ff 96px,#9898ff 97px,#ebebff 99px,#e8e8ff 100px,#8a8aff 102px,#8282ff 103px,#dedeff 105px,#fff5f5 106px,#fdd 107px,#ffdede 108px,#f7f7ff 110px,#f9f9ff 111px,#ffd9d9 112px,#f99 113px,#ff6f6f 114px,#ff7878 115px,#ffd3d3 117px,#f5f5ff 119px,#a4a4ff 121px,#a2a2ff 122px,#eef 124px,#fffcfc 125px,#ffe0e0 128px,#ffb6b6 129px,#ff4343 130px,#f00 131px,#f00 134px,#ffabab 135px,#bbf 136px,#4a4aff 137px,#3636ff 138px,#a3a3ff 139px,#ffc1c1 140px,#ff8b8b 141px,#ffecec 143px,#f1f1ff 144px,#a0a0ff 146px,#aeaeff 147px)"></i>
<i style="left:360px;top:68px;width:3px;height:148px;background:linear-gradient(#cacaff 0px,#00f 2px,#00f 3px,#1f1fff 4px,#a9a9ff 5px,#ffe7e7 6px,#ff8f8f 7px,#f77 8px,#ffb6b6 9px,#d0d0ff 10px,#4949ff 11px,#00f 12px,#00f 13px,#2323ff 14px,#a3a3ff 15px,#ffebeb 16px,#ff9090 17px,#ff5454 18px,#ff5151 19px,#ffb8b8 21px,#ffcdcd 22px,#ff9898 23px,#ff4949 24px,#ff6f6f 25px,#f7f7ff 26px,#44f 27px,#00f 28px,#1818ff 29px,#d5d5ff 30px,#ff6f6f 31px,#f00 32px,#f00 34px,#ff6363 35px,#fff4f4 36px,#7a7aff 37px,#11f 38px,#1d1dff 39px,#ddf 41px,#fff2f2 42px,#ffbfbf 44px,#f5f5ff 46px,#fff9f9 47px,#ffcfcf 48px,#ffdede 49px,#dadaff 50px,#8080ff 51px,#55f 52px,#8a8aff 53px,#dbdbff 54px,#ffd7d7 55px,#ff9393 56px,#ff9f9f 57px,#ffebeb 58px,#bcbcff 59px,#9797ff 60px,#d0d0ff 61px,#fff1f1 62px,#ffbdbd 63px,#faa 64px,#fff5f5 65px,#9d9dff 66px,#9c9cff 67px,#cdcdff 68px,#fffdfd 70px,#ffc1c1 71px,#ff9a9a 72px,#ffcece 73px,#e4e4ff 74px,#7272ff 76px,#4d4dff 77px,#7d7dff 78px,#d8d8ff 79px,#ffcfcf 80px,#ff9494 81px,#ff9f9f 82px,#ffe1e1 83px,#cacaff 84px,#88f 85px,#7b7bff 86px,#a7a7ff 87px,#ececff 88px,#ffc5c5 89px,#ff8c8c 90px,#ff8787 91px,#fee 93px,#e0e0ff 94px,#9696ff 96px,#9d9dff 97px,#dfdfff 99px,#d9d9ff 100px,#9393ff 102px,#9696ff 103px,#efefff 105px,#ffcfcf 107px,#ffd7d7 108px,#fffafa 109px,#e3e3ff 110px,#e5e5ff 111px,#ffe2e2 112px,#ff9595 113px,#f66 114px,#ff7575 115px,#ffdcdc 117px,#fff4f4 118px,#f5f5ff 119px,#b5b5ff 121px,#b8b8ff 122px,#fffcfc 124px,#ffd3d3 128px,#ffb0b0 129px,#ff4b4b 130px,#f00 131px,#f00 134px,#ffa1a1 135px,#b1b1ff 136px,#2828ff 137px,#0b0bff 138px,#8484ff 139px,#ffd5d5 140px,#ff9f9f 141px,#fff1f1 143px,#f3f3ff 144px,#a6a6ff 146px,#b5b5ff 147px)"></i>
<i style="left:363px;top:69px;width:3px;height:147px;background:linear-gradient(#5353ff 0px,#00f 1px,#00f 2px,#2626ff 3px,#b1b1ff 4px,#ffe5e5 5px,#ff9595 6px,#ff8282 7px,#ffbaba 8px,#dfdfff 9px,#7373ff 10px,#22f 11px,#1919ff 12px,#5d5dff 13px,#c0c0ff 14px,#ffe4e4 15px,#ff9494 16px,#ff5e5e 17px,#ff5d5d 18px,#ffbdbd 20px,#ffcece 21px,#ff6868 23px,#ff9797 24px,#cfcfff 25px,#1010ff 26px,#00f 28px,#c0c0ff 29px,#ff7575 30px,#f00 31px,#f00 33px,#ff7d7d 34px,#e2e2ff 35px,#4242ff 36px,#00f 37px,#0101ff 38px,#d7d7ff 40px,#fff5f5 41px,#ffc2c2 43px,#ffe6e6 44px,#f0f0ff 45px,#fff7f7 46px,#ffcaca 47px,#ffdcdc 48px,#d6d6ff 49px,#7878ff 50px,#5050ff 51px,#9090ff 52px,#e5e5ff 53px,#ffcdcd 54px,#ff9292 55px,#ffa9a9 56px,#fffbfb 57px,#a5a5ff 58px,#8686ff 59px,#ccf 60px,#fff4f4 61px,#ffc7c7 62px,#ffc2c2 63px,#e4e4ff 64px,#8484ff 65px,#9c9cff 66px,#d1d1ff 67px,#fff 69px,#ffcaca 70px,#ffafaf 71px,#ffdede 72px,#e7e7ff 73px,#8080ff 75px,#5e5eff 76px,#8e8eff 77px,#e4e4ff 78px,#ffc9c9 79px,#ff9696 80px,#ffa7a7 81px,#ffe7e7 82px,#cfcfff 83px,#9b9bff 84px,#9595ff 85px,#bebeff 86px,#fffefe 87px,#ffacac 88px,#ff6f6f 89px,#ff7474 90px,#fff0f0 92px,#ddf 93px,#afafff 94px,#9595ff 95px,#9d9dff 96px,#dcdcff 98px,#d7d7ff 99px,#a1a1ff 101px,#a9a9ff 102px,#f9f9ff 104px,#ffcbcb 106px,#ffd3d3 107px,#fff6f6 108px,#e7e7ff 109px,#eaeaff 110px,#fdd 111px,#ff9090 112px,#ff6363 113px,#ff7373 114px,#ffdcdc 116px,#fff4f4 117px,#f2f2ff 118px,#b0b0ff 120px,#b7b7ff 121px,#e0e0ff 122px,#fff7f7 123px,#ffe1e1 125px,#ffd5d5 127px,#ffaeae 128px,#ff4747 129px,#f00 130px,#f00 133px,#ffbfbf 134px,#9191ff 135px,#0303ff 136px,#00f 137px,#8080ff 138px,#ffd7d7 139px,#faa 140px,#fff4f4 142px,#efefff 143px,#9f9fff 145px,#b2b2ff 146px)"></i>
<i style="left:366px;top:69px;width:3px;height:146px;background:linear-gradient(#5b5bff 0px,#00f 1px,#00f 2px,#4a4aff 3px,#d7d7ff 4px,#ffc3c3 5px,#ff7d7d 6px,#ff7474 7px,#ffb0b0 8px,#efefff 9px,#8f8fff 10px,#4949ff 11px,#4545ff 12px,#7979ff 13px,#c5c5ff 14px,#ffebeb 15px,#ffa2a2 16px,#ff7676 17px,#ff7f7f 18px,#ffd1d1 20px,#ffd4d4 21px,#ff7171 23px,#ffadad 24px,#afafff 25px,#00f 26px,#00f 28px,#9c9cff 29px,#ff8686 30px,#f00 31px,#f00 33px,#ff9494 34px,#a5a5ff 35px,#0404ff 36px,#00f 38px,#d5d5ff 40px,#fffdfd 41px,#ffd8d8 43px,#fffafa 44px,#e8e8ff 45px,#fff2f2 46px,#ffc5c5 47px,#ffd6d6 48px,#dfdfff 49px,#8383ff 50px,#6161ff 51px,#fcfcff 53px,#ffb8b8 54px,#ff8d8d 55px,#ffbaba 56px,#e9e9ff 57px,#8e8eff 58px,#7b7bff 59px,#cacaff 60px,#fffafa 61px,#ffdcdc 62px,#ffefef 63px,#5f5fff 65px,#ceceff 67px,#fffbfb 69px,#ffc0c0 70px,#ffa9a9 71px,#fffafa 73px,#e3e3ff 74px,#7979ff 76px,#9a9aff 77px,#e5e5ff 78px,#ffc9c9 79px,#ff9c9c 80px,#ffb3b3 81px,#fff1f1 82px,#bdbdff 84px,#c5c5ff 85px,#ebebff 86px,#ffdbdb 87px,#ff8f8f 88px,#ff5757 89px,#ff6a6a 90px,#fff5f5 92px,#aeaeff 94px,#9595ff 95px,#9e9eff 96px,#d6d6ff 98px,#cdcdff 99px,#a4a4ff 101px,#b4b4ff 102px,#fefeff 104px,#ffcfcf 106px,#ffd3d3 107px,#fcfcff 109px,#fffefe 110px,#ffcdcd 111px,#ff8b8b 112px,#ff6363 113px,#ff7575 114px,#ffd5d5 116px,#f6f6ff 118px,#b1b1ff 120px,#bdbdff 121px,#e9e9ff 122px,#fee 123px,#ffdfdf 124px,#ffeded 126px,#ffe6e6 127px,#fbb 128px,#ff4c4c 129px,#f00 130px,#f00 132px,#ff1313 133px,#ffd1d1 134px,#8484ff 135px,#0202ff 136px,#0909ff 137px,#a2a2ff 138px,#ffc1c1 139px,#ffa6a6 140px,#fff2f2 142px,#ececff 143px,#99f 145px)"></i>
<i style="left:369px;top:69px;width:3px;height:146px;background:linear-gradient(#6464ff 0px,#00f 1px,#00f 2px,#7070ff 3px,#f9f9ff 4px,#ffa6a6 5px,#ff6a6a 6px,#ff6d6d 7px,#ffb4b4 8px,#dcdcff 9px,#66f 10px,#1717ff 11px,#1616ff 12px,#5454ff 13px,#fffafa 15px,#ffadad 16px,#ff8989 17px,#f99 18px,#ffe1e1 20px,#ffd4d4 21px,#ff5959 23px,#ffacac 24px,#9696ff 25px,#00f 26px,#00f 28px,#8787ff 29px,#ff7c7c 30px,#f00 31px,#f00 33px,#ff9393 34px,#7e7eff 35px,#00f 36px,#00f 38px,#d8d8ff 40px,#fbfbff 41px,#ffe8e8 43px,#f3f3ff 44px,#e1e1ff 45px,#fee 46px,#ffc0c0 47px,#ffd2d2 48px,#eaeaff 49px,#9696ff 50px,#7e7eff 51px,#c3c3ff 52px,#ffecec 53px,#ffa5a5 54px,#ff8a8a 55px,#ffc9c9 56px,#d6d6ff 57px,#8787ff 58px,#8484ff 59px,#cfcfff 60px,#fffdfd 61px,#ffeaea 62px,#ededff 63px,#7d7dff 64px,#4f4fff 65px,#cdcdff 67px,#fff6f6 69px,#ffb6b6 70px,#ffa3a3 71px,#fffcfc 74px,#88f 76px,#a0a0ff 77px,#e5e5ff 78px,#ffc9c9 79px,#ffa1a1 80px,#ffbfbf 81px,#fffdfd 82px,#d8d8ff 83px,#cdcdff 84px,#fff4f4 86px,#ff5151 89px,#ff7070 90px,#fffdfd 92px,#aeaeff 94px,#9898ff 95px,#a2a2ff 96px,#cfcfff 98px,#a0a0ff 101px,#fffefe 104px,#ffd7d7 106px,#fff3f3 109px,#ffecec 110px,#ff8585 112px,#ff6464 113px,#ff7676 114px,#ffcfcf 116px,#fcfcff 118px,#b9b9ff 120px,#c9c9ff 121px,#f5f5ff 122px,#ffdada 124px,#fff9f9 126px,#fff5f5 127px,#ffc7c7 128px,#ff5a5a 129px,#f00 130px,#f00 132px,#ff3b3b 133px,#ffe3e3 134px,#8585ff 135px,#1a1aff 136px,#3636ff 137px,#d3d3ff 138px,#ffa6a6 139px,#ffa0a0 140px,#fff1f1 142px,#e9e9ff 143px,#b7b7ff 144px,#9898ff 145px)"></i>
<i style="left:372px;top:69px;width:3px;height:147px;background:linear-gradient(#5b5bff 0px,#00f 1px,#00f 2px,#fffefe 4px,#ffa6a6 5px,#ff7373 6px,#ff7f7f 7px,#ffd4d4 8px,#a4a4ff 9px,#1212ff 10px,#00f 12px,#1515ff 13px,#fffefe 15px,#ffacac 16px,#ff8b8b 17px,#ff9f9f 18px,#ffcdcd 19px,#ffe5e5 20px,#fcc 21px,#ff7171 22px,#ff3737 23px,#ffa2a2 24px,#8282ff 25px,#00f 26px,#00f 28px,#a0a0ff 29px,#ff4747 30px,#f00 31px,#f00 33px,#ff8080 34px,#8282ff 35px,#00f 36px,#00f 38px,#8484ff 39px,#e3e3ff 40px,#fffafa 41px,#ffdfdf 43px,#f4f4ff 44px,#e2e2ff 45px,#ffebeb 46px,#ffc1c1 47px,#ffd7d7 48px,#e5e5ff 49px,#9b9bff 50px,#8989ff 51px,#fff5f5 53px,#ffafaf 54px,#ff9191 55px,#fcc 56px,#dcdcff 57px,#99f 58px,#9e9eff 59px,#dedeff 60px,#fff5f5 61px,#ffe4e4 62px,#ececff 63px,#8080ff 64px,#66f 65px,#a9a9ff 66px,#d4d4ff 67px,#fff3f3 69px,#ffb6b6 70px,#faa 71px,#ffebeb 73px,#f3f3ff 74px,#adadff 75px,#7c7cff 76px,#9e9eff 77px,#e7e7ff 78px,#ffc4c4 79px,#ff9c9c 80px,#ffbaba 81px,#fffbfb 82px,#cfcfff 83px,#bdbdff 84px,#fff8f8 86px,#ff8a8a 88px,#ff6565 89px,#ff8787 90px,#ffcfcf 91px,#f9f9ff 92px,#b5b5ff 94px,#a7a7ff 95px,#d2d2ff 98px,#a3a3ff 100px,#9b9bff 101px,#fffdfd 104px,#ffd6d6 106px,#fff4f4 109px,#ffebeb 110px,#f88 112px,#ff6b6b 113px,#ff7e7e 114px,#ffd3d3 116px,#f7f7ff 118px,#b9b9ff 120px,#ccf 121px,#f7f7ff 122px,#fdd 124px,#fffefe 126px,#fffafa 127px,#ffc8c8 128px,#ff5858 129px,#f00 130px,#f00 132px,#ff5454 133px,#ffe5e5 134px,#9393ff 135px,#3636ff 136px,#5d5dff 137px,#f4f4ff 138px,#ff9797 139px,#ff9e9e 140px,#fff1f1 142px,#e3e3ff 143px,#aeaeff 144px,#9393ff 145px,#acacff 146px)"></i>
<i style="left:375px;top:70px;width:3px;height:146px;background:linear-gradient(#00f 0px,#00f 1px,#fff 3px,#ffacac 4px,#ff8484 5px,#ff9f9f 6px,#fdfdff 7px,#6e6eff 8px,#00f 9px,#0404ff 12px,#9494ff 13px,#fff3f3 14px,#ffa1a1 15px,#ff8989 16px,#ffd3d3 18px,#ffe9e9 19px,#ffc8c8 20px,#ff6161 21px,#ff2929 22px,#ffa6a6 23px,#7070ff 24px,#00f 25px,#00f 27px,#dedeff 28px,#ff0707 29px,#f00 32px,#ff7171 33px,#9393ff 34px,#00f 35px,#0808ff 37px,#a0a0ff 38px,#fbfbff 39px,#ffcbcb 41px,#ffc5c5 42px,#fffafa 43px,#e8e8ff 44px,#ffecec 45px,#ffc7c7 46px,#ffe7e7 47px,#d0d0ff 48px,#88f 49px,#7676ff 50px,#d5d5ff 52px,#ffe1e1 53px,#ffabab 54px,#ffc5c5 55px,#f7f7ff 56px,#b9b9ff 57px,#bebeff 58px,#f3f3ff 59px,#ffd0d0 61px,#fefeff 62px,#9a9aff 63px,#8e8eff 64px,#c6c6ff 65px,#ebebff 67px,#ffeded 68px,#ffb5b5 69px,#ffb2b2 70px,#ffe1e1 71px,#f7f7ff 72px,#c7c7ff 73px,#7e7eff 74px,#5f5fff 75px,#9696ff 76px,#e5e5ff 77px,#ffbebe 78px,#ff8686 79px,#ff9898 80px,#ffdcdc 81px,#d8d8ff 82px,#afafff 83px,#c4c4ff 84px,#f4f4ff 85px,#ffdcdc 86px,#ffa7a7 87px,#f88 88px,#ffa8a8 89px,#ffe6e6 90px,#eaeaff 91px,#cacaff 93px,#e5e5ff 96px,#e1e1ff 97px,#a5a5ff 99px,#9898ff 100px,#adadff 101px,#fff8f8 103px,#ffd4d4 104px,#ffc3c3 105px,#fffbfb 108px,#fff3f3 109px,#ff9c9c 111px,#ff8484 112px,#ff9797 113px,#ffe0e0 115px,#fff6f6 116px,#e5e5ff 117px,#b9b9ff 118px,#a4a4ff 119px,#bbf 120px,#e9e9ff 121px,#fff3f3 122px,#ffebeb 123px,#fffafa 124px,#f9f9ff 126px,#ffc3c3 127px,#ff3a3a 128px,#f00 129px,#f00 131px,#ff3737 132px,#ffbaba 133px,#bbf 134px,#5454ff 135px,#7373ff 136px,#fff9f9 137px,#ff8f8f 138px,#ff9a9a 139px,#ffefef 141px,#d5d5ff 142px,#9595ff 143px,#7a7aff 144px,#8c8cff 145px)"></i>
<i style="left:378px;top:70px;width:3px;height:145px;background:linear-gradient(#00f 0px,#00f 1px,#fffbfb 3px,#ffa7a7 4px,#ff8787 5px,#ffb0b0 6px,#e3e3ff 7px,#55f 8px,#00f 9px,#00f 11px,#1a1aff 12px,#aaf 13px,#ffdfdf 14px,#ff9090 15px,#ff8080 16px,#ffd7d7 18px,#ffecec 19px,#ffc5c5 20px,#ff5b5b 21px,#ff2a2a 22px,#ffafaf 23px,#6d6dff 24px,#00f 25px,#0c0cff 27px,#ffe7e7 28px,#f00 29px,#f00 32px,#ff8484 33px,#9090ff 34px,#00f 35px,#00f 36px,#1616ff 37px,#b2b2ff 38px,#fff1f1 39px,#ffb6b6 41px,#ffb3b3 42px,#ffeded 43px,#f1f1ff 44px,#ffe9e9 45px,#ffcaca 46px,#fff4f4 47px,#6a6aff 49px,#5858ff 50px,#a9a9ff 52px,#f5f5ff 53px,#ffbfbf 54px,#ffc0c0 55px,#fff4f4 56px,#cbcbff 57px,#d0d0ff 58px,#fffefe 59px,#ffc6c6 61px,#fff8f8 62px,#afafff 63px,#b1b1ff 64px,#ddf 65px,#f3f3ff 67px,#ffe4e4 68px,#ffafaf 69px,#ffb3b3 70px,#ffecec 71px,#dfdfff 72px,#5c5cff 74px,#4e4eff 75px,#e6e6ff 77px,#ffb8b8 78px,#ff7575 79px,#ff7c7c 80px,#ffc0c0 81px,#e8e8ff 82px,#b1b1ff 83px,#bfbfff 84px,#ebebff 85px,#ffe6e6 86px,#ffb1b1 87px,#ff9696 88px,#ffb9b9 89px,#fff4f4 90px,#d2d2ff 92px,#fdfdff 95px,#efefff 97px,#adadff 99px,#9d9dff 100px,#aeaeff 101px,#fff2f2 103px,#ffc3c3 104px,#ffacac 105px,#ffbcbc 106px,#fff 108px,#fff9f9 109px,#ffaeae 111px,#ff9c9c 112px,#fdfdff 116px,#a6a6ff 118px,#9191ff 119px,#acacff 120px,#fff 122px,#e9e9ff 125px,#f2f2ff 126px,#ffb7b7 127px,#ff0f0f 128px,#f00 130px,#f00 131px,#ff1515 132px,#ff9494 133px,#dadaff 134px,#6969ff 135px,#8383ff 136px,#ffebeb 137px,#ff8989 138px,#ff9797 139px,#ffefef 141px,#c9c9ff 142px,#7f7fff 143px,#6565ff 144px)"></i>
<i style="left:381px;top:71px;width:3px;height:144px;background:linear-gradient(#00f 0px,#8686ff 1px,#fff0f0 2px,#ff9797 3px,#ff7676 4px,#ffa5a5 5px,#e5e5ff 6px,#5252ff 7px,#00f 8px,#00f 10px,#2d2dff 11px,#b9b9ff 12px,#ffd0d0 13px,#ff7f7f 14px,#ff6e6e 15px,#ffcdcd 17px,#ffe6e6 18px,#ffc0c0 19px,#ff5454 20px,#ff2b2b 21px,#ffb4b4 22px,#7878ff 23px,#00f 24px,#00f 25px,#3f3fff 26px,#ffd0d0 27px,#ff0303 28px,#ff0202 31px,#ffb9b9 32px,#6e6eff 33px,#00f 34px,#0606ff 36px,#a5a5ff 37px,#fffafa 38px,#ffb4b4 40px,#ffb2b2 41px,#ffebeb 42px,#f9f9ff 43px,#ffc1c1 45px,#fff8f8 46px,#4f4fff 48px,#4747ff 49px,#aeaeff 51px,#fcfcff 52px,#ffbebe 53px,#ffc6c6 54px,#fffcfc 55px,#c3c3ff 56px,#d0d0ff 57px,#fffbfb 58px,#ffdada 59px,#ffcdcd 60px,#fdfdff 61px,#b7b7ff 62px,#c8c8ff 63px,#ededff 64px,#fdfdff 66px,#ffa2a2 68px,#ffafaf 69px,#fee 70px,#dadaff 71px,#5757ff 73px,#55f 74px,#f3f3ff 76px,#ffb0b0 77px,#ff7979 78px,#ff8686 79px,#ffc6c6 80px,#ececff 81px,#bebeff 82px,#cdcdff 83px,#f7f7ff 84px,#ffd7d7 85px,#ff9c9c 86px,#ff8585 87px,#ffb3b3 88px,#fff5f5 89px,#dedeff 90px,#d3d3ff 91px,#fffefe 94px,#efefff 96px,#b4b4ff 98px,#a9a9ff 99px,#bcbcff 100px,#e1e1ff 101px,#ffeaea 102px,#ffbcbc 103px,#ffa5a5 104px,#ffb6b6 105px,#fff 107px,#fffafa 108px,#ffb1b1 110px,#ffa2a2 111px,#fff1f1 114px,#f8f8ff 115px,#aaf 117px,#9b9bff 118px,#fffbfb 121px,#fbfbff 123px,#ececff 124px,#fafaff 125px,#ffa7a7 126px,#f00 127px,#f00 130px,#ff2424 131px,#ffa3a3 132px,#d1d1ff 133px,#6b6bff 134px,#8f8fff 135px,#ffe1e1 136px,#ff8c8c 137px,#ffa1a1 138px,#fff4f4 140px,#c7c7ff 141px,#8383ff 142px,#6f6fff 143px)"></i>
<i style="left:384px;top:71px;width:3px;height:145px;background:linear-gradient(#00f 0px,#8686ff 1px,#ffe6e6 2px,#f88 3px,#ff6464 4px,#ff9393 5px,#f3f3ff 6px,#5757ff 7px,#00f 8px,#00f 10px,#3232ff 11px,#bebeff 12px,#fcc 13px,#ff7474 14px,#ff5858 15px,#ff7979 16px,#ffb4b4 17px,#ffd9d9 18px,#ffbdbd 19px,#ff5454 20px,#ff3434 21px,#ffc0c0 22px,#7979ff 23px,#00f 24px,#00f 25px,#6161ff 26px,#ffcbcb 27px,#ff1c1c 28px,#f00 29px,#f00 30px,#ff4343 31px,#fff7f7 32px,#4c4cff 33px,#00f 34px,#00f 36px,#8080ff 37px,#dfdfff 38px,#ffe8e8 39px,#ffb8b8 40px,#ffb1b1 41px,#ffe7e7 42px,#fff7f7 43px,#ffc9c9 44px,#ffb3b3 45px,#fffafa 46px,#3232ff 48px,#3a3aff 49px,#c9c9ff 51px,#ffe6e6 52px,#ffb6b6 53px,#ffd2d2 54px,#ececff 55px,#b2b2ff 56px,#cbcbff 57px,#fffdfd 58px,#ffdede 59px,#ffd4d4 60px,#f5f5ff 61px,#c2c2ff 62px,#fffafa 64px,#ffe8e8 66px,#ff9292 68px,#ffacac 69px,#ffefef 70px,#d7d7ff 71px,#5656ff 73px,#6464ff 74px,#b7b7ff 75px,#fff1f1 76px,#ffa5a5 77px,#f88 78px,#ffa8a8 79px,#ffe5e5 80px,#e1e1ff 81px,#c9c9ff 82px,#fff6f6 84px,#ff8282 86px,#ff7171 87px,#fff9f9 89px,#d9d9ff 90px,#ccf 91px,#f0f0ff 95px,#d0d0ff 97px,#b8b8ff 98px,#b8b8ff 99px,#f3f3ff 101px,#ffe2e2 102px,#ffbdbd 103px,#faa 104px,#ffbcbc 105px,#fdfdff 107px,#fffbfb 108px,#ffacac 110px,#ff9e9e 111px,#fffafa 114px,#d7d7ff 116px,#bbf 117px,#b5b5ff 118px,#f6f6ff 120px,#ffebeb 122px,#f9f9ff 124px,#fff3f3 125px,#ff9696 126px,#f00 127px,#f00 130px,#ff5a5a 131px,#ffd8d8 132px,#a4a4ff 133px,#5050ff 134px,#8282ff 135px,#fff1f1 136px,#ffa5a5 137px,#fdfdff 140px,#a0a0ff 142px,#9393ff 143px,#a8a8ff 144px)"></i>
<i style="left:387px;top:70px;width:3px;height:145px;background:linear-gradient(#00f 0px,#00f 1px,#8b8bff 2px,#ffdfdf 3px,#ff8282 4px,#ff5d5d 5px,#ff8d8d 6px,#f9f9ff 7px,#5858ff 8px,#00f 9px,#00f 11px,#3838ff 12px,#c1c1ff 13px,#ffcbcb 14px,#ff7070 15px,#ff4b4b 16px,#f66 17px,#ffcfcf 19px,#ffbcbc 20px,#ff5c5c 21px,#ff4848 22px,#ffd9d9 23px,#6060ff 24px,#00f 25px,#00f 26px,#5e5eff 27px,#ffc9c9 28px,#ff1f1f 29px,#f00 30px,#f00 31px,#ff7272 32px,#e5e5ff 33px,#3838ff 34px,#00f 35px,#00f 37px,#c2c2ff 39px,#fff9f9 40px,#fbb 41px,#ffb0b0 42px,#ffe4e4 43px,#ffeded 44px,#ffbdbd 45px,#ffaeae 46px,#fefeff 47px,#8181ff 48px,#2121ff 49px,#3939ff 50px,#dfdfff 52px,#ffd2d2 53px,#ffb4b4 54px,#ffdfdf 55px,#dadaff 56px,#a6a6ff 57px,#c9c9ff 58px,#fffdfd 59px,#ffe0e0 60px,#fdd 61px,#e4e4ff 62px,#bebeff 63px,#eef 64px,#ffe2e2 66px,#ffd2d2 67px,#ff8686 69px,#ffabab 70px,#fff1f1 71px,#d3d3ff 72px,#4f4fff 74px,#6b6bff 75px,#c9c9ff 76px,#ffd9d9 77px,#ff9797 78px,#ff9292 79px,#fcfcff 81px,#d1d1ff 82px,#cbcbff 83px,#eaeaff 84px,#ffe9e9 85px,#ff7474 87px,#ff6c6c 88px,#fefeff 90px,#d2d2ff 91px,#c4c4ff 93px,#e1e1ff 96px,#dedeff 97px,#b6b6ff 99px,#bdbdff 100px,#fff 102px,#ffc0c0 104px,#ffb3b3 105px,#ffc4c4 106px,#ffe9e9 107px,#fbfbff 108px,#fffafa 109px,#ffa3a3 111px,#ff9696 112px,#fcfcff 115px,#c6c6ff 118px,#c8c8ff 119px,#fffafa 121px,#ffe2e2 123px,#fffbfb 125px,#ffe4e4 126px,#ff8686 127px,#f00 128px,#ff0101 131px,#ff8c8c 132px,#f4f4ff 133px,#7575ff 134px,#2e2eff 135px,#7070ff 136px,#fcfcff 137px,#ffbebe 138px,#fff7f7 140px,#f1f1ff 141px,#b5b5ff 143px,#b0b0ff 144px)"></i>
<i style="left:390px;top:70px;width:3px;height:145px;background:linear-gradient(#00f 0px,#00f 1px,#a4a4ff 2px,#ffcbcb 3px,#ff7373 4px,#ff5959 5px,#ff9393 6px,#eef 7px,#5151ff 8px,#00f 9px,#00f 11px,#4f4fff 12px,#d1d1ff 13px,#ffbfbf 14px,#ff6868 15px,#ff4b4b 16px,#ff6c6c 17px,#ffd6d6 19px,#ffc5c5 20px,#ff7575 21px,#ff7272 22px,#f9f9ff 23px,#2a2aff 24px,#00f 25px,#00f 26px,#4040ff 27px,#ffcbcb 28px,#ff0b0b 29px,#f00 31px,#ff6b6b 32px,#ddf 33px,#2828ff 34px,#00f 35px,#00f 37px,#6d6dff 38px,#c2c2ff 39px,#fffbfb 40px,#ffbfbf 41px,#ffb8b8 42px,#ffe9e9 43px,#ffeaea 44px,#ffbebe 45px,#ffb7b7 46px,#f9f9ff 47px,#8181ff 48px,#2a2aff 49px,#4d4dff 50px,#f2f2ff 52px,#ffc5c5 53px,#ffb4b4 54px,#ffe5e5 55px,#d2d2ff 56px,#a1a1ff 57px,#fff 59px,#ffe7e7 60px,#fff7f7 61px,#b2b2ff 62px,#9a9aff 63px,#e6e6ff 64px,#ffe9e9 65px,#ffcbcb 67px,#ff7070 69px,#ffa0a0 70px,#ffeded 71px,#d0d0ff 72px,#7d7dff 73px,#3f3fff 74px,#6868ff 75px,#d3d3ff 76px,#ffc7c7 77px,#ff8585 78px,#ff8d8d 79px,#fcc 80px,#f1f1ff 81px,#c8c8ff 82px,#c8c8ff 83px,#ededff 84px,#ffe3e3 85px,#ff7171 87px,#ff7373 88px,#fcfcff 90px,#d5d5ff 91px,#c5c5ff 93px,#e1e1ff 96px,#ddf 97px,#b2b2ff 99px,#bbf 100px,#fff 102px,#ffc5c5 104px,#ffb9b9 105px,#fdfdff 108px,#fff3f3 109px,#ff9696 111px,#ff8c8c 112px,#fff 115px,#bdbdff 118px,#bfbfff 119px,#fefeff 121px,#ffe9e9 123px,#fff9f9 125px,#ffdbdb 126px,#f00 128px,#f00 130px,#ff0e0e 131px,#ffa1a1 132px,#dcdcff 133px,#5959ff 134px,#1d1dff 135px,#7070ff 136px,#fffefe 137px,#ffc3c3 138px,#fffafa 140px,#ebebff 141px,#a6a6ff 143px,#a5a5ff 144px)"></i>
<i style="left:393px;top:68px;width:3px;height:147px;background:linear-gradient(#7b7bff 0px,#00f 1px,#00f 2px,#3232ff 3px,#e8e8ff 4px,#ff8f8f 5px,#ff4848 6px,#ff5656 7px,#ffb6b6 8px,#babaff 9px,#22f 10px,#00f 11px,#0303ff 13px,#f9f9ff 15px,#ffa1a1 16px,#ff5f5f 17px,#ff6060 18px,#ffcbcb 20px,#ffecec 21px,#ffd0d0 22px,#ff9494 23px,#fbb 24px,#9e9eff 25px,#00f 26px,#00f 28px,#4747ff 29px,#ffadad 30px,#f00 31px,#f00 33px,#ff7070 34px,#babaff 35px,#0202ff 36px,#00f 38px,#0e0eff 39px,#8d8dff 40px,#d0d0ff 41px,#fff8f8 42px,#ffc8c8 43px,#ffd4d4 44px,#fff6f6 45px,#ffdfdf 46px,#ffb4b4 47px,#ffbdbd 48px,#f8f8ff 49px,#8c8cff 50px,#5252ff 51px,#8c8cff 52px,#e2e2ff 53px,#ffd7d7 54px,#ff9f9f 55px,#ffabab 56px,#ffebeb 57px,#c7c7ff 58px,#a3a3ff 59px,#f6f6ff 61px,#fffbfb 62px,#d3d3ff 63px,#6b6bff 64px,#7878ff 65px,#ddf 66px,#fff2f2 67px,#ffe7e7 68px,#ffc4c4 69px,#ff7979 70px,#f55 71px,#ff9494 72px,#ffe5e5 73px,#d0d0ff 74px,#6f6fff 75px,#3838ff 76px,#77f 77px,#ebebff 78px,#ffa9a9 79px,#ff7070 80px,#ff8c8c 81px,#ffd8d8 82px,#e2e2ff 83px,#bebeff 84px,#c7c7ff 85px,#f2f2ff 86px,#ffdbdb 87px,#ff7373 89px,#ff8383 90px,#fffbfb 92px,#d7d7ff 94px,#e1e1ff 97px,#e2e2ff 99px,#b3b3ff 101px,#babaff 102px,#fcfcff 104px,#ffd3d3 106px,#ffcdcd 107px,#fffbfb 110px,#ffe6e6 111px,#ff8a8a 113px,#f88 114px,#fff6f6 117px,#efefff 118px,#9f9fff 120px,#9d9dff 121px,#e2e2ff 123px,#fbfbff 125px,#fffbfb 127px,#ffcdcd 128px,#ff5858 129px,#f00 130px,#f00 132px,#ff2d2d 133px,#ffbcbc 134px,#bfbfff 135px,#3e3eff 136px,#1b1bff 137px,#88f 138px,#ffebeb 139px,#ffc2c2 140px,#fff6f6 142px,#e2e2ff 143px,#7878ff 145px,#7f7fff 146px)"></i>
<i style="left:396px;top:68px;width:3px;height:146px;background:linear-gradient(#4a4aff 0px,#00f 1px,#00f 2px,#7676ff 3px,#ffd7d7 4px,#ff5959 5px,#ff2727 6px,#ff5f5f 7px,#ffe4e4 8px,#7a7aff 9px,#00f 10px,#00f 12px,#2424ff 13px,#afafff 14px,#ffdede 15px,#ff8787 16px,#ff6161 17px,#ff7e7e 18px,#ffeaea 20px,#fff8f8 21px,#ffabab 23px,#fff 24px,#4747ff 25px,#00f 26px,#00f 28px,#8585ff 29px,#ff7676 30px,#f00 31px,#f00 33px,#ff9595 34px,#8484ff 35px,#00f 36px,#00f 38px,#3c3cff 39px,#aaf 40px,#dedeff 41px,#fff3f3 42px,#ffd4d4 43px,#fffcfc 45px,#ffa8a8 47px,#ffc1c1 48px,#f0f0ff 49px,#9090ff 50px,#7c7cff 51px,#cacaff 52px,#ffe6e6 53px,#ffa5a5 54px,#ff7f7f 55px,#ffa8a8 56px,#fff5f5 57px,#bcbcff 58px,#adadff 59px,#f0f0ff 61px,#efefff 62px,#4646ff 64px,#7c7cff 65px,#e1e1ff 66px,#fff8f8 67px,#ffe9e9 68px,#ffb9b9 69px,#ff6262 70px,#ff4c4c 71px,#ffe3e3 73px,#cbcbff 74px,#6565ff 75px,#4040ff 76px,#9393ff 77px,#fff6f6 78px,#ff9090 79px,#ff6868 80px,#ff9898 81px,#ffeaea 82px,#d4d4ff 83px,#b8b8ff 84px,#cbcbff 85px,#fbfbff 86px,#ff9696 88px,#ff7676 89px,#ff9696 90px,#ffd2d2 91px,#fff7f7 92px,#dedeff 95px,#f0f0ff 98px,#b8b8ff 101px,#bebeff 102px,#fbfbff 104px,#ffdfdf 106px,#fff5f5 110px,#ffdbdb 111px,#f88 113px,#ff8f8f 114px,#fff0f0 117px,#f1f1ff 118px,#8787ff 120px,#8484ff 121px,#ccf 123px,#e5e5ff 125px,#fffbfb 127px,#ffbcbc 128px,#ff3c3c 129px,#f00 130px,#f00 132px,#f55 133px,#ffd9d9 134px,#a3a3ff 135px,#2f2fff 136px,#2e2eff 137px,#adadff 138px,#ffd8d8 139px,#ffc5c5 140px,#fff4f4 142px,#dadaff 143px,#8e8eff 144px,#5959ff 145px)"></i>
<i style="left:399px;top:68px;width:3px;height:147px;background:linear-gradient(#22f 0px,#00f 1px,#0e0eff 2px,#b3b3ff 3px,#ffb1b1 4px,#ff4747 5px,#ff2e2e 6px,#ff8080 7px,#e5e5ff 8px,#3636ff 9px,#00f 10px,#00f 12px,#4545ff 13px,#d5d5ff 14px,#ffbebe 15px,#ff7878 16px,#ff6c6c 17px,#ffd6d6 19px,#fff5f5 20px,#ffe8e8 21px,#ffadad 22px,#ffabab 23px,#dbdbff 24px,#2020ff 25px,#00f 26px,#0909ff 28px,#e8e8ff 29px,#ff2a2a 30px,#f00 31px,#ff0303 33px,#ffcbcb 34px,#5b5bff 35px,#00f 36px,#0404ff 38px,#7676ff 39px,#c8c8ff 40px,#ededff 41px,#ffe1e1 43px,#fefeff 44px,#fff9f9 45px,#ffc1c1 46px,#ffa8a8 47px,#ffd5d5 48px,#d1d1ff 49px,#7c7cff 50px,#8d8dff 51px,#e4e4ff 52px,#ffd2d2 53px,#ff9494 54px,#ff8383 55px,#efefff 57px,#a9a9ff 58px,#b5b5ff 59px,#e4e4ff 60px,#f7f7ff 61px,#e9e9ff 62px,#8d8dff 63px,#4e4eff 64px,#ebebff 66px,#fff9f9 67px,#ffe5e5 68px,#ffa7a7 69px,#ff5151 70px,#ff5757 71px,#fff2f2 73px,#bcbcff 74px,#5e5eff 75px,#5252ff 76px,#afafff 77px,#ffe2e2 78px,#ff8989 79px,#ff7474 80px,#ffacac 81px,#fff9f9 82px,#cdcdff 83px,#babaff 84px,#fff9f9 86px,#ff8e8e 88px,#ff7d7d 89px,#ffe2e2 91px,#fbfbff 92px,#dcdcff 94px,#efefff 98px,#b6b6ff 101px,#dfdfff 103px,#fcfcff 104px,#ffe8e8 107px,#fff8f8 109px,#fff1f1 110px,#ff9797 113px,#ffa5a5 114px,#fff5f5 117px,#eaeaff 118px,#88f 120px,#8d8dff 121px,#d2d2ff 123px,#f0f0ff 126px,#fff3f3 127px,#ffabab 128px,#ff2828 129px,#f00 130px,#ff0101 132px,#fff5f5 134px,#9191ff 135px,#3636ff 136px,#55f 137px,#d8d8ff 138px,#ffc8c8 139px,#ffcbcb 140px,#fff8f8 142px,#d8d8ff 143px,#9494ff 144px,#6a6aff 145px,#7f7fff 146px)"></i>
<i style="left:402px;top:68px;width:3px;height:146px;background:linear-gradient(#0808ff 0px,#00f 1px,#5a5aff 2px,#f2f2ff 3px,#ff9898 4px,#ff4f4f 5px,#ff5353 6px,#ffb7b7 7px,#a3a3ff 8px,#00f 9px,#00f 12px,#6565ff 13px,#fbfbff 14px,#ff9c9c 15px,#ff6767 16px,#ff7676 17px,#fee 19px,#fffbfb 20px,#ffc5c5 21px,#ff7878 22px,#ff9292 23px,#dedeff 24px,#2c2cff 25px,#00f 26px,#00f 27px,#7171ff 28px,#ffb4b4 29px,#f00 30px,#f00 32px,#ff2828 33px,#fff3f3 34px,#4f4fff 35px,#00f 36px,#00f 37px,#4b4bff 38px,#b5b5ff 39px,#ebebff 40px,#fff7f7 41px,#ffe3e3 42px,#fff7f7 43px,#e8e8ff 44px,#fff9f9 45px,#ffc0c0 46px,#ffbdbd 47px,#fffefe 48px,#a0a0ff 49px,#6161ff 50px,#9393ff 51px,#ebebff 52px,#ffcfcf 53px,#ff9898 54px,#ff9e9e 55px,#ffe0e0 56px,#cbcbff 57px,#9595ff 58px,#f1f1ff 60px,#fffafa 61px,#e9e9ff 62px,#8383ff 63px,#5e5eff 64px,#e6e6ff 66px,#fdfdff 67px,#ffe1e1 68px,#ff4c4c 70px,#ff7575 71px,#ffd1d1 72px,#eef 73px,#5e5eff 75px,#6969ff 76px,#c6c6ff 77px,#ffd6d6 78px,#ff8e8e 79px,#ff8989 80px,#fdfdff 82px,#cdcdff 83px,#c3c3ff 84px,#e2e2ff 85px,#ffeded 86px,#ff8181 88px,#ff7878 89px,#ffeaea 91px,#e9e9ff 92px,#d0d0ff 93px,#cacaff 94px,#fbfbff 97px,#eef 98px,#b1b1ff 100px,#aaf 101px,#f3f3ff 104px,#fff8f8 108px,#ffeaea 110px,#ffbaba 112px,#ffb6b6 113px,#fffefe 117px,#b5b5ff 119px,#a0a0ff 120px,#eaeaff 123px,#fdfdff 126px,#ffe4e4 127px,#ff9797 128px,#ff1818 129px,#f00 130px,#f00 131px,#ff2020 132px,#ff9f9f 133px,#f1f1ff 134px,#8484ff 135px,#4949ff 136px,#8a8aff 137px,#fff1f1 138px,#ffb1b1 139px,#fefeff 142px,#aaf 144px,#9393ff 145px)"></i>
<i style="left:405px;top:67px;width:3px;height:146px;background:linear-gradient(#5757ff 0px,#00f 1px,#11f 2px,#a2a2ff 3px,#ffd8d8 4px,#ff8282 5px,#ff5a5a 6px,#ff7b7b 7px,#fff1f1 8px,#5f5fff 9px,#00f 10px,#00f 13px,#9191ff 14px,#ffdbdb 15px,#ff7d7d 16px,#ff5a5a 17px,#ff7e7e 18px,#ffc8c8 19px,#fffefe 20px,#fff8f8 21px,#ff5353 23px,#ff8a8a 24px,#d9d9ff 25px,#2e2eff 26px,#00f 27px,#2020ff 28px,#d1d1ff 29px,#ff6363 30px,#f00 31px,#f00 33px,#ff5c5c 34px,#e4e4ff 35px,#4141ff 36px,#00f 37px,#2020ff 38px,#8f8fff 39px,#e0e0ff 40px,#fff9f9 41px,#ffe2e2 42px,#ffe0e0 43px,#f2f2ff 44px,#dcdcff 45px,#fff4f4 46px,#ffc4c4 47px,#ffdada 48px,#d5d5ff 49px,#7474ff 50px,#5656ff 51px,#f4f4ff 53px,#ffa0a0 55px,#ffbcbc 56px,#fbfbff 57px,#ababff 58px,#9090ff 59px,#fdfdff 61px,#fff2f2 62px,#dfdfff 63px,#77f 64px,#6a6aff 65px,#b2b2ff 66px,#dfdfff 67px,#f7f7ff 68px,#ffd8d8 69px,#ff7f7f 70px,#ff5050 71px,#ff9898 72px,#fff5f5 73px,#d2d2ff 74px,#5d5dff 76px,#7e7eff 77px,#d9d9ff 78px,#ffcbcb 79px,#ff9191 80px,#ff9898 81px,#f6f6ff 83px,#cdcdff 84px,#ccf 85px,#eef 86px,#ffe2e2 87px,#ff7272 89px,#ff7070 90px,#ffeded 92px,#dcdcff 93px,#bdbdff 94px,#bebeff 95px,#fdfdff 97px,#fff8f8 98px,#ededff 99px,#a0a0ff 101px,#9f9fff 102px,#fbfbff 106px,#fff4f4 110px,#ffc0c0 113px,#fff8f8 116px,#f8f8ff 118px,#b8b8ff 120px,#b7b7ff 121px,#f4f4ff 123px,#fffefe 126px,#fff6f6 127px,#ffd3d3 128px,#ff8181 129px,#ff0606 130px,#f00 132px,#ff4141 133px,#ffb8b8 134px,#dbdbff 135px,#7575ff 136px,#5858ff 137px,#b6b6ff 138px,#ffc8c8 139px,#ffa1a1 140px,#fff2f2 142px,#f7f7ff 143px,#b7b7ff 145px)"></i>
<i style="left:408px;top:67px;width:3px;height:146px;background:linear-gradient(#2b2bff 0px,#00f 1px,#3232ff 2px,#d0d0ff 3px,#ffb4b4 4px,#f66 5px,#ff5353 6px,#ff9292 7px,#e1e1ff 8px,#2929ff 9px,#00f 10px,#00f 12px,#1616ff 13px,#c4c4ff 14px,#ffb9b9 15px,#ff6b6b 16px,#ff5c5c 17px,#ff8e8e 18px,#ffd6d6 19px,#fdfdff 20px,#ffe5e5 21px,#ff7d7d 22px,#ff4c4c 23px,#ffacac 24px,#a7a7ff 25px,#0909ff 26px,#00f 27px,#5959ff 28px,#ffe3e3 29px,#ff1818 30px,#f00 31px,#f00 33px,#ffa0a0 34px,#aaf 35px,#2121ff 36px,#0101ff 37px,#4a4aff 38px,#b3b3ff 39px,#f1f1ff 40px,#fff2f2 41px,#ffdbdb 42px,#ffe9e9 43px,#e4e4ff 44px,#e1e1ff 45px,#ffe3e3 46px,#ffc1c1 47px,#ffebeb 48px,#b9b9ff 49px,#6262ff 50px,#6767ff 51px,#bfbfff 52px,#fff1f1 53px,#ffadad 54px,#ff9292 55px,#ffc5c5 56px,#e9e9ff 57px,#9d9dff 58px,#9d9dff 59px,#ddf 60px,#fffbfb 61px,#fff7f7 62px,#c6c6ff 63px,#6a6aff 64px,#7d7dff 65px,#c2c2ff 66px,#f8f8ff 68px,#ffcbcb 69px,#ff6b6b 70px,#ff5353 71px,#f9f9ff 73px,#7e7eff 75px,#5757ff 76px,#8a8aff 77px,#e8e8ff 78px,#ffbebe 79px,#ff8f8f 80px,#ffa6a6 81px,#ffe1e1 82px,#e5e5ff 83px,#c2c2ff 84px,#c8c8ff 85px,#efefff 86px,#ffdede 87px,#ff6c6c 89px,#ff7474 90px,#fff2f2 92px,#c0c0ff 94px,#c2c2ff 95px,#f9f9ff 97px,#fff 98px,#9f9fff 101px,#a4a4ff 102px,#f1f1ff 105px,#fff 106px,#fff7f7 110px,#fbb 113px,#fff7f7 117px,#fafaff 118px,#c2c2ff 120px,#c8c8ff 121px,#fefeff 123px,#fffefe 126px,#fff0f0 127px,#ffc5c5 128px,#f00 130px,#f00 132px,#ffd7d7 134px,#b5b5ff 135px,#4f4fff 136px,#4c4cff 137px,#c4c4ff 138px,#ffbcbc 139px,#ffa8a8 140px,#fff4f4 142px,#f4f4ff 143px,#b7b7ff 145px)"></i>
<i style="left:411px;top:66px;width:3px;height:147px;background:linear-gradient(#8282ff 0px,#0606ff 1px,#00f 2px,#4f4fff 3px,#ebebff 4px,#ff9a9a 5px,#ff4b4b 6px,#ff4a4a 7px,#ffa6a6 8px,#b9b9ff 9px,#0303ff 10px,#00f 13px,#5050ff 14px,#ebebff 15px,#ffa2a2 16px,#ff6464 17px,#f66 18px,#ffdede 20px,#fff6f6 21px,#ffbdbd 22px,#ff5151 23px,#ff5353 24px,#ffe1e1 25px,#6767ff 26px,#00f 27px,#0202ff 28px,#9e9eff 29px,#ff8f8f 30px,#f00 31px,#f00 33px,#ff2020 34px,#fff2f2 35px,#66f 36px,#0606ff 37px,#1212ff 38px,#cdcdff 40px,#f5f5ff 41px,#ffe0e0 43px,#fffcfc 44px,#d7d7ff 45px,#ebebff 46px,#ffd0d0 47px,#ffbebe 48px,#fff8f8 49px,#a8a8ff 50px,#66f 51px,#8b8bff 52px,#e5e5ff 53px,#ffc9c9 54px,#ff7c7c 55px,#ff7171 56px,#ffbaba 57px,#e6e6ff 58px,#9d9dff 59px,#aeaeff 60px,#e5e5ff 61px,#fffefe 62px,#f6f6ff 63px,#6969ff 65px,#d7d7ff 67px,#f8f8ff 69px,#ffc4c4 70px,#ff5e5e 71px,#ff5d5d 72px,#ffc2c2 73px,#ececff 74px,#66f 76px,#4d4dff 77px,#8f8fff 78px,#efefff 79px,#ffb8b8 80px,#ff9595 81px,#ffbaba 82px,#fffdfd 83px,#c6c6ff 84px,#a8a8ff 85px,#b7b7ff 86px,#e1e1ff 87px,#ffe9e9 88px,#ff6e6e 90px,#ff7d7d 91px,#fff3f3 93px,#d3d3ff 95px,#e0e0ff 99px,#acacff 102px,#ceceff 104px,#fefeff 106px,#fcfcff 111px,#ffd1d1 113px,#ffaeae 114px,#ffa1a1 115px,#fff2f2 119px,#f1f1ff 120px,#dcdcff 121px,#e0e0ff 122px,#f6f6ff 123px,#fdfdff 127px,#ffebeb 128px,#ffb2b2 129px,#ff4f4f 130px,#f00 131px,#f00 132px,#ff1a1a 133px,#f8f8ff 135px,#7373ff 136px,#0d0dff 137px,#2626ff 138px,#c0c0ff 139px,#ffc0c0 140px,#ffb7b7 141px,#fff3f3 143px,#f6f6ff 144px,#b5b5ff 146px)"></i>
<i style="left:414px;top:64px;width:3px;height:150px;background:linear-gradient(#f7f7ff 0px,#c9c9ff 1px,#5a5aff 2px,#00f 3px,#00f 4px,#7373ff 5px,#fff7f7 6px,#ff8080 7px,#ff3939 8px,#ff5151 9px,#ffc7c7 10px,#8b8bff 11px,#00f 12px,#00f 15px,#8282ff 16px,#fff2f2 17px,#ff9090 18px,#ff6363 19px,#ff7474 20px,#ffe2e2 22px,#ffe4e4 23px,#ff3434 25px,#ff7474 26px,#ddf 27px,#2929ff 28px,#00f 29px,#2727ff 30px,#eaeaff 31px,#ff3939 32px,#f00 33px,#f00 35px,#ff6868 36px,#c2c2ff 37px,#2d2dff 38px,#00f 39px,#2e2eff 40px,#9898ff 41px,#dfdfff 42px,#f9f9ff 43px,#ffe8e8 45px,#eef 46px,#d2d2ff 47px,#fbfbff 48px,#ffc3c3 49px,#ffc6c6 50px,#f4f4ff 51px,#9898ff 52px,#7171ff 53px,#fff8f8 55px,#ff5454 57px,#ff6161 58px,#ffb7b7 59px,#e2e2ff 60px,#a2a2ff 61px,#bcbcff 62px,#e9e9ff 63px,#fbfbff 64px,#e2e2ff 65px,#8d8dff 66px,#7070ff 67px,#e7e7ff 69px,#fcfcff 71px,#ffb5b5 72px,#ff5757 73px,#ff7272 74px,#ffd8d8 75px,#e0e0ff 76px,#5252ff 78px,#4848ff 79px,#9797ff 80px,#f8f8ff 81px,#ffb3b3 82px,#ff9d9d 83px,#ffcfcf 84px,#e7e7ff 85px,#acacff 86px,#9595ff 87px,#ababff 88px,#d8d8ff 89px,#ffefef 90px,#ffa4a4 91px,#ff7373 92px,#ff8989 93px,#fff4f4 95px,#cacaff 100px,#b7b7ff 104px,#f5f5ff 107px,#ffefef 109px,#f3f3ff 113px,#fff8f8 114px,#ff8686 117px,#ff8b8b 118px,#fffafa 122px,#f2f2ff 124px,#fffefe 125px,#fafaff 129px,#ffe5e5 130px,#ff9f9f 131px,#ff3737 132px,#f00 133px,#f00 134px,#ff4141 135px,#ffb2b2 136px,#cdcdff 137px,#3535ff 138px,#00f 139px,#1212ff 140px,#c4c4ff 141px,#ffc3c3 142px,#ffc3c3 143px,#fff2f2 145px,#f7f7ff 146px,#b6b6ff 148px,#b6b6ff 149px)"></i>
<i style="left:417px;top:64px;width:3px;height:149px;background:linear-gradient(#f2f2ff 0px,#b1b1ff 1px,#3232ff 2px,#00f 3px,#0e0eff 4px,#a5a5ff 5px,#ffcece 6px,#ff6262 7px,#ff3434 8px,#ff6d6d 9px,#fff8f8 10px,#5252ff 11px,#00f 12px,#0b0bff 15px,#ababff 16px,#ffd8d8 17px,#ff8484 18px,#f66 19px,#ff8383 20px,#ffe2e2 22px,#fcc 23px,#ff6b6b 24px,#ff4141 25px,#ffb2b2 26px,#9393ff 27px,#0202ff 28px,#00f 29px,#5454ff 30px,#ffd2d2 31px,#ff0303 32px,#f00 35px,#ffacac 36px,#8787ff 37px,#0707ff 38px,#00f 39px,#4d4dff 40px,#babaff 41px,#f2f2ff 42px,#fffcfc 43px,#fff0f0 45px,#e3e3ff 46px,#dcdcff 47px,#ffecec 48px,#ffbfbf 49px,#ffdcdc 50px,#d6d6ff 51px,#8282ff 52px,#7a7aff 53px,#c8c8ff 54px,#ffe3e3 55px,#ff8c8c 56px,#ff4f4f 57px,#ff7373 58px,#ffcbcb 59px,#d2d2ff 60px,#a6a6ff 61px,#f1f1ff 63px,#fefeff 64px,#d5d5ff 65px,#7f7fff 66px,#7e7eff 67px,#c7c7ff 68px,#efefff 69px,#fff3f3 71px,#ff5353 73px,#ff8c8c 74px,#ffefef 75px,#d1d1ff 76px,#4343ff 78px,#4f4fff 79px,#fff2f2 81px,#ffa5a5 82px,#ff9d9d 83px,#ffd9d9 84px,#dadaff 85px,#a0a0ff 86px,#9393ff 87px,#dcdcff 89px,#ffe8e8 90px,#ff9f9f 91px,#ff7878 92px,#ff9494 93px,#ffd0d0 94px,#fff9f9 95px,#bbf 102px,#b9b9ff 104px,#fbfbff 107px,#fee 109px,#fffbfb 110px,#ededff 112px,#fff7f7 114px,#ff8a8a 117px,#ff8e8e 118px,#ffeaea 121px,#fbfbff 122px,#ededff 123px,#fffdfd 125px,#fff 129px,#ffdada 130px,#ff8a8a 131px,#ff1f1f 132px,#f00 133px,#f00 134px,#ffd0d0 136px,#adadff 137px,#1414ff 138px,#00f 139px,#2626ff 140px,#d9d9ff 141px,#ffc4c4 142px,#fff9f9 145px,#efefff 146px,#bbf 148px)"></i>
<i style="left:420px;top:64px;width:3px;height:149px;background:linear-gradient(#ebebff 0px,#9e9eff 1px,#1a1aff 2px,#00f 3px,#3434ff 4px,#ceceff 5px,#ffabab 6px,#ff4848 7px,#ff3434 8px,#ff8989 9px,#dbdbff 10px,#2727ff 11px,#00f 12px,#00f 14px,#2828ff 15px,#b7b7ff 16px,#ffd6d6 17px,#ff8686 18px,#ff6f6f 19px,#ffc6c6 21px,#ffdcdc 22px,#ffb4b4 23px,#ff6060 24px,#ff6969 25px,#fffafa 26px,#3f3fff 27px,#00f 28px,#00f 29px,#6464ff 30px,#ffb0b0 31px,#f00 32px,#ff0606 35px,#ffe6e6 36px,#5454ff 37px,#00f 38px,#00f 39px,#ddf 41px,#fff5f5 42px,#ffecec 44px,#fffbfb 45px,#e1e1ff 46px,#efefff 47px,#ffd6d6 48px,#ffc2c2 49px,#fff3f3 50px,#7373ff 52px,#8383ff 53px,#d4d4ff 54px,#ffdede 55px,#ff8c8c 56px,#ff5f5f 57px,#ff8989 58px,#ffdcdc 59px,#c6c6ff 60px,#ababff 61px,#fbfbff 63px,#fff6f6 64px,#d3d3ff 65px,#8181ff 66px,#9494ff 67px,#d9d9ff 68px,#f6f6ff 69px,#fcfcff 70px,#ffdfdf 71px,#ff8686 72px,#ff5a5a 73px,#f9f9ff 75px,#2f2fff 78px,#5656ff 79px,#bcbcff 80px,#ffd6d6 81px,#ff8b8b 82px,#ff9191 83px,#ffd9d9 84px,#d3d3ff 85px,#9898ff 86px,#9393ff 87px,#ddf 89px,#ffe8e8 90px,#ffa0a0 91px,#ff7f7f 92px,#ff9c9c 93px,#fffdfd 95px,#ddf 97px,#c8c8ff 101px,#b3b3ff 103px,#cfcfff 105px,#fefeff 107px,#fff3f3 109px,#fafaff 110px,#e6e6ff 112px,#fffafa 114px,#ff9b9b 117px,#ffa2a2 118px,#f8f8ff 121px,#dbdbff 122px,#d3d3ff 123px,#fbfbff 125px,#fff1f1 129px,#ffc7c7 130px,#ff0505 132px,#f00 133px,#ff1212 134px,#fff7f7 136px,#8787ff 137px,#00f 138px,#00f 139px,#3e3eff 140px,#e8e8ff 141px,#ffcfcf 142px,#fffdfd 144px,#cacaff 147px,#cacaff 148px)"></i>
<i style="left:423px;top:64px;width:3px;height:149px;background:linear-gradient(#e5e5ff 0px,#8e8eff 1px,#0c0cff 2px,#00f 3px,#5252ff 4px,#ebebff 5px,#ff9191 6px,#ff3636 7px,#ff3636 8px,#ff9f9f 9px,#bcbcff 10px,#0a0aff 11px,#00f 14px,#3b3bff 15px,#bbf 16px,#ffd8d8 17px,#ff8a8a 18px,#f77 19px,#fcc 21px,#ffd7d7 22px,#ffa7a7 23px,#ff6464 24px,#ff8e8e 25px,#cbcbff 26px,#0404ff 27px,#00f 29px,#6d6dff 30px,#ff9a9a 31px,#f00 32px,#f00 34px,#ff2f2f 35px,#ededff 36px,#2b2bff 37px,#00f 38px,#00f 39px,#f7f7ff 41px,#ffe3e3 42px,#ffeded 44px,#fbfbff 45px,#e1e1ff 46px,#fefeff 47px,#ffcaca 48px,#ffc8c8 49px,#fbfbff 50px,#a8a8ff 51px,#6c6cff 52px,#8b8bff 53px,#dadaff 54px,#ffdede 55px,#ff9393 56px,#ff7272 57px,#ff9b9b 58px,#ffe9e9 59px,#bebeff 60px,#b2b2ff 61px,#fffafa 63px,#ffefef 64px,#cfcfff 65px,#8787ff 66px,#a9a9ff 67px,#e6e6ff 68px,#fcfcff 69px,#fff9f9 70px,#ffcdcd 71px,#ff7878 72px,#ff6868 73px,#ffc2c2 74px,#e7e7ff 75px,#a5a5ff 76px,#4c4cff 77px,#1f1fff 78px,#6262ff 79px,#d3d3ff 80px,#ffbaba 81px,#ff7676 82px,#ff8a8a 83px,#ffdbdb 84px,#cbcbff 85px,#9292ff 86px,#9696ff 87px,#dfdfff 89px,#ffe6e6 90px,#ffa3a3 91px,#ff8989 92px,#ffa6a6 93px,#fdfdff 95px,#e2e2ff 96px,#cdcdff 101px,#b3b3ff 103px,#d4d4ff 105px,#fffcfc 107px,#ffefef 108px,#f2f2ff 110px,#e1e1ff 112px,#fff9f9 114px,#fbb 116px,#faa 117px,#ffb3b3 118px,#fff5f5 120px,#bcbcff 122px,#bfbfff 123px,#f7f7ff 125px,#fff3f3 128px,#ffe4e4 129px,#ffb2b2 130px,#f00 132px,#f00 133px,#ff2c2c 134px,#ffaeae 135px,#e3e3ff 136px,#6161ff 137px,#00f 138px,#00f 139px,#5b5bff 140px,#f6f6ff 141px,#ffdcdc 142px,#fff9f9 143px,#c8c8ff 147px,#d9d9ff 148px)"></i>
<i style="left:426px;top:64px;width:2px;height:149px;background:linear-gradient(#dbdbff 0px,#7c7cff 1px,#00f 2px,#00f 3px,#6a6aff 4px,#fffefe 5px,#ff8181 6px,#ff2e2e 7px,#ff3d3d 8px,#ffb0b0 9px,#a7a7ff 10px,#00f 11px,#00f 14px,#5151ff 15px,#c9c9ff 16px,#ffd0d0 17px,#ff8a8a 18px,#ff7f7f 19px,#ffd1d1 21px,#ffd3d3 22px,#ff6363 24px,#ffa5a5 25px,#a6a6ff 26px,#00f 27px,#00f 29px,#8282ff 30px,#ff8383 31px,#f00 32px,#f00 34px,#ff5353 35px,#ceceff 36px,#1212ff 37px,#00f 39px,#8c8cff 40px,#fff 41px,#ffe0e0 42px,#fff1f1 44px,#e0e0ff 46px,#fff6f6 47px,#ffc2c2 48px,#ffcbcb 49px,#f2f2ff 50px,#9e9eff 51px,#6d6dff 52px,#9898ff 53px,#e7e7ff 54px,#ffd4d4 55px,#ff8d8d 56px,#ff7575 57px,#ffa0a0 58px,#fee 59px,#bfbfff 60px,#bebeff 61px,#e6e6ff 62px,#fff3f3 63px,#fff0f0 64px,#8a8aff 66px,#f2f2ff 68px,#fffafa 69px,#fee 70px,#ffbcbc 71px,#ff6e6e 72px,#ff7373 73px,#ffd2d2 74px,#e0e0ff 75px,#9b9bff 76px,#4040ff 77px,#2323ff 78px,#77f 79px,#e9e9ff 80px,#ffa7a7 81px,#ff6e6e 82px,#ff8d8d 83px,#ffe2e2 84px,#c4c4ff 85px,#9090ff 86px,#9c9cff 87px,#e8e8ff 89px,#ffdcdc 90px,#ffa1a1 91px,#ff9393 92px,#fafaff 95px,#dedeff 97px,#ddf 100px,#b4b4ff 103px,#fffafa 107px,#ffefef 108px,#fffafa 109px,#dfdfff 111px,#eef 113px,#fff5f5 114px,#ffb5b5 117px,#ffbdbd 118px,#fbfbff 120px,#cacaff 121px,#afafff 122px,#b9b9ff 123px,#f6f6ff 125px,#fff3f3 128px,#ffe1e1 129px,#ffa5a5 130px,#ff3d3d 131px,#f00 132px,#f00 133px,#ff4343 134px,#ffc8c8 135px,#cacaff 136px,#4646ff 137px,#00f 138px,#00f 139px,#7575ff 140px,#fffdfd 141px,#ffe3e3 142px,#fbfbff 143px,#c5c5ff 147px,#dcdcff 148px)"></i></div><div id="db"><i style="left:56px;top:379px;width:3px;height:153px;background:linear-gradient(#ffa400 0px,#ffb100 8px,#fffd00 15px,#d3ff2c 20px,#56ffa9 30px,#3fffc0 34px,#25ffda 44px,#23ffdc 54px,#32ffcd 60px,#89ff76 80px,#b0ff4f 89px,#fffe00 102px,#f80 117px,#ff7000 122px,#ff9100 130px,#ffcb00 136px,#ffc700 144px,#ff9400 151px,#ff9100 152px)"></i>
<i style="left:59px;top:378px;width:3px;height:153px;background:linear-gradient(#ffa100 0px,#ffaf00 8px,#ffed00 13px,#f8ff07 16px,#c3ff3c 21px,#4bffb4 31px,#2affd5 42px,#23ffdc 51px,#2cffd3 58px,#8dff72 80px,#b3ff4c 89px,#fffa00 102px,#ff8500 117px,#ff6e00 122px,#ff8e00 130px,#ffc700 136px,#ffc400 144px,#ff9100 151px,#ff8e00 152px)"></i>
<i style="left:62px;top:378px;width:3px;height:152px;background:linear-gradient(#ff9b00 0px,#ffa400 8px,#ffec00 14px,#f8ff07 17px,#cf3 21px,#51ffae 31px,#2effd1 41px,#26ffd9 51px,#2fffd0 58px,#8cff73 78px,#b4ff4b 88px,#ff0 100px,#ff8100 116px,#ff6900 121px,#ff8900 129px,#ffc400 135px,#ffbf00 143px,#ff8c00 150px,#f80 151px)"></i>
<i style="left:65px;top:377px;width:3px;height:152px;background:linear-gradient(#ff9d00 0px,#ffab00 9px,#ffec00 14px,#f8ff07 17px,#c0ff3f 22px,#52ffad 31px,#2dffd2 41px,#24ffdb 51px,#30ffcf 59px,#8dff72 79px,#b6ff49 89px,#fffc00 101px,#ff8000 117px,#ff6d00 122px,#ff9300 130px,#ffc200 135px,#ffc200 143px,#ff8f00 150px,#ff8c00 151px)"></i>
<i style="left:68px;top:377px;width:3px;height:151px;background:linear-gradient(#ffa000 0px,#ffa900 8px,#fff200 14px,#f1ff0e 17px,#c4ff3b 21px,#5fa 30px,#42ffbd 33px,#27ffd8 43px,#23ffdc 52px,#31ffce 59px,#8aff75 78px,#b2ff4d 88px,#feff01 100px,#ff8300 116px,#ff7100 121px,#f90 129px,#ffc800 134px,#ffc400 142px,#ff9100 149px,#ff8e00 150px)"></i>
<i style="left:71px;top:377px;width:3px;height:151px;background:linear-gradient(#ff9b00 0px,#ffa800 8px,#fff200 14px,#f1ff0e 17px,#53ffac 30px,#2effd1 40px,#27ffd8 51px,#32ffcd 58px,#8eff71 77px,#b9ff46 88px,#fffe00 99px,#ff8100 115px,#ff6b00 120px,#ff8e00 128px,#ffc300 134px,#ffbc00 142px,#ff8b00 149px,#ff8700 150px)"></i>
<i style="left:74px;top:376px;width:3px;height:152px;background:linear-gradient(#f90 0px,#ffa200 8px,#fe0 14px,#feff01 16px,#c6ff39 21px,#59ffa6 30px,#43ffbc 34px,#2affd5 44px,#2affd5 54px,#3affc5 60px,#8eff71 77px,#b7ff48 88px,#fffa00 100px,#ff7e00 116px,#ff6a00 121px,#ff8f00 129px,#ffc200 135px,#ffb900 143px,#ff8900 150px,#ff8500 151px)"></i>
<i style="left:77px;top:376px;width:3px;height:152px;background:linear-gradient(#ffa000 0px,#ffa900 8px,#fff300 14px,#f8ff07 16px,#c1ff3e 21px,#54ffab 30px,#3affc5 35px,#23ffdc 45px,#26ffd9 56px,#4cffb3 65px,#8cff73 79px,#b3ff4c 89px,#fffd00 101px,#ff8700 116px,#ff7200 121px,#ff9c00 130px,#ffc800 135px,#ffc400 143px,#ff9200 150px,#ff8e00 151px)"></i>
<i style="left:80px;top:377px;width:3px;height:151px;background:linear-gradient(#ff9b00 0px,#ffa300 7px,#fff600 14px,#f5ff0a 16px,#9fff60 23px,#4fffb0 30px,#2bffd4 41px,#26ffd9 51px,#32ffcd 58px,#8dff72 76px,#b4ff4b 87px,#fffc00 99px,#ff8400 114px,#ff6d00 120px,#ff9400 128px,#ffc100 133px,#ffbf00 141px,#ff8a00 149px,#ff8600 150px)"></i>
<i style="left:83px;top:377px;width:3px;height:150px;background:linear-gradient(#ff9a00 0px,#ffa600 8px,#fffb00 15px,#ceff31 20px,#5effa1 29px,#46ffb9 32px,#28ffd7 43px,#26ffd9 52px,#36ffc9 59px,#8dff72 76px,#b4ff4b 87px,#fffb00 99px,#ff8300 114px,#ff6f00 119px,#ff9200 127px,#ffc400 133px,#ffbc00 141px,#ff8c00 148px,#f80 149px)"></i>
<i style="left:86px;top:375px;width:3px;height:152px;background:linear-gradient(#ff9e00 0px,#ffab00 9px,#fffa00 15px,#d1ff2e 20px,#60ff9f 29px,#45ffba 32px,#26ffd9 43px,#23ffdc 53px,#3fc 60px,#8cff73 78px,#b4ff4b 89px,#fffa00 101px,#ff8900 115px,#ff7300 121px,#f90 129px,#ffc900 135px,#ffc300 142px,#ff8f00 150px,#ff8b00 151px)"></i>
<i style="left:89px;top:375px;width:3px;height:152px;background:linear-gradient(#ff9d00 0px,#ffa600 8px,#fffe00 15px,#bdff42 21px,#5cffa3 29px,#4fb 32px,#25ffda 43px,#24ffdb 53px,#35ffca 60px,#8bff74 77px,#b6ff49 89px,#ff0 100px,#ff8d00 114px,#ff7300 120px,#ff9c00 129px,#ffc600 134px,#ffc200 142px,#ff8e00 150px,#ff8a00 151px)"></i>
<i style="left:92px;top:375px;width:3px;height:151px;background:linear-gradient(#ff9c00 0px,#ffa600 8px,#fff700 14px,#f3ff0c 16px,#9dff62 23px,#46ffb9 31px,#27ffd8 42px,#24ffdb 52px,#3fc 59px,#8cff73 76px,#b6ff49 88px,#fffe00 99px,#ff8c00 113px,#ff7100 119px,#ff9b00 128px,#ffc500 133px,#ffbf00 141px,#ff8c00 149px,#f80 150px)"></i>
<i style="left:95px;top:374px;width:3px;height:151px;background:linear-gradient(#ff9a00 0px,#fa0 9px,#fff000 14px,#f9ff06 16px,#a4ff5b 23px,#49ffb6 31px,#28ffd7 42px,#24ffdb 52px,#36ffc9 60px,#8fff70 77px,#b9ff46 89px,#fffa00 100px,#f80 114px,#ff7100 120px,#ffa000 129px,#ffc600 134px,#ffbc00 142px,#ff8a00 150px)"></i>
<i style="left:98px;top:374px;width:3px;height:152px;background:linear-gradient(#ff9700 0px,#ffa000 8px,#fffa00 15px,#cdff32 20px,#69ff96 28px,#46ffb9 32px,#28ffd7 43px,#27ffd8 53px,#38ffc7 60px,#90ff6f 76px,#bcff43 89px,#ff0 99px,#ff8b00 113px,#ff6e00 120px,#ff9c00 129px,#ffc300 134px,#ffba00 142px,#f80 150px,#ff8400 151px)"></i>
<i style="left:101px;top:374px;width:3px;height:151px;background:linear-gradient(#f90 0px,#ffa800 9px,#ffef00 14px,#f9ff06 16px,#96ff69 24px,#49ffb6 31px,#28ffd7 42px,#24ffdb 52px,#36ffc9 60px,#91ff6e 77px,#baff45 89px,#feff01 99px,#ff8c00 113px,#ff7000 120px,#ffa000 129px,#ffc600 134px,#ffba00 142px,#ff8900 150px)"></i>
<i style="left:104px;top:374px;width:3px;height:151px;background:linear-gradient(#ff9400 0px,#ffa400 9px,#ffec00 14px,#fcff03 16px,#69ff96 28px,#46ffb9 32px,#29ffd6 43px,#27ffd8 52px,#35ffca 59px,#92ff6d 75px,#bf4 88px,#ff0 98px,#ff8900 112px,#ff6b00 119px,#ff9b00 128px,#ffc200 133px,#ffb600 141px,#ff8500 149px,#ff8100 150px)"></i>
<i style="left:107px;top:374px;width:3px;height:151px;background:linear-gradient(#ff9b00 0px,#ffa400 8px,#fff500 14px,#f2ff0d 16px,#60ff9f 28px,#41ffbe 32px,#24ffdb 43px,#23ffdc 52px,#31ffce 59px,#8fff70 76px,#b5ff4a 88px,#fffc00 99px,#ff8e00 112px,#ff7200 119px,#ffa300 128px,#ffc600 132px,#ffc100 140px,#ff8700 150px)"></i>
<i style="left:110px;top:374px;width:3px;height:151px;background:linear-gradient(#f90 0px,#ffa200 8px,#ffc900 11px,#ff0 15px,#8eff71 24px,#46ffb9 31px,#26ffd9 42px,#24ffdb 52px,#32ffcd 59px,#92ff6d 76px,#b7ff48 88px,#fffa00 99px,#ff8b00 112px,#ff7000 119px,#ffa300 128px,#ffc600 132px,#ffbf00 140px,#ff8900 149px,#ff8500 150px)"></i>
<i style="left:113px;top:373px;width:3px;height:152px;background:linear-gradient(#ff9700 0px,#ffa100 9px,#fff800 15px,#e3ff1c 18px,#68ff97 28px,#4fb 32px,#26ffd9 43px,#25ffda 53px,#3fc 60px,#93ff6c 77px,#b7ff48 89px,#fffa00 100px,#ff8b00 113px,#ff6f00 120px,#ffa000 129px,#ffc700 134px,#fb0 142px,#ff8600 151px)"></i>
<i style="left:116px;top:374px;width:3px;height:152px;background:linear-gradient(#ff9800 0px,#ffa100 8px,#fff600 14px,#f1ff0e 16px,#69ff96 27px,#4fb 31px,#25ffda 43px,#24ffdb 52px,#37ffc8 60px,#92ff6d 76px,#b4ff4b 88px,#fffe00 99px,#f80 113px,#ff7100 120px,#ffa600 129px,#ffc800 133px,#ffbe00 141px,#ff8900 150px,#ff8400 151px)"></i>
<i style="left:119px;top:374px;width:3px;height:151px;background:linear-gradient(#ff9400 0px,#ff9e00 8px,#fffe00 15px,#6aff95 27px,#46ffb9 31px,#27ffd8 42px,#26ffd9 52px,#34ffcb 59px,#96ff69 76px,#b9ff46 88px,#feff01 98px,#f80 112px,#ff6d00 119px,#ffa200 128px,#ffc600 133px,#ffb600 141px,#ff8300 150px)"></i>
<i style="left:122px;top:373px;width:3px;height:151px;background:linear-gradient(#ff9300 0px,#ff9d00 8px,#fffd00 15px,#6f9 27px,#43ffbc 31px,#24ffdb 43px,#24ffdb 52px,#38ffc7 60px,#93ff6c 76px,#b6ff49 88px,#fffd00 99px,#ff8d00 112px,#ff7100 119px,#ffa300 128px,#ffc600 133px,#ffb900 141px,#f80 150px)"></i>
<i style="left:125px;top:372px;width:3px;height:151px;background:linear-gradient(#ff8f00 0px,#ff9f00 9px,#fff600 15px,#efff10 17px,#68ff97 27px,#3fffc0 32px,#23ffdc 43px,#25ffda 53px,#36ffc9 60px,#94ff6b 77px,#b9ff46 89px,#fffa00 100px,#ff8d00 113px,#ff7200 119px,#ff9e00 128px,#ffc500 133px,#ffbc00 141px,#ff8c00 150px)"></i>
<i style="left:128px;top:372px;width:3px;height:151px;background:linear-gradient(#ff8e00 0px,#f90 8px,#ffae00 10px,#fff700 15px,#edff12 17px,#6dff92 26px,#40ffbf 31px,#21ffde 43px,#23ffdc 53px,#35ffca 60px,#92ff6d 77px,#b2ff4d 88px,#fffd00 100px,#ffa500 110px,#ff7900 118px,#ff8500 123px,#ffba00 131px,#ffc400 134px,#fb0 141px,#ff8e00 150px)"></i>
<i style="left:131px;top:372px;width:3px;height:150px;background:linear-gradient(#ff8600 0px,#ff9700 9px,#fffc00 16px,#64ff9b 27px,#42ffbd 31px,#2fd 43px,#26ffd9 53px,#39ffc6 60px,#97ff68 77px,#b8ff47 88px,#feff01 99px,#ffbc00 107px,#ff9200 112px,#ff7500 118px,#ff9400 126px,#ffbf00 132px,#ffb900 140px,#ff8e00 149px)"></i>
<i style="left:134px;top:373px;width:3px;height:148px;background:linear-gradient(#ff8300 0px,#ff9000 7px,#feff01 15px,#74ff8b 24px,#4affb5 28px,#24ffdb 40px,#26ffd9 51px,#3dffc2 59px,#96ff69 75px,#bdff42 87px,#fffc00 98px,#ffb700 106px,#ff8f00 111px,#ff7600 117px,#ff9000 124px,#fb0 130px,#ffb900 138px,#ff8f00 147px)"></i>
<i style="left:137px;top:371px;width:3px;height:150px;background:linear-gradient(#ff7e00 0px,#ff8c00 8px,#feff01 16px,#72ff8d 25px,#49ffb6 29px,#24ffdb 41px,#27ffd8 52px,#3dffc2 60px,#9f6 77px,#c0ff3f 89px,#fffb00 100px,#ffc000 107px,#ff8f00 113px,#ff7500 118px,#ff8900 125px,#ffb800 132px,#ffb800 140px,#ff9100 149px)"></i>
<i style="left:140px;top:370px;width:2px;height:151px;background:linear-gradient(#ff8100 0px,#ff8e00 8px,#ffb200 11px,#fffb00 16px,#b1ff4e 21px,#65ff9a 26px,#46ffb9 29px,#21ffde 40px,#1effe1 51px,#34ffcb 60px,#93ff6c 78px,#b5ff4a 89px,#fffc00 102px,#ff9d00 113px,#ff7d00 119px,#ff9100 126px,#ffbe00 133px,#ffbe00 141px,#f90 150px)"></i>
<i style="left:142px;top:370px;width:2px;height:150px;background:linear-gradient(#ff7a00 0px,#ff8900 8px,#fffb00 16px,#aeff51 21px,#63ff9c 26px,#46ffb9 29px,#2fd 41px,#25ffda 52px,#3bffc4 60px,#9aff65 78px,#bdff42 89px,#fffb00 101px,#ff9500 113px,#ff7a00 119px,#ff8900 125px,#ffb700 133px,#ffba00 140px,#ff9600 149px)"></i>
<i style="left:144px;top:369px;width:2px;height:151px;background:linear-gradient(#ff7b00 0px,#f80 7px,#fff600 15px,#e9ff16 17px,#73ff8c 24px,#46ffb9 28px,#20ffdf 40px,#21ffde 51px,#39ffc6 60px,#97ff68 78px,#bdff42 90px,#fffc00 102px,#ff9c00 113px,#ff7d00 119px,#ff8900 125px,#ffb800 133px,#ffbc00 141px,#ff9a00 150px)"></i>
<i style="left:146px;top:367px;width:2px;height:153px;background:linear-gradient(#ff7500 0px,#ff8000 7px,#ffb000 11px,#fffa00 16px,#d2ff2d 19px,#7cff83 24px,#4bffb4 28px,#28ffd7 38px,#1fffe0 49px,#38ffc7 60px,#9eff61 80px,#bfff40 91px,#fffc00 103px,#ff9700 115px,#ff7b00 121px,#ff8300 126px,#ffb400 135px,#fb0 142px,#ff9800 152px)"></i>
<i style="left:148px;top:366px;width:2px;height:153px;background:linear-gradient(#ff7500 0px,#ff8000 7px,#ffae00 11px,#fff900 16px,#e5ff1a 18px,#7bff84 24px,#49ffb6 28px,#26ffd9 38px,#1dffe2 48px,#35ffca 60px,#9bff64 80px,#bf4 91px,#fffd00 104px,#ff9600 116px,#ff7e00 121px,#ff8200 126px,#ffb600 136px,#fb0 143px,#ff9d00 152px)"></i>
<i style="left:150px;top:365px;width:2px;height:154px;background:linear-gradient(#ff7600 0px,#ff8700 8px,#ffe700 15px,#f7ff08 17px,#7aff85 24px,#48ffb7 28px,#26ffd9 37px,#19ffe6 48px,#30ffcf 60px,#9f6 81px,#b9ff46 92px,#feff01 105px,#ffa000 116px,#ff8300 122px,#ff8900 127px,#ffb800 136px,#ffc200 143px,#ffa100 153px)"></i>
<i style="left:152px;top:364px;width:2px;height:155px;background:linear-gradient(#ff6e00 0px,#ff7e00 8px,#ffdc00 15px,#fffc00 17px,#74ff8b 25px,#45ffba 29px,#1fffe0 42px,#21ffde 52px,#3bffc4 62px,#9fff60 82px,#c0ff3f 93px,#fffa00 106px,#ff9800 117px,#ff7f00 122px,#ff8000 127px,#ffb200 137px,#fb0 144px,#ff9d00 154px)"></i>
<i style="left:154px;top:363px;width:2px;height:155px;background:linear-gradient(#ff6b00 0px,#ff7500 7px,#ffa000 11px,#fffb00 17px,#b8ff47 21px,#73ff8c 25px,#45ffba 29px,#20ffdf 42px,#20ffdf 51px,#3bffc4 62px,#a0ff5f 82px,#c3ff3c 94px,#fffe00 106px,#ff9600 118px,#ff7e00 123px,#ff8000 128px,#ffb000 138px,#ffb900 145px,#ff9f00 154px)"></i>
<i style="left:156px;top:362px;width:2px;height:154px;background:linear-gradient(#ff6800 0px,#ff7300 7px,#fb0 13px,#fffc00 17px,#7eff81 24px,#4affb5 28px,#29ffd6 37px,#1effe1 48px,#3affc5 61px,#a2ff5d 82px,#c9ff36 95px,#fffc00 106px,#ff9300 118px,#ff7c00 124px,#ff8000 128px,#ffaf00 138px,#ffb900 144px,#ffa100 153px)"></i>
<i style="left:158px;top:361px;width:2px;height:154px;background:linear-gradient(#ff6a00 0px,#ff7500 7px,#ffbe00 13px,#fcff03 17px,#76ff89 24px,#4fb 28px,#1fffe0 40px,#1bffe4 49px,#38ffc7 61px,#9eff61 82px,#c6ff39 95px,#fffe00 106px,#ff9a00 117px,#ff8100 123px,#ff8300 127px,#ffb200 137px,#ffbe00 143px,#ffa400 153px)"></i>
<i style="left:160px;top:360px;width:2px;height:153px;background:linear-gradient(#ff6300 0px,#ff6d00 7px,#ffb300 13px,#fff800 17px,#dfff20 19px,#7cff83 24px,#47ffb8 28px,#25ffda 38px,#1cffe3 47px,#37ffc8 60px,#84ff7b 75px,#a5ff5a 83px,#cfff30 96px,#fcff03 105px,#ff8e00 118px,#ff7a00 125px,#ffae00 137px,#ffb900 143px,#ffa300 152px)"></i>
<i style="left:162px;top:359px;width:2px;height:153px;background:linear-gradient(#f60 0px,#ff7000 6px,#ff9a00 10px,#ffe600 15px,#fff800 16px,#dfff20 18px,#7aff85 23px,#45ffba 27px,#24ffdb 36px,#18ffe7 46px,#36ffc9 60px,#7cff83 74px,#a1ff5e 83px,#d0ff2f 97px,#fffc00 106px,#ff9800 117px,#ff7f00 124px,#ffa000 132px,#ffc000 142px,#ffa900 152px)"></i>
<i style="left:164px;top:356px;width:2px;height:155px;background:linear-gradient(#ff6000 0px,#ff6e00 8px,#ffb600 14px,#fffd00 18px,#83ff7c 24px,#41ffbe 29px,#1cffe3 42px,#1bffe4 50px,#38ffc7 62px,#79ff86 75px,#a1ff5e 84px,#d0ff2f 99px,#fffc00 108px,#ff9700 119px,#ff7b00 127px,#ffb300 140px,#ffbc00 145px,#ffa900 154px)"></i>
<i style="left:166px;top:357px;width:2px;height:153px;background:linear-gradient(#ff5d00 0px,#ff6c00 8px,#ffb600 14px,#ff0 18px,#7eff81 24px,#3effc1 29px,#1affe5 43px,#1effe1 51px,#40ffbf 63px,#a0ff5f 82px,#cdff32 97px,#fffa00 107px,#ff9500 118px,#ff7a00 125px,#ffb700 140px,#ffb900 144px,#fa0 152px)"></i>
<i style="left:168px;top:357px;width:2px;height:152px;background:linear-gradient(#ff5600 0px,#ff6300 7px,#ffac00 13px,#fff600 17px,#f3ff0c 18px,#85ff7a 23px,#42ffbd 28px,#20ffdf 41px,#1fffe0 48px,#40ffbf 61px,#a8ff57 82px,#d5ff2a 97px,#fcff03 105px,#ff8c00 118px,#ff7500 125px,#ffb700 141px,#ffa600 151px)"></i>
<i style="left:170px;top:355px;width:2px;height:153px;background:linear-gradient(#ff5400 0px,#ff5d00 7px,#ffa000 13px,#fffb00 18px,#7fff80 24px,#47ffb8 28px,#27ffd8 37px,#1bffe4 47px,#3cffc3 61px,#7dff82 74px,#a7ff58 83px,#d3ff2c 98px,#fffb00 107px,#ff8e00 119px,#ff7600 126px,#ffb700 142px,#ffa800 152px)"></i>
<i style="left:172px;top:354px;width:2px;height:151px;background:linear-gradient(#ff4d00 0px,#ff5700 7px,#ff9b00 13px,#fffb00 18px,#7eff81 24px,#45ffba 28px,#23ffdc 40px,#1effe1 47px,#3dffc2 60px,#79ff86 72px,#abff54 82px,#d6ff29 97px,#fdff02 105px,#ff8f00 117px,#ff7100 124px,#ffb300 141px,#ffa600 150px)"></i>
<i style="left:174px;top:354px;width:2px;height:151px;background:linear-gradient(#ff5000 0px,#ff5b00 7px,#ffa200 13px,#f9ff06 18px,#83ff7c 23px,#3effc1 28px,#1bffe4 42px,#1cffe3 48px,#3fffc0 61px,#7bff84 73px,#a4ff5b 81px,#d1ff2e 97px,#f9ff06 105px,#fd0 109px,#ff9300 117px,#ff7500 124px,#ffb900 141px,#ffad00 150px)"></i>
<i style="left:176px;top:354px;width:2px;height:151px;background:linear-gradient(#ff4e00 0px,#ff5900 7px,#ffa200 13px,#fff100 17px,#f7ff08 18px,#7fff80 23px,#45ffba 27px,#32ffcd 31px,#17ffe8 45px,#3cffc3 60px,#71ff8e 71px,#a5ff5a 81px,#d2ff2d 97px,#f1ff0e 104px,#fff900 106px,#ff9700 116px,#ff7400 123px,#ffb800 140px,#ffad00 150px)"></i>
<i style="left:178px;top:353px;width:2px;height:150px;background:linear-gradient(#ff4c00 0px,#ff5600 7px,#ff9c00 13px,#fdff02 18px,#81ff7e 23px,#45ffba 27px,#34ffcb 30px,#16ffe9 45px,#3cffc3 60px,#6aff95 70px,#a2ff5d 80px,#cdff32 96px,#f2ff0d 104px,#fff700 106px,#ff9600 116px,#ff7600 123px,#ffba00 140px,#ffb000 149px)"></i>
<i style="left:180px;top:352px;width:2px;height:150px;background:linear-gradient(#ff4d00 0px,#ff5900 7px,#ff9f00 13px,#fff000 17px,#f7ff08 18px,#7aff85 23px,#41ffbe 27px,#2affd5 32px,#13ffec 45px,#39ffc6 60px,#67ff98 70px,#9eff61 80px,#c8ff37 96px,#edff12 104px,#fffd00 106px,#ff9b00 116px,#ff7900 123px,#ffbe00 140px,#ffb500 149px)"></i>
<i style="left:182px;top:351px;width:2px;height:151px;background:linear-gradient(#ff4700 0px,#ff5300 7px,#ff9c00 13px,#fff000 17px,#f6ff09 18px,#7aff85 23px,#41ffbe 27px,#29ffd6 33px,#17ffe8 46px,#3affc5 60px,#70ff8f 71px,#a1ff5e 80px,#ceff31 97px,#ecff13 104px,#fffe00 106px,#ff9b00 116px,#ff7500 123px,#fb0 140px,#ffb200 150px)"></i>
<i style="left:184px;top:350px;width:2px;height:152px;background:linear-gradient(#ff4100 0px,#ff4e00 7px,#f90 13px,#fe0 17px,#f7ff08 18px,#7bff84 23px,#42ffbd 27px,#26ffd9 35px,#19ffe6 46px,#3affc5 60px,#71ff8e 71px,#a5ff5a 81px,#cfff30 97px,#eaff15 104px,#feff01 106px,#ff9600 117px,#ff7300 124px,#ffb900 141px,#ffaf00 151px)"></i>
<i style="left:186px;top:349px;width:2px;height:152px;background:linear-gradient(#ff4200 0px,#ff4c00 7px,#ff9200 13px,#fdff02 18px,#7cff83 23px,#4bffb4 26px,#34ffcb 29px,#14ffeb 45px,#34ffcb 60px,#6bff94 71px,#a0ff5f 81px,#cf3 98px,#eaff15 105px,#feff01 107px,#ff9800 118px,#ff7800 124px,#ffbd00 142px,#ffb400 151px)"></i>
<i style="left:188px;top:348px;width:2px;height:153px;background:linear-gradient(#ff3c00 0px,#ff4900 8px,#ff9300 14px,#f9ff06 19px,#78ff87 24px,#49ffb6 27px,#34ffcb 30px,#16ffe9 46px,#36ffc9 61px,#75ff8a 73px,#a2ff5d 82px,#cbff34 98px,#efff10 106px,#fffb00 108px,#ff9a00 118px,#ff7500 125px,#ffbc00 142px,#ffb200 152px)"></i>
<i style="left:190px;top:348px;width:2px;height:152px;background:linear-gradient(#ff3900 0px,#ff4000 7px,#ff8400 13px,#fff500 18px,#ef1 19px,#83ff7c 23px,#4effb1 26px,#32ffcd 30px,#16ffe9 46px,#3fc 60px,#6dff92 71px,#a1ff5e 81px,#c9ff36 97px,#eaff15 105px,#feff01 107px,#ff9800 118px,#f70 125px,#fb0 142px,#ffb300 151px)"></i>
<i style="left:192px;top:348px;width:2px;height:152px;background:linear-gradient(#ff3500 0px,#ff3c00 7px,#ff7f00 13px,#fff400 18px,#efff10 19px,#82ff7d 23px,#4dffb2 26px,#32ffcd 30px,#17ffe8 46px,#3fc 60px,#a3ff5c 81px,#cbff34 97px,#edff12 105px,#fffd00 107px,#ff9a00 117px,#ff7500 124px,#ffba00 142px,#ffb200 151px)"></i>
<i style="left:194px;top:348px;width:2px;height:152px;background:linear-gradient(#ff3400 0px,#ff3a00 7px,#ff7100 12px,#ff9600 14px,#fff600 18px,#d0ff2f 20px,#7eff81 23px,#56ffa9 25px,#3fc 29px,#15ffea 45px,#2effd1 59px,#68ff97 70px,#a1ff5e 81px,#c9ff36 97px,#ecff13 105px,#fffd00 107px,#ff9c00 117px,#f70 124px,#ffbe00 141px,#ffb400 151px)"></i>
<i style="left:196px;top:347px;width:2px;height:153px;background:linear-gradient(#ff2f00 0px,#ff3600 8px,#ff6100 12px,#ff7d00 14px,#fff600 19px,#cfff30 21px,#7dff82 24px,#54ffab 26px,#34ffcb 30px,#16ffe9 46px,#2bffd4 59px,#5dffa2 69px,#a2ff5d 82px,#c9ff36 98px,#eaff15 106px,#feff01 108px,#ff9700 119px,#f70 125px,#ffbc00 143px,#ffb400 152px)"></i>
<i style="left:198px;top:347px;width:2px;height:153px;background:linear-gradient(#ff2a00 0px,#ff3100 8px,#ff4f00 11px,#ff7900 14px,#fff500 19px,#ecff13 20px,#7dff82 24px,#53ffac 26px,#34ffcb 30px,#17ffe8 46px,#29ffd6 58px,#4bffb4 66px,#9eff61 80px,#cbff34 98px,#f0ff0f 106px,#fffa00 108px,#f90 118px,#ff7600 125px,#ffbc00 142px,#ffb200 152px)"></i>
<i style="left:200px;top:348px;width:2px;height:151px;background:linear-gradient(#ff2800 0px,#ff3200 8px,#ff7500 13px,#fff400 18px,#edff12 19px,#7bff84 23px,#50ffaf 25px,#3fc 29px,#16ffe9 45px,#23ffdc 55px,#41ffbe 63px,#9fff60 79px,#c7ff38 96px,#e8ff17 104px,#fdff02 106px,#ff9800 117px,#ff7800 123px,#ffbc00 141px,#ffb400 150px)"></i>
<i style="left:202px;top:348px;width:2px;height:151px;background:linear-gradient(#ff2500 0px,#ff2c00 8px,#ff5a00 12px,#ff7d00 14px,#feff01 19px,#86ff79 23px,#58ffa7 25px,#34ffcb 29px,#16ffe9 45px,#21ffde 55px,#38ffc7 62px,#9dff62 79px,#c6ff39 96px,#e6ff19 104px,#fffa00 107px,#ff9a00 117px,#ff7900 124px,#ffbe00 141px,#ffb500 150px)"></i>
<i style="left:204px;top:348px;width:2px;height:151px;background:linear-gradient(#ff1e00 0px,#ff2400 8px,#ff6000 13px,#ffe000 18px,#fffd00 19px,#89ff76 23px,#59ffa6 25px,#36ffc9 29px,#18ffe7 45px,#20ffdf 54px,#39ffc6 62px,#a6ff59 79px,#d2ff2d 97px,#f4ff0b 105px,#fff700 107px,#ff9600 117px,#ff7200 124px,#ff8d00 141px,#ff8500 150px)"></i>
<i style="left:206px;top:348px;width:2px;height:152px;background:linear-gradient(#ff2100 0px,#ff2600 8px,#ff6300 13px,#faff05 19px,#80ff7f 23px,#50ffaf 25px,#2cffd3 30px,#12ffed 49px,#2effd1 61px,#79ff86 72px,#abff54 79px,#df2 99px,#fffc00 107px,#ffa200 116px,#ff7900 122px,#ff5300 137px,#ff3f00 143px,#ff3e00 151px)"></i>
<i style="left:208px;top:348px;width:2px;height:151px;background:linear-gradient(#ff1c00 0px,#ff2000 8px,#ff5e00 13px,#fbff04 19px,#7fff80 23px,#4dffb2 25px,#2cffd3 30px,#12ffed 49px,#2fffd0 61px,#7dff82 72px,#aeff51 79px,#dcff23 98px,#fcff03 106px,#ff9e00 116px,#ff7900 121px,#ff4c00 136px,#f30 143px,#f30 150px)"></i>
<i style="left:210px;top:349px;width:2px;height:151px;background:linear-gradient(#ff1500 0px,#ff1900 8px,#ff5e00 13px,#ffe900 18px,#f6ff09 19px,#7bff84 23px,#4cffb3 25px,#2dffd2 30px,#13ffec 49px,#31ffce 61px,#aeff51 78px,#dfff20 98px,#fffd00 106px,#ffa200 115px,#ff7600 121px,#ff4e00 135px,#ff3100 142px,#ff3100 150px)"></i>
<i style="left:212px;top:349px;width:2px;height:152px;background:linear-gradient(#ff0b00 0px,#ff0e00 9px,#ff4500 13px,#ff8f00 16px,#ffe800 19px,#f7ff08 20px,#7bff84 24px,#4dffb2 26px,#30ffcf 31px,#18ffe7 51px,#2fffd0 61px,#b5ff4a 79px,#e5ff1a 99px,#feff01 106px,#ff9b00 116px,#ff7000 122px,#ff4700 136px,#ff2b00 143px,#ff2b00 151px)"></i>
<i style="left:214px;top:350px;width:2px;height:150px;background:linear-gradient(#ff0b00 0px,#ff0c00 8px,#ff5400 13px,#faff05 19px,#7cff83 23px,#4affb5 25px,#2bffd4 31px,#14ffeb 50px,#2bffd4 60px,#b1ff4e 78px,#df2 97px,#fbff04 105px,#ff9e00 115px,#ff7400 121px,#ff4a00 135px,#ff2f00 142px,#ff3000 149px)"></i>
<i style="left:216px;top:350px;width:2px;height:151px;background:linear-gradient(#ff0d00 0px,#ff1000 8px,#ff5d00 13px,#ffed00 18px,#f3ff0c 19px,#79ff86 23px,#48ffb7 25px,#2affd5 31px,#1fe 50px,#2dffd2 61px,#a9ff56 78px,#d8ff27 97px,#fffd00 106px,#ffa300 115px,#f70 121px,#f40 136px,#ff2d00 142px,#ff2f00 150px)"></i>
<i style="left:218px;top:350px;width:2px;height:151px;background:linear-gradient(#ff0c00 0px,#f10 8px,#ff6c00 13px,#fffa00 18px,#74ff8b 23px,#48ffb7 25px,#2bffd4 31px,#10ffef 50px,#2dffd2 61px,#a5ff5a 78px,#d2ff2d 96px,#fffd00 106px,#ff9b00 116px,#ff7600 121px,#ff2700 142px,#ff2b00 150px)"></i>
<i style="left:220px;top:349px;width:2px;height:151px;background:linear-gradient(#ff0a00 0px,#ff0f00 8px,#ff1700 9px,#ff8200 14px,#fff400 18px,#ecff13 19px,#7eff81 23px,#50ffaf 25px,#2fffd0 31px,#10ffef 50px,#2cffd3 61px,#a4ff5b 79px,#d1ff2e 96px,#fffd00 106px,#ff9b00 116px,#ff7000 122px,#ff1f00 142px,#ff2500 150px)"></i>
<i style="left:222px;top:349px;width:2px;height:151px;background:linear-gradient(#ff0e00 0px,#ff1600 8px,#ff1d00 9px,#ff9200 14px,#faff05 18px,#75ff8a 23px,#4bffb4 25px,#2cffd3 31px,#0bfff4 50px,#27ffd8 61px,#9bff64 79px,#c9ff36 96px,#fdff02 106px,#ff9700 117px,#ff7500 122px,#ff2000 141px,#ff2600 150px)"></i>
<i style="left:224px;top:349px;width:2px;height:151px;background:linear-gradient(#ff0d00 0px,#ff1600 8px,#f20 9px,#ffd600 16px,#fff300 17px,#ef1 18px,#70ff8f 23px,#49ffb6 25px,#2bffd4 32px,#0afff5 49px,#27ffd8 61px,#96ff69 79px,#c7ff38 96px,#feff01 106px,#ff9700 117px,#ff7300 122px,#ff1a00 141px,#f20 150px)"></i>
<i style="left:226px;top:348px;width:2px;height:152px;background:linear-gradient(#ff0800 0px,#ff1200 7px,#ff1500 8px,#ff5e00 11px,#fdff02 17px,#96ff69 21px,#4affb5 25px,#2effd1 32px,#0bfff4 49px,#27ffd8 61px,#96ff69 80px,#c9ff36 97px,#fffb00 107px,#ff8b00 119px,#f50 128px,#f10 142px,#ff1a00 151px)"></i>
<i style="left:228px;top:349px;width:2px;height:152px;background:linear-gradient(#ff0c00 0px,#ff1a00 7px,#ff2500 8px,#fbff04 16px,#af5 19px,#5bffa4 23px,#41ffbe 25px,#19ffe6 38px,#08fff7 51px,#26ffd9 61px,#8bff74 79px,#beff41 96px,#fffa00 107px,#ff8b00 119px,#ff1e00 138px,#ff1000 142px,#ff1d00 151px)"></i>
<i style="left:230px;top:349px;width:2px;height:152px;background:linear-gradient(#ff0900 0px,#ff1500 7px,#ff1a00 8px,#ff2b00 9px,#ffde00 15px,#fff900 16px,#9cff63 20px,#5fa 24px,#41ffbe 26px,#0efff1 44px,#09fff6 52px,#23ffdc 61px,#8aff75 80px,#bf4 96px,#fffb00 107px,#ff7b00 121px,#ff1700 138px,#ff0800 142px,#ff1700 151px)"></i>
<i style="left:232px;top:349px;width:2px;height:152px;background:linear-gradient(#ff0900 0px,#ff1400 6px,#ff1e00 8px,#ffd800 14px,#fff400 15px,#efff10 16px,#9eff61 19px,#4dffb2 24px,#34ffcb 29px,#08fff7 47px,#0bfff4 53px,#25ffda 61px,#84ff7b 79px,#bf4 96px,#feff01 106px,#ff7800 121px,#ff1900 136px,#ff0200 142px,#ff1400 151px)"></i>
<i style="left:234px;top:348px;width:2px;height:153px;background:linear-gradient(#ff0a00 0px,#ff1600 6px,#f20 8px,#ff5e00 10px,#ffe000 14px,#fffb00 15px,#98ff67 19px,#4dffb2 24px,#31ffce 30px,#06fff9 47px,#06fff9 53px,#25ffda 62px,#7cff83 79px,#b1ff4e 96px,#fdff02 107px,#ff7400 123px,#ff1a00 136px,#fd0000 142px,#f10 152px)"></i>
<i style="left:236px;top:347px;width:2px;height:154px;background:linear-gradient(#ff0900 0px,#ff1500 6px,#ff2000 8px,#ff3400 9px,#ffc500 13px,#fffd00 15px,#97ff68 19px,#50ffaf 24px,#38ffc7 29px,#08fff7 47px,#05fffa 53px,#2fd 62px,#64ff9b 75px,#b7ff48 98px,#fffe00 108px,#ff7200 124px,#ff1300 137px,#fa0000 142px,#f90000 146px,#ff0b00 153px)"></i>
<i style="left:238px;top:347px;width:2px;height:154px;background:linear-gradient(#ff0900 0px,#ff1300 6px,#ff2700 9px,#ffe100 14px,#fffc00 15px,#81ff7e 20px,#4affb5 25px,#0afff5 46px,#03fffc 53px,#21ffde 62px,#59ffa6 73px,#afff50 97px,#fffb00 108px,#ff6800 125px,#ff0b00 137px,#f50000 141px,#e00 144px,#ff0600 153px)"></i>
<i style="left:240px;top:347px;width:2px;height:154px;background:linear-gradient(#ff1200 0px,#ff2000 6px,#ff2c00 8px,#ff4200 9px,#ffe100 13px,#ff0 14px,#7dff82 19px,#4effb1 23px,#35ffca 29px,#0ffff0 41px,#00f9ff 51px,#0bfff4 58px,#49ffb6 71px,#a4ff5b 97px,#fffa00 109px,#ff1200 136px,#f80000 141px,#e00 144px,#ff0500 152px,#ff0800 153px)"></i>
<i style="left:242px;top:346px;width:2px;height:156px;background:linear-gradient(#ff1800 0px,#ff2500 6px,#ff3700 9px,#fffe00 14px,#65ff9a 20px,#41ffbe 25px,#17ffe8 39px,#00feff 47px,#00f7ff 54px,#0bfff4 60px,#46ffb9 72px,#9f6 97px,#fffd00 110px,#ff0b00 138px,#f50000 142px,#eb0000 145px,#ff0700 154px,#ff0a00 155px)"></i>
<i style="left:244px;top:347px;width:2px;height:153px;background:linear-gradient(#ff1c00 0px,#ff2e00 6px,#ff3b00 8px,#ff5400 9px,#fdff02 13px,#61ff9e 19px,#4fb 23px,#1bffe4 37px,#00feff 45px,#00f2ff 52px,#06fff9 58px,#42ffbd 70px,#83ff7c 91px,#9eff61 97px,#fdff02 108px,#ff3b00 130px,#ff0500 136px,#e40000 143px,#ff0300 152px)"></i>
<i style="left:246px;top:346px;width:2px;height:155px;background:linear-gradient(#ff1b00 0px,#ff2d00 6px,#ff3a00 8px,#ff4b00 9px,#fffb00 13px,#64ff9b 19px,#52ffad 20px,#3fc 31px,#13ffec 40px,#00fdff 47px,#00f3ff 53px,#08fff7 59px,#4fb 71px,#7cff83 90px,#a0ff5f 98px,#fffc00 109px,#ff3f00 130px,#f00 136px,#d80000 144px,#fc0000 154px)"></i>
<i style="left:248px;top:346px;width:2px;height:155px;background:linear-gradient(#ff2000 0px,#ff3d00 7px,#f40 8px,#f60 9px,#fff000 12px,#e2ff1d 13px,#4effb1 19px,#27ffd8 35px,#0ff 45px,#00f0ff 53px,#06fff9 59px,#40ffbf 70px,#70ff8f 88px,#9dff62 98px,#fffc00 109px,#ff4800 129px,#f90000 136px,#cf0000 144px,#f70000 154px)"></i>
<i style="left:250px;top:346px;width:2px;height:154px;background:linear-gradient(#f20 0px,#ff3d00 7px,#ff4f00 9px,#ffdb00 12px,#f4ff0b 13px,#cfff30 14px,#5fa 19px,#46ffb9 20px,#2affd5 35px,#0ff 45px,#0ef 53px,#05fffa 59px,#40ffbf 70px,#6bff94 87px,#9fff60 98px,#fdff02 108px,#ff4a00 128px,#ff0400 134px,#c70000 143px,#f20000 153px)"></i>
<i style="left:252px;top:347px;width:2px;height:153px;background:linear-gradient(#ff2700 0px,#f40 7px,#ff4b00 8px,#ff6100 9px,#ffed00 12px,#e2ff1d 13px,#62ff9d 18px,#4bffb4 19px,#3bffc4 25px,#26ffd9 35px,#00feff 44px,#00e8ff 52px,#05fffa 59px,#3effc1 69px,#68ff97 86px,#9bff64 97px,#fffb00 108px,#ff4b00 127px,#ff0300 133px,#c90000 141px,#c80000 143px,#f40000 152px)"></i>
<i style="left:254px;top:348px;width:2px;height:152px;background:linear-gradient(#ff2b00 0px,#ff5000 8px,#ff7300 9px,#ff0 12px,#d3ff2c 13px,#45ffba 19px,#28ffd7 34px,#00feff 43px,#00e4ff 51px,#03fffc 58px,#3fffc0 69px,#67ff98 85px,#98ff67 96px,#fffd00 107px,#ff4c00 126px,#f00 132px,#db0000 136px,#bf0000 141px,#f20000 151px)"></i>
<i style="left:256px;top:348px;width:2px;height:152px;background:linear-gradient(#ff2d00 0px,#ff5000 8px,#ff6100 9px,#ffed00 12px,#e3ff1c 13px,#92ff6d 16px,#4bffb4 19px,#3cffc3 24px,#25ffda 35px,#00feff 43px,#00e2ff 52px,#06fff9 59px,#3effc1 69px,#65ff9a 85px,#95ff6a 96px,#feff01 107px,#ff5a00 125px,#fe0000 132px,#de0000 135px,#b90000 141px,#ef0000 151px)"></i>
<i style="left:258px;top:348px;width:2px;height:152px;background:linear-gradient(#ff4900 0px,#ff6f00 8px,#ff8e00 9px,#ffe300 11px,#f0ff0f 12px,#cbff34 13px,#59ffa6 18px,#49ffb6 19px,#26ffd9 35px,#00fcff 44px,#00e0ff 51px,#02fffd 58px,#41ffbe 69px,#6eff91 86px,#9cff63 96px,#fffa00 107px,#ff4e00 126px,#ff0600 132px,#c80000 140px,#c70000 142px,#fd0000 151px)"></i>
<i style="left:260px;top:347px;width:2px;height:153px;background:linear-gradient(#ff7c00 0px,#f90 8px,#ffa500 9px,#ffeb00 11px,#f0ff0f 12px,#ceff31 13px,#57ffa8 19px,#4bffb4 21px,#29ffd6 36px,#00fcff 46px,#00e1ff 52px,#04fffb 59px,#47ffb8 70px,#76ff89 87px,#a6ff59 97px,#fffc00 107px,#ff8e00 120px,#ff4b00 128px,#ff0300 136px,#e40000 142px,#ff0500 148px,#ff1c00 152px)"></i>
<i style="left:262px;top:348px;width:2px;height:153px;background:linear-gradient(#ffb100 0px,#ffca00 8px,#ffd300 9px,#f5ff0a 11px,#af5 14px,#53ffac 20px,#27ffd8 37px,#00faff 46px,#00e0ff 51px,#00f0ff 56px,#06fff9 59px,#4bffb4 70px,#7bff84 87px,#acff53 97px,#feff01 106px,#ff9700 118px,#ff5f00 127px,#ff1000 139px,#ff0900 142px,#ff4000 152px)"></i>
<i style="left:264px;top:349px;width:2px;height:152px;background:linear-gradient(#ffe300 0px,#fbff04 9px,#abff54 13px,#62ff9d 19px,#1cffe3 41px,#00faff 46px,#00e3ff 50px,#00f1ff 55px,#06fff9 58px,#57ffa8 71px,#81ff7e 86px,#b9ff46 97px,#fffe00 105px,#ff9200 117px,#ff6200 127px,#ff2b00 140px,#ff3700 144px,#ff5b00 151px)"></i>
<i style="left:266px;top:349px;width:2px;height:153px;background:linear-gradient(#ebff14 0px,#d8ff27 9px,#94ff6b 15px,#65ff9a 21px,#20ffdf 42px,#01fffe 46px,#00e6ff 50px,#00edff 54px,#00feff 57px,#60ff9f 71px,#89ff76 86px,#c1ff3e 97px,#fbff04 104px,#ff8c00 117px,#f60 130px,#ff5800 136px,#ff4f00 142px,#ff7c00 152px)"></i>
<i style="left:268px;top:349px;width:2px;height:152px;background:linear-gradient(#b0ff4f 0px,#9cff63 10px,#56ffa9 25px,#20ffdf 42px,#00fcff 46px,#00e4ff 49px,#00e4ff 53px,#04fffb 58px,#61ff9e 71px,#84ff7b 85px,#c3ff3c 97px,#fcff03 104px,#ff9300 116px,#ff8b00 118px,#ff8000 129px,#ff8900 134px,#ff7c00 140px,#ffa200 151px)"></i>
<i style="left:270px;top:350px;width:2px;height:152px;background:linear-gradient(#93ff6c 0px,#7f8 16px,#36ffc9 35px,#1bffe4 42px,#00fdff 45px,#00dfff 49px,#00eaff 54px,#0ff 57px,#60ff9f 70px,#87ff78 85px,#c7ff38 97px,#fffc00 104px,#ffaf00 112px,#ff8e00 116px,#ff8c00 128px,#ffa000 133px,#ff9700 140px,#ffba00 151px)"></i>
<i style="left:272px;top:350px;width:2px;height:152px;background:linear-gradient(#9bff64 0px,#7eff81 17px,#3bffc4 36px,#2fd 42px,#00faff 46px,#00e3ff 49px,#00efff 54px,#03fffc 57px,#56ffa9 68px,#6aff95 71px,#8eff71 85px,#cdff32 97px,#fcff03 103px,#ffa900 112px,#ff8400 117px,#ff8400 128px,#f90 134px,#ff9600 141px,#ffb200 151px)"></i>
<i style="left:274px;top:349px;width:2px;height:153px;background:linear-gradient(#95ff6a 0px,#78ff87 17px,#3affc5 35px,#1cffe3 43px,#00fdff 46px,#0df 50px,#00eaff 55px,#01fffe 58px,#63ff9c 71px,#89ff76 86px,#c8ff37 98px,#fffd00 105px,#ffaf00 113px,#ff8900 118px,#ff8a00 129px,#ffa500 135px,#ffa100 142px,#ffb900 152px)"></i>
<i style="left:276px;top:350px;width:2px;height:152px;background:linear-gradient(#92ff6d 0px,#7f8 16px,#39ffc6 34px,#1bffe4 42px,#00fcff 45px,#00dbff 49px,#00e8ff 54px,#00feff 57px,#61ff9e 70px,#87ff78 85px,#c6ff39 97px,#f5ff0a 103px,#fffe00 104px,#ffb100 112px,#ff8c00 117px,#ff8f00 128px,#ffad00 134px,#ffae00 142px,#ffbe00 151px)"></i>
<i style="left:278px;top:350px;width:2px;height:152px;background:linear-gradient(#97ff68 0px,#79ff86 17px,#3bffc4 35px,#1fffe0 42px,#01fffe 45px,#00dfff 49px,#00ecff 54px,#02fffd 57px,#5fa 68px,#67ff98 71px,#8cff73 85px,#cbff34 97px,#faff05 103px,#ffa300 113px,#ff8700 117px,#ff8f00 128px,#ffae00 134px,#ffb400 143px,#ffbc00 151px)"></i>
<i style="left:280px;top:349px;width:2px;height:153px;background:linear-gradient(#94ff6b 0px,#78ff87 17px,#3affc5 35px,#1bffe4 43px,#00fcff 46px,#0df 50px,#00eaff 55px,#01fffe 58px,#62ff9d 71px,#89ff76 86px,#c9ff36 98px,#fffb00 105px,#ffae00 113px,#ff8b00 118px,#ff8f00 128px,#ffb700 135px,#ffc100 152px)"></i>
<i style="left:282px;top:350px;width:2px;height:152px;background:linear-gradient(#91ff6e 0px,#74ff8b 17px,#37ffc8 35px,#1cffe3 42px,#00feff 45px,#0df 49px,#00e9ff 54px,#00fdff 57px,#4fffb0 68px,#62ff9d 71px,#86ff79 85px,#c6ff39 97px,#f5ff0a 103px,#fff300 105px,#ffb000 112px,#ff8d00 117px,#ff9200 127px,#ffbe00 134px,#ffc500 151px)"></i>
<i style="left:284px;top:351px;width:2px;height:150px;background:linear-gradient(#90ff6f 0px,#76ff89 16px,#38ffc7 34px,#1dffe2 41px,#01fffe 44px,#00dfff 48px,#00ebff 53px,#06fff9 57px,#61ff9e 70px,#85ff7a 84px,#c6ff39 96px,#f5ff0a 102px,#fff300 104px,#ffb000 111px,#ff8d00 116px,#ff9500 126px,#ffc200 132px,#ffc800 148px,#ffc800 149px)"></i>
<i style="left:286px;top:350px;width:2px;height:151px;background:linear-gradient(#90ff6f 0px,#73ff8c 17px,#39ffc6 34px,#1cffe3 42px,#0ff 45px,#00e1ff 49px,#00f0ff 55px,#01fffe 57px,#60ff9f 70px,#84ff7b 84px,#c3ff3c 96px,#f2ff0d 102px,#fff700 104px,#ffb300 111px,#ff8d00 116px,#ff9b00 127px,#ffc500 133px,#ffcb00 147px,#ffc800 150px)"></i>
<i style="left:288px;top:350px;width:2px;height:151px;background:linear-gradient(#94ff6b 0px,#7bff84 16px,#3cffc3 34px,#1fffe0 42px,#00faff 46px,#00e7ff 49px,#00f4ff 55px,#0cfff3 58px,#57ffa8 68px,#64ff9b 70px,#8cff73 85px,#cdff32 97px,#f3ff0c 102px,#fff600 104px,#ffa900 112px,#ff8a00 116px,#ff9400 127px,#ffc300 133px,#ffca00 146px,#ffc600 150px)"></i>
<i style="left:290px;top:350px;width:2px;height:152px;background:linear-gradient(#96ff69 0px,#7cff83 16px,#3affc5 35px,#21ffde 42px,#00fdff 46px,#00ebff 49px,#00f7ff 55px,#0efff1 58px,#58ffa7 68px,#6f9 70px,#8dff72 85px,#cdff32 97px,#fdff02 103px,#fa0 112px,#ff8700 117px,#ff9100 127px,#ffc100 133px,#ffca00 146px,#ffc400 151px)"></i>
<i style="left:292px;top:349px;width:2px;height:151px;background:linear-gradient(#93ff6c 0px,#76ff89 17px,#39ffc6 35px,#1cffe3 43px,#00faff 47px,#00ebff 51px,#00f8ff 56px,#10ffef 59px,#62ff9d 70px,#89ff76 85px,#c9ff36 97px,#fffa00 104px,#ffad00 112px,#ff8c00 116px,#ff9500 127px,#ffc600 133px,#ffce00 146px,#ffc900 150px)"></i>
<i style="left:294px;top:350px;width:2px;height:151px;background:linear-gradient(#96ff69 0px,#7dff82 16px,#3bffc4 35px,#1cffe3 43px,#00fbff 47px,#00f2ff 51px,#01fffe 56px,#4fffb0 67px,#67ff98 70px,#8aff75 84px,#d0ff2f 97px,#fffc00 103px,#ffad00 111px,#ff8700 116px,#ff9600 127px,#ffc400 133px,#ffc900 146px,#ffc400 150px)"></i>
<i style="left:296px;top:351px;width:2px;height:151px;background:linear-gradient(#97ff68 0px,#7dff82 16px,#3bffc4 35px,#21ffde 42px,#00fbff 47px,#00fbff 53px,#07fff8 56px,#4affb5 66px,#6f9 69px,#8dff72 84px,#cdff32 96px,#fcff03 102px,#ffa900 111px,#ff8600 116px,#ff9000 126px,#ffc200 132px,#ffc900 145px,#ffc300 150px)"></i>
<i style="left:298px;top:350px;width:2px;height:151px;background:linear-gradient(#90ff6f 0px,#73ff8c 17px,#39ffc6 34px,#1affe5 43px,#00fcff 47px,#00f4ff 52px,#05fffa 57px,#49ffb6 67px,#60ff9f 70px,#87ff78 85px,#c8ff37 97px,#ef1 102px,#fffa00 104px,#ffad00 112px,#ff8d00 116px,#ff9b00 127px,#ffcb00 133px,#ffd100 146px,#ffcb00 150px)"></i>
<i style="left:300px;top:350px;width:3px;height:151px;background:linear-gradient(#9f6 0px,#80ff7f 16px,#3fffc0 33px,#1fffe0 43px,#0ff 48px,#06fff9 56px,#4affb5 66px,#68ff97 69px,#8fff70 86px,#c0ff3f 96px,#efff10 102px,#fff900 104px,#ffab00 112px,#ff8b00 116px,#ff9700 127px,#ffc700 133px,#ffce00 146px,#ffc800 150px)"></i>
<i style="left:303px;top:350px;width:3px;height:150px;background:linear-gradient(#a2ff5d 0px,#93ff6c 14px,#4fb 31px,#20ffdf 43px,#05fffa 49px,#0dfff2 56px,#4effb1 65px,#74ff8b 69px,#86ff79 78px,#8eff71 87px,#b5ff4a 96px,#fffc00 104px,#ffa500 113px,#ff9000 116px,#ff9700 126px,#ffc700 132px,#ffd200 145px,#fc0 149px)"></i>
<i style="left:306px;top:349px;width:3px;height:150px;background:linear-gradient(#b0ff4f 0px,#acff53 10px,#9bff64 16px,#49ffb6 31px,#1fffe0 45px,#0ffff0 50px,#14ffeb 56px,#50ffaf 64px,#8f7 70px,#94ff6b 76px,#8eff71 88px,#abff54 96px,#fdff02 104px,#ff9400 115px,#ff9300 126px,#ffc400 132px,#ffd100 144px,#ffcb00 149px)"></i>
<i style="left:309px;top:349px;width:3px;height:151px;background:linear-gradient(#c0ff3f 0px,#c1ff3e 9px,#b2ff4d 15px,#4effb1 31px,#19ffe6 50px,#24ffdb 57px,#56ffa9 63px,#9aff65 70px,#a5ff5a 73px,#a2ff5d 79px,#8dff72 88px,#a3ff5c 96px,#faff05 104px,#ff8e00 116px,#ff8e00 126px,#ffc200 133px,#ffcd00 145px,#ffc700 150px)"></i>
<i style="left:312px;top:349px;width:3px;height:151px;background:linear-gradient(#cbff34 0px,#d2ff2d 8px,#bfff40 15px,#5fa 30px,#20ffdf 50px,#2affd5 57px,#56ffa9 62px,#a1ff5e 69px,#b5ff4a 72px,#acff53 79px,#86ff79 87px,#97ff68 96px,#ff0 105px,#ff9100 116px,#ff8e00 126px,#ffc200 133px,#ffd000 144px,#ffc800 150px)"></i>
<i style="left:315px;top:349px;width:3px;height:151px;background:linear-gradient(#daff25 0px,#e6ff19 8px,#d3ff2c 15px,#5dffa2 30px,#29ffd6 49px,#32ffcd 57px,#6f9 62px,#b2ff4d 69px,#c9ff36 72px,#c3ff3c 78px,#86ff79 87px,#8fff70 96px,#fdff02 105px,#ff9000 116px,#ff8900 126px,#ffbe00 133px,#ffcd00 144px,#ffc500 150px)"></i>
<i style="left:318px;top:351px;width:3px;height:149px;background:linear-gradient(#e9ff16 0px,#f7ff08 7px,#e2ff1d 14px,#68ff97 28px,#3effc1 40px,#30ffcf 50px,#3affc5 56px,#76ff89 61px,#b8ff47 67px,#d9ff26 71px,#cdff32 77px,#83ff7c 86px,#84ff7b 94px,#a5ff5a 97px,#feff01 104px,#ff9100 114px,#ff8c00 125px,#fb0 131px,#fc0 142px,#ffc400 148px)"></i>
<i style="left:321px;top:350px;width:3px;height:150px;background:linear-gradient(#efff10 0px,#feff01 8px,#e6ff19 15px,#6f9 29px,#3effc1 41px,#3fc 51px,#3fffc0 57px,#acff53 66px,#dbff24 71px,#cdff32 78px,#84ff7b 86px,#82ff7d 95px,#fffc00 105px,#ff9000 115px,#ff8500 125px,#ffb300 132px,#ffbf00 144px,#ffb800 149px)"></i>
<i style="left:324px;top:350px;width:3px;height:149px;background:linear-gradient(#f9ff06 0px,#fff700 8px,#f5ff0a 14px,#69ff96 29px,#40ffbf 41px,#35ffca 51px,#3affc5 56px,#58ffa7 59px,#a7ff58 65px,#e0ff1f 71px,#d6ff29 77px,#84ff7b 86px,#84ff7b 95px,#fdff02 104px,#ff9200 114px,#ff8000 123px,#ff8400 126px,#ffa700 132px,#ffac00 144px,#ffa600 148px)"></i>
<i style="left:327px;top:350px;width:3px;height:149px;background:linear-gradient(#feff01 0px,#fff100 8px,#f9ff06 14px,#69ff96 29px,#40ffbf 40px,#34ffcb 51px,#39ffc6 56px,#57ffa8 59px,#a6ff59 65px,#e0ff1f 71px,#d4ff2b 77px,#80ff7f 86px,#83ff7c 95px,#fffd00 104px,#ffa100 112px,#ff8a00 115px,#ff7d00 125px,#ff9e00 132px,#ff9c00 145px,#ff9800 148px)"></i>
<i style="left:330px;top:351px;width:3px;height:148px;background:linear-gradient(#fff900 0px,#ffed00 8px,#f9ff06 14px,#8eff71 24px,#5effa1 30px,#39ffc6 43px,#34ffcb 51px,#3effc1 56px,#a5ff5a 64px,#dfff20 70px,#d3ff2c 76px,#7eff81 85px,#81ff7e 94px,#f6ff09 102px,#ffef00 104px,#ffa800 110px,#ff8900 114px,#ff7b00 121px,#ff8000 125px,#ff9500 131px,#ff8900 147px)"></i>
<i style="left:333px;top:351px;width:3px;height:147px;background:linear-gradient(#fff600 0px,#ffea00 8px,#fbff04 14px,#95ff6a 23px,#5affa5 30px,#36ffc9 43px,#31ffce 51px,#35ffca 55px,#62ff9d 59px,#a4ff5b 64px,#deff21 70px,#ceff31 76px,#78ff87 85px,#83ff7c 94px,#fbff04 102px,#ffac00 109px,#ff8900 114px,#ff7c00 120px,#ff8100 125px,#ff8f00 130px,#ff7d00 146px)"></i>
<i style="left:336px;top:351px;width:3px;height:147px;background:linear-gradient(#ffea00 0px,#ffe300 8px,#fcff03 14px,#9eff61 22px,#5fffa0 29px,#39ffc6 42px,#34ffcb 51px,#38ffc7 55px,#6aff95 59px,#abff54 64px,#e3ff1c 70px,#d0ff2f 76px,#7aff85 85px,#80ff7f 93px,#96ff69 95px,#fffd00 102px,#ffa500 109px,#ff7b00 116px,#ff7500 124px,#ff8000 131px,#ff6b00 146px)"></i>
<i style="left:339px;top:349px;width:3px;height:149px;background:linear-gradient(#ffe200 0px,#ffdc00 9px,#fffe00 15px,#a1ff5e 23px,#61ff9e 30px,#3dffc2 42px,#34ffcb 51px,#3affc5 56px,#6aff95 60px,#adff52 65px,#e5ff1a 71px,#d4ff2b 77px,#7cff83 86px,#84ff7b 95px,#ff0 103px,#ff9c00 111px,#ff6f00 119px,#ff7500 130px,#ff5800 148px)"></i>
<i style="left:342px;top:348px;width:3px;height:150px;background:linear-gradient(#ffdb00 0px,#ffd200 9px,#fff200 15px,#feff01 16px,#a8ff57 23px,#63ff9c 30px,#3cffc3 43px,#35ffca 52px,#3bffc4 57px,#7eff81 62px,#b0ff4f 66px,#e7ff18 72px,#d3ff2c 78px,#7aff85 87px,#85ff7a 96px,#f5ff0a 103px,#fffb00 104px,#ff9d00 111px,#ff6b00 120px,#ff6800 134px,#ff4800 149px)"></i>
<i style="left:345px;top:348px;width:3px;height:149px;background:linear-gradient(#ffda00 0px,#ffd300 9px,#fff800 15px,#df2 18px,#81ff7e 26px,#5cffa3 30px,#38ffc7 43px,#31ffce 52px,#36ffc9 56px,#65ff9a 60px,#a9ff56 65px,#e3ff1c 71px,#cdff32 77px,#73ff8c 86px,#81ff7e 95px,#fffc00 103px,#ff9f00 110px,#ff6e00 119px,#ff6900 132px,#ff4900 145px,#ff4500 148px)"></i>
<i style="left:348px;top:348px;width:3px;height:147px;background:linear-gradient(#ffc900 0px,#ffc600 9px,#ffe400 14px,#ff0 16px,#a6ff59 23px,#69ff96 29px,#42ffbd 40px,#37ffc8 51px,#43ffbc 56px,#b8ff47 65px,#ecff13 70px,#d7ff28 76px,#7dff82 85px,#8bff74 94px,#fdff02 101px,#ff9600 109px,#ff6500 118px,#ff5f00 131px,#ff3e00 144px,#ff3c00 146px)"></i>
<i style="left:351px;top:348px;width:3px;height:147px;background:linear-gradient(#ffc900 0px,#ffc700 9px,#ffe500 14px,#fdff02 16px,#96ff69 24px,#5effa1 30px,#3effc1 40px,#32ffcd 52px,#3cffc3 56px,#67ff98 60px,#adff52 65px,#e4ff1b 70px,#c8ff37 77px,#76ff89 85px,#80ff7f 94px,#fffd00 102px,#ff9f00 109px,#ff6c00 118px,#ff6800 131px,#ff4500 144px,#ff4200 146px)"></i>
<i style="left:354px;top:348px;width:3px;height:148px;background:linear-gradient(#ffbe00 0px,#ffbc00 9px,#ffdc00 14px,#f9ff06 17px,#8f7 26px,#5effa1 31px,#3fffc0 42px,#35ffca 53px,#46ffb9 57px,#73ff8c 61px,#c5ff3a 67px,#e7ff18 70px,#e6ff19 72px,#ceff31 77px,#7cff83 85px,#82ff7d 94px,#fffd00 102px,#ff9d00 109px,#ff6800 118px,#ff6500 131px,#ff4200 143px,#ff3c00 147px)"></i>
<i style="left:357px;top:348px;width:3px;height:148px;background:linear-gradient(#ffbf00 0px,#ffbf00 10px,#ffe700 15px,#fcff03 17px,#86ff79 26px,#52ffad 32px,#2fffd0 50px,#37ffc8 56px,#56ffa9 60px,#c7ff38 68px,#e4ff1b 71px,#c7ff38 77px,#74ff8b 85px,#7aff85 94px,#faff05 102px,#ffa400 109px,#ff7000 118px,#ff6c00 131px,#ff4800 143px,#ff4300 147px)"></i>
<i style="left:360px;top:348px;width:3px;height:148px;background:linear-gradient(#ffb500 0px,#ffb300 10px,#ffdb00 15px,#faff05 18px,#8eff71 26px,#53ffac 33px,#30ffcf 53px,#4fb 58px,#5dffa2 61px,#c5ff3a 68px,#eaff15 71px,#c4ff3b 78px,#74ff8b 86px,#83ff7c 95px,#f7ff08 102px,#ffeb00 104px,#ff9d00 110px,#ff6d00 119px,#ff6a00 131px,#f40 143px,#ff3f00 147px)"></i>
<i style="left:363px;top:349px;width:3px;height:147px;background:linear-gradient(#ffa800 0px,#ffa900 10px,#ffd700 15px,#feff01 18px,#9aff65 25px,#5affa5 32px,#35ffca 51px,#40ffbf 56px,#5affa5 60px,#c8ff37 67px,#ef1 70px,#cbff34 77px,#79ff86 85px,#87ff78 94px,#fbff04 101px,#ff9800 109px,#ff6800 118px,#ff6400 130px,#ff3d00 142px,#ff3800 146px)"></i>
<i style="left:366px;top:349px;width:3px;height:146px;background:linear-gradient(#ffa600 0px,#fa0 10px,#ffdc00 15px,#f8ff07 18px,#92ff6d 25px,#53ffac 32px,#2fffd0 52px,#4cffb3 59px,#d6ff29 68px,#ebff14 70px,#caff35 76px,#76ff89 84px,#7eff81 93px,#fffe00 101px,#ff9f00 108px,#ff6d00 117px,#ff6b00 129px,#ff4200 141px,#ff3d00 145px)"></i>
<i style="left:369px;top:349px;width:3px;height:146px;background:linear-gradient(#ff9f00 0px,#ffa200 10px,#ffd400 15px,#fffe00 18px,#97ff68 25px,#5fa 32px,#31ffce 53px,#52ffad 60px,#c6ff39 67px,#ecff13 70px,#cdff32 76px,#7aff85 84px,#7cff83 91px,#7eff81 93px,#fdff02 101px,#ffa000 108px,#ff6d00 117px,#ff6800 130px,#ff4100 141px,#ff3a00 145px)"></i>
<i style="left:372px;top:349px;width:3px;height:147px;background:linear-gradient(#ff9d00 0px,#ff9e00 10px,#ffe000 16px,#fffc00 18px,#97ff68 25px,#53ffac 32px,#2cffd3 52px,#4bffb4 60px,#cfff30 68px,#e8ff17 70px,#cf3 76px,#74ff8b 85px,#7cff83 93px,#95ff6a 95px,#f7ff08 101px,#ffeb00 103px,#ff9e00 109px,#ff7000 117px,#ff7000 130px,#ff3c00 144px,#ff3800 146px)"></i>
<i style="left:375px;top:350px;width:3px;height:146px;background:linear-gradient(#ff9700 0px,#f90 9px,#ffd800 15px,#fbff04 18px,#9cff63 24px,#53ffac 32px,#2dffd2 51px,#4bffb4 59px,#dcff23 68px,#e7ff18 69px,#d0ff2f 75px,#78ff87 84px,#85ff7a 93px,#f6ff09 100px,#ffec00 102px,#ff9e00 108px,#ff6e00 116px,#ff7200 130px,#ff3200 145px)"></i>
<i style="left:378px;top:350px;width:3px;height:145px;background:linear-gradient(#ff9100 0px,#ff9400 9px,#ffd600 15px,#fcff03 18px,#af5 23px,#58ffa7 31px,#32ffcd 46px,#30ffcf 53px,#4effb1 59px,#d3ff2c 67px,#e9ff16 69px,#ceff31 75px,#80ff7f 83px,#83ff7c 92px,#fdff02 100px,#ffa200 107px,#ff7200 114px,#ff7100 123px,#ff7600 130px,#ff2d00 144px)"></i>
<i style="left:381px;top:351px;width:3px;height:144px;background:linear-gradient(#ff9500 0px,#ff9a00 9px,#ffdf00 15px,#fffc00 17px,#9fff60 23px,#50ffaf 31px,#29ffd6 47px,#2affd5 53px,#4dffb2 59px,#d1ff2e 67px,#dfff20 69px,#cf3 74px,#78ff87 83px,#80ff7f 92px,#fbff04 100px,#ffa600 107px,#ff7a00 113px,#ff7a00 123px,#ff8300 130px,#ff5100 138px,#ff3200 143px)"></i>
<i style="left:384px;top:351px;width:3px;height:145px;background:linear-gradient(#ff9100 0px,#ff9600 9px,#fff900 17px,#9fff60 23px,#50ffaf 31px,#28ffd7 46px,#27ffd8 53px,#49ffb6 59px,#ceff31 67px,#df2 69px,#cf3 74px,#7aff85 83px,#7eff81 92px,#f7ff08 100px,#ffeb00 102px,#ffa900 107px,#ff7a00 113px,#ff7d00 124px,#ff8c00 130px,#ff5f00 137px,#ff3000 143px,#ff2c00 144px)"></i>
<i style="left:387px;top:350px;width:3px;height:145px;background:linear-gradient(#ff8e00 0px,#ff9500 10px,#ff0 18px,#b3ff4c 22px,#5bffa4 30px,#3dffc2 36px,#24ffdb 48px,#27ffd8 54px,#4dffb2 60px,#d3ff2c 68px,#d7ff28 71px,#c7ff38 75px,#7cff83 83px,#7dff82 92px,#c3ff3c 97px,#feff01 101px,#ffa500 108px,#ff7a00 113px,#ff8000 124px,#ff9400 130px,#f60 137px,#ff3400 142px,#ff2a00 144px)"></i>
<i style="left:390px;top:350px;width:3px;height:145px;background:linear-gradient(#ff8e00 0px,#ff9600 8px,#ffec00 15px,#fffa00 16px,#a9ff56 21px,#54ffab 29px,#2dffd2 39px,#1fffe0 48px,#24ffdb 53px,#4bffb4 59px,#cfff30 67px,#cfff30 72px,#89ff76 80px,#78ff87 83px,#7bff84 91px,#90ff6f 93px,#f6ff09 100px,#ffec00 102px,#ffa300 108px,#ff7d00 112px,#ff8700 124px,#ff9d00 130px,#ff7400 136px,#f30 142px,#ff2800 144px)"></i>
<i style="left:393px;top:348px;width:3px;height:147px;background:linear-gradient(#ff8100 0px,#ff8a00 10px,#fff500 18px,#f5ff0a 19px,#b8ff47 22px,#62ff9d 30px,#3cffc3 37px,#23ffdc 47px,#23ffdc 54px,#53ffac 61px,#cdff32 68px,#dbff24 70px,#d3ff2c 75px,#84ff7b 84px,#84ff7b 93px,#9f6 95px,#feff01 102px,#ffa500 109px,#ff7300 114px,#ff8600 127px,#ff9c00 132px,#ff7200 138px,#ff2800 144px,#ff1c00 146px)"></i>
<i style="left:396px;top:348px;width:3px;height:146px;background:linear-gradient(#ff8300 0px,#ff8e00 10px,#fffc00 18px,#afff50 22px,#5affa5 30px,#30ffcf 39px,#1dffe2 47px,#1effe1 54px,#4effb1 61px,#caff35 68px,#d3ff2c 70px,#cbff34 75px,#81ff7e 83px,#7fff80 93px,#faff05 102px,#ff8a00 112px,#ff7600 114px,#ff8a00 126px,#ffa900 131px,#ff8600 137px,#ff3100 143px,#ff2300 145px)"></i>
<i style="left:399px;top:348px;width:3px;height:147px;background:linear-gradient(#ff7d00 0px,#f80 10px,#fff700 18px,#dbff24 20px,#b2ff4d 22px,#5dffa2 30px,#31ffce 39px,#1cffe3 47px,#1dffe2 54px,#4cffb3 61px,#d3ff2c 69px,#d0ff2f 75px,#82ff7d 84px,#86ff79 94px,#fffb00 103px,#ffa300 110px,#f70 114px,#ff8d00 127px,#ffad00 132px,#ff8400 138px,#ff2a00 144px,#ff1c00 146px)"></i>
<i style="left:402px;top:348px;width:3px;height:146px;background:linear-gradient(#ff8200 0px,#ff8b00 8px,#ffc900 13px,#faff05 17px,#abff54 21px,#57ffa8 29px,#29ffd6 39px,#18ffe7 46px,#1affe5 53px,#49ffb6 60px,#bfff40 67px,#cdff32 69px,#caff35 74px,#7eff81 83px,#81ff7e 93px,#faff05 102px,#ff7f00 113px,#ff7b00 116px,#ff8f00 126px,#ffb200 131px,#ff9500 136px,#ff7300 139px,#ff2d00 144px,#ff2600 145px)"></i>
<i style="left:405px;top:347px;width:3px;height:146px;background:linear-gradient(#ff8100 0px,#ff9100 10px,#fff400 17px,#f9ff06 18px,#b7ff48 21px,#5bffa4 29px,#2bffd4 39px,#16ffe9 47px,#19ffe6 54px,#4bffb4 61px,#c3ff3c 68px,#cbff34 74px,#7cff83 83px,#7cff83 93px,#fffb00 103px,#ff9800 111px,#ff7900 114px,#ff9000 126px,#ffb300 131px,#ff9d00 135px,#ff8300 138px,#ff3700 143px,#ff2900 145px)"></i>
<i style="left:408px;top:347px;width:3px;height:146px;background:linear-gradient(#ff7c00 0px,#ff8500 9px,#ffab00 12px,#fbff04 18px,#b8ff47 21px,#5effa1 29px,#2cffd3 39px,#18ffe7 46px,#1cffe3 54px,#51ffae 61px,#c9ff36 68px,#cdff32 74px,#80ff7f 83px,#81ff7e 93px,#feff01 102px,#ff9c00 110px,#ff7600 114px,#ff8f00 126px,#ffb100 131px,#f80 137px,#ff3000 143px,#ff2400 145px)"></i>
<i style="left:411px;top:346px;width:3px;height:147px;background:linear-gradient(#ff7c00 0px,#ff8900 9px,#fffa00 17px,#b2ff4d 21px,#5bffa4 29px,#2bffd4 39px,#17ffe8 46px,#1cffe3 54px,#50ffaf 61px,#c4ff3b 68px,#cf3 74px,#80ff7f 83px,#7fff80 93px,#e8ff17 101px,#fffb00 103px,#ffa300 110px,#f70 114px,#ff9100 127px,#ffb200 132px,#f80 138px,#ff3100 144px,#ff2700 146px)"></i>
<i style="left:414px;top:344px;width:3px;height:150px;background:linear-gradient(#ff7b00 0px,#ff8500 10px,#fff500 18px,#f6ff09 19px,#b5ff4a 22px,#57ffa8 31px,#21ffde 43px,#16ffe9 48px,#16ffe9 55px,#52ffad 63px,#c3ff3c 70px,#caff35 76px,#80ff7f 85px,#84ff7b 96px,#feff01 105px,#ff9d00 113px,#f70 117px,#ff8d00 129px,#ffb100 135px,#ff8500 141px,#ff3200 147px,#ff2800 149px)"></i>
<i style="left:417px;top:344px;width:3px;height:149px;background:linear-gradient(#ff7300 0px,#ff7f00 10px,#fff300 18px,#f6ff09 19px,#b7ff48 22px,#63ff9c 30px,#3fc 39px,#1affe5 47px,#1cffe3 55px,#51ffae 62px,#caff35 70px,#ceff31 76px,#86ff79 85px,#87ff78 95px,#ff0 104px,#ff9b00 112px,#ff7100 116px,#ff8a00 129px,#ffa900 134px,#ff8100 140px,#ff3000 146px,#ff2500 148px)"></i>
<i style="left:420px;top:344px;width:3px;height:149px;background:linear-gradient(#ff7500 0px,#ff8200 10px,#fff700 18px,#dcff23 20px,#b3ff4c 22px,#5fffa0 30px,#2dffd2 40px,#17ffe8 47px,#1bffe4 55px,#50ffaf 62px,#beff41 69px,#cbff34 74px,#c8ff37 76px,#83ff7c 85px,#86ff79 95px,#fffd00 104px,#ffa500 111px,#ff7300 116px,#ff8900 128px,#ffac00 133px,#ff9e00 136px,#ff7f00 140px,#ff3000 146px,#ff2800 148px)"></i>
<i style="left:423px;top:344px;width:3px;height:149px;background:linear-gradient(#ff7800 0px,#ff8400 10px,#fffa00 18px,#afff50 22px,#5bffa4 30px,#1effe1 43px,#14ffeb 48px,#17ffe8 55px,#4cffb3 62px,#b7ff48 69px,#c3ff3c 73px,#c3ff3c 76px,#7eff81 85px,#81ff7e 95px,#fcff03 104px,#ff7e00 115px,#ff7900 117px,#ff8d00 128px,#ffb100 134px,#ff8500 140px,#ff3600 146px,#ff2e00 148px)"></i>
<i style="left:426px;top:344px;width:2px;height:149px;background:linear-gradient(#ff6f00 0px,#ff7900 10px,#fcff03 19px,#bf4 22px,#64ff9b 30px,#34ffcb 39px,#19ffe6 47px,#1bffe4 55px,#52ffad 62px,#bcff43 69px,#c9ff36 72px,#caff35 76px,#87ff78 85px,#89ff76 95px,#f7ff08 103px,#ffeb00 105px,#ff8b00 113px,#ff6f00 116px,#ff8600 128px,#ffa800 133px,#ff8500 139px,#ff3500 145px,#ff2700 148px)"></i></div>
<svg width="511" height="550" viewBox="0 0 511 550" style="position:absolute;left:0;top:0"><defs><linearGradient id="gA" x1="0" y1="0" x2="0" y2="1"><stop offset="0" stop-color="#ff0000"/><stop offset="0.5" stop-color="#ffffff"/><stop offset="1" stop-color="#0000ff"/></linearGradient><linearGradient id="gB" x1="0" y1="0" x2="0" y2="1"><stop offset="0.0000" stop-color="rgb(127,0,0)"/><stop offset="0.0156" stop-color="rgb(143,0,0)"/><stop offset="0.0312" stop-color="rgb(159,0,0)"/><stop offset="0.0469" stop-color="rgb(175,0,0)"/><stop offset="0.0625" stop-color="rgb(191,0,0)"/><stop offset="0.0781" stop-color="rgb(207,0,0)"/><stop offset="0.0938" stop-color="rgb(223,0,0)"/><stop offset="0.1094" stop-color="rgb(239,0,0)"/><stop offset="0.1250" stop-color="rgb(255,0,0)"/><stop offset="0.1406" stop-color="rgb(255,15,0)"/><stop offset="0.1562" stop-color="rgb(255,31,0)"/><stop offset="0.1719" stop-color="rgb(255,47,0)"/><stop offset="0.1875" stop-color="rgb(255,63,0)"/><stop offset="0.2031" stop-color="rgb(255,79,0)"/><stop offset="0.2188" stop-color="rgb(255,95,0)"/><stop offset="0.2344" stop-color="rgb(255,111,0)"/><stop offset="0.2500" stop-color="rgb(255,127,0)"/><stop offset="0.2656" stop-color="rgb(255,143,0)"/><stop offset="0.2812" stop-color="rgb(255,159,0)"/><stop offset="0.2969" stop-color="rgb(255,175,0)"/><stop offset="0.3125" stop-color="rgb(255,191,0)"/><stop offset="0.3281" stop-color="rgb(255,207,0)"/><stop offset="0.3438" stop-color="rgb(255,223,0)"/><stop offset="0.3594" stop-color="rgb(255,239,0)"/><stop offset="0.3750" stop-color="rgb(255,255,0)"/><stop offset="0.3906" stop-color="rgb(239,255,15)"/><stop offset="0.4062" stop-color="rgb(223,255,31)"/><stop offset="0.4219" stop-color="rgb(207,255,47)"/><stop offset="0.4375" stop-color="rgb(191,255,63)"/><stop offset="0.4531" stop-color="rgb(175,255,79)"/><stop offset="0.4688" stop-color="rgb(159,255,95)"/><stop offset="0.4844" stop-color="rgb(143,255,111)"/><stop offset="0.5000" stop-color="rgb(127,255,127)"/><stop offset="0.5156" stop-color="rgb(111,255,143)"/><stop offset="0.5312" stop-color="rgb(95,255,159)"/><stop offset="0.5469" stop-color="rgb(79,255,175)"/><stop offset="0.5625" stop-color="rgb(63,255,191)"/><stop offset="0.5781" stop-color="rgb(47,255,207)"/><stop offset="0.5938" stop-color="rgb(31,255,223)"/><stop offset="0.6094" stop-color="rgb(15,255,239)"/><stop offset="0.6250" stop-color="rgb(0,255,255)"/><stop offset="0.6406" stop-color="rgb(0,239,255)"/><stop offset="0.6562" stop-color="rgb(0,223,255)"/><stop offset="0.6719" stop-color="rgb(0,207,255)"/><stop offset="0.6875" stop-color="rgb(0,191,255)"/><stop offset="0.7031" stop-color="rgb(0,175,255)"/><stop offset="0.7188" stop-color="rgb(0,159,255)"/><stop offset="0.7344" stop-color="rgb(0,143,255)"/><stop offset="0.7500" stop-color="rgb(0,127,255)"/><stop offset="0.7656" stop-color="rgb(0,111,255)"/><stop offset="0.7812" stop-color="rgb(0,95,255)"/><stop offset="0.7969" stop-color="rgb(0,79,255)"/><stop offset="0.8125" stop-color="rgb(0,63,255)"/><stop offset="0.8281" stop-color="rgb(0,47,255)"/><stop offset="0.8438" stop-color="rgb(0,31,255)"/><stop offset="0.8594" stop-color="rgb(0,15,255)"/><stop offset="0.8750" stop-color="rgb(0,0,255)"/><stop offset="0.8906" stop-color="rgb(0,0,239)"/><stop offset="0.9062" stop-color="rgb(0,0,223)"/><stop offset="0.9219" stop-color="rgb(0,0,207)"/><stop offset="0.9375" stop-color="rgb(0,0,191)"/><stop offset="0.9531" stop-color="rgb(0,0,175)"/><stop offset="0.9688" stop-color="rgb(0,0,159)"/><stop offset="0.9844" stop-color="rgb(0,0,143)"/><stop offset="1.0000" stop-color="rgb(0,0,127)"/></linearGradient></defs><g stroke="#2a2a2a" stroke-width="1" fill="none"><line x1="55.90" y1="43.90" x2="55.90" y2="47.90"/>
<line x1="55.90" y1="263.30" x2="55.90" y2="259.30"/>
<line x1="117.87" y1="43.90" x2="117.87" y2="47.90"/>
<line x1="117.87" y1="263.30" x2="117.87" y2="259.30"/>
<line x1="179.83" y1="43.90" x2="179.83" y2="47.90"/>
<line x1="179.83" y1="263.30" x2="179.83" y2="259.30"/>
<line x1="241.80" y1="43.90" x2="241.80" y2="47.90"/>
<line x1="241.80" y1="263.30" x2="241.80" y2="259.30"/>
<line x1="303.77" y1="43.90" x2="303.77" y2="47.90"/>
<line x1="303.77" y1="263.30" x2="303.77" y2="259.30"/>
<line x1="365.73" y1="43.90" x2="365.73" y2="47.90"/>
<line x1="365.73" y1="263.30" x2="365.73" y2="259.30"/>
<line x1="427.70" y1="43.90" x2="427.70" y2="47.90"/>
<line x1="427.70" y1="263.30" x2="427.70" y2="259.30"/>
<line x1="55.90" y1="43.90" x2="59.90" y2="43.90"/>
<line x1="427.70" y1="43.90" x2="423.70" y2="43.90"/>
<line x1="55.90" y1="94.20" x2="59.90" y2="94.20"/>
<line x1="427.70" y1="94.20" x2="423.70" y2="94.20"/>
<line x1="55.90" y1="144.50" x2="59.90" y2="144.50"/>
<line x1="427.70" y1="144.50" x2="423.70" y2="144.50"/>
<line x1="55.90" y1="194.80" x2="59.90" y2="194.80"/>
<line x1="427.70" y1="194.80" x2="423.70" y2="194.80"/>
<line x1="55.90" y1="245.10" x2="59.90" y2="245.10"/>
<line x1="427.70" y1="245.10" x2="423.70" y2="245.10"/>
<rect x="55.90" y="43.90" width="371.80" height="219.40" fill="none"/><line x1="55.90" y1="324.40" x2="55.90" y2="328.40"/>
<line x1="55.90" y1="543.80" x2="55.90" y2="539.80"/>
<line x1="117.87" y1="324.40" x2="117.87" y2="328.40"/>
<line x1="117.87" y1="543.80" x2="117.87" y2="539.80"/>
<line x1="179.83" y1="324.40" x2="179.83" y2="328.40"/>
<line x1="179.83" y1="543.80" x2="179.83" y2="539.80"/>
<line x1="241.80" y1="324.40" x2="241.80" y2="328.40"/>
<line x1="241.80" y1="543.80" x2="241.80" y2="539.80"/>
<line x1="303.77" y1="324.40" x2="303.77" y2="328.40"/>
<line x1="303.77" y1="543.80" x2="303.77" y2="539.80"/>
<line x1="365.73" y1="324.40" x2="365.73" y2="328.40"/>
<line x1="365.73" y1="543.80" x2="365.73" y2="539.80"/>
<line x1="427.70" y1="324.40" x2="427.70" y2="328.40"/>
<line x1="427.70" y1="543.80" x2="427.70" y2="539.80"/>
<line x1="55.90" y1="324.40" x2="59.90" y2="324.40"/>
<line x1="427.70" y1="324.40" x2="423.70" y2="324.40"/>
<line x1="55.90" y1="374.70" x2="59.90" y2="374.70"/>
<line x1="427.70" y1="374.70" x2="423.70" y2="374.70"/>
<line x1="55.90" y1="425.00" x2="59.90" y2="425.00"/>
<line x1="427.70" y1="425.00" x2="423.70" y2="425.00"/>
<line x1="55.90" y1="475.30" x2="59.90" y2="475.30"/>
<line x1="427.70" y1="475.30" x2="423.70" y2="475.30"/>
<line x1="55.90" y1="525.60" x2="59.90" y2="525.60"/>
<line x1="427.70" y1="525.60" x2="423.70" y2="525.60"/>
<rect x="55.90" y="324.40" width="371.80" height="219.40" fill="none"/></g><line x1="174.4" y1="43.9" x2="174.4" y2="263.3" stroke="#777" stroke-width="1"/><rect x="442.0" y="43.6" width="15.0" height="220.00000000000003" fill="url(#gA)" stroke="#333" stroke-width="1"/>
<line x1="457.0" y1="43.60" x2="454.00" y2="43.60" stroke="#333"/>
<line x1="457.0" y1="98.60" x2="454.00" y2="98.60" stroke="#333"/>
<line x1="457.0" y1="153.60" x2="454.00" y2="153.60" stroke="#333"/>
<line x1="457.0" y1="208.60" x2="454.00" y2="208.60" stroke="#333"/>
<line x1="457.0" y1="263.60" x2="454.00" y2="263.60" stroke="#333"/><rect x="441.5" y="324.0" width="14.0" height="220.0" fill="url(#gB)" stroke="#333" stroke-width="1"/><line x1="455.5" y1="507.05" x2="452.5" y2="507.05" stroke="#333"/>
<line x1="455.5" y1="468.90" x2="452.5" y2="468.90" stroke="#333"/>
<line x1="455.5" y1="430.75" x2="452.5" y2="430.75" stroke="#333"/>
<line x1="455.5" y1="392.60" x2="452.5" y2="392.60" stroke="#333"/>
<line x1="455.5" y1="354.45" x2="452.5" y2="354.45" stroke="#333"/><g fill="#1a1a1a" font-family='"Liberation Serif", "Times New Roman", serif'><text x="6.30" y="22.70" font-size="23.5" text-anchor="start" font-weight="bold" >(a)</text>
<text x="241.80" y="18.60" font-size="16" text-anchor="middle" font-weight="normal" >CDP</text>
<text x="51.80" y="37.00" font-size="14.5" text-anchor="middle" font-weight="normal" >1</text>
<text x="117.27" y="37.00" font-size="14.5" text-anchor="middle" font-weight="normal" >151</text>
<text x="179.23" y="37.00" font-size="14.5" text-anchor="middle" font-weight="normal" >301</text>
<text x="241.20" y="37.00" font-size="14.5" text-anchor="middle" font-weight="normal" >451</text>
<text x="303.17" y="37.00" font-size="14.5" text-anchor="middle" font-weight="normal" >601</text>
<text x="365.13" y="37.00" font-size="14.5" text-anchor="middle" font-weight="normal" >751</text>
<text x="427.10" y="37.00" font-size="14.5" text-anchor="middle" font-weight="normal" >901</text>
<text x="43.90" y="48.90" font-size="14.5" text-anchor="end" font-weight="normal" >3</text>
<text x="51.00" y="99.10" font-size="14.5" text-anchor="end" font-weight="normal" >3.1</text>
<text x="51.00" y="149.40" font-size="14.5" text-anchor="end" font-weight="normal" >3.2</text>
<text x="51.00" y="199.70" font-size="14.5" text-anchor="end" font-weight="normal" >3.3</text>
<text x="51.00" y="250.00" font-size="14.5" text-anchor="end" font-weight="normal" >3.4</text>
<text x="0" y="0" font-size="16" text-anchor="middle" transform="translate(27.8,154.60) rotate(-90)">Time (s)</text><text x="4.60" y="303.20" font-size="23.5" text-anchor="start" font-weight="bold" >(b)</text>
<text x="241.80" y="299.10" font-size="16" text-anchor="middle" font-weight="normal" >CDP</text>
<text x="51.80" y="317.50" font-size="14.5" text-anchor="middle" font-weight="normal" >1</text>
<text x="117.27" y="317.50" font-size="14.5" text-anchor="middle" font-weight="normal" >151</text>
<text x="179.23" y="317.50" font-size="14.5" text-anchor="middle" font-weight="normal" >301</text>
<text x="241.20" y="317.50" font-size="14.5" text-anchor="middle" font-weight="normal" >451</text>
<text x="303.17" y="317.50" font-size="14.5" text-anchor="middle" font-weight="normal" >601</text>
<text x="365.13" y="317.50" font-size="14.5" text-anchor="middle" font-weight="normal" >751</text>
<text x="427.10" y="317.50" font-size="14.5" text-anchor="middle" font-weight="normal" >901</text>
<text x="43.90" y="329.40" font-size="14.5" text-anchor="end" font-weight="normal" >3</text>
<text x="51.00" y="379.60" font-size="14.5" text-anchor="end" font-weight="normal" >3.1</text>
<text x="51.00" y="429.90" font-size="14.5" text-anchor="end" font-weight="normal" >3.2</text>
<text x="51.00" y="480.20" font-size="14.5" text-anchor="end" font-weight="normal" >3.3</text>
<text x="51.00" y="530.50" font-size="14.5" text-anchor="end" font-weight="normal" >3.4</text>
<text x="0" y="0" font-size="16" text-anchor="middle" transform="translate(27.8,435.10) rotate(-90)">Time (s)</text><text x="476.50" y="48.50" font-size="14.5" text-anchor="start" font-weight="normal" >5</text>
<text x="476.50" y="103.50" font-size="14.5" text-anchor="start" font-weight="normal" >2.5</text>
<text x="476.50" y="158.50" font-size="14.5" text-anchor="start" font-weight="normal" >0</text>
<text x="463.50" y="213.50" font-size="14.5" text-anchor="start" font-weight="normal" >&#8722;2.5</text>
<text x="470.50" y="268.50" font-size="14.5" text-anchor="start" font-weight="normal" >&#8722;5</text>
<text x="444.90" y="41.00" font-size="14.5" text-anchor="start" font-weight="normal" >&#215;</text>
<text x="455.60" y="39.60" font-size="13" text-anchor="start" font-weight="normal" >10</text>
<text x="468.90" y="33.30" font-size="9.5" text-anchor="start" font-weight="normal" >3</text><text x="463.50" y="511.95" font-size="14.5" text-anchor="start" font-weight="normal" >7</text>
<text x="463.50" y="473.80" font-size="14.5" text-anchor="start" font-weight="normal" >8</text>
<text x="463.50" y="435.65" font-size="14.5" text-anchor="start" font-weight="normal" >9</text>
<text x="463.50" y="397.50" font-size="14.5" text-anchor="start" font-weight="normal" >10</text>
<text x="463.50" y="359.35" font-size="14.5" text-anchor="start" font-weight="normal" >11</text>
<text x="0" y="0" font-size="14.8" text-anchor="middle" transform="translate(505.4,436.8) rotate(-90)">Impedance (g/cm<tspan dx="1.5" dy="-6" font-size="10.5">3</tspan><tspan dy="6"> · km/s)</tspan></text></g></svg>
</body></html>
